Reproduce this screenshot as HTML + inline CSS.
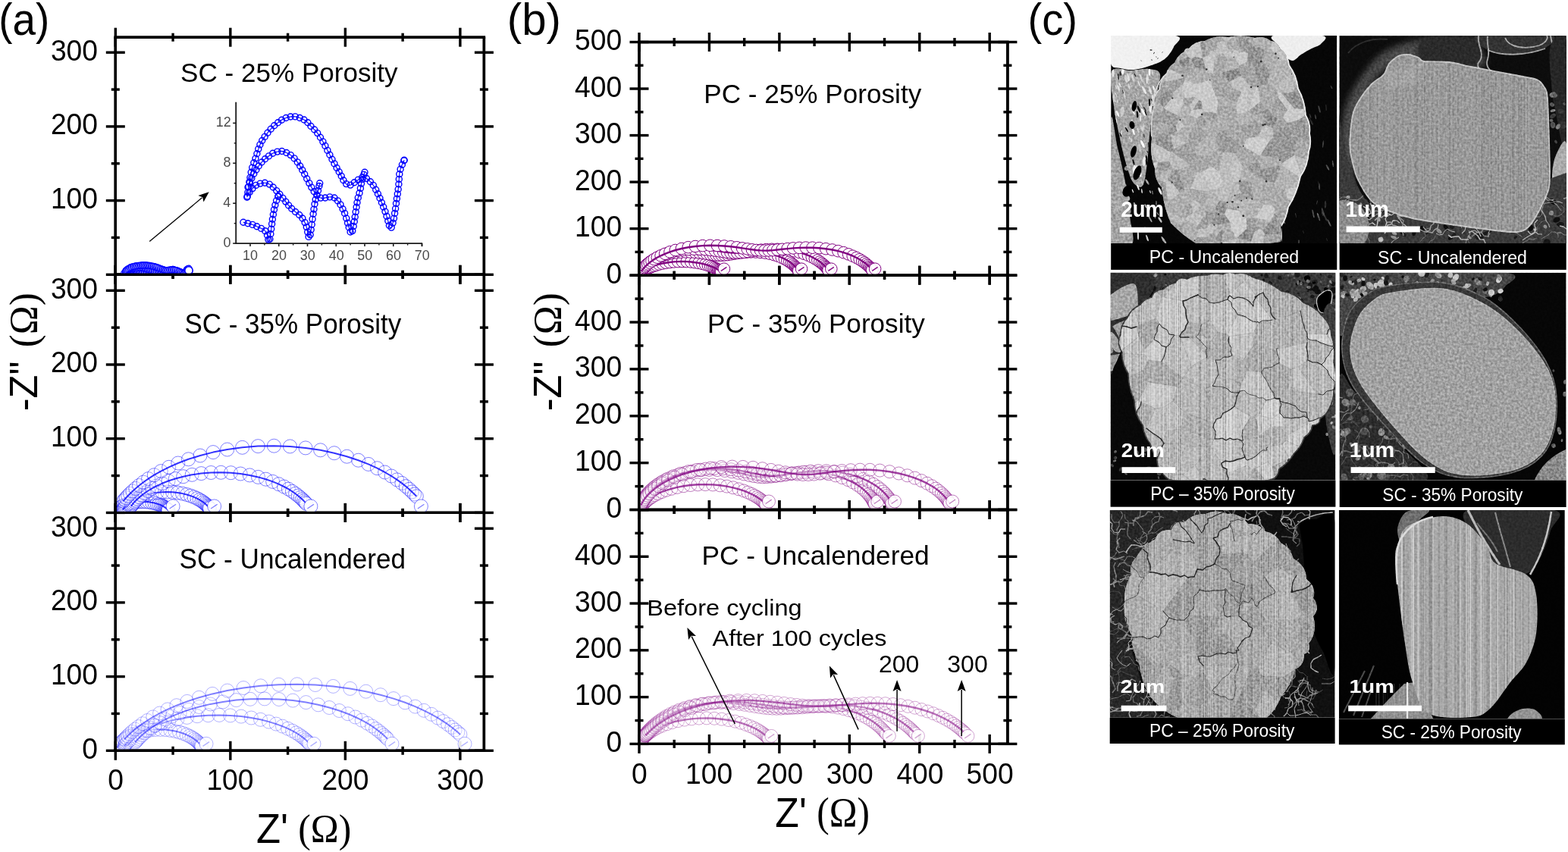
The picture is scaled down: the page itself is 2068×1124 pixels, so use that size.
<!DOCTYPE html><html><head><meta charset="utf-8"><title>Figure</title><style>html,body{margin:0;padding:0;background:#fff;}body{width:2068px;height:1124px;overflow:hidden;}svg{display:block;}</style></head><body>
<svg width="2068" height="1124" viewBox="0 0 2068 1124">
<rect width="100%" height="100%" fill="#fff"/>
<defs><filter id="bl1" x="-2%" y="-2%" width="104%" height="104%"><feGaussianBlur stdDeviation="1.1"/></filter><filter id="bl2" x="-2%" y="-2%" width="104%" height="104%"><feGaussianBlur stdDeviation="0.6"/></filter><filter id="bl3" x="-5%" y="-5%" width="110%" height="110%"><feGaussianBlur stdDeviation="2.2"/></filter><filter id="bl4" x="-10%" y="-10%" width="120%" height="120%"><feGaussianBlur stdDeviation="4"/></filter><filter id="nz" x="0" y="0" width="100%" height="100%" color-interpolation-filters="sRGB"><feTurbulence type="fractalNoise" baseFrequency="0.32" numOctaves="2" seed="3"/><feColorMatrix type="matrix" values="1.3 0 0 0 -0.15  1.3 0 0 0 -0.15  1.3 0 0 0 -0.15  0 0 0 0 1"/></filter></defs>
<clipPath id="c1"><path d="M1465.2,46.9H1763.3V321.0H1465.2Z"/></clipPath>
<g clip-path="url(#c1)"><rect x="1465.2" y="46.9" width="298.0999999999999" height="274.1" fill="#060606"/>
<path d="M1465.0,160.0C1466.5,138.8 1470.8,181.7 1474.0,195.0C1477.2,208.3 1481.3,225.0 1484.0,240.0C1486.7,255.0 1488.5,271.3 1490.0,285.0C1491.5,298.7 1497.2,315.8 1493.0,322.0C1488.8,328.2 1469.7,349.0 1465.0,322.0C1460.3,295.0 1463.5,181.2 1465.0,160.0Z" fill="#a2a2a2"/>
<ellipse cx="1486" cy="261" rx="4.9" ry="3.6" fill="#a9a9a9" transform="rotate(43 1486 261)"/><ellipse cx="1468" cy="284" rx="2.4" ry="1.7" fill="#8e8e8e" transform="rotate(94 1468 284)"/><ellipse cx="1467" cy="276" rx="4.0" ry="3.2" fill="#a2a2a2" transform="rotate(79 1467 276)"/><ellipse cx="1481" cy="246" rx="5.3" ry="4.9" fill="#a7a7a7" transform="rotate(84 1481 246)"/><ellipse cx="1474" cy="275" rx="4.3" ry="3.8" fill="#adadad" transform="rotate(129 1474 275)"/><ellipse cx="1473" cy="226" rx="2.2" ry="2.0" fill="#959595" transform="rotate(59 1473 226)"/><ellipse cx="1474" cy="267" rx="5.5" ry="3.5" fill="#adadad" transform="rotate(130 1474 267)"/><ellipse cx="1486" cy="222" rx="3.2" ry="3.0" fill="#898989" transform="rotate(114 1486 222)"/><ellipse cx="1477" cy="314" rx="4.8" ry="4.3" fill="#a5a5a5" transform="rotate(162 1477 314)"/><ellipse cx="1487" cy="280" rx="5.8" ry="4.0" fill="#898989" transform="rotate(130 1487 280)"/>
<clipPath id="c2"><path d="M1466.0,94.0C1469.8,86.2 1483.8,93.5 1492.0,93.0C1500.2,92.5 1508.7,90.2 1515.0,91.0C1521.3,91.8 1528.5,91.5 1530.0,98.0C1531.5,104.5 1526.2,118.0 1524.0,130.0C1521.8,142.0 1518.8,155.8 1517.0,170.0C1515.2,184.2 1514.7,202.5 1513.0,215.0C1511.3,227.5 1510.2,240.8 1507.0,245.0C1503.8,249.2 1497.8,245.5 1494.0,240.0C1490.2,234.5 1487.0,222.3 1484.0,212.0C1481.0,201.7 1478.5,190.0 1476.0,178.0C1473.5,166.0 1470.7,154.0 1469.0,140.0C1467.3,126.0 1462.2,101.8 1466.0,94.0Z"/></clipPath>
<g clip-path="url(#c2)"><rect x="1465" y="88" width="70" height="165" fill="#a4a4a4"/><g filter="url(#bl2)"><ellipse cx="1476" cy="118" rx="4.5" ry="1.3" fill="#c5c5c5" transform="rotate(89 1476 118)"/><ellipse cx="1517" cy="240" rx="3.2" ry="0.7" fill="#ededed" transform="rotate(72 1517 240)"/><ellipse cx="1471" cy="156" rx="4.0" ry="1.4" fill="#e6e6e6" transform="rotate(70 1471 156)"/><ellipse cx="1513" cy="104" rx="6.3" ry="1.7" fill="#dcdcdc" transform="rotate(93 1513 104)"/><ellipse cx="1525" cy="232" rx="3.3" ry="0.6" fill="#dbdbdb" transform="rotate(67 1525 232)"/><ellipse cx="1523" cy="119" rx="5.8" ry="1.2" fill="#c9c9c9" transform="rotate(61 1523 119)"/><ellipse cx="1474" cy="150" rx="4.4" ry="1.4" fill="#f2f2f2" transform="rotate(66 1474 150)"/><ellipse cx="1490" cy="221" rx="2.5" ry="0.7" fill="#cdcdcd" transform="rotate(80 1490 221)"/><ellipse cx="1480" cy="209" rx="6.2" ry="1.5" fill="#dbdbdb" transform="rotate(91 1480 209)"/><ellipse cx="1469" cy="130" rx="5.4" ry="1.7" fill="#cdcdcd" transform="rotate(90 1469 130)"/><ellipse cx="1502" cy="110" rx="3.7" ry="0.7" fill="#ededed" transform="rotate(72 1502 110)"/><ellipse cx="1509" cy="119" rx="5.8" ry="1.6" fill="#e9e9e9" transform="rotate(62 1509 119)"/><ellipse cx="1468" cy="96" rx="5.4" ry="1.5" fill="#e7e7e7" transform="rotate(90 1468 96)"/><ellipse cx="1508" cy="190" rx="3.2" ry="0.8" fill="#c4c4c4" transform="rotate(77 1508 190)"/><ellipse cx="1483" cy="126" rx="5.2" ry="0.9" fill="#d8d8d8" transform="rotate(78 1483 126)"/><ellipse cx="1498" cy="115" rx="2.5" ry="0.6" fill="#bfbfbf" transform="rotate(77 1498 115)"/><ellipse cx="1490" cy="101" rx="5.7" ry="1.1" fill="#c3c3c3" transform="rotate(93 1490 101)"/><ellipse cx="1516" cy="215" rx="2.4" ry="0.7" fill="#e6e6e6" transform="rotate(91 1516 215)"/><ellipse cx="1517" cy="143" rx="5.3" ry="1.5" fill="#ededed" transform="rotate(87 1517 143)"/><ellipse cx="1503" cy="227" rx="6.4" ry="1.9" fill="#fdfdfd" transform="rotate(76 1503 227)"/><ellipse cx="1499" cy="223" rx="5.5" ry="1.1" fill="#ededed" transform="rotate(93 1499 223)"/><ellipse cx="1471" cy="158" rx="4.5" ry="1.4" fill="#fafafa" transform="rotate(64 1471 158)"/><ellipse cx="1479" cy="175" rx="3.5" ry="0.8" fill="#dfdfdf" transform="rotate(98 1479 175)"/><ellipse cx="1522" cy="155" rx="3.7" ry="1.1" fill="#dfdfdf" transform="rotate(62 1522 155)"/><ellipse cx="1488" cy="102" rx="5.3" ry="1.2" fill="#e5e5e5" transform="rotate(83 1488 102)"/><ellipse cx="1480" cy="147" rx="6.9" ry="2.4" fill="#cdcdcd" transform="rotate(97 1480 147)"/><ellipse cx="1508" cy="148" rx="5.8" ry="1.6" fill="#f6f6f6" transform="rotate(62 1508 148)"/><ellipse cx="1517" cy="210" rx="2.8" ry="0.9" fill="#c4c4c4" transform="rotate(82 1517 210)"/><ellipse cx="1498" cy="125" rx="2.9" ry="0.5" fill="#dedede" transform="rotate(60 1498 125)"/><ellipse cx="1480" cy="134" rx="2.5" ry="0.5" fill="#c4c4c4" transform="rotate(60 1480 134)"/><ellipse cx="1506" cy="240" rx="2.4" ry="0.7" fill="#d1d1d1" transform="rotate(79 1506 240)"/><ellipse cx="1476" cy="104" rx="3.3" ry="0.7" fill="#c2c2c2" transform="rotate(74 1476 104)"/><ellipse cx="1521" cy="136" rx="3.3" ry="0.7" fill="#e3e3e3" transform="rotate(64 1521 136)"/><ellipse cx="1500" cy="103" rx="2.1" ry="0.7" fill="#d5d5d5" transform="rotate(90 1500 103)"/><ellipse cx="1525" cy="222" rx="6.3" ry="1.6" fill="#fbfbfb" transform="rotate(84 1525 222)"/><ellipse cx="1479" cy="213" rx="5.2" ry="1.8" fill="#cccccc" transform="rotate(86 1479 213)"/><ellipse cx="1505" cy="103" rx="5.8" ry="1.3" fill="#d3d3d3" transform="rotate(67 1505 103)"/><ellipse cx="1506" cy="179" rx="2.0" ry="0.6" fill="#e0e0e0" transform="rotate(79 1506 179)"/><ellipse cx="1496" cy="224" rx="6.5" ry="2.1" fill="#f1f1f1" transform="rotate(95 1496 224)"/><ellipse cx="1494" cy="102" rx="4.0" ry="0.9" fill="#f5f5f5" transform="rotate(80 1494 102)"/><ellipse cx="1471" cy="203" rx="2.8" ry="0.9" fill="#e3e3e3" transform="rotate(86 1471 203)"/><ellipse cx="1516" cy="216" rx="4.4" ry="1.0" fill="#d5d5d5" transform="rotate(87 1516 216)"/><ellipse cx="1471" cy="190" rx="3.3" ry="0.9" fill="#cfcfcf" transform="rotate(71 1471 190)"/><ellipse cx="1497" cy="144" rx="2.9" ry="1.0" fill="#dddddd" transform="rotate(61 1497 144)"/><ellipse cx="1509" cy="213" rx="6.3" ry="2.1" fill="#e8e8e8" transform="rotate(94 1509 213)"/><ellipse cx="1517" cy="119" rx="5.6" ry="1.5" fill="#d8d8d8" transform="rotate(70 1517 119)"/><ellipse cx="1516" cy="95" rx="4.8" ry="1.4" fill="#fefefe" transform="rotate(91 1516 95)"/><ellipse cx="1468" cy="154" rx="6.6" ry="1.8" fill="#fcfcfc" transform="rotate(64 1468 154)"/><ellipse cx="1489" cy="114" rx="4.1" ry="1.2" fill="#dbdbdb" transform="rotate(75 1489 114)"/><ellipse cx="1495" cy="148" rx="3.9" ry="1.2" fill="#eeeeee" transform="rotate(66 1495 148)"/><ellipse cx="1476" cy="209" rx="3.2" ry="0.8" fill="#d4d4d4" transform="rotate(75 1476 209)"/><ellipse cx="1503" cy="226" rx="5.0" ry="1.1" fill="#f2f2f2" transform="rotate(67 1503 226)"/><ellipse cx="1499" cy="92" rx="5.8" ry="1.9" fill="#c0c0c0" transform="rotate(79 1499 92)"/><ellipse cx="1507" cy="190" rx="5.5" ry="1.5" fill="#ffffff" transform="rotate(64 1507 190)"/><ellipse cx="1470" cy="150" rx="4.9" ry="1.4" fill="#d4d4d4" transform="rotate(71 1470 150)"/><ellipse cx="1491" cy="141" rx="2.9" ry="0.8" fill="#d9d9d9" transform="rotate(96 1491 141)"/><ellipse cx="1504" cy="156" rx="4.6" ry="1.0" fill="#e1e1e1" transform="rotate(89 1504 156)"/><ellipse cx="1474" cy="134" rx="2.1" ry="0.5" fill="#ececec" transform="rotate(95 1474 134)"/><ellipse cx="1522" cy="117" rx="4.2" ry="1.0" fill="#f8f8f8" transform="rotate(71 1522 117)"/><ellipse cx="1493" cy="162" rx="5.3" ry="1.6" fill="#c6c6c6" transform="rotate(86 1493 162)"/><ellipse cx="1494" cy="103" rx="4.9" ry="1.6" fill="#d2d2d2" transform="rotate(66 1494 103)"/><ellipse cx="1473" cy="111" rx="3.7" ry="0.7" fill="#c5c5c5" transform="rotate(96 1473 111)"/><ellipse cx="1476" cy="203" rx="6.7" ry="2.1" fill="#d3d3d3" transform="rotate(83 1476 203)"/><ellipse cx="1520" cy="128" rx="3.3" ry="0.9" fill="#ececec" transform="rotate(86 1520 128)"/><ellipse cx="1475" cy="116" rx="4.3" ry="1.1" fill="#e1e1e1" transform="rotate(70 1475 116)"/><ellipse cx="1505" cy="139" rx="4.0" ry="0.9" fill="#cecece" transform="rotate(63 1505 139)"/><ellipse cx="1523" cy="120" rx="3.2" ry="1.0" fill="#dfdfdf" transform="rotate(67 1523 120)"/><ellipse cx="1470" cy="132" rx="3.5" ry="0.9" fill="#d1d1d1" transform="rotate(61 1470 132)"/><ellipse cx="1495" cy="174" rx="4.3" ry="1.1" fill="#fdfdfd" transform="rotate(73 1495 174)"/><ellipse cx="1472" cy="115" rx="3.0" ry="0.6" fill="#e0e0e0" transform="rotate(65 1472 115)"/><ellipse cx="1490" cy="182" rx="2.1" ry="0.5" fill="#eaeaea" transform="rotate(71 1490 182)"/><ellipse cx="1527" cy="138" rx="4.4" ry="1.3" fill="#dcdcdc" transform="rotate(74 1527 138)"/><ellipse cx="1526" cy="240" rx="3.2" ry="0.9" fill="#cdcdcd" transform="rotate(94 1526 240)"/><ellipse cx="1506" cy="168" rx="2.5" ry="0.7" fill="#d6d6d6" transform="rotate(64 1506 168)"/><ellipse cx="1506" cy="170" rx="4.7" ry="1.5" fill="#cfcfcf" transform="rotate(63 1506 170)"/><ellipse cx="1509" cy="109" rx="3.3" ry="0.8" fill="#cccccc" transform="rotate(84 1509 109)"/><ellipse cx="1477" cy="112" rx="3.6" ry="0.7" fill="#ebebeb" transform="rotate(65 1477 112)"/><ellipse cx="1485" cy="104" rx="5.1" ry="1.8" fill="#cfcfcf" transform="rotate(76 1485 104)"/><ellipse cx="1469" cy="245" rx="4.6" ry="1.3" fill="#f8f8f8" transform="rotate(82 1469 245)"/><ellipse cx="1481" cy="93" rx="5.2" ry="1.7" fill="#fbfbfb" transform="rotate(96 1481 93)"/><ellipse cx="1503" cy="149" rx="6.7" ry="1.2" fill="#d1d1d1" transform="rotate(61 1503 149)"/><ellipse cx="1503" cy="195" rx="5.2" ry="1.5" fill="#c0c0c0" transform="rotate(85 1503 195)"/><ellipse cx="1508" cy="167" rx="4.8" ry="1.5" fill="#c8c8c8" transform="rotate(90 1508 167)"/><ellipse cx="1520" cy="96" rx="4.0" ry="1.1" fill="#d1d1d1" transform="rotate(81 1520 96)"/><ellipse cx="1472" cy="125" rx="3.9" ry="0.7" fill="#dbdbdb" transform="rotate(67 1472 125)"/><ellipse cx="1501" cy="172" rx="3.8" ry="1.0" fill="#d3d3d3" transform="rotate(71 1501 172)"/><ellipse cx="1515" cy="106" rx="3.2" ry="0.6" fill="#d2d2d2" transform="rotate(81 1515 106)"/><ellipse cx="1492" cy="185" rx="3.0" ry="0.7" fill="#e0e0e0" transform="rotate(98 1492 185)"/><ellipse cx="1530" cy="201" rx="6.7" ry="1.9" fill="#e0e0e0" transform="rotate(77 1530 201)"/><ellipse cx="1518" cy="203" rx="6.4" ry="1.2" fill="#eaeaea" transform="rotate(81 1518 203)"/><ellipse cx="1473" cy="221" rx="4.3" ry="0.7" fill="#141414" transform="rotate(58 1473 221)"/><ellipse cx="1519" cy="132" rx="2.6" ry="0.7" fill="#212121" transform="rotate(57 1519 132)"/><ellipse cx="1528" cy="213" rx="4.9" ry="1.1" fill="#202020" transform="rotate(63 1528 213)"/><ellipse cx="1529" cy="209" rx="1.9" ry="0.4" fill="#1e1e1e" transform="rotate(64 1529 209)"/><ellipse cx="1478" cy="97" rx="3.2" ry="0.7" fill="#161616" transform="rotate(74 1478 97)"/><ellipse cx="1509" cy="179" rx="2.9" ry="0.4" fill="#0a0a0a" transform="rotate(84 1509 179)"/><ellipse cx="1472" cy="213" rx="2.1" ry="0.6" fill="#262626" transform="rotate(70 1472 213)"/><ellipse cx="1529" cy="242" rx="4.3" ry="0.8" fill="#151515" transform="rotate(84 1529 242)"/><ellipse cx="1511" cy="149" rx="3.5" ry="0.8" fill="#101010" transform="rotate(71 1511 149)"/><ellipse cx="1510" cy="144" rx="3.2" ry="0.7" fill="#1d1d1d" transform="rotate(63 1510 144)"/><ellipse cx="1512" cy="208" rx="3.3" ry="0.9" fill="#050505" transform="rotate(78 1512 208)"/><ellipse cx="1481" cy="212" rx="3.6" ry="1.0" fill="#212121" transform="rotate(57 1481 212)"/><ellipse cx="1497" cy="99" rx="2.8" ry="0.7" fill="#212121" transform="rotate(68 1497 99)"/><ellipse cx="1502" cy="144" rx="5.0" ry="1.5" fill="#171717" transform="rotate(68 1502 144)"/><ellipse cx="1478" cy="178" rx="3.4" ry="0.7" fill="#080808" transform="rotate(67 1478 178)"/><ellipse cx="1466" cy="197" rx="3.5" ry="0.8" fill="#111111" transform="rotate(67 1466 197)"/><ellipse cx="1515" cy="203" rx="4.6" ry="0.8" fill="#232323" transform="rotate(59 1515 203)"/><ellipse cx="1500" cy="151" rx="4.4" ry="1.2" fill="#090909" transform="rotate(84 1500 151)"/><ellipse cx="1492" cy="234" rx="1.6" ry="0.4" fill="#1f1f1f" transform="rotate(90 1492 234)"/><ellipse cx="1512" cy="217" rx="1.9" ry="0.4" fill="#181818" transform="rotate(67 1512 217)"/><ellipse cx="1495" cy="214" rx="3.8" ry="1.1" fill="#0c0c0c" transform="rotate(75 1495 214)"/><ellipse cx="1477" cy="98" rx="2.9" ry="0.6" fill="#212121" transform="rotate(90 1477 98)"/><ellipse cx="1516" cy="134" rx="3.1" ry="0.7" fill="#0b0b0b" transform="rotate(88 1516 134)"/><ellipse cx="1521" cy="144" rx="4.3" ry="1.1" fill="#101010" transform="rotate(79 1521 144)"/><ellipse cx="1475" cy="101" rx="4.3" ry="0.7" fill="#0c0c0c" transform="rotate(82 1475 101)"/><ellipse cx="1516" cy="135" rx="5.0" ry="1.0" fill="#0c0c0c" transform="rotate(87 1516 135)"/><ellipse cx="1486" cy="171" rx="3.8" ry="0.8" fill="#040404" transform="rotate(60 1486 171)"/><ellipse cx="1515" cy="191" rx="3.4" ry="0.7" fill="#030303" transform="rotate(87 1515 191)"/><ellipse cx="1481" cy="121" rx="2.5" ry="0.5" fill="#141414" transform="rotate(77 1481 121)"/><ellipse cx="1512" cy="214" rx="3.9" ry="1.1" fill="#111111" transform="rotate(84 1512 214)"/></g></g>
<g fill="#050505" filter="url(#bl2)"><ellipse cx="1496" cy="140" rx="3" ry="7" transform="rotate(10 1496 140)"/><ellipse cx="1493" cy="165" rx="3.5" ry="5" transform="rotate(-10 1493 165)"/><ellipse cx="1495" cy="200" rx="3.5" ry="8" transform="rotate(15 1495 200)"/><ellipse cx="1500" cy="228" rx="4.5" ry="10" transform="rotate(20 1500 228)"/><ellipse cx="1487" cy="252" rx="6" ry="8" transform="rotate(30 1487 252)"/></g>
<g filter="url(#bl2)"><ellipse cx="1494" cy="252" rx="2.6" ry="0.7" fill="#f0f0f0" transform="rotate(68 1494 252)"/><ellipse cx="1517" cy="253" rx="2.2" ry="0.7" fill="#cdcdcd" transform="rotate(70 1517 253)"/><ellipse cx="1506" cy="252" rx="3.1" ry="0.9" fill="#dedede" transform="rotate(83 1506 252)"/><ellipse cx="1501" cy="311" rx="5.4" ry="1.1" fill="#dadada" transform="rotate(89 1501 311)"/><ellipse cx="1501" cy="247" rx="4.0" ry="1.1" fill="#eeeeee" transform="rotate(70 1501 247)"/><ellipse cx="1530" cy="252" rx="5.2" ry="1.5" fill="#f0f0f0" transform="rotate(65 1530 252)"/><ellipse cx="1535" cy="317" rx="5.9" ry="1.4" fill="#b2b2b2" transform="rotate(56 1535 317)"/><ellipse cx="1497" cy="272" rx="5.2" ry="1.4" fill="#a8a8a8" transform="rotate(73 1497 272)"/><ellipse cx="1507" cy="277" rx="2.1" ry="0.7" fill="#d5d5d5" transform="rotate(54 1507 277)"/><ellipse cx="1511" cy="303" rx="3.7" ry="1.0" fill="#aeaeae" transform="rotate(73 1511 303)"/><ellipse cx="1527" cy="282" rx="2.6" ry="0.5" fill="#adadad" transform="rotate(55 1527 282)"/><ellipse cx="1516" cy="274" rx="3.7" ry="0.7" fill="#bfbfbf" transform="rotate(90 1516 274)"/><ellipse cx="1513" cy="240" rx="4.3" ry="1.2" fill="#a1a1a1" transform="rotate(57 1513 240)"/><ellipse cx="1513" cy="314" rx="4.4" ry="1.1" fill="#cccccc" transform="rotate(70 1513 314)"/><ellipse cx="1511" cy="272" rx="2.9" ry="0.9" fill="#c0c0c0" transform="rotate(66 1511 272)"/><ellipse cx="1517" cy="289" rx="4.7" ry="1.0" fill="#a4a4a4" transform="rotate(61 1517 289)"/><ellipse cx="1541" cy="273" rx="5.1" ry="1.6" fill="#969696" transform="rotate(79 1541 273)"/><ellipse cx="1530" cy="290" rx="4.2" ry="1.3" fill="#c6c6c6" transform="rotate(58 1530 290)"/><ellipse cx="1520" cy="254" rx="2.5" ry="0.6" fill="#a4a4a4" transform="rotate(83 1520 254)"/><ellipse cx="1523" cy="286" rx="2.4" ry="0.5" fill="#b7b7b7" transform="rotate(62 1523 286)"/><ellipse cx="1525" cy="268" rx="3.2" ry="0.6" fill="#999999" transform="rotate(89 1525 268)"/><ellipse cx="1534" cy="317" rx="2.0" ry="0.5" fill="#bbbbbb" transform="rotate(67 1534 317)"/></g>
<path d="M1518,150 C1520,120 1530,100 1548,90" fill="none" stroke="#d8d8d8" stroke-width="1.5"/>
<path d="M1465.0,47.0C1479.2,40.8 1536.2,44.5 1550.0,47.0C1563.8,49.5 1550.3,56.8 1548.0,62.0C1545.7,67.2 1541.3,73.8 1536.0,78.0C1530.7,82.2 1522.8,84.7 1516.0,87.0C1509.2,89.3 1501.3,91.5 1495.0,92.0C1488.7,92.5 1483.0,91.3 1478.0,90.0C1473.0,88.7 1467.2,91.2 1465.0,84.0C1462.8,76.8 1450.8,53.2 1465.0,47.0Z" fill="#f1f1f1"/>
<ellipse cx="1525" cy="75" rx="1.1" ry="0.4" fill="#5d5d5d" transform="rotate(68 1525 75)"/><ellipse cx="1518" cy="66" rx="1.7" ry="0.9" fill="#4e4e4e" transform="rotate(12 1518 66)"/><ellipse cx="1519" cy="79" rx="1.1" ry="0.5" fill="#3b3b3b" transform="rotate(66 1519 79)"/><ellipse cx="1522" cy="70" rx="1.6" ry="0.6" fill="#2c2c2c" transform="rotate(126 1522 70)"/><ellipse cx="1533" cy="69" rx="1.1" ry="0.5" fill="#626262" transform="rotate(129 1533 69)"/><ellipse cx="1527" cy="77" rx="1.3" ry="0.5" fill="#484848" transform="rotate(126 1527 77)"/><ellipse cx="1505" cy="80" rx="1.0" ry="0.3" fill="#444444" transform="rotate(45 1505 80)"/>
<path d="M1680.0,47.0C1689.7,44.8 1733.7,45.2 1744.0,47.0C1754.3,48.8 1744.3,55.2 1742.0,58.0C1739.7,60.8 1734.3,61.7 1730.0,64.0C1725.7,66.3 1720.2,69.3 1716.0,72.0C1711.8,74.7 1708.5,79.7 1705.0,80.0C1701.5,80.3 1698.2,77.3 1695.0,74.0C1691.8,70.7 1688.5,64.5 1686.0,60.0C1683.5,55.5 1670.3,49.2 1680.0,47.0Z" fill="#eeeeee"/>
<g filter="url(#bl2)"><ellipse cx="1750" cy="316" rx="2.4" ry="0.5" fill="#2d2d2d" transform="rotate(76 1750 316)"/><ellipse cx="1758" cy="216" rx="4.4" ry="0.9" fill="#484848" transform="rotate(82 1758 216)"/><ellipse cx="1735" cy="154" rx="3.3" ry="0.8" fill="#3c3c3c" transform="rotate(78 1735 154)"/><ellipse cx="1748" cy="270" rx="4.9" ry="1.2" fill="#363636" transform="rotate(92 1748 270)"/><ellipse cx="1740" cy="144" rx="4.9" ry="1.0" fill="#434343" transform="rotate(75 1740 144)"/><ellipse cx="1740" cy="246" rx="4.4" ry="1.0" fill="#434343" transform="rotate(86 1740 246)"/><ellipse cx="1739" cy="242" rx="2.9" ry="0.5" fill="#2b2b2b" transform="rotate(82 1739 242)"/><ellipse cx="1748" cy="287" rx="5.4" ry="1.1" fill="#303030" transform="rotate(66 1748 287)"/><ellipse cx="1751" cy="221" rx="4.2" ry="1.1" fill="#4f4f4f" transform="rotate(61 1751 221)"/><ellipse cx="1745" cy="190" rx="4.9" ry="0.9" fill="#424242" transform="rotate(97 1745 190)"/><ellipse cx="1756" cy="115" rx="2.6" ry="0.7" fill="#484848" transform="rotate(64 1756 115)"/><ellipse cx="1728" cy="153" rx="3.1" ry="0.9" fill="#2e2e2e" transform="rotate(72 1728 153)"/><ellipse cx="1729" cy="160" rx="5.5" ry="1.3" fill="#272727" transform="rotate(61 1729 160)"/><ellipse cx="1737" cy="267" rx="2.8" ry="0.4" fill="#535353" transform="rotate(100 1737 267)"/><ellipse cx="1749" cy="142" rx="4.3" ry="0.8" fill="#252525" transform="rotate(86 1749 142)"/><ellipse cx="1753" cy="294" rx="5.2" ry="1.0" fill="#535353" transform="rotate(63 1753 294)"/><ellipse cx="1744" cy="277" rx="2.5" ry="0.5" fill="#3a3a3a" transform="rotate(89 1744 277)"/><ellipse cx="1709" cy="284" rx="3.3" ry="0.5" fill="#363636" transform="rotate(75 1709 284)"/><ellipse cx="1744" cy="282" rx="3.2" ry="0.5" fill="#4a4a4a" transform="rotate(79 1744 282)"/><ellipse cx="1719" cy="306" rx="2.2" ry="0.4" fill="#383838" transform="rotate(67 1719 306)"/><ellipse cx="1696" cy="275" rx="4.8" ry="1.0" fill="#3a3a3a" transform="rotate(85 1696 275)"/><ellipse cx="1713" cy="319" rx="2.8" ry="0.6" fill="#676767" transform="rotate(90 1713 319)"/><ellipse cx="1739" cy="286" rx="5.6" ry="1.1" fill="#5b5b5b" transform="rotate(72 1739 286)"/><ellipse cx="1732" cy="282" rx="5.5" ry="0.9" fill="#636363" transform="rotate(78 1732 282)"/><ellipse cx="1693" cy="292" rx="3.9" ry="1.0" fill="#666666" transform="rotate(60 1693 292)"/><ellipse cx="1745" cy="280" rx="5.9" ry="1.2" fill="#4a4a4a" transform="rotate(73 1745 280)"/></g>
<clipPath id="c3"><path d="M1568,64Q1576,54 1589,54Q1603,46 1620,49Q1638,45 1655,50Q1667,47 1676,54Q1684,54 1688,64Q1698,70 1700,86Q1710,99 1712,117Q1721,133 1722,152Q1729,164 1727,176Q1730,189 1726,200Q1725,219 1715,233Q1710,257 1699,273Q1696,290 1689,299Q1691,314 1689,319Q1639,326 1588,327Q1564,315 1544,294Q1535,274 1532,247Q1523,238 1523,222Q1516,204 1519,183Q1517,161 1522,140Q1520,127 1529,118Q1530,105 1539,97Q1541,87 1549,83Q1553,73 1562,68Q1563,63 1568,64Z"/></clipPath>
<g clip-path="url(#c3)"><rect x="1510" y="42" width="227" height="285" fill="#acacac"/><g filter="url(#bl2)"><path d="M1629,263 1629,258 1636,254 1644,261 1637,265Z" fill="#a3a3a3"/><path d="M1626,75 1618,77 1612,70 1616,59 1625,70Z" fill="#c1c1c1"/><path d="M1650,319 1631,314 1631,314 1644,302 1655,305Z" fill="#8e8e8e"/><path d="M1678,271 1667,270 1659,264 1670,239 1682,241 1687,249Z" fill="#acacac"/><path d="M1614,95 1633,90 1637,100 1621,108 1612,96Z" fill="#8c8c8c"/><path d="M1533,110 1521,121 1526,131 1537,119Z" fill="#a6a6a6"/><path d="M1646,70 1645,81 1635,87 1627,75 1635,70 1640,68Z" fill="#c8c8c8"/><path d="M1719,64 1719,102 1755,93 1719,64Z" fill="#8c8c8c"/><path d="M1720,242 1741,252 1745,238 1742,235 1722,234 1719,238 1719,240Z" fill="#909090"/><path d="M1636,166 1630,158 1614,173 1638,194 1640,193 1644,183 1644,181Z" fill="#a9a9a9"/><path d="M1637,265 1644,261 1651,263 1640,285 1638,285 1634,278 1633,274 1633,273Z" fill="#b9b9b9"/><path d="M1527,299 1529,318 1539,294 1534,287Z" fill="#a8a8a8"/><path d="M1710,185 1707,205 1691,215 1688,211 1692,186 1705,183Z" fill="#979797"/><path d="M1547,318 1562,327 1564,325 1573,317 1560,310Z" fill="#a0a0a0"/><path d="M1524,96 1520,95 1515,99 1514,106 1516,108 1525,102 1525,98Z" fill="#a1a1a1"/><path d="M1544,178 1554,180 1553,176 1552,173 1543,177Z" fill="#a6a6a6"/><path d="M1546,221 1547,222 1555,224 1571,218 1545,200 1544,201 1542,213Z" fill="#bbbbbb"/><path d="M1603,301 1610,304 1606,310 1603,311 1600,307Z" fill="#b7b7b7"/><path d="M1705,121 1716,103 1703,98 1680,113 1685,121 1689,122 1700,123Z" fill="#bababa"/><path d="M1496,253 1511,258 1517,269 1509,272 1493,254Z" fill="#bbbbbb"/><path d="M1526,18 1533,57 1548,35 1525,4Z" fill="#bababa"/><path d="M1629,263 1629,258 1622,254 1619,267 1626,266 1629,263Z" fill="#afafaf"/><path d="M1573,145 1581,132 1585,134 1586,144Z" fill="#919191"/><path d="M1660,331 1657,341 1635,332 1630,329 1631,315 1631,314 1650,319Z" fill="#b0b0b0"/><path d="M1719,144 1721,147 1733,142 1739,122 1724,123 1720,132Z" fill="#c7c7c7"/><path d="M1702,304 1705,304 1706,319 1690,335 1683,327 1689,310Z" fill="#969696"/><path d="M1629,263 1626,266 1631,273 1633,274 1633,273Z" fill="#b9b9b9"/><path d="M1655,288 1644,288 1640,285 1651,263 1653,262 1659,264 1667,270 1655,288Z" fill="#b3b3b3"/><path d="M1552,173 1551,165 1556,158 1561,166 1553,176Z" fill="#c5c5c5"/><path d="M1637,121 1646,117 1645,147 1633,151 1630,143 1631,136Z" fill="#c7c7c7"/><path d="M1610,126 1604,127 1607,136 1630,143 1631,136Z" fill="#afafaf"/><path d="M1595,308 1593,313 1578,313 1581,302 1590,302Z" fill="#bfbfbf"/><path d="M1698,81 1703,98 1680,113 1672,111 1675,93 1686,77Z" fill="#b3b3b3"/><path d="M1533,60 1533,57 1548,35 1556,37 1538,57Z" fill="#919191"/><path d="M1638,43 1616,-27 1652,-366 1665,-35 1659,-6 1645,37Z" fill="#c7c7c7"/><path d="M1528,177 1522,189 1544,201 1545,200 1549,196 1546,189Z" fill="#949494"/><path d="M1602,160 1607,175 1614,173 1630,158 1630,157 1605,152Z" fill="#aeaeae"/><path d="M1675,293 1688,309 1689,310 1702,304 1681,281 1676,291Z" fill="#9b9b9b"/><path d="M1598,161 1585,151 1587,147 1604,149 1605,152 1602,160Z" fill="#9d9d9d"/><path d="M1647,146 1657,114 1659,114 1662,134Z" fill="#cccccc"/><path d="M1700,123 1689,122 1707,143 1708,143Z" fill="#959595"/><path d="M1631,314 1631,315 1611,321 1611,313 1616,304 1623,301 1631,314Z" fill="#ababab"/><path d="M1507,201 1494,203 1502,186 1509,184 1520,190 1520,190Z" fill="#c6c6c6"/><path d="M1569,250 1562,250 1556,254 1552,258 1567,270 1571,267 1574,264Z" fill="#b1b1b1"/><path d="M1652,43 1645,37 1659,-6 1659,45 1659,45Z" fill="#c0c0c0"/><path d="M1560,91 1560,100 1541,90 1539,86 1540,72 1554,80Z" fill="#a7a7a7"/><path d="M1660,212 1644,221 1639,219 1631,208 1630,202 1638,194 1640,193 1661,205Z" fill="#a9a9a9"/><path d="M1568,54 1538,57 1533,60 1533,60 1540,71 1564,69Z" fill="#c2c2c2"/><path d="M1604,149 1607,136 1604,127 1603,126 1585,134 1586,144 1587,147Z" fill="#c9c9c9"/><path d="M1502,82 1512,84 1516,79 1523,66 1474,74Z" fill="#a1a1a1"/><path d="M1733,142 1748,140 1742,157 1732,161 1731,160 1722,150 1721,147Z" fill="#989898"/><path d="M1510,141 1478,154 1460,149 1498,130 1514,137Z" fill="#a7a7a7"/><path d="M1717,103 1719,102 1755,93 1760,94 1783,101 1739,122 1724,123Z" fill="#9e9e9e"/><path d="M1548,262 1540,264 1537,266 1534,272 1534,276 1563,290 1563,290 1565,286 1563,279Z" fill="#afafaf"/><path d="M1574,195 1593,179 1603,181 1608,199 1596,204 1578,205Z" fill="#b4b4b4"/><path d="M1543,177 1540,175 1548,166 1551,165 1552,173Z" fill="#8f8f8f"/><path d="M1631,208 1621,227 1626,240 1633,240 1635,239 1639,219Z" fill="#c4c4c4"/><path d="M1573,218 1579,227 1583,228 1598,220 1596,204 1578,205Z" fill="#a7a7a7"/><path d="M1474,74 1523,66 1527,61 1505,51 -236,-303 1435,69Z" fill="#cbcbcb"/><path d="M1598,294 1598,291 1590,286 1587,286 1579,298 1581,302 1590,302Z" fill="#a1a1a1"/><path d="M1570,249 1579,227 1573,218 1571,218 1555,224 1556,232 1562,250 1569,250Z" fill="#aaaaaa"/><path d="M1576,128 1576,129 1581,132 1585,134 1603,126 1596,105 1578,111Z" fill="#cacaca"/><path d="M1563,129 1560,131 1546,129 1547,122 1547,122 1560,111Z" fill="#bdbdbd"/><path d="M1515,117 1509,118 1501,107 1504,100 1514,106 1516,108Z" fill="#a7a7a7"/><path d="M1603,274 1609,264 1618,267 1619,274 1618,275 1615,283 1607,282 1606,280Z" fill="#949494"/><path d="M1680,28 1677,40 1678,55 1691,52 1697,40Z" fill="#a9a9a9"/><path d="M1603,311 1606,310 1611,313 1611,321 1610,322 1603,314Z" fill="#959595"/><path d="M1513,232 1514,238 1525,241 1530,238 1530,229 1529,228Z" fill="#aeaeae"/><path d="M1719,64 1755,93 1760,94 1743,57 1730,53 1719,59Z" fill="#b6b6b6"/><path d="M1508,221 1507,218 1510,213 1521,204 1526,213Z" fill="#a6a6a6"/><path d="M1707,143 1698,145 1686,129 1685,121 1689,122Z" fill="#c9c9c9"/><path d="M1706,169 1702,174 1705,183 1710,185 1713,184 1715,163Z" fill="#9d9d9d"/><path d="M1660,331 1650,319 1655,305 1661,302 1665,303 1668,309 1665,328Z" fill="#c0c0c0"/><path d="M1521,121 1526,131 1526,133 1515,137 1514,137 1498,130 1505,121 1509,118 1515,117Z" fill="#9f9f9f"/><path d="M1713,184 1720,184 1729,189 1728,212 1707,205 1707,205 1710,185Z" fill="#a9a9a9"/><path d="M1599,98 1600,97 1612,96 1621,108 1626,117 1610,126 1604,127 1603,126 1596,105Z" fill="#a7a7a7"/><path d="M1560,91 1571,78 1567,75 1554,80Z" fill="#8d8d8d"/><path d="M1603,274 1591,270 1590,279 1606,280Z" fill="#adadad"/><path d="M1679,181 1692,186 1705,183 1702,174 1697,167 1680,175Z" fill="#979797"/><path d="M1718,155 1722,150 1731,160 1720,184 1713,184 1715,163Z" fill="#9c9c9c"/><path d="M1668,164 1678,169 1680,175 1679,181 1675,185 1675,185 1660,180 1666,165Z" fill="#bfbfbf"/><path d="M1541,90 1539,86 1528,90 1524,96 1525,98 1537,98Z" fill="#c2c2c2"/><path d="M1636,48 1647,70 1646,70 1640,68 1628,50 1628,50 1629,48 1634,47Z" fill="#9a9a9a"/><path d="M1570,249 1579,227 1583,228 1595,237 1600,249 1594,253Z" fill="#c4c4c4"/><path d="M1631,314 1623,301 1623,294 1638,285 1640,285 1644,288 1644,302Z" fill="#cccccc"/><path d="M1659,264 1670,239 1660,233 1657,234 1650,240 1653,262Z" fill="#b0b0b0"/><path d="M1544,178 1546,189 1549,196 1565,189 1554,180Z" fill="#bfbfbf"/><path d="M1548,262 1563,279 1567,270 1552,258Z" fill="#acacac"/><path d="M1547,222 1555,224 1556,232 1546,241 1540,238Z" fill="#9b9b9b"/><path d="M1592,163 1598,161 1585,151 1585,152Z" fill="#b6b6b6"/><path d="M1584,269 1576,280 1587,286 1590,286 1590,279 1591,270 1589,268Z" fill="#b2b2b2"/><path d="M1741,271 1725,279 1725,296 1744,274 1741,271Z" fill="#cbcbcb"/><path d="M1510,213 1507,201 1520,190 1521,204Z" fill="#bcbcbc"/><path d="M1570,249 1594,253 1589,268 1584,269 1574,264 1569,250Z" fill="#a8a8a8"/><path d="M1589,327 1611,348 1573,688 1564,448 1571,364 1575,348 1581,328Z" fill="#acacac"/><path d="M1601,297 1623,294 1623,294 1623,301 1616,304 1610,304 1603,301Z" fill="#afafaf"/><path d="M1565,189 1566,189 1574,195 1578,205 1573,218 1571,218 1545,200 1549,196Z" fill="#a1a1a1"/><path d="M1606,280 1607,282 1598,291 1590,286 1590,279Z" fill="#9b9b9b"/><path d="M1628,50 1616,55 1614,54 1602,31 1612,7 1629,48Z" fill="#bdbdbd"/><path d="M1510,227 1509,226 1508,221 1526,213 1527,214 1526,221Z" fill="#cacaca"/><path d="M1568,54 1538,57 1556,37 1565,34 1569,54Z" fill="#c9c9c9"/><path d="M1571,267 1567,270 1563,279 1565,286 1573,281Z" fill="#a0a0a0"/><path d="M1680,175 1697,167 1697,162 1692,155 1685,156 1678,169Z" fill="#a3a3a3"/><path d="M1508,95 1503,99 1501,98 1502,82 1512,84 1512,85Z" fill="#9a9a9a"/><path d="M1548,262 1540,264 1537,241 1540,238 1546,241 1556,254 1552,258Z" fill="#c4c4c4"/><path d="M1589,327 1611,348 1612,345 1608,326 1595,323Z" fill="#bababa"/><path d="M1739,262 1742,252 1741,252 1720,242 1725,261 1727,264Z" fill="#8c8c8c"/><path d="M1646,70 1645,81 1653,87 1663,81 1669,65 1661,62 1656,63 1647,70Z" fill="#939393"/><path d="M1540,108 1547,122 1547,122 1537,119 1533,110 1533,109 1537,107Z" fill="#a5a5a5"/><path d="M1628,50 1629,65 1625,70 1616,59 1616,55 1628,50Z" fill="#adadad"/><path d="M1609,225 1621,227 1626,240 1618,246 1613,246Z" fill="#bdbdbd"/><path d="M1525,241 1525,244 1518,252 1511,243 1514,238Z" fill="#a3a3a3"/><path d="M1537,98 1525,98 1525,102 1533,109 1537,107Z" fill="#b5b5b5"/><path d="M1636,48 1648,55 1656,63 1647,70Z" fill="#959595"/><path d="M1668,164 1666,165 1657,162 1656,158 1656,153 1664,149 1669,161Z" fill="#afafaf"/><path d="M1563,129 1560,131 1561,137 1569,140 1576,129 1576,128Z" fill="#a2a2a2"/><path d="M1511,149 1513,148 1532,148 1528,158 1505,154Z" fill="#a1a1a1"/><path d="M1580,168 1569,176 1561,166 1556,158 1557,156 1569,152 1578,156Z" fill="#b0b0b0"/><path d="M1505,154 1493,158 1503,166 1527,166 1528,161 1528,158Z" fill="#9d9d9d"/><path d="M1668,309 1688,309 1675,293 1665,303Z" fill="#8f8f8f"/><path d="M1593,313 1578,313 1576,317 1581,328 1589,327 1595,323 1596,317Z" fill="#a0a0a0"/><path d="M1710,159 1706,169 1715,163 1718,155Z" fill="#919191"/><path d="M1639,219 1635,239 1650,240 1657,234 1644,221Z" fill="#b1b1b1"/><path d="M1741,271 1725,279 1724,275 1727,269Z" fill="#b2b2b2"/><path d="M1662,134 1668,144 1674,145 1678,141 1686,129 1685,121 1680,113 1672,111 1660,113 1659,114Z" fill="#ababab"/><path d="M1595,308 1593,313 1596,317 1603,314 1603,311 1600,307Z" fill="#a3a3a3"/><path d="M1718,57 1714,47 1710,42 1697,40 1691,52 1700,57Z" fill="#c3c3c3"/><path d="M1656,158 1636,166 1630,158 1630,157 1633,151 1645,147 1646,147 1656,153Z" fill="#b5b5b5"/><path d="M1709,269 1713,269 1724,275 1725,279 1725,296 1724,299 1714,300 1704,276Z" fill="#9d9d9d"/><path d="M1744,169 1770,169 1793,165 1742,157 1732,161 1738,168Z" fill="#9b9b9b"/><path d="M1676,291 1681,281 1681,275 1680,273 1678,271 1667,270 1655,288Z" fill="#cbcbcb"/><path d="M1618,267 1619,274 1631,273 1626,266 1619,267Z" fill="#b5b5b5"/><path d="M1511,149 1510,141 1478,154 1493,158 1505,154Z" fill="#c9c9c9"/><path d="M1501,287 1509,272 1517,269 1534,272 1534,276 1533,277 1525,282Z" fill="#cbcbcb"/><path d="M1598,294 1590,302 1595,308 1600,307 1603,301 1601,297Z" fill="#c1c1c1"/><path d="M1638,194 1614,173 1607,175 1603,181 1608,199 1613,201 1630,202Z" fill="#9c9c9c"/><path d="M1513,232 1514,238 1511,243 1496,253 1493,254 1451,252 1509,226 1510,227Z" fill="#cccccc"/><path d="M1606,225 1598,220 1583,228 1595,237Z" fill="#cbcbcb"/><path d="M1580,168 1578,156 1585,152 1592,163 1584,169Z" fill="#a1a1a1"/><path d="M1680,273 1678,271 1687,249 1695,249 1699,264Z" fill="#ababab"/><path d="M1644,261 1651,263 1653,262 1650,240 1635,239 1633,240 1636,254Z" fill="#9b9b9b"/><path d="M1680,28 1665,-35 1659,-6 1659,45 1677,40Z" fill="#c9c9c9"/><path d="M1636,48 1648,55 1652,43 1645,37 1638,43 1634,47Z" fill="#9f9f9f"/><path d="M1636,254 1633,240 1626,240 1618,246 1622,254 1629,258Z" fill="#bababa"/><path d="M1616,304 1611,313 1606,310 1610,304Z" fill="#939393"/><path d="M1618,275 1615,283 1623,294 1623,294 1638,285 1634,278Z" fill="#cccccc"/><path d="M1534,282 1555,296 1560,295 1563,290 1534,276 1533,277Z" fill="#b9b9b9"/><path d="M1653,87 1660,113 1672,111 1675,93 1663,81Z" fill="#969696"/><path d="M1581,328 1575,348 1564,325 1573,317 1576,317Z" fill="#a2a2a2"/><path d="M1530,259 1519,254 1511,258 1517,269 1534,272 1537,266Z" fill="#c6c6c6"/><path d="M1709,267 1710,247 1719,240 1720,242 1725,261 1713,269 1709,269Z" fill="#979797"/><path d="M1619,274 1618,275 1634,278 1633,274 1631,273Z" fill="#a4a4a4"/><path d="M1710,159 1697,162 1697,167 1702,174 1706,169Z" fill="#9e9e9e"/><path d="M1708,143 1707,143 1698,145 1696,148 1692,155 1697,162 1710,159 1718,155 1722,150 1721,147 1719,144Z" fill="#cbcbcb"/><path d="M1533,60 1533,57 1526,18 1505,51 1527,61 1533,60Z" fill="#c3c3c3"/><path d="M1744,169 1745,181 1736,187 1736,187 1738,168Z" fill="#a5a5a5"/><path d="M1719,64 1719,102 1717,103 1716,103 1703,98 1698,81Z" fill="#acacac"/><path d="M1542,319 1538,322 1529,320 1529,318 1539,294 1544,298Z" fill="#b3b3b3"/><path d="M1537,119 1526,131 1526,133 1535,142 1546,129 1547,122Z" fill="#949494"/><path d="M1627,75 1626,75 1618,77 1614,95 1633,90 1635,87Z" fill="#b1b1b1"/><path d="M1660,233 1670,239 1682,241 1690,218 1663,223Z" fill="#979797"/><path d="M1580,168 1569,176 1566,189 1574,195 1593,179 1584,169Z" fill="#a3a3a3"/><path d="M1596,66 1603,69 1606,72 1602,81 1594,73Z" fill="#c2c2c2"/><path d="M1586,77 1586,77 1583,56 1581,56 1576,75Z" fill="#c4c4c4"/><path d="M1596,317 1595,323 1608,326 1610,322 1603,314Z" fill="#a5a5a5"/><path d="M1659,45 1659,45 1677,40 1678,55 1675,64 1669,65 1661,62Z" fill="#b1b1b1"/><path d="M1598,294 1598,291 1607,282 1615,283 1623,294 1601,297Z" fill="#929292"/><path d="M1605,152 1630,157 1633,151 1630,143 1607,136 1604,149Z" fill="#a9a9a9"/><path d="M1561,137 1554,153 1535,143 1535,142 1546,129 1560,131Z" fill="#c8c8c8"/><path d="M1525,244 1518,252 1519,254 1530,259Z" fill="#b7b7b7"/><path d="M1532,148 1535,143 1554,153 1557,156 1556,158 1551,165 1548,166 1528,161 1528,158Z" fill="#9d9d9d"/><path d="M1618,267 1609,264 1602,250 1613,246 1618,246 1622,254 1619,267Z" fill="#bebebe"/><path d="M1527,214 1526,213 1521,204 1520,190 1520,190 1522,189 1544,201 1542,213Z" fill="#c3c3c3"/><path d="M1560,100 1541,90 1537,98 1537,107 1540,108 1561,103Z" fill="#c2c2c2"/><path d="M1660,212 1663,223 1660,233 1657,234 1644,221Z" fill="#9c9c9c"/><path d="M1634,47 1638,43 1616,-27 1612,7 1629,48Z" fill="#8d8d8d"/><path d="M1681,275 1681,281 1702,304 1705,304 1714,300 1704,276Z" fill="#a7a7a7"/><path d="M1675,185 1685,209 1662,205 1675,185Z" fill="#979797"/><path d="M1591,92 1599,98 1600,97 1602,81 1594,73 1589,75 1586,77 1586,77Z" fill="#c8c8c8"/><path d="M1696,148 1678,141 1686,129 1698,145Z" fill="#9e9e9e"/><path d="M1727,269 1724,275 1713,269 1725,261 1727,264Z" fill="#adadad"/><path d="M1560,295 1560,310 1547,318 1542,319 1544,298 1555,296Z" fill="#a5a5a5"/><path d="M1584,169 1593,179 1603,181 1607,175 1602,160 1598,161 1592,163Z" fill="#afafaf"/><path d="M1576,280 1587,286 1579,298 1563,290 1565,286 1573,281Z" fill="#bfbfbf"/><path d="M1709,267 1710,247 1695,249 1699,264Z" fill="#c6c6c6"/><path d="M1542,319 1538,322 1539,324 1560,332 1562,327 1547,318Z" fill="#c3c3c3"/><path d="M1515,99 1514,106 1504,100 1503,99 1508,95Z" fill="#9b9b9b"/><path d="M1532,148 1535,143 1535,142 1526,133 1515,137 1513,148Z" fill="#afafaf"/><path d="M1660,212 1663,223 1690,218 1690,218 1691,215 1688,211 1685,209 1662,205 1661,205Z" fill="#afafaf"/><path d="M1530,229 1530,238 1537,241 1540,238 1547,222 1546,221Z" fill="#b8b8b8"/><path d="M1666,165 1660,180 1644,183 1644,181 1657,162Z" fill="#a2a2a2"/><path d="M1594,253 1600,249 1602,250 1609,264 1603,274 1591,270 1589,268Z" fill="#b5b5b5"/><path d="M1553,176 1561,166 1569,176 1566,189 1565,189 1554,180Z" fill="#b2b2b2"/><path d="M1707,205 1719,237 1690,218 1691,215 1707,205Z" fill="#cbcbcb"/><path d="M1574,264 1571,267 1573,281 1576,280 1584,269Z" fill="#c2c2c2"/><path d="M1661,302 1655,288 1655,288 1676,291 1675,293 1665,303Z" fill="#adadad"/><path d="M1602,250 1613,246 1609,225 1608,225 1606,225 1595,237 1600,249Z" fill="#c8c8c8"/><path d="M1705,121 1716,103 1717,103 1724,123 1720,132Z" fill="#9e9e9e"/><path d="M1608,225 1613,201 1608,199 1596,204 1598,220 1606,225Z" fill="#ababab"/><path d="M1590,56 1590,56 1588,54 1583,56 1586,77 1589,75Z" fill="#9b9b9b"/><path d="M1511,149 1510,141 1514,137 1515,137 1513,148Z" fill="#b7b7b7"/><path d="M1544,178 1546,189 1528,177 1529,176 1540,175 1543,177Z" fill="#9a9a9a"/><path d="M1561,137 1554,153 1557,156 1569,152 1571,146 1569,140Z" fill="#b3b3b3"/><path d="M1497,303 1516,297 1525,282 1501,287 1486,299Z" fill="#b1b1b1"/><path d="M1524,96 1520,95 1512,85 1512,84 1516,79 1528,90Z" fill="#b2b2b2"/><path d="M1560,91 1560,100 1561,103 1562,104 1577,89 1571,78 1571,78Z" fill="#a2a2a2"/><path d="M1739,122 1783,101 1829,108 1748,140 1733,142Z" fill="#bdbdbd"/><path d="M1529,228 1530,229 1546,221 1542,213 1527,214 1526,221Z" fill="#9b9b9b"/><path d="M1606,56 1614,54 1602,31 1591,39 1588,54 1590,56Z" fill="#a7a7a7"/><path d="M1515,99 1508,95 1512,85 1520,95Z" fill="#a4a4a4"/><path d="M1629,65 1625,70 1626,75 1627,75 1635,70Z" fill="#cacaca"/><path d="M1581,302 1578,313 1576,317 1573,317 1560,310 1560,295 1563,290 1563,290 1579,298Z" fill="#afafaf"/><path d="M1591,92 1577,89 1571,78 1576,75 1586,77Z" fill="#8f8f8f"/><path d="M1719,59 1730,53 1742,37 1728,32 1714,47 1718,57Z" fill="#999999"/><path d="M1569,54 1565,34 1565,34 1583,36 1591,39 1588,54 1583,56 1581,56Z" fill="#c4c4c4"/><path d="M1655,305 1644,302 1644,288 1655,288 1661,302Z" fill="#9e9e9e"/><path d="M1700,57 1691,52 1678,55 1675,64 1682,71Z" fill="#c5c5c5"/><path d="M1669,161 1678,152 1674,145 1668,144 1664,149Z" fill="#949494"/><path d="M1519,254 1511,258 1496,253 1511,243 1518,252Z" fill="#a5a5a5"/><path d="M1596,66 1590,56 1590,56 1606,56 1603,69Z" fill="#a7a7a7"/><path d="M1540,71 1533,60 1527,61 1523,66 1516,79 1528,90 1539,86 1540,72Z" fill="#a8a8a8"/><path d="M1525,282 1533,277 1534,282 1534,287 1527,299 1516,297Z" fill="#c2c2c2"/><path d="M1626,117 1637,121 1631,136 1610,126Z" fill="#a3a3a3"/><path d="M1675,185 1685,209 1688,211 1692,186 1679,181Z" fill="#989898"/><path d="M1529,176 1527,166 1503,166 1509,184 1520,190 1522,189 1528,177Z" fill="#a9a9a9"/><path d="M1647,146 1646,147 1645,147 1646,117 1650,115 1657,114Z" fill="#bebebe"/><path d="M1556,232 1562,250 1556,254 1546,241Z" fill="#929292"/><path d="M1705,121 1720,132 1719,144 1708,143 1700,123Z" fill="#909090"/><path d="M1628,50 1629,65 1635,70 1640,68Z" fill="#adadad"/><path d="M1695,249 1710,247 1719,240 1719,238 1719,237 1690,218 1690,218 1682,241 1687,249Z" fill="#b3b3b3"/><path d="M1530,238 1537,241 1540,264 1537,266 1530,259 1525,244 1525,241Z" fill="#9d9d9d"/><path d="M1637,100 1650,115 1646,117 1637,121 1626,117 1621,108Z" fill="#c0c0c0"/><path d="M1563,129 1560,111 1563,105 1578,111 1576,128Z" fill="#cacaca"/><path d="M1629,263 1637,265 1633,273 1629,263Z" fill="#bcbcbc"/><path d="M1575,348 1564,325 1562,327 1560,332 1571,364Z" fill="#a8a8a8"/><path d="M1722,234 1732,217 1728,212 1707,205 1719,237 1719,238Z" fill="#bcbcbc"/><path d="M1719,64 1698,81 1686,77 1682,71 1700,57 1718,57 1719,59 1719,64Z" fill="#c1c1c1"/><path d="M1554,80 1540,72 1540,71 1564,69 1567,75Z" fill="#afafaf"/><path d="M1709,267 1699,264 1680,273 1681,275 1704,276 1709,269Z" fill="#a8a8a8"/><path d="M1682,71 1675,64 1669,65 1663,81 1675,93 1686,77Z" fill="#aeaeae"/><path d="M1562,104 1563,105 1560,111 1547,122 1540,108 1561,103Z" fill="#a0a0a0"/><path d="M1513,232 1529,228 1526,221 1510,227Z" fill="#aeaeae"/><path d="M1738,168 1732,161 1731,160 1720,184 1729,189 1736,187Z" fill="#9a9a9a"/><path d="M1736,187 1729,189 1728,212 1732,217 1756,213 1768,210 1736,187Z" fill="#bdbdbd"/><path d="M1497,303 1522,321 1529,320 1529,318 1527,299 1516,297Z" fill="#949494"/><path d="M1668,164 1678,169 1685,156 1678,152 1669,161Z" fill="#8e8e8e"/><path d="M1591,92 1599,98 1596,105 1578,111 1563,105 1562,104 1577,89Z" fill="#afafaf"/><path d="M1680,28 1665,-35 1652,-366 1660,-705 1713,-16 1710,42 1697,40Z" fill="#bfbfbf"/><path d="M1585,152 1585,151 1587,147 1586,144 1573,145 1571,146 1569,152 1578,156Z" fill="#c7c7c7"/><path d="M1657,162 1644,181 1636,166 1656,158Z" fill="#a0a0a0"/><path d="M1606,72 1612,70 1618,77 1614,95 1612,96 1600,97 1602,81Z" fill="#a8a8a8"/><path d="M1656,153 1646,147 1647,146 1662,134 1668,144 1664,149Z" fill="#a0a0a0"/><path d="M1665,328 1683,327 1689,310 1688,309 1668,309Z" fill="#a5a5a5"/><path d="M1533,110 1521,121 1515,117 1516,108 1525,102 1533,109Z" fill="#9f9f9f"/><path d="M1576,129 1581,132 1573,145 1571,146 1569,140Z" fill="#c6c6c6"/><path d="M1713,-16 1710,42 1714,47 1728,32Z" fill="#a9a9a9"/><path d="M1534,282 1555,296 1544,298 1539,294 1534,287Z" fill="#acacac"/><path d="M1635,87 1633,90 1637,100 1650,115 1657,114 1659,114 1660,113 1653,87 1645,81Z" fill="#a4a4a4"/><path d="M1685,156 1692,155 1696,148 1678,141 1674,145 1678,152Z" fill="#a9a9a9"/><path d="M1675,185 1662,205 1661,205 1640,193 1644,183 1660,180Z" fill="#cdcdcd"/><path d="M1741,271 1727,269 1727,264 1739,262 1741,271Z" fill="#a0a0a0"/><path d="M1608,225 1613,201 1630,202 1631,208 1621,227 1609,225Z" fill="#bcbcbc"/><path d="M1631,315 1611,321 1610,322 1608,326 1612,345 1630,329Z" fill="#c3c3c3"/><path d="M1571,78 1571,78 1576,75 1581,56 1569,54 1568,54 1564,69 1567,75Z" fill="#c7c7c7"/><path d="M1529,176 1527,166 1528,161 1548,166 1540,175Z" fill="#acacac"/><path d="M1603,69 1606,56 1614,54 1616,55 1616,59 1612,70 1606,72Z" fill="#c0c0c0"/><path d="M1652,43 1648,55 1656,63 1661,62 1659,45Z" fill="#b2b2b2"/><path d="M1596,66 1590,56 1589,75 1594,73Z" fill="#a7a7a7"/><path d="M1742,235 1756,213 1732,217 1722,234Z" fill="#a5a5a5"/><path d="M1571,364 1564,448 1539,324 1560,332Z" fill="#909090"/><circle cx="1703.3" cy="97.8" r="0.8" fill="#333"/><circle cx="1517.3" cy="269.3" r="0.8" fill="#333"/><circle cx="1595.7" cy="105.5" r="0.8" fill="#333"/><circle cx="1633.0" cy="273.4" r="1.2" fill="#333"/><circle cx="1723.9" cy="122.9" r="0.9" fill="#333"/><circle cx="1627.2" cy="75.2" r="0.8" fill="#333"/><circle cx="1686.3" cy="76.6" r="0.9" fill="#333"/><circle cx="1532.6" cy="56.8" r="1.2" fill="#333"/><circle cx="1530.2" cy="259.4" r="1.3" fill="#333"/><circle cx="1601.3" cy="296.8" r="1.0" fill="#333"/><circle cx="1639.8" cy="284.8" r="1.5" fill="#333"/><circle cx="1639.9" cy="192.7" r="0.9" fill="#333"/><circle cx="1618.7" cy="267.0" r="1.1" fill="#333"/><circle cx="1721.5" cy="146.6" r="1.3" fill="#333"/><circle cx="1585.1" cy="151.0" r="1.3" fill="#333"/><circle cx="1708.7" cy="266.6" r="1.0" fill="#333"/><circle cx="1718.7" cy="102.4" r="1.0" fill="#333"/><circle cx="1628.6" cy="257.8" r="1.0" fill="#333"/><circle cx="1559.5" cy="99.8" r="1.3" fill="#333"/><circle cx="1663.2" cy="80.8" r="1.5" fill="#333"/><circle cx="1575.6" cy="317.2" r="0.9" fill="#333"/><circle cx="1658.9" cy="114.0" r="1.2" fill="#333"/><circle cx="1687.8" cy="211.2" r="1.0" fill="#333"/><circle cx="1625.6" cy="266.3" r="1.4" fill="#333"/><circle cx="1556.5" cy="158.1" r="1.1" fill="#333"/><circle cx="1643.9" cy="261.4" r="0.9" fill="#333"/><circle cx="1591.4" cy="91.5" r="1.3" fill="#333"/><circle cx="1607.3" cy="282.4" r="1.2" fill="#333"/><circle cx="1682.4" cy="70.9" r="1.3" fill="#333"/><circle cx="1651.3" cy="262.5" r="1.0" fill="#333"/><circle cx="1546.4" cy="129.5" r="1.0" fill="#333"/><circle cx="1545.8" cy="240.6" r="1.1" fill="#333"/><circle cx="1635.3" cy="239.1" r="1.5" fill="#333"/><circle cx="1637.4" cy="264.7" r="1.0" fill="#333"/><circle cx="1665.7" cy="165.1" r="1.4" fill="#333"/><circle cx="1668.2" cy="164.2" r="1.3" fill="#333"/><circle cx="1611.1" cy="321.1" r="1.3" fill="#333"/><circle cx="1650.1" cy="115.0" r="1.2" fill="#333"/><circle cx="1724.6" cy="260.8" r="1.4" fill="#333"/><circle cx="1670.1" cy="239.3" r="1.2" fill="#333"/></g></g>
<clipPath id="c4"><path d="M1690,75H1740V322H1690Z"/></clipPath>
<path d="M1568,64Q1576,54 1589,54Q1603,46 1620,49Q1638,45 1655,50Q1667,47 1676,54Q1684,54 1688,64Q1698,70 1700,86Q1710,99 1712,117Q1721,133 1722,152Q1729,164 1727,176Q1730,189 1726,200Q1725,219 1715,233Q1710,257 1699,273Q1696,290 1689,299Q1691,314 1689,319Q1639,326 1588,327Q1564,315 1544,294Q1535,274 1532,247Q1523,238 1523,222Q1516,204 1519,183Q1517,161 1522,140Q1520,127 1529,118Q1530,105 1539,97Q1541,87 1549,83Q1553,73 1562,68Q1563,63 1568,64Z" fill="none" stroke="#efefef" stroke-width="1.8" clip-path="url(#c4)"/>
<clipPath id="c5"><path d="M1510,92H1545V180H1510Z"/></clipPath>
<path d="M1568,64Q1576,54 1589,54Q1603,46 1620,49Q1638,45 1655,50Q1667,47 1676,54Q1684,54 1688,64Q1698,70 1700,86Q1710,99 1712,117Q1721,133 1722,152Q1729,164 1727,176Q1730,189 1726,200Q1725,219 1715,233Q1710,257 1699,273Q1696,290 1689,299Q1691,314 1689,319Q1639,326 1588,327Q1564,315 1544,294Q1535,274 1532,247Q1523,238 1523,222Q1516,204 1519,183Q1517,161 1522,140Q1520,127 1529,118Q1530,105 1539,97Q1541,87 1549,83Q1553,73 1562,68Q1563,63 1568,64Z" fill="none" stroke="#d8d8d8" stroke-width="1.5" clip-path="url(#c5)"/>
<rect x="1465.2" y="46.9" width="298.1" height="274.1" filter="url(#nz)" opacity="0.42" style="mix-blend-mode:overlay"/>
</g>
<rect x="1465.2" y="321.0" width="298.0999999999999" height="34.89999999999998" fill="#000"/>
<text transform="translate(1515.68,347.26) scale(0.9493,1)" font-family="&quot;Liberation Sans&quot;, Arial, sans-serif" font-weight="normal" font-size="24.49" fill="#fff" >PC - Uncalendered</text>
<rect x="1476.7" y="299.8" width="56.09999999999991" height="7.0" fill="#fff"/>
<text transform="translate(1478.44,286.21) scale(0.9491,1)" font-family="&quot;Liberation Sans&quot;, Arial, sans-serif" font-weight="bold" font-size="28.98" fill="#fff" >2um</text>
<clipPath id="c6"><path d="M1766.6,47.2H2065.7V321.0H1766.6Z"/></clipPath>
<g clip-path="url(#c6)"><rect x="1766.6" y="47.2" width="299.0999999999999" height="273.8" fill="#0c0c0c"/>
<path d="M1800.0,95.0C1809.2,82.7 1816.7,73.2 1830.0,66.0C1843.3,58.8 1861.7,53.0 1880.0,52.0C1898.3,51.0 1926.7,55.3 1940.0,60.0C1953.3,64.7 1960.0,74.7 1960.0,80.0C1960.0,85.3 1953.3,92.0 1940.0,92.0C1926.7,92.0 1898.3,80.3 1880.0,80.0C1861.7,79.7 1842.5,83.3 1830.0,90.0C1817.5,96.7 1811.7,106.7 1805.0,120.0C1798.3,133.3 1793.3,151.7 1790.0,170.0C1786.7,188.3 1787.5,215.0 1785.0,230.0C1782.5,245.0 1777.8,265.0 1775.0,260.0C1772.2,255.0 1768.0,220.0 1768.0,200.0C1768.0,180.0 1769.7,157.5 1775.0,140.0C1780.3,122.5 1790.8,107.3 1800.0,95.0Z" fill="#4a4a4a" filter="url(#bl4)"/>
<path d="M1778,70 C1790,55 1810,50 1830,52" fill="none" stroke="#2a2a2a" stroke-width="2"/>
<path d="M1880.0,50.0C1892.5,45.0 1932.5,45.8 1945.0,50.0C1957.5,54.2 1955.8,68.3 1955.0,75.0C1954.2,81.7 1949.2,88.2 1940.0,90.0C1930.8,91.8 1911.7,87.7 1900.0,86.0C1888.3,84.3 1873.3,86.0 1870.0,80.0C1866.7,74.0 1867.5,55.0 1880.0,50.0Z" fill="#2c2c2c" filter="url(#bl3)"/>
<path d="M1948.0,47.0C1961.8,43.8 2029.7,44.5 2045.0,47.0C2060.3,49.5 2045.0,58.2 2040.0,62.0C2035.0,65.8 2024.2,68.3 2015.0,70.0C2005.8,71.7 1993.8,72.7 1985.0,72.0C1976.2,71.3 1968.2,70.2 1962.0,66.0C1955.8,61.8 1934.2,50.2 1948.0,47.0Z" fill="#333"/>
<g fill="none" stroke="#a8a8a8" stroke-width="1.8" filter="url(#bl2)"><path d="M1950,47 C1948,60 1958,70 1952,80 C1946,86 1950,92 1958,96"/><path d="M1962,48 C1960,58 1966,66 1962,78 C1958,88 1966,94 1972,98"/><path d="M1985,50 C1990,62 2010,66 2030,60 C2040,56 2042,50 2040,47"/><path d="M1962,66 C1980,74 2010,74 2038,64"/><path d="M2045,47 C2050,70 2052,90 2048,105"/></g>
<path d="M2045.0,60.0C2048.3,50.8 2062.5,31.7 2066.0,55.0C2069.5,78.3 2068.3,184.2 2066.0,200.0C2063.7,215.8 2055.3,165.0 2052.0,150.0C2048.7,135.0 2047.2,125.0 2046.0,110.0C2044.8,95.0 2041.7,69.2 2045.0,60.0Z" fill="#262626"/>
<g filter="url(#bl2)"><ellipse cx="2048" cy="153" rx="4.4" ry="2.8" fill="#3c3c3c" transform="rotate(147 2048 153)"/><ellipse cx="2052" cy="187" rx="2.6" ry="1.7" fill="#454545" transform="rotate(62 2052 187)"/><ellipse cx="2062" cy="165" rx="4.5" ry="3.5" fill="#4a4a4a" transform="rotate(45 2062 165)"/><ellipse cx="2063" cy="137" rx="2.0" ry="1.6" fill="#5c5c5c" transform="rotate(61 2063 137)"/><ellipse cx="2046" cy="159" rx="2.5" ry="2.0" fill="#676767" transform="rotate(1 2046 159)"/><ellipse cx="2055" cy="167" rx="4.0" ry="2.8" fill="#7a7a7a" transform="rotate(129 2055 167)"/><ellipse cx="2062" cy="165" rx="4.8" ry="4.4" fill="#343434" transform="rotate(103 2062 165)"/><ellipse cx="2059" cy="147" rx="4.3" ry="3.2" fill="#343434" transform="rotate(5 2059 147)"/><ellipse cx="2046" cy="125" rx="2.1" ry="1.5" fill="#505050" transform="rotate(85 2046 125)"/><ellipse cx="2048" cy="125" rx="4.5" ry="3.5" fill="#787878" transform="rotate(160 2048 125)"/><ellipse cx="2051" cy="126" rx="2.9" ry="2.9" fill="#5b5b5b" transform="rotate(151 2051 126)"/><ellipse cx="2048" cy="165" rx="4.3" ry="3.3" fill="#535353" transform="rotate(81 2048 165)"/><ellipse cx="2048" cy="146" rx="3.4" ry="1.8" fill="#828282" transform="rotate(167 2048 146)"/><ellipse cx="2047" cy="138" rx="3.2" ry="2.5" fill="#565656" transform="rotate(41 2047 138)"/></g>
<path d="M2066.0,190.0C2063.7,177.8 2055.2,198.0 2052.0,205.0C2048.8,212.0 2047.3,222.5 2047.0,232.0C2046.7,241.5 2046.8,254.3 2050.0,262.0C2053.2,269.7 2063.3,290.0 2066.0,278.0C2068.7,266.0 2068.3,202.2 2066.0,190.0Z" fill="#ababab"/>
<path d="M1766,150 C1772,200 1785,240 1800,262 C1830,280 1900,292 1990,300 C2020,292 2038,262 2046,235 L2066,228 L2066,321 L1766,321Z" fill="#3a3a3a"/>
<g filter="url(#bl2)"><ellipse cx="1887" cy="264" rx="3.4" ry="3.3" fill="#1b1b1b" transform="rotate(159 1887 264)"/><ellipse cx="1799" cy="253" rx="2.1" ry="1.6" fill="#151515" transform="rotate(54 1799 253)"/><ellipse cx="2058" cy="296" rx="5.0" ry="3.0" fill="#121212" transform="rotate(172 2058 296)"/><ellipse cx="1828" cy="262" rx="3.7" ry="2.1" fill="#191919" transform="rotate(97 1828 262)"/><ellipse cx="1994" cy="267" rx="2.1" ry="1.7" fill="#1b1b1b" transform="rotate(108 1994 267)"/><ellipse cx="1913" cy="314" rx="3.5" ry="2.2" fill="#090909" transform="rotate(148 1913 314)"/><ellipse cx="1879" cy="264" rx="5.6" ry="5.2" fill="#070707" transform="rotate(141 1879 264)"/><ellipse cx="1849" cy="274" rx="5.2" ry="3.3" fill="#0a0a0a" transform="rotate(49 1849 274)"/><ellipse cx="1959" cy="308" rx="3.9" ry="2.1" fill="#1a1a1a" transform="rotate(156 1959 308)"/><ellipse cx="1964" cy="294" rx="5.9" ry="4.8" fill="#1e1e1e" transform="rotate(136 1964 294)"/><ellipse cx="1819" cy="274" rx="5.7" ry="3.4" fill="#171717" transform="rotate(71 1819 274)"/><ellipse cx="2006" cy="259" rx="3.4" ry="3.3" fill="#181818" transform="rotate(71 2006 259)"/><ellipse cx="1897" cy="268" rx="5.9" ry="3.1" fill="#151515" transform="rotate(0 1897 268)"/><ellipse cx="1854" cy="261" rx="2.2" ry="1.9" fill="#111111" transform="rotate(142 1854 261)"/><ellipse cx="1913" cy="269" rx="5.1" ry="3.8" fill="#121212" transform="rotate(62 1913 269)"/><ellipse cx="2025" cy="263" rx="2.8" ry="2.6" fill="#181818" transform="rotate(175 2025 263)"/><ellipse cx="1946" cy="273" rx="4.7" ry="2.9" fill="#070707" transform="rotate(92 1946 273)"/><ellipse cx="1956" cy="252" rx="4.3" ry="4.2" fill="#101010" transform="rotate(112 1956 252)"/><ellipse cx="1962" cy="277" rx="5.1" ry="4.0" fill="#1e1e1e" transform="rotate(69 1962 277)"/><ellipse cx="1777" cy="311" rx="4.3" ry="3.2" fill="#202020" transform="rotate(124 1777 311)"/><ellipse cx="1877" cy="258" rx="4.9" ry="3.3" fill="#0e0e0e" transform="rotate(61 1877 258)"/><ellipse cx="1933" cy="294" rx="4.1" ry="3.0" fill="#0b0b0b" transform="rotate(10 1933 294)"/><ellipse cx="2053" cy="290" rx="4.9" ry="3.4" fill="#0f0f0f" transform="rotate(152 2053 290)"/><ellipse cx="1808" cy="265" rx="4.4" ry="3.8" fill="#070707" transform="rotate(52 1808 265)"/><ellipse cx="1866" cy="259" rx="2.5" ry="2.3" fill="#0c0c0c" transform="rotate(169 1866 259)"/><ellipse cx="1887" cy="262" rx="4.5" ry="3.6" fill="#0d0d0d" transform="rotate(115 1887 262)"/><ellipse cx="1953" cy="257" rx="5.9" ry="5.8" fill="#111111" transform="rotate(79 1953 257)"/><ellipse cx="1823" cy="278" rx="2.7" ry="2.6" fill="#1e1e1e" transform="rotate(114 1823 278)"/><ellipse cx="1915" cy="299" rx="3.2" ry="3.2" fill="#1a1a1a" transform="rotate(131 1915 299)"/><ellipse cx="1778" cy="313" rx="2.1" ry="1.6" fill="#141414" transform="rotate(85 1778 313)"/><ellipse cx="1792" cy="285" rx="4.1" ry="2.9" fill="#0f0f0f" transform="rotate(37 1792 285)"/><ellipse cx="1913" cy="257" rx="2.1" ry="1.3" fill="#212121" transform="rotate(113 1913 257)"/><ellipse cx="1803" cy="291" rx="5.1" ry="3.0" fill="#101010" transform="rotate(103 1803 291)"/><ellipse cx="1837" cy="313" rx="2.6" ry="2.2" fill="#171717" transform="rotate(126 1837 313)"/><ellipse cx="1867" cy="267" rx="4.1" ry="3.9" fill="#0b0b0b" transform="rotate(78 1867 267)"/><ellipse cx="1799" cy="273" rx="3.4" ry="2.2" fill="#1b1b1b" transform="rotate(46 1799 273)"/><ellipse cx="2013" cy="270" rx="3.3" ry="1.9" fill="#181818" transform="rotate(14 2013 270)"/><ellipse cx="1982" cy="286" rx="2.1" ry="1.4" fill="#0d0d0d" transform="rotate(15 1982 286)"/><ellipse cx="2019" cy="301" rx="4.2" ry="3.0" fill="#0c0c0c" transform="rotate(109 2019 301)"/><ellipse cx="1846" cy="259" rx="5.9" ry="4.0" fill="#222222" transform="rotate(11 1846 259)"/><ellipse cx="1976" cy="274" rx="5.9" ry="3.5" fill="#060606" transform="rotate(17 1976 274)"/><ellipse cx="1999" cy="313" rx="2.6" ry="1.4" fill="#141414" transform="rotate(150 1999 313)"/><ellipse cx="1918" cy="310" rx="2.9" ry="2.3" fill="#1c1c1c" transform="rotate(34 1918 310)"/><ellipse cx="2040" cy="320" rx="5.0" ry="4.6" fill="#191919" transform="rotate(143 2040 320)"/><ellipse cx="1865" cy="307" rx="4.0" ry="2.5" fill="#090909" transform="rotate(100 1865 307)"/><ellipse cx="1838" cy="270" rx="3.4" ry="2.8" fill="#1c1c1c" transform="rotate(50 1838 270)"/><ellipse cx="1853" cy="310" rx="2.6" ry="2.1" fill="#202020" transform="rotate(94 1853 310)"/><ellipse cx="1775" cy="298" rx="2.7" ry="2.3" fill="#202020" transform="rotate(155 1775 298)"/><ellipse cx="1841" cy="261" rx="2.3" ry="2.1" fill="#101010" transform="rotate(134 1841 261)"/><ellipse cx="1890" cy="265" rx="5.3" ry="2.7" fill="#151515" transform="rotate(146 1890 265)"/><ellipse cx="1994" cy="278" rx="3.1" ry="1.7" fill="#1b1b1b" transform="rotate(82 1994 278)"/><ellipse cx="1944" cy="276" rx="3.6" ry="3.4" fill="#0c0c0c" transform="rotate(144 1944 276)"/><ellipse cx="2025" cy="278" rx="4.3" ry="3.7" fill="#1e1e1e" transform="rotate(142 2025 278)"/><ellipse cx="1964" cy="304" rx="3.6" ry="1.9" fill="#171717" transform="rotate(26 1964 304)"/><ellipse cx="1907" cy="300" rx="4.1" ry="2.4" fill="#080808" transform="rotate(50 1907 300)"/><ellipse cx="1784" cy="307" rx="2.4" ry="1.9" fill="#171717" transform="rotate(127 1784 307)"/><ellipse cx="1796" cy="303" rx="4.2" ry="3.8" fill="#1f1f1f" transform="rotate(178 1796 303)"/><ellipse cx="2033" cy="259" rx="5.9" ry="3.3" fill="#181818" transform="rotate(103 2033 259)"/><ellipse cx="1951" cy="312" rx="5.8" ry="4.6" fill="#1e1e1e" transform="rotate(14 1951 312)"/><ellipse cx="1789" cy="286" rx="5.6" ry="5.2" fill="#202020" transform="rotate(130 1789 286)"/><ellipse cx="1888" cy="284" rx="5.1" ry="2.6" fill="#232323" transform="rotate(135 1888 284)"/><ellipse cx="1805" cy="281" rx="5.9" ry="3.1" fill="#0b0b0b" transform="rotate(30 1805 281)"/><ellipse cx="1850" cy="304" rx="5.0" ry="4.5" fill="#090909" transform="rotate(142 1850 304)"/><ellipse cx="1874" cy="261" rx="2.4" ry="1.8" fill="#191919" transform="rotate(114 1874 261)"/><ellipse cx="2048" cy="266" rx="4.5" ry="3.3" fill="#060606" transform="rotate(26 2048 266)"/><ellipse cx="1876" cy="302" rx="4.1" ry="3.8" fill="#0a0a0a" transform="rotate(43 1876 302)"/><ellipse cx="1869" cy="260" rx="4.7" ry="3.3" fill="#111111" transform="rotate(13 1869 260)"/><ellipse cx="1809" cy="266" rx="4.7" ry="3.8" fill="#1e1e1e" transform="rotate(63 1809 266)"/><ellipse cx="1915" cy="273" rx="4.5" ry="2.8" fill="#171717" transform="rotate(100 1915 273)"/><ellipse cx="1882" cy="308" rx="2.1" ry="1.3" fill="#1c1c1c" transform="rotate(156 1882 308)"/><ellipse cx="1992" cy="299" rx="4.0" ry="3.1" fill="#919191" transform="rotate(34 1992 299)"/><ellipse cx="1976" cy="300" rx="3.6" ry="3.6" fill="#bcbcbc" transform="rotate(20 1976 300)"/><ellipse cx="1861" cy="259" rx="2.7" ry="1.7" fill="#a9a9a9" transform="rotate(50 1861 259)"/><ellipse cx="2038" cy="299" rx="2.6" ry="2.2" fill="#909090" transform="rotate(67 2038 299)"/><ellipse cx="1943" cy="296" rx="3.4" ry="1.7" fill="#bababa" transform="rotate(72 1943 296)"/><ellipse cx="1844" cy="252" rx="3.7" ry="3.2" fill="#aaaaaa" transform="rotate(118 1844 252)"/><ellipse cx="1993" cy="257" rx="3.7" ry="3.5" fill="#b7b7b7" transform="rotate(1 1993 257)"/><ellipse cx="2030" cy="264" rx="1.7" ry="1.3" fill="#a9a9a9" transform="rotate(49 2030 264)"/><ellipse cx="1874" cy="275" rx="3.5" ry="3.5" fill="#adadad" transform="rotate(4 1874 275)"/><ellipse cx="2009" cy="290" rx="2.4" ry="2.0" fill="#8e8e8e" transform="rotate(24 2009 290)"/><ellipse cx="2024" cy="303" rx="1.7" ry="1.6" fill="#bebebe" transform="rotate(46 2024 303)"/><ellipse cx="1834" cy="261" rx="3.9" ry="3.4" fill="#9e9e9e" transform="rotate(148 1834 261)"/><ellipse cx="2011" cy="299" rx="3.4" ry="3.4" fill="#a5a5a5" transform="rotate(75 2011 299)"/><ellipse cx="1898" cy="305" rx="4.0" ry="2.4" fill="#909090" transform="rotate(42 1898 305)"/><ellipse cx="1929" cy="285" rx="1.9" ry="1.2" fill="#9b9b9b" transform="rotate(59 1929 285)"/><ellipse cx="1808" cy="304" rx="2.1" ry="1.5" fill="#9a9a9a" transform="rotate(77 1808 304)"/><ellipse cx="1778" cy="260" rx="2.6" ry="2.1" fill="#a9a9a9" transform="rotate(158 1778 260)"/><ellipse cx="1787" cy="270" rx="2.6" ry="2.3" fill="#b9b9b9" transform="rotate(31 1787 270)"/><ellipse cx="1839" cy="308" rx="3.7" ry="2.0" fill="#959595" transform="rotate(29 1839 308)"/><ellipse cx="2046" cy="281" rx="3.2" ry="3.1" fill="#878787" transform="rotate(99 2046 281)"/><ellipse cx="1791" cy="313" rx="3.5" ry="3.1" fill="#bbbbbb" transform="rotate(122 1791 313)"/><ellipse cx="1877" cy="263" rx="1.5" ry="1.1" fill="#a7a7a7" transform="rotate(109 1877 263)"/><ellipse cx="1995" cy="295" rx="3.3" ry="2.5" fill="#9c9c9c" transform="rotate(96 1995 295)"/><ellipse cx="1838" cy="313" rx="3.9" ry="2.0" fill="#919191" transform="rotate(16 1838 313)"/><ellipse cx="1984" cy="250" rx="3.7" ry="2.1" fill="#8e8e8e" transform="rotate(1 1984 250)"/><ellipse cx="1954" cy="252" rx="2.1" ry="1.3" fill="#9b9b9b" transform="rotate(92 1954 252)"/><ellipse cx="1907" cy="252" rx="2.5" ry="2.3" fill="#8f8f8f" transform="rotate(5 1907 252)"/><ellipse cx="1770" cy="277" rx="2.4" ry="2.1" fill="#939393" transform="rotate(58 1770 277)"/><ellipse cx="1819" cy="290" rx="2.4" ry="1.6" fill="#9e9e9e" transform="rotate(73 1819 290)"/><ellipse cx="2026" cy="281" rx="2.5" ry="1.3" fill="#bababa" transform="rotate(94 2026 281)"/><ellipse cx="1896" cy="278" rx="3.7" ry="1.9" fill="#929292" transform="rotate(170 1896 278)"/><ellipse cx="1845" cy="287" rx="2.0" ry="1.3" fill="#919191" transform="rotate(111 1845 287)"/><ellipse cx="1946" cy="264" rx="3.8" ry="3.5" fill="#959595" transform="rotate(151 1946 264)"/><ellipse cx="1891" cy="290" rx="2.0" ry="1.0" fill="#b1b1b1" transform="rotate(112 1891 290)"/><ellipse cx="1795" cy="270" rx="2.9" ry="1.6" fill="#868686" transform="rotate(77 1795 270)"/><ellipse cx="2028" cy="253" rx="3.2" ry="1.7" fill="#929292" transform="rotate(154 2028 253)"/><ellipse cx="1990" cy="292" rx="2.9" ry="2.5" fill="#bdbdbd" transform="rotate(76 1990 292)"/><ellipse cx="1938" cy="313" rx="3.1" ry="1.6" fill="#8e8e8e" transform="rotate(39 1938 313)"/><ellipse cx="2017" cy="276" rx="3.2" ry="2.7" fill="#848484" transform="rotate(44 2017 276)"/><ellipse cx="1821" cy="316" rx="3.5" ry="3.4" fill="#bdbdbd" transform="rotate(163 1821 316)"/></g>
<g fill="none" stroke-linejoin="round" filter="url(#bl2)"><path d="M1787,275 1786,279 1781,281 1777,278 1778,273 1774,270 1770,272" stroke="#9d9d9d" stroke-width="0.9"/><path d="M2046,282 2050,285 2055,285 2059,283 2063,279 2062,274 2059,271" stroke="#777777" stroke-width="0.8"/><path d="M2057,298 2062,299 2066,302 2071,302 2076,302 2080,300 2084,304" stroke="#bababa" stroke-width="1.5"/><path d="M1856,258 1859,254 1864,252 1868,249 1869,244 1869,239 1865,235" stroke="#838383" stroke-width="1.3"/><path d="M1827,307 1828,302 1830,297 1835,296 1837,291 1842,291 1846,294" stroke="#b4b4b4" stroke-width="1.4"/><path d="M1937,304 1939,308 1936,313 1934,317 1933,322 1934,327 1932,331" stroke="#acacac" stroke-width="0.8"/><path d="M2003,286 1999,290 1994,290 1991,294 1986,294 1984,299 1986,303" stroke="#6f6f6f" stroke-width="1.2"/><path d="M1775,272 1770,275 1769,280 1766,284 1762,285 1757,287 1756,292" stroke="#909090" stroke-width="1.1"/><path d="M1822,280 1820,284 1817,288 1817,293 1816,298 1814,302 1809,303" stroke="#bebebe" stroke-width="1.4"/><path d="M1802,293 1800,288 1804,284 1808,281 1806,276 1802,275 1798,272" stroke="#aeaeae" stroke-width="1.6"/><path d="M1920,292 1920,287 1924,284 1929,283 1933,282 1936,278 1940,274" stroke="#a0a0a0" stroke-width="1.0"/><path d="M2059,278 2056,274 2053,270 2049,267 2044,267 2040,268 2035,268" stroke="#848484" stroke-width="1.1"/><path d="M2017,258 2022,257 2027,257 2030,253 2032,249 2029,244 2025,242" stroke="#868686" stroke-width="0.9"/><path d="M1937,316 1932,316 1927,316 1924,312 1919,312 1914,313 1910,310" stroke="#b8b8b8" stroke-width="1.6"/><path d="M1873,319 1876,315 1880,312 1879,307 1881,302 1886,301 1888,296" stroke="#707070" stroke-width="1.0"/><path d="M1921,272 1924,268 1921,263 1917,261 1917,256 1921,253 1921,248" stroke="#7e7e7e" stroke-width="1.4"/><path d="M1957,270 1956,275 1958,280 1963,280 1965,285 1968,289 1971,293" stroke="#858585" stroke-width="0.9"/><path d="M1917,298 1916,294 1916,289 1918,284 1918,279 1916,274 1912,271" stroke="#7a7a7a" stroke-width="1.1"/><path d="M1832,274 1828,277 1823,277 1819,279 1814,278 1810,282 1810,287" stroke="#7b7b7b" stroke-width="1.5"/><path d="M1873,276 1870,273 1868,268 1863,267 1861,263 1856,260 1853,256" stroke="#bfbfbf" stroke-width="0.8"/><path d="M2032,273 2033,278 2036,282 2038,286 2039,291 2042,295 2044,300" stroke="#a7a7a7" stroke-width="1.2"/><path d="M1857,265 1860,269 1859,274 1856,278 1853,282 1849,285 1844,284" stroke="#c0c0c0" stroke-width="1.6"/><path d="M1905,270 1900,272 1895,271 1890,270 1885,269 1881,270 1876,273" stroke="#a5a5a5" stroke-width="1.5"/><path d="M2022,283 2026,286 2031,286 2034,282 2034,277 2035,272 2037,268" stroke="#989898" stroke-width="0.9"/><path d="M1996,266 2001,266 2006,266 2009,269 2014,268 2018,265 2020,260" stroke="#727272" stroke-width="1.6"/><path d="M1872,264 1876,262 1881,263 1883,267 1888,266 1892,270 1890,274" stroke="#b3b3b3" stroke-width="1.2"/><path d="M2035,257 2037,261 2041,264 2046,264 2051,266 2056,266 2061,268" stroke="#a9a9a9" stroke-width="1.0"/><path d="M1829,293 1834,293 1837,297 1842,298 1846,300 1850,303 1853,307" stroke="#9e9e9e" stroke-width="1.3"/><path d="M1805,300 1800,299 1795,299 1790,299 1786,295 1783,291 1778,291" stroke="#bcbcbc" stroke-width="1.2"/><path d="M1968,276 1963,274 1961,269 1956,267 1952,266 1947,266 1943,270" stroke="#a5a5a5" stroke-width="1.5"/><path d="M2027,314 2022,316 2017,315 2013,318 2009,320 2006,325 2004,329" stroke="#6f6f6f" stroke-width="1.3"/><path d="M1978,296 1980,292 1985,290 1988,287 1993,287 1998,288 2001,284" stroke="#727272" stroke-width="0.8"/><path d="M1941,312 1945,309 1949,306 1954,306 1957,301 1959,297 1963,294" stroke="#707070" stroke-width="1.6"/><path d="M1890,257 1895,258 1899,260 1904,258 1909,260 1914,260 1918,261" stroke="#797979" stroke-width="0.8"/><path d="M2008,313 2004,310 2000,307 1995,306 1992,302 1992,297 1989,293" stroke="#838383" stroke-width="0.9"/><path d="M1937,307 1941,305 1945,308 1949,311 1952,316 1957,316 1959,321" stroke="#b2b2b2" stroke-width="1.5"/><path d="M2011,275 2006,277 2002,277 1997,275 1993,272 1988,274 1985,278" stroke="#767676" stroke-width="1.2"/><path d="M1936,318 1939,322 1941,327 1943,331 1945,336 1941,340 1943,344" stroke="#727272" stroke-width="1.0"/><path d="M1958,286 1955,290 1951,293 1946,292 1943,296 1939,300 1935,301" stroke="#717171" stroke-width="0.7"/><path d="M1928,301 1926,296 1929,292 1931,288 1928,284 1927,279 1923,275" stroke="#8a8a8a" stroke-width="1.0"/><path d="M1971,267 1972,262 1976,260 1977,255 1974,251 1970,248 1965,246" stroke="#8e8e8e" stroke-width="1.4"/><path d="M1894,308 1898,310 1903,309 1905,305 1909,302 1914,305 1919,306" stroke="#acacac" stroke-width="1.0"/><path d="M2062,262 2066,261 2069,256 2072,252 2070,248 2069,243 2072,239" stroke="#9a9a9a" stroke-width="1.5"/><path d="M1954,287 1958,290 1960,295 1962,299 1965,303 1963,308 1963,313" stroke="#929292" stroke-width="1.0"/><path d="M1810,261 1807,265 1809,270 1813,272 1817,275 1819,280 1818,285" stroke="#757575" stroke-width="0.8"/><path d="M1923,287 1923,282 1919,279 1915,276 1910,275 1906,273 1901,274" stroke="#a8a8a8" stroke-width="1.3"/><path d="M1807,268 1809,272 1811,277 1810,282 1810,287 1806,290 1801,288" stroke="#ababab" stroke-width="1.4"/><path d="M1983,287 1987,284 1992,283 1995,279 2000,277 2004,275 2005,270" stroke="#7e7e7e" stroke-width="1.5"/><path d="M1807,288 1812,286 1815,283 1820,281 1824,278 1824,273 1820,270" stroke="#a0a0a0" stroke-width="0.9"/><path d="M2054,307 2059,307 2063,310 2068,310 2072,312 2077,314 2079,318" stroke="#9b9b9b" stroke-width="0.9"/><path d="M1902,264 1906,267 1911,265 1916,265 1921,266 1925,268 1925,273" stroke="#959595" stroke-width="1.0"/><path d="M2015,295 2014,290 2010,287 2007,283 2005,278 2001,276 1996,277" stroke="#c6c6c6" stroke-width="0.9"/><path d="M1996,268 2001,269 2004,266 2009,266 2014,268 2019,269 2021,274" stroke="#a3a3a3" stroke-width="1.1"/><path d="M1893,311 1891,316 1886,318 1884,323 1881,327 1878,331 1873,332" stroke="#8d8d8d" stroke-width="0.7"/><path d="M1939,285 1941,290 1944,294 1945,299 1948,303 1951,307 1953,312" stroke="#c3c3c3" stroke-width="1.1"/><path d="M1839,281 1835,284 1831,282 1826,284 1822,287 1817,287 1813,291" stroke="#b0b0b0" stroke-width="1.5"/><path d="M1856,300 1853,297 1849,294 1846,289 1843,285 1844,280 1841,276" stroke="#b9b9b9" stroke-width="1.2"/><path d="M1877,299 1880,303 1884,306 1889,307 1892,303 1896,301 1897,296" stroke="#9e9e9e" stroke-width="1.4"/><path d="M1797,288 1792,288 1789,292 1786,295 1781,296 1776,294 1771,295" stroke="#8d8d8d" stroke-width="1.2"/><path d="M1776,263 1771,266 1771,271 1769,275 1764,277 1760,274 1756,276" stroke="#8c8c8c" stroke-width="1.2"/><path d="M1928,259 1925,263 1920,266 1921,270 1919,275 1916,279 1911,281" stroke="#858585" stroke-width="0.7"/><path d="M1885,270 1888,266 1893,265 1898,267 1902,270 1905,273 1910,272" stroke="#939393" stroke-width="1.4"/><path d="M1851,311 1850,306 1850,301 1850,296 1851,291 1847,288 1844,285" stroke="#909090" stroke-width="1.4"/><path d="M1798,258 1794,262 1790,264 1785,264 1780,263 1776,266 1771,266" stroke="#7b7b7b" stroke-width="1.5"/><path d="M1789,319 1793,316 1798,318 1802,321 1804,326 1807,330 1810,334" stroke="#797979" stroke-width="0.7"/><path d="M1926,269 1928,273 1926,278 1922,281 1917,280 1913,277 1908,279" stroke="#6a6a6a" stroke-width="1.6"/><path d="M2020,290 2020,285 2016,281 2014,277 2014,272 2014,267 2011,263" stroke="#969696" stroke-width="1.0"/><path d="M1908,261 1913,264 1918,264 1919,259 1922,255 1924,250 1925,246" stroke="#b4b4b4" stroke-width="0.9"/><path d="M2028,290 2024,294 2024,298 2026,303 2023,307 2019,309 2015,305" stroke="#c7c7c7" stroke-width="1.1"/><path d="M1772,307 1775,311 1775,316 1777,321 1782,322 1785,325 1787,330" stroke="#6c6c6c" stroke-width="0.9"/><path d="M1932,262 1928,263 1926,267 1922,269 1917,272 1917,277 1920,281" stroke="#8e8e8e" stroke-width="0.8"/><path d="M1787,295 1792,297 1796,299 1801,297 1805,296 1810,294 1814,297" stroke="#c3c3c3" stroke-width="1.3"/><path d="M2055,314 2055,309 2051,306 2046,306 2042,310 2038,312 2033,315" stroke="#919191" stroke-width="0.7"/><path d="M2019,310 2024,308 2028,305 2027,300 2030,296 2034,292 2038,291" stroke="#707070" stroke-width="0.8"/><path d="M1859,319 1857,323 1854,327 1849,326 1844,326 1840,328 1835,330" stroke="#767676" stroke-width="0.7"/><path d="M2024,280 2022,285 2019,289 2016,293 2011,295 2011,300 2007,302" stroke="#c7c7c7" stroke-width="1.0"/><path d="M1896,273 1900,270 1904,267 1905,262 1908,259 1910,254 1911,249" stroke="#a5a5a5" stroke-width="1.2"/><path d="M2015,274 2012,270 2012,265 2009,261 2008,256 2011,252 2011,247" stroke="#767676" stroke-width="1.1"/><path d="M2050,263 2045,264 2041,261 2036,261 2032,259 2027,257 2024,253" stroke="#aeaeae" stroke-width="0.9"/><path d="M1910,263 1910,258 1905,257 1900,258 1895,258 1891,254 1886,254" stroke="#b7b7b7" stroke-width="0.9"/><path d="M1780,262 1775,260 1770,260 1766,263 1764,267 1759,269 1756,272" stroke="#7f7f7f" stroke-width="1.0"/><path d="M1834,283 1829,285 1827,289 1829,294 1827,299 1829,304 1826,308" stroke="#c4c4c4" stroke-width="1.3"/><path d="M1775,287 1777,291 1778,296 1782,299 1785,304 1786,308 1784,313" stroke="#939393" stroke-width="1.4"/><path d="M1891,290 1891,295 1887,298 1886,303 1882,306 1877,305 1873,303" stroke="#9b9b9b" stroke-width="1.5"/><path d="M1974,260 1971,264 1966,263 1964,258 1959,256 1955,253 1952,250" stroke="#808080" stroke-width="1.3"/><path d="M1845,313 1840,316 1836,319 1834,323 1836,328 1838,333 1837,338" stroke="#b0b0b0" stroke-width="0.9"/><path d="M2008,317 2012,314 2017,311 2021,309 2025,306 2029,309 2034,309" stroke="#bbbbbb" stroke-width="1.1"/><path d="M1928,308 1932,304 1933,300 1935,295 1940,294 1942,289 1942,284" stroke="#b6b6b6" stroke-width="1.2"/><path d="M1940,305 1945,304 1949,307 1954,307 1957,311 1962,312 1965,308" stroke="#9b9b9b" stroke-width="1.1"/><path d="M1799,310 1803,313 1806,317 1806,322 1809,327 1810,331 1814,334" stroke="#838383" stroke-width="0.9"/></g>
<ellipse cx="1772" cy="300" rx="34" ry="36" fill="#8c8c8c"/>
<clipPath id="c7"><path d="M1826.0,97.0C1827.3,94.9 1829.9,86.7 1832.0,84.0C1834.1,81.3 1841.1,75.4 1844.0,74.0C1846.9,72.6 1853.8,71.8 1857.0,72.0C1860.2,72.2 1868.5,75.0 1871.0,76.0C1873.5,77.0 1873.2,80.3 1878.0,81.0C1882.8,81.7 1904.8,81.2 1912.0,82.0C1919.2,82.8 1930.0,86.0 1940.0,88.0C1950.0,90.0 1987.8,97.0 1998.0,99.0C2008.2,101.0 2022.6,103.2 2027.0,105.0C2031.4,106.8 2034.4,111.1 2036.0,114.0C2037.6,116.9 2040.1,116.1 2041.0,130.0C2041.9,143.9 2044.2,217.9 2044.0,233.0C2043.8,248.1 2042.0,251.5 2039.0,259.0C2036.0,266.5 2023.5,291.5 2018.0,297.0C2012.5,302.5 2010.1,307.1 1992.0,306.0C1973.9,304.9 1884.0,292.4 1863.0,288.0C1842.0,283.6 1820.5,274.2 1812.0,268.0C1803.5,261.8 1793.6,242.9 1790.0,235.0C1786.4,227.1 1782.0,206.9 1781.0,200.0C1780.0,193.1 1780.5,182.1 1781.0,176.0C1781.5,169.9 1783.2,153.7 1785.0,148.0C1786.8,142.3 1793.1,131.4 1796.0,127.0C1798.9,122.6 1807.1,112.9 1810.0,110.0C1812.9,107.1 1819.1,103.5 1821.0,102.0C1822.9,100.5 1824.7,99.1 1826.0,97.0Z"/></clipPath>
<g clip-path="url(#c7)"><rect x="1775" y="68" width="275" height="245" fill="#9a9a9a"/><path d="M1826,97 L1880,80 L1872,110 L1830,118Z" fill="#a4a4a4" filter="url(#bl3)"/><path d="M1778.5 68h1.9v245h-1.9zM1784.2 68h0.8v245h-0.8zM1785.8 68h1.1v245h-1.1zM1788.5 68h0.9v245h-0.9zM1793.8 68h1.6v245h-1.6zM1798.4 68h1.4v245h-1.4zM1801.1 68h1.4v245h-1.4zM1807.9 68h0.8v245h-0.8zM1810.6 68h1.7v245h-1.7zM1813.5 68h1.1v245h-1.1zM1821.3 68h1.0v245h-1.0zM1824.4 68h1.7v245h-1.7zM1833.6 68h1.4v245h-1.4zM1837.2 68h1.2v245h-1.2zM1841.0 68h1.2v245h-1.2zM1846.8 68h0.8v245h-0.8zM1849.1 68h1.9v245h-1.9zM1853.1 68h0.8v245h-0.8zM1863.9 68h1.8v245h-1.8zM1871.7 68h0.8v245h-0.8zM1880.7 68h2.0v245h-2.0zM1883.4 68h1.1v245h-1.1zM1893.0 68h0.8v245h-0.8zM1899.3 68h0.9v245h-0.9zM1901.8 68h1.3v245h-1.3zM1906.1 68h1.1v245h-1.1zM1918.3 68h0.9v245h-0.9zM1927.5 68h1.7v245h-1.7zM1930.6 68h1.0v245h-1.0zM1935.2 68h0.8v245h-0.8zM1939.5 68h1.0v245h-1.0zM1941.7 68h0.9v245h-0.9zM1949.9 68h1.1v245h-1.1zM1960.5 68h1.4v245h-1.4zM1962.4 68h1.4v245h-1.4zM1967.2 68h1.3v245h-1.3zM1972.0 68h1.7v245h-1.7zM1982.4 68h1.2v245h-1.2zM1987.4 68h1.0v245h-1.0zM1991.4 68h1.9v245h-1.9zM2000.2 68h1.3v245h-1.3zM2007.2 68h0.9v245h-0.9zM2018.7 68h1.6v245h-1.6zM2022.9 68h1.5v245h-1.5zM2025.7 68h1.4v245h-1.4zM2028.1 68h1.0v245h-1.0zM2030.2 68h1.9v245h-1.9zM2037.9 68h1.1v245h-1.1z" fill="#000" fill-opacity="0.05"/><path d="M1782.2 68h1.1v245h-1.1zM1791.4 68h1.1v245h-1.1zM1795.3 68h1.8v245h-1.8zM1805.9 68h1.8v245h-1.8zM1816.3 68h0.8v245h-0.8zM1828.8 68h1.0v245h-1.0zM1842.8 68h1.1v245h-1.1zM1856.7 68h0.9v245h-0.9zM1859.0 68h0.8v245h-0.8zM1866.7 68h1.8v245h-1.8zM1868.6 68h1.5v245h-1.5zM1875.0 68h0.9v245h-0.9zM1877.6 68h1.7v245h-1.7zM1888.3 68h1.8v245h-1.8zM1895.0 68h0.9v245h-0.9zM1910.7 68h1.9v245h-1.9zM1915.7 68h1.2v245h-1.2zM1922.6 68h0.8v245h-0.8zM1946.4 68h0.9v245h-0.9zM1953.7 68h1.6v245h-1.6zM1956.4 68h1.9v245h-1.9zM1965.2 68h2.0v245h-2.0zM1975.0 68h1.4v245h-1.4zM1979.7 68h1.7v245h-1.7zM1994.0 68h1.2v245h-1.2zM1995.6 68h1.8v245h-1.8zM2002.3 68h1.7v245h-1.7zM2005.3 68h1.2v245h-1.2zM2009.6 68h1.5v245h-1.5zM2014.2 68h1.0v245h-1.0zM2034.7 68h1.5v245h-1.5zM2040.9 68h1.7v245h-1.7zM2045.8 68h0.9v245h-0.9zM2049.0 68h1.1v245h-1.1zM2053.0 68h1.9v245h-1.9z" fill="#000" fill-opacity="0.10"/><path d="M1780.8 68h1.4v245h-1.4zM1785.6 68h0.9v245h-0.9zM1804.3 68h1.1v245h-1.1zM1810.6 68h0.9v245h-0.9zM1813.6 68h1.5v245h-1.5zM1817.8 68h1.1v245h-1.1zM1822.3 68h0.9v245h-0.9zM1828.4 68h1.5v245h-1.5zM1830.4 68h1.3v245h-1.3zM1833.9 68h1.3v245h-1.3zM1846.0 68h1.1v245h-1.1zM1852.7 68h1.4v245h-1.4zM1858.5 68h1.1v245h-1.1zM1863.0 68h1.6v245h-1.6zM1871.4 68h1.5v245h-1.5zM1877.0 68h1.3v245h-1.3zM1880.4 68h1.0v245h-1.0zM1885.4 68h1.5v245h-1.5zM1888.7 68h1.2v245h-1.2zM1892.2 68h1.3v245h-1.3zM1896.5 68h1.0v245h-1.0zM1906.8 68h1.2v245h-1.2zM1914.3 68h1.5v245h-1.5zM1921.4 68h0.9v245h-0.9zM1928.8 68h1.5v245h-1.5zM1939.5 68h1.3v245h-1.3zM1949.5 68h0.9v245h-0.9zM1957.3 68h0.9v245h-0.9zM1964.4 68h1.5v245h-1.5zM1974.0 68h1.4v245h-1.4zM1978.3 68h1.1v245h-1.1zM1983.4 68h1.2v245h-1.2zM1993.1 68h1.4v245h-1.4zM1997.9 68h0.9v245h-0.9zM2000.3 68h0.9v245h-0.9zM2007.5 68h1.5v245h-1.5zM2012.0 68h1.2v245h-1.2zM2015.6 68h1.4v245h-1.4zM2022.8 68h0.8v245h-0.8zM2027.1 68h1.5v245h-1.5zM2034.1 68h1.3v245h-1.3zM2043.7 68h0.8v245h-0.8zM2054.6 68h1.1v245h-1.1z" fill="#fff" fill-opacity="0.10"/><path d="M1792.7 68h1.2v245h-1.2zM1798.8 68h1.3v245h-1.3zM1801.9 68h0.8v245h-0.8zM1806.7 68h1.3v245h-1.3zM1819.7 68h1.4v245h-1.4zM1836.5 68h1.1v245h-1.1zM1842.1 68h1.0v245h-1.0zM1860.4 68h1.2v245h-1.2zM1867.9 68h0.9v245h-0.9zM1898.1 68h1.2v245h-1.2zM1901.9 68h1.0v245h-1.0zM1918.2 68h0.9v245h-0.9zM1934.2 68h1.5v245h-1.5zM1943.1 68h1.4v245h-1.4zM1951.9 68h1.6v245h-1.6zM1967.9 68h0.9v245h-0.9zM1990.2 68h1.3v245h-1.3zM2030.1 68h1.4v245h-1.4zM2035.7 68h1.0v245h-1.0zM2040.5 68h1.2v245h-1.2zM2048.4 68h1.3v245h-1.3z" fill="#fff" fill-opacity="0.05"/></g>
<path d="M1826.0,97.0C1827.3,94.9 1829.9,86.7 1832.0,84.0C1834.1,81.3 1841.1,75.4 1844.0,74.0C1846.9,72.6 1853.8,71.8 1857.0,72.0C1860.2,72.2 1868.5,75.0 1871.0,76.0C1873.5,77.0 1873.2,80.3 1878.0,81.0C1882.8,81.7 1904.8,81.2 1912.0,82.0C1919.2,82.8 1930.0,86.0 1940.0,88.0C1950.0,90.0 1987.8,97.0 1998.0,99.0C2008.2,101.0 2022.6,103.2 2027.0,105.0C2031.4,106.8 2034.4,111.1 2036.0,114.0C2037.6,116.9 2040.1,116.1 2041.0,130.0C2041.9,143.9 2044.2,217.9 2044.0,233.0C2043.8,248.1 2042.0,251.5 2039.0,259.0C2036.0,266.5 2023.5,291.5 2018.0,297.0C2012.5,302.5 2010.1,307.1 1992.0,306.0C1973.9,304.9 1884.0,292.4 1863.0,288.0C1842.0,283.6 1820.5,274.2 1812.0,268.0C1803.5,261.8 1793.6,242.9 1790.0,235.0C1786.4,227.1 1782.0,206.9 1781.0,200.0C1780.0,193.1 1780.5,182.1 1781.0,176.0C1781.5,169.9 1783.2,153.7 1785.0,148.0C1786.8,142.3 1793.1,131.4 1796.0,127.0C1798.9,122.6 1807.1,112.9 1810.0,110.0C1812.9,107.1 1819.1,103.5 1821.0,102.0C1822.9,100.5 1824.7,99.1 1826.0,97.0Z" fill="none" stroke="#cfcfcf" stroke-width="1.8" stroke-opacity="0.9"/>
<rect x="1766.6" y="47.2" width="299.1" height="273.8" filter="url(#nz)" opacity="0.32" style="mix-blend-mode:overlay"/>
</g>
<rect x="1766.6" y="321.0" width="299.0999999999999" height="34.89999999999998" fill="#000"/>
<text transform="translate(1816.96,347.56) scale(0.9465,1)" font-family="&quot;Liberation Sans&quot;, Arial, sans-serif" font-weight="normal" font-size="24.49" fill="#fff" >SC - Uncalendered</text>
<rect x="1775.6" y="298.5" width="97.20000000000005" height="7.899999999999977" fill="#fff"/>
<text transform="translate(1774.46,286.31) scale(0.9583,1)" font-family="&quot;Liberation Sans&quot;, Arial, sans-serif" font-weight="bold" font-size="29.10" fill="#fff" >1um</text>
<clipPath id="c8"><path d="M1464.6,359.7H1761.4V633.6H1464.6Z"/></clipPath>
<g clip-path="url(#c8)"><rect x="1464.6" y="359.7" width="296.8000000000002" height="273.90000000000003" fill="#080808"/>
<path d="M1505.0,360.0C1545.3,355.8 1719.2,345.0 1762.0,360.0C1804.8,375.0 1764.0,438.3 1762.0,450.0C1760.0,461.7 1754.5,437.0 1750.0,430.0C1745.5,423.0 1743.3,414.7 1735.0,408.0C1726.7,401.3 1712.5,395.5 1700.0,390.0C1687.5,384.5 1676.7,378.7 1660.0,375.0C1643.3,371.3 1618.3,368.5 1600.0,368.0C1581.7,367.5 1563.3,369.2 1550.0,372.0C1536.7,374.8 1527.5,387.0 1520.0,385.0C1512.5,383.0 1464.7,364.2 1505.0,360.0Z" fill="#3a3a3a"/>
<g filter="url(#bl2)"><ellipse cx="1683" cy="383" rx="1.7" ry="1.6" fill="#151515" transform="rotate(164 1683 383)"/><ellipse cx="1718" cy="410" rx="3.1" ry="1.9" fill="#202020" transform="rotate(153 1718 410)"/><ellipse cx="1559" cy="414" rx="1.6" ry="1.3" fill="#111111" transform="rotate(90 1559 414)"/><ellipse cx="1525" cy="397" rx="3.5" ry="2.8" fill="#030303" transform="rotate(25 1525 397)"/><ellipse cx="1698" cy="385" rx="2.4" ry="2.2" fill="#1f1f1f" transform="rotate(174 1698 385)"/><ellipse cx="1616" cy="408" rx="2.0" ry="1.9" fill="#141414" transform="rotate(47 1616 408)"/><ellipse cx="1649" cy="401" rx="1.8" ry="1.1" fill="#1e1e1e" transform="rotate(129 1649 401)"/><ellipse cx="1737" cy="408" rx="1.6" ry="0.9" fill="#141414" transform="rotate(25 1737 408)"/><ellipse cx="1707" cy="418" rx="3.4" ry="1.9" fill="#080808" transform="rotate(179 1707 418)"/><ellipse cx="1670" cy="364" rx="3.3" ry="2.8" fill="#1f1f1f" transform="rotate(81 1670 364)"/><ellipse cx="1749" cy="382" rx="3.2" ry="2.5" fill="#020202" transform="rotate(38 1749 382)"/><ellipse cx="1560" cy="369" rx="2.9" ry="1.7" fill="#121212" transform="rotate(149 1560 369)"/><ellipse cx="1537" cy="362" rx="1.6" ry="1.2" fill="#010101" transform="rotate(3 1537 362)"/><ellipse cx="1639" cy="395" rx="3.4" ry="3.3" fill="#171717" transform="rotate(10 1639 395)"/><ellipse cx="1727" cy="381" rx="4.4" ry="2.3" fill="#121212" transform="rotate(12 1727 381)"/><ellipse cx="1601" cy="365" rx="1.9" ry="1.6" fill="#040404" transform="rotate(78 1601 365)"/><ellipse cx="1745" cy="413" rx="3.4" ry="1.7" fill="#050505" transform="rotate(49 1745 413)"/><ellipse cx="1526" cy="410" rx="3.1" ry="2.9" fill="#060606" transform="rotate(108 1526 410)"/><ellipse cx="1734" cy="372" rx="3.9" ry="3.2" fill="#222222" transform="rotate(5 1734 372)"/><ellipse cx="1551" cy="374" rx="3.0" ry="2.1" fill="#111111" transform="rotate(26 1551 374)"/><ellipse cx="1750" cy="393" rx="1.9" ry="1.4" fill="#191919" transform="rotate(4 1750 393)"/><ellipse cx="1580" cy="397" rx="3.6" ry="2.7" fill="#191919" transform="rotate(169 1580 397)"/><ellipse cx="1719" cy="374" rx="2.5" ry="1.5" fill="#212121" transform="rotate(84 1719 374)"/><ellipse cx="1526" cy="415" rx="1.7" ry="1.2" fill="#030303" transform="rotate(28 1526 415)"/><ellipse cx="1597" cy="408" rx="3.8" ry="2.9" fill="#020202" transform="rotate(60 1597 408)"/><ellipse cx="1591" cy="364" rx="2.6" ry="1.9" fill="#171717" transform="rotate(127 1591 364)"/><ellipse cx="1528" cy="393" rx="4.4" ry="2.8" fill="#151515" transform="rotate(156 1528 393)"/><ellipse cx="1646" cy="396" rx="3.1" ry="2.9" fill="#121212" transform="rotate(60 1646 396)"/><ellipse cx="1633" cy="414" rx="4.2" ry="3.2" fill="#030303" transform="rotate(20 1633 414)"/><ellipse cx="1667" cy="400" rx="3.6" ry="2.5" fill="#0a0a0a" transform="rotate(89 1667 400)"/><ellipse cx="1666" cy="370" rx="2.3" ry="1.8" fill="#0e0e0e" transform="rotate(120 1666 370)"/><ellipse cx="1648" cy="389" rx="2.2" ry="1.8" fill="#070707" transform="rotate(103 1648 389)"/><ellipse cx="1728" cy="376" rx="3.2" ry="3.1" fill="#191919" transform="rotate(134 1728 376)"/><ellipse cx="1757" cy="383" rx="3.6" ry="2.3" fill="#0f0f0f" transform="rotate(78 1757 383)"/><ellipse cx="1696" cy="406" rx="3.9" ry="3.7" fill="#0b0b0b" transform="rotate(170 1696 406)"/><ellipse cx="1577" cy="398" rx="2.5" ry="2.1" fill="#202020" transform="rotate(112 1577 398)"/><ellipse cx="1549" cy="409" rx="1.8" ry="1.8" fill="#0a0a0a" transform="rotate(19 1549 409)"/><ellipse cx="1568" cy="380" rx="2.0" ry="1.4" fill="#212121" transform="rotate(107 1568 380)"/><ellipse cx="1561" cy="403" rx="4.4" ry="2.8" fill="#0d0d0d" transform="rotate(28 1561 403)"/><ellipse cx="1741" cy="393" rx="3.9" ry="2.3" fill="#171717" transform="rotate(78 1741 393)"/><ellipse cx="1644" cy="367" rx="1.6" ry="1.3" fill="#090909" transform="rotate(79 1644 367)"/><ellipse cx="1735" cy="381" rx="4.4" ry="3.7" fill="#0c0c0c" transform="rotate(126 1735 381)"/><ellipse cx="1712" cy="387" rx="2.0" ry="1.1" fill="#212121" transform="rotate(179 1712 387)"/><ellipse cx="1655" cy="418" rx="2.2" ry="1.6" fill="#060606" transform="rotate(66 1655 418)"/><ellipse cx="1737" cy="404" rx="4.3" ry="2.9" fill="#020202" transform="rotate(18 1737 404)"/><ellipse cx="1604" cy="396" rx="1.8" ry="1.0" fill="#0f0f0f" transform="rotate(108 1604 396)"/><ellipse cx="1742" cy="362" rx="1.5" ry="0.9" fill="#171717" transform="rotate(59 1742 362)"/><ellipse cx="1712" cy="373" rx="4.0" ry="2.2" fill="#020202" transform="rotate(128 1712 373)"/><ellipse cx="1585" cy="363" rx="1.9" ry="1.5" fill="#030303" transform="rotate(2 1585 363)"/><ellipse cx="1670" cy="388" rx="4.4" ry="2.3" fill="#080808" transform="rotate(67 1670 388)"/><ellipse cx="1628" cy="395" rx="2.2" ry="2.1" fill="#0e0e0e" transform="rotate(131 1628 395)"/><ellipse cx="1521" cy="381" rx="4.4" ry="4.3" fill="#1e1e1e" transform="rotate(158 1521 381)"/><ellipse cx="1573" cy="369" rx="2.6" ry="1.7" fill="#1a1a1a" transform="rotate(179 1573 369)"/><ellipse cx="1725" cy="384" rx="1.9" ry="1.1" fill="#161616" transform="rotate(179 1725 384)"/><ellipse cx="1624" cy="400" rx="2.7" ry="2.1" fill="#222222" transform="rotate(137 1624 400)"/><ellipse cx="1663" cy="379" rx="3.0" ry="2.6" fill="#020202" transform="rotate(45 1663 379)"/><ellipse cx="1515" cy="362" rx="2.2" ry="1.9" fill="#191919" transform="rotate(24 1515 362)"/><ellipse cx="1664" cy="363" rx="1.7" ry="1.6" fill="#101010" transform="rotate(160 1664 363)"/><ellipse cx="1683" cy="390" rx="1.8" ry="1.2" fill="#131313" transform="rotate(167 1683 390)"/><ellipse cx="1571" cy="380" rx="3.8" ry="2.2" fill="#1f1f1f" transform="rotate(174 1571 380)"/><ellipse cx="1733" cy="373" rx="2.3" ry="1.4" fill="#010101" transform="rotate(176 1733 373)"/><ellipse cx="1760" cy="392" rx="2.9" ry="2.2" fill="#0c0c0c" transform="rotate(148 1760 392)"/><ellipse cx="1738" cy="385" rx="4.1" ry="3.2" fill="#0a0a0a" transform="rotate(170 1738 385)"/><ellipse cx="1683" cy="394" rx="1.7" ry="1.2" fill="#232323" transform="rotate(150 1683 394)"/><ellipse cx="1741" cy="397" rx="2.6" ry="1.6" fill="#212121" transform="rotate(169 1741 397)"/><ellipse cx="1688" cy="367" rx="3.1" ry="2.2" fill="#1e1e1e" transform="rotate(15 1688 367)"/><ellipse cx="1510" cy="388" rx="4.0" ry="3.4" fill="#060606" transform="rotate(143 1510 388)"/><ellipse cx="1554" cy="383" rx="2.6" ry="2.1" fill="#131313" transform="rotate(33 1554 383)"/><ellipse cx="1677" cy="410" rx="4.5" ry="4.1" fill="#212121" transform="rotate(36 1677 410)"/><ellipse cx="1711" cy="407" rx="4.2" ry="3.1" fill="#0c0c0c" transform="rotate(103 1711 407)"/><ellipse cx="1553" cy="384" rx="3.6" ry="2.6" fill="#1e1e1e" transform="rotate(49 1553 384)"/><ellipse cx="1718" cy="402" rx="2.6" ry="1.6" fill="#080808" transform="rotate(45 1718 402)"/><ellipse cx="1570" cy="420" rx="2.6" ry="1.8" fill="#171717" transform="rotate(169 1570 420)"/><ellipse cx="1550" cy="382" rx="3.1" ry="2.7" fill="#070707" transform="rotate(167 1550 382)"/><ellipse cx="1553" cy="386" rx="2.8" ry="1.8" fill="#151515" transform="rotate(19 1553 386)"/><ellipse cx="1700" cy="401" rx="3.5" ry="3.1" fill="#1e1e1e" transform="rotate(92 1700 401)"/><ellipse cx="1757" cy="374" rx="4.1" ry="2.6" fill="#0f0f0f" transform="rotate(50 1757 374)"/><ellipse cx="1730" cy="416" rx="4.4" ry="2.8" fill="#0a0a0a" transform="rotate(160 1730 416)"/><ellipse cx="1675" cy="374" rx="3.1" ry="2.8" fill="#151515" transform="rotate(33 1675 374)"/><ellipse cx="1517" cy="396" rx="4.4" ry="2.9" fill="#090909" transform="rotate(26 1517 396)"/><ellipse cx="1614" cy="384" rx="4.0" ry="3.9" fill="#020202" transform="rotate(52 1614 384)"/><ellipse cx="1676" cy="377" rx="3.8" ry="2.1" fill="#1e1e1e" transform="rotate(66 1676 377)"/><ellipse cx="1539" cy="383" rx="1.9" ry="1.5" fill="#151515" transform="rotate(20 1539 383)"/><ellipse cx="1522" cy="381" rx="2.6" ry="2.2" fill="#0f0f0f" transform="rotate(138 1522 381)"/><ellipse cx="1599" cy="393" rx="3.4" ry="3.3" fill="#191919" transform="rotate(102 1599 393)"/><ellipse cx="1582" cy="396" rx="4.3" ry="2.7" fill="#030303" transform="rotate(97 1582 396)"/><ellipse cx="1570" cy="390" rx="3.5" ry="2.9" fill="#1f1f1f" transform="rotate(149 1570 390)"/><ellipse cx="1754" cy="365" rx="3.1" ry="2.2" fill="#1e1e1e" transform="rotate(172 1754 365)"/><ellipse cx="1685" cy="394" rx="3.1" ry="2.2" fill="#070707" transform="rotate(121 1685 394)"/><ellipse cx="1678" cy="410" rx="4.1" ry="2.5" fill="#0a0a0a" transform="rotate(116 1678 410)"/><ellipse cx="1688" cy="366" rx="2.5" ry="2.0" fill="#161616" transform="rotate(89 1688 366)"/><ellipse cx="1577" cy="375" rx="3.2" ry="3.0" fill="#0d0d0d" transform="rotate(51 1577 375)"/><ellipse cx="1716" cy="396" rx="3.5" ry="2.4" fill="#1e1e1e" transform="rotate(38 1716 396)"/><ellipse cx="1610" cy="382" rx="1.9" ry="1.5" fill="#070707" transform="rotate(129 1610 382)"/><ellipse cx="1660" cy="394" rx="2.8" ry="1.8" fill="#121212" transform="rotate(83 1660 394)"/><ellipse cx="1724" cy="367" rx="4.2" ry="3.9" fill="#060606" transform="rotate(156 1724 367)"/><ellipse cx="1656" cy="409" rx="4.4" ry="3.9" fill="#101010" transform="rotate(27 1656 409)"/><ellipse cx="1531" cy="383" rx="2.5" ry="1.5" fill="#0f0f0f" transform="rotate(74 1531 383)"/><ellipse cx="1759" cy="415" rx="4.1" ry="3.9" fill="#212121" transform="rotate(12 1759 415)"/><ellipse cx="1731" cy="391" rx="2.7" ry="2.3" fill="#171717" transform="rotate(170 1731 391)"/><ellipse cx="1590" cy="402" rx="3.3" ry="1.8" fill="#080808" transform="rotate(78 1590 402)"/><ellipse cx="1760" cy="374" rx="3.0" ry="1.7" fill="#161616" transform="rotate(161 1760 374)"/><ellipse cx="1546" cy="385" rx="3.6" ry="3.1" fill="#181818" transform="rotate(20 1546 385)"/><ellipse cx="1618" cy="413" rx="1.7" ry="1.0" fill="#090909" transform="rotate(134 1618 413)"/><ellipse cx="1611" cy="420" rx="3.8" ry="3.1" fill="#0d0d0d" transform="rotate(156 1611 420)"/><ellipse cx="1727" cy="414" rx="3.5" ry="1.8" fill="#060606" transform="rotate(41 1727 414)"/><ellipse cx="1701" cy="397" rx="2.1" ry="1.3" fill="#212121" transform="rotate(160 1701 397)"/><ellipse cx="1759" cy="383" rx="4.4" ry="4.1" fill="#080808" transform="rotate(128 1759 383)"/><ellipse cx="1754" cy="413" rx="3.0" ry="1.5" fill="#1a1a1a" transform="rotate(86 1754 413)"/><ellipse cx="1711" cy="362" rx="4.3" ry="3.4" fill="#1b1b1b" transform="rotate(98 1711 362)"/><ellipse cx="1576" cy="412" rx="1.5" ry="1.0" fill="#656565" transform="rotate(156 1576 412)"/><ellipse cx="1549" cy="404" rx="1.7" ry="1.3" fill="#8a8a8a" transform="rotate(153 1549 404)"/><ellipse cx="1560" cy="407" rx="2.1" ry="2.1" fill="#656565" transform="rotate(108 1560 407)"/><ellipse cx="1672" cy="402" rx="2.5" ry="1.7" fill="#8e8e8e" transform="rotate(3 1672 402)"/><ellipse cx="1564" cy="374" rx="1.8" ry="1.2" fill="#969696" transform="rotate(173 1564 374)"/><ellipse cx="1690" cy="388" rx="1.7" ry="1.1" fill="#8e8e8e" transform="rotate(152 1690 388)"/><ellipse cx="1691" cy="410" rx="1.3" ry="0.7" fill="#686868" transform="rotate(129 1691 410)"/><ellipse cx="1712" cy="373" rx="2.9" ry="1.7" fill="#717171" transform="rotate(92 1712 373)"/><ellipse cx="1701" cy="409" rx="2.4" ry="1.9" fill="#959595" transform="rotate(95 1701 409)"/><ellipse cx="1662" cy="405" rx="2.2" ry="2.0" fill="#696969" transform="rotate(5 1662 405)"/><ellipse cx="1685" cy="391" rx="2.3" ry="2.0" fill="#696969" transform="rotate(107 1685 391)"/><ellipse cx="1549" cy="377" rx="2.1" ry="1.7" fill="#818181" transform="rotate(93 1549 377)"/><ellipse cx="1707" cy="367" rx="1.4" ry="0.7" fill="#717171" transform="rotate(7 1707 367)"/><ellipse cx="1610" cy="362" rx="1.4" ry="1.0" fill="#757575" transform="rotate(140 1610 362)"/><ellipse cx="1633" cy="394" rx="1.5" ry="1.1" fill="#959595" transform="rotate(137 1633 394)"/><ellipse cx="1646" cy="380" rx="1.9" ry="1.0" fill="#828282" transform="rotate(132 1646 380)"/><ellipse cx="1725" cy="371" rx="2.5" ry="2.2" fill="#797979" transform="rotate(38 1725 371)"/><ellipse cx="1625" cy="391" rx="1.7" ry="1.0" fill="#6e6e6e" transform="rotate(105 1625 391)"/><ellipse cx="1716" cy="374" rx="2.2" ry="1.7" fill="#797979" transform="rotate(106 1716 374)"/><ellipse cx="1678" cy="382" rx="2.4" ry="2.2" fill="#919191" transform="rotate(151 1678 382)"/><ellipse cx="1624" cy="401" rx="1.0" ry="0.7" fill="#888888" transform="rotate(104 1624 401)"/><ellipse cx="1645" cy="406" rx="1.1" ry="0.9" fill="#7b7b7b" transform="rotate(164 1645 406)"/><ellipse cx="1699" cy="402" rx="2.6" ry="1.5" fill="#878787" transform="rotate(44 1699 402)"/><ellipse cx="1755" cy="372" rx="2.9" ry="1.6" fill="#808080" transform="rotate(50 1755 372)"/><ellipse cx="1602" cy="388" rx="1.7" ry="1.5" fill="#959595" transform="rotate(148 1602 388)"/><ellipse cx="1726" cy="379" rx="2.7" ry="1.9" fill="#838383" transform="rotate(4 1726 379)"/><ellipse cx="1550" cy="393" rx="1.6" ry="0.9" fill="#959595" transform="rotate(38 1550 393)"/><ellipse cx="1699" cy="363" rx="1.6" ry="1.2" fill="#6a6a6a" transform="rotate(87 1699 363)"/><ellipse cx="1576" cy="368" rx="1.2" ry="0.9" fill="#8f8f8f" transform="rotate(45 1576 368)"/><ellipse cx="1555" cy="372" rx="2.4" ry="1.5" fill="#8e8e8e" transform="rotate(31 1555 372)"/><ellipse cx="1624" cy="362" rx="1.3" ry="1.2" fill="#656565" transform="rotate(90 1624 362)"/><ellipse cx="1524" cy="363" rx="2.8" ry="2.3" fill="#8c8c8c" transform="rotate(123 1524 363)"/><ellipse cx="1752" cy="376" rx="1.1" ry="0.6" fill="#8d8d8d" transform="rotate(73 1752 376)"/><ellipse cx="1611" cy="396" rx="2.8" ry="2.4" fill="#686868" transform="rotate(172 1611 396)"/><ellipse cx="1603" cy="365" rx="2.4" ry="2.2" fill="#767676" transform="rotate(48 1603 365)"/><ellipse cx="1635" cy="415" rx="1.7" ry="1.1" fill="#727272" transform="rotate(70 1635 415)"/><ellipse cx="1740" cy="396" rx="2.7" ry="1.7" fill="#7e7e7e" transform="rotate(118 1740 396)"/><ellipse cx="1742" cy="372" rx="1.9" ry="1.3" fill="#6b6b6b" transform="rotate(53 1742 372)"/><ellipse cx="1714" cy="393" rx="2.4" ry="1.4" fill="#878787" transform="rotate(39 1714 393)"/><ellipse cx="1538" cy="376" rx="1.5" ry="0.9" fill="#797979" transform="rotate(13 1538 376)"/><ellipse cx="1556" cy="391" rx="2.5" ry="1.5" fill="#7e7e7e" transform="rotate(138 1556 391)"/><ellipse cx="1758" cy="399" rx="1.3" ry="0.9" fill="#656565" transform="rotate(64 1758 399)"/><ellipse cx="1752" cy="377" rx="1.5" ry="1.4" fill="#858585" transform="rotate(157 1752 377)"/><ellipse cx="1587" cy="370" rx="1.3" ry="1.0" fill="#858585" transform="rotate(40 1587 370)"/><ellipse cx="1637" cy="411" rx="1.6" ry="1.2" fill="#7d7d7d" transform="rotate(167 1637 411)"/><ellipse cx="1584" cy="370" rx="2.5" ry="1.7" fill="#676767" transform="rotate(42 1584 370)"/><ellipse cx="1589" cy="386" rx="1.1" ry="0.8" fill="#757575" transform="rotate(122 1589 386)"/><ellipse cx="1705" cy="361" rx="2.4" ry="2.2" fill="#707070" transform="rotate(19 1705 361)"/><ellipse cx="1756" cy="400" rx="2.1" ry="1.4" fill="#707070" transform="rotate(91 1756 400)"/><ellipse cx="1760" cy="409" rx="2.2" ry="1.3" fill="#808080" transform="rotate(126 1760 409)"/></g>
<path d="M1738.0,392.0C1740.2,388.8 1746.8,383.7 1750.0,383.0C1753.2,382.3 1756.7,383.5 1757.0,388.0C1757.3,392.5 1754.5,406.0 1752.0,410.0C1749.5,414.0 1744.5,413.3 1742.0,412.0C1739.5,410.7 1737.7,405.3 1737.0,402.0C1736.3,398.7 1735.8,395.2 1738.0,392.0Z" fill="#000" stroke="#d0d0d0" stroke-width="1.2"/>
<clipPath id="c9"><path d="M1464.0,360.0C1472.5,339.2 1505.3,357.0 1515.0,360.0C1524.7,363.0 1522.5,371.7 1522.0,378.0C1521.5,384.3 1516.5,389.7 1512.0,398.0C1507.5,406.3 1500.3,417.7 1495.0,428.0C1489.7,438.3 1484.2,451.0 1480.0,460.0C1475.8,469.0 1472.7,477.8 1470.0,482.0C1467.3,486.2 1465.0,505.3 1464.0,485.0C1463.0,464.7 1455.5,380.8 1464.0,360.0Z"/></clipPath>
<g clip-path="url(#c9)"><rect x="1460" y="355" width="70" height="140" fill="#2e2e2e"/><path d="M1471.2,463.4C1467.5,460.6 1462.7,451.0 1462.0,446.9C1461.3,442.8 1463.3,436.1 1467.0,438.6C1470.7,441.0 1481.3,457.5 1484.1,461.7C1487.0,465.9 1486.2,463.4 1484.1,463.7C1481.9,463.9 1474.9,466.2 1471.2,463.4Z" fill="#a3a3a3"/><path d="M1488.9,466.1C1488.3,463.5 1486.2,467.2 1489.0,464.2C1491.7,461.1 1502.0,448.7 1505.4,447.8C1508.9,446.9 1510.2,452.5 1509.6,458.9C1509.1,465.2 1504.9,482.2 1502.0,485.8C1499.2,489.3 1494.8,483.4 1492.6,480.1C1490.4,476.9 1489.5,468.8 1488.9,466.1Z" fill="#ababab"/><path d="M1496.5,413.1C1491.1,416.3 1474.0,421.1 1468.7,422.2C1463.5,423.3 1466.3,424.2 1465.0,419.5C1463.6,414.8 1455.5,401.4 1460.4,393.8C1465.4,386.3 1488.1,372.5 1494.8,374.0C1501.6,375.4 1500.6,396.1 1500.9,402.7C1501.1,409.2 1501.8,409.8 1496.5,413.1Z" fill="#a7a7a7"/><path d="M1567.5,408.5C1565.6,403.9 1519.7,404.3 1509.3,405.5C1498.8,406.8 1504.3,411.8 1504.9,415.9C1505.4,420.1 1510.0,427.5 1512.6,430.4C1515.2,433.2 1511.5,436.6 1520.6,432.9C1529.8,429.3 1569.4,413.0 1567.5,408.5Z" fill="#838383"/><path d="M1443.9,473.6C1452.3,468.2 1462.1,469.0 1468.3,468.2C1474.5,467.3 1478.4,466.0 1481.2,468.4C1483.9,470.8 1495.4,477.1 1484.9,482.4C1474.3,487.8 1424.5,502.0 1417.6,500.6C1410.8,499.1 1435.5,479.0 1443.9,473.6Z" fill="#979797"/><path d="M1513.1,461.0C1508.9,464.2 1505.7,482.4 1505.5,487.9C1505.3,493.4 1507.9,497.3 1512.0,494.1C1516.2,491.0 1530.0,474.5 1530.2,469.0C1530.4,463.5 1517.2,457.9 1513.1,461.0Z" fill="#969696"/><path d="M1498.1,419.4C1492.2,418.5 1475.0,426.0 1470.4,428.5C1465.7,431.1 1467.3,429.9 1470.1,434.8C1472.9,439.7 1481.6,456.8 1487.2,457.9C1492.8,459.1 1500.6,445.6 1503.7,441.6C1506.8,437.6 1506.8,437.5 1505.9,433.8C1504.9,430.1 1504.0,420.3 1498.1,419.4Z" fill="#a0a0a0"/><path d="M1520.4,439.0C1515.6,435.7 1514.1,435.6 1512.4,436.4C1510.7,437.3 1509.8,441.1 1510.2,444.2C1510.5,447.3 1510.8,452.1 1514.4,455.2C1517.9,458.4 1527.0,463.0 1531.5,463.2C1536.0,463.4 1543.0,460.4 1541.1,456.4C1539.3,452.3 1525.2,442.3 1520.4,439.0Z" fill="#9d9d9d"/><path d="M1443.4,470.0C1441.9,467.3 1454.5,449.0 1458.6,448.1C1462.7,447.2 1470.3,461.0 1467.8,464.6C1465.2,468.3 1444.9,472.8 1443.4,470.0Z" fill="#979797"/></g>
<path d="M1745.0,415.0C1747.7,398.3 1759.2,390.8 1762.0,420.0C1764.8,449.2 1763.7,564.2 1762.0,590.0C1760.3,615.8 1754.7,586.7 1752.0,575.0C1749.3,563.3 1747.2,546.7 1746.0,520.0C1744.8,493.3 1742.3,431.7 1745.0,415.0Z" fill="#3c3c3c"/>
<g filter="url(#bl2)"><ellipse cx="1748" cy="462" rx="4.0" ry="3.0" fill="#747474" transform="rotate(13 1748 462)"/><ellipse cx="1756" cy="558" rx="2.0" ry="1.4" fill="#afafaf" transform="rotate(132 1756 558)"/><ellipse cx="1760" cy="517" rx="3.0" ry="1.6" fill="#717171" transform="rotate(70 1760 517)"/><ellipse cx="1760" cy="490" rx="1.5" ry="1.3" fill="#838383" transform="rotate(110 1760 490)"/><ellipse cx="1760" cy="564" rx="3.8" ry="2.3" fill="#777777" transform="rotate(20 1760 564)"/><ellipse cx="1758" cy="550" rx="1.9" ry="1.3" fill="#919191" transform="rotate(146 1758 550)"/><ellipse cx="1758" cy="482" rx="2.4" ry="1.8" fill="#a5a5a5" transform="rotate(108 1758 482)"/><ellipse cx="1756" cy="532" rx="2.7" ry="2.2" fill="#ababab" transform="rotate(92 1756 532)"/><ellipse cx="1761" cy="549" rx="2.2" ry="1.5" fill="#949494" transform="rotate(111 1761 549)"/><ellipse cx="1750" cy="573" rx="2.2" ry="1.8" fill="#848484" transform="rotate(73 1750 573)"/><ellipse cx="1753" cy="480" rx="3.7" ry="2.4" fill="#686868" transform="rotate(36 1753 480)"/><ellipse cx="1747" cy="490" rx="2.1" ry="1.5" fill="#7c7c7c" transform="rotate(133 1747 490)"/><ellipse cx="1753" cy="482" rx="2.4" ry="1.5" fill="#adadad" transform="rotate(109 1753 482)"/><ellipse cx="1750" cy="459" rx="3.8" ry="2.0" fill="#a2a2a2" transform="rotate(22 1750 459)"/></g>
<g filter="url(#bl2)"><ellipse cx="1510" cy="599" rx="2.0" ry="1.0" fill="#595959" transform="rotate(84 1510 599)"/><ellipse cx="1515" cy="618" rx="3.9" ry="2.6" fill="#4e4e4e" transform="rotate(177 1515 618)"/><ellipse cx="1499" cy="598" rx="3.6" ry="2.6" fill="#656565" transform="rotate(107 1499 598)"/><ellipse cx="1539" cy="630" rx="2.0" ry="1.8" fill="#2f2f2f" transform="rotate(3 1539 630)"/><ellipse cx="1510" cy="594" rx="3.7" ry="2.0" fill="#5a5a5a" transform="rotate(169 1510 594)"/><ellipse cx="1471" cy="604" rx="2.2" ry="2.2" fill="#4e4e4e" transform="rotate(45 1471 604)"/><ellipse cx="1485" cy="625" rx="2.0" ry="1.1" fill="#5f5f5f" transform="rotate(36 1485 625)"/><ellipse cx="1471" cy="596" rx="1.9" ry="1.9" fill="#525252" transform="rotate(76 1471 596)"/><ellipse cx="1478" cy="619" rx="2.9" ry="1.9" fill="#303030" transform="rotate(118 1478 619)"/><ellipse cx="1470" cy="608" rx="2.2" ry="1.4" fill="#6a6a6a" transform="rotate(167 1470 608)"/><ellipse cx="1529" cy="624" rx="3.4" ry="3.0" fill="#434343" transform="rotate(100 1529 624)"/><ellipse cx="1467" cy="614" rx="2.7" ry="1.7" fill="#3a3a3a" transform="rotate(43 1467 614)"/><ellipse cx="1528" cy="630" rx="2.0" ry="1.1" fill="#535353" transform="rotate(75 1528 630)"/><ellipse cx="1509" cy="593" rx="3.6" ry="2.4" fill="#5b5b5b" transform="rotate(153 1509 593)"/><ellipse cx="1537" cy="606" rx="3.0" ry="1.6" fill="#4e4e4e" transform="rotate(106 1537 606)"/><ellipse cx="1522" cy="621" rx="1.6" ry="0.9" fill="#353535" transform="rotate(112 1522 621)"/></g>
<clipPath id="c10"><path d="M1519,392Q1522,382 1534,382Q1540,375 1550,373Q1555,364 1565,368Q1577,362 1592,363Q1602,359 1612,362Q1621,357 1629,361Q1642,358 1653,366Q1673,371 1690,384Q1709,387 1719,399Q1735,405 1744,417Q1756,428 1756,443Q1762,460 1759,478Q1765,496 1759,515Q1759,528 1753,539Q1750,547 1741,552Q1742,560 1731,561Q1729,572 1720,577Q1716,590 1707,598Q1699,611 1687,619Q1685,631 1678,632Q1661,638 1641,635Q1594,638 1548,634Q1537,633 1532,622Q1525,617 1526,603Q1519,597 1517,585Q1509,576 1507,561Q1496,547 1496,528Q1488,511 1488,493Q1479,479 1480,465Q1472,452 1478,441Q1478,428 1487,419Q1491,408 1504,402Q1508,395 1519,392Z"/></clipPath>
<g clip-path="url(#c10)"><rect x="1465" y="355" width="302" height="284" fill="#bcbcbc"/><g filter="url(#bl2)"><path d="M1557,585 1535,585 1534,583 1539,568 1558,566Z" fill="#b9b9b9"/><path d="M1623,387 1622,390 1619,395 1601,400 1580,389 1582,347 1611,362Z" fill="#aaaaaa"/><path d="M1536,392 1578,338 1574,320 1524,379 1526,385 1532,392Z" fill="#aeaeae"/><path d="M1642,603 1611,611 1618,625 1645,614 1645,607Z" fill="#d2d2d2"/><path d="M1592,459 1596,451 1588,443 1580,442 1578,445Z" fill="#bcbcbc"/><path d="M1578,445 1580,442 1584,429 1585,428 1567,425 1556,443 1557,445 1568,445Z" fill="#a9a9a9"/><path d="M1475,506 1403,533 1392,535 1301,536 1475,468 1477,503Z" fill="#b3b3b3"/><path d="M1588,513 1604,553 1628,536 1634,518 1599,509Z" fill="#aeaeae"/><path d="M1471,600 1476,580 1476,579 1492,572 1493,572 1500,595 1491,602Z" fill="#a7a7a7"/><path d="M1502,444 1476,465 1470,454 1472,442 1479,430 1499,431Z" fill="#d1d1d1"/><path d="M1525,606 1535,585 1534,583 1512,565 1508,567 1520,603Z" fill="#b3b3b3"/><path d="M1725,447 1724,440 1750,441 1758,455 1758,457Z" fill="#cfcfcf"/><path d="M1736,519 1712,484 1725,475 1743,481 1767,511 1739,520Z" fill="#b4b4b4"/><path d="M1650,549 1636,542 1639,567Z" fill="#cfcfcf"/><path d="M1476,466 1475,468 1301,536 131,613 1470,454 1476,465Z" fill="#bcbcbc"/><path d="M1589,632 1604,639 1619,637 1618,625 1611,611 1603,599Z" fill="#b6b6b6"/><path d="M1596,589 1576,614 1587,632 1589,632 1603,599 1597,589Z" fill="#b5b5b5"/><path d="M1520,603 1508,567 1493,572 1500,595Z" fill="#b8b8b8"/><path d="M1585,428 1596,422 1601,400 1580,389 1560,397 1567,425Z" fill="#bcbcbc"/><path d="M1584,429 1588,443 1596,451 1606,438 1596,422 1585,428Z" fill="#b1b1b1"/><path d="M1596,589 1564,589 1545,625 1546,627 1560,626 1576,614Z" fill="#b9b9b9"/><path d="M1709,536 1688,529 1686,526 1700,509 1718,518Z" fill="#aeaeae"/><path d="M1587,632 1578,640 1560,626 1576,614Z" fill="#c4c4c4"/><path d="M1557,585 1535,585 1525,606 1526,610 1545,625 1564,589Z" fill="#b6b6b6"/><path d="M1536,392 1578,338 1582,347 1580,389 1560,397Z" fill="#c8c8c8"/><path d="M1724,452 1685,460 1685,422 1715,410 1724,440 1725,447Z" fill="#aeaeae"/><path d="M1455,408 1446,407 1341,378 1416,371 1475,380 1477,385Z" fill="#cbcbcb"/><path d="M1567,425 1560,397 1536,392 1532,392 1525,420 1529,427 1549,442 1556,443Z" fill="#cdcdcd"/><path d="M1696,581 1729,596 1736,586 1732,567 1726,558 1698,574Z" fill="#cdcdcd"/><path d="M1514,504 1553,510 1547,529 1535,537 1524,539 1505,530 1502,528Z" fill="#cccccc"/><path d="M1732,567 1736,586 2150,583 1965,546 1906,539Z" fill="#a6a6a6"/><path d="M1670,528 1635,516 1637,506 1645,489 1664,491 1681,525Z" fill="#c8c8c8"/><path d="M1479,430 1474,419 1455,408 1446,407 1459,437 1472,442Z" fill="#a5a5a5"/><path d="M1592,459 1578,445 1568,445 1591,468Z" fill="#b0b0b0"/><path d="M1687,628 1731,631 1727,617 1701,606Z" fill="#acacac"/><path d="M1571,483 1591,472 1603,475 1607,494 1599,509 1588,513 1560,499 1560,499Z" fill="#bababa"/><path d="M1657,391 1642,370 1667,337 1675,358 1666,386Z" fill="#c2c2c2"/><path d="M1529,427 1525,420 1502,429 1499,431 1502,444 1510,461 1522,448Z" fill="#a5a5a5"/><path d="M1682,629 1678,636 1668,633 1656,618 1672,609 1678,616Z" fill="#cccccc"/><path d="M1507,489 1515,475 1510,468 1476,466 1475,468 1477,503Z" fill="#c1c1c1"/><path d="M1578,640 1581,653 1526,980 1526,950 1533,695 1546,627 1560,626Z" fill="#c2c2c2"/><path d="M1703,487 1687,479 1664,491 1681,525 1686,526 1700,509Z" fill="#a5a5a5"/><path d="M1587,632 1578,640 1581,653 1604,639 1589,632Z" fill="#b0b0b0"/><path d="M1668,633 1650,630 1651,619 1656,618Z" fill="#a7a7a7"/><path d="M1488,397 1493,396 1526,385 1524,379 1498,343 1475,380 1477,385Z" fill="#a6a6a6"/><path d="M1700,605 1691,586 1696,581 1729,596 1727,617 1701,606Z" fill="#cbcbcb"/><path d="M1514,504 1553,510 1560,499 1560,499 1532,477 1515,475 1507,489Z" fill="#a8a8a8"/><path d="M1574,320 1556,-181 1497,341 1498,343 1524,379Z" fill="#c9c9c9"/><path d="M1678,422 1660,426 1653,439 1653,456 1684,463 1685,460 1685,422 1682,421Z" fill="#b1b1b1"/><path d="M1676,563 1678,552 1688,545 1693,551 1693,563Z" fill="#d1d1d1"/><path d="M1524,539 1512,565 1508,567 1493,572 1492,572 1490,567 1505,530Z" fill="#adadad"/><path d="M1490,567 1492,572 1476,579 1392,535 1403,533 1477,549Z" fill="#bbbbbb"/><path d="M1514,504 1502,528 1501,528 1475,506 1477,503 1507,489Z" fill="#ababab"/><path d="M1475,506 1403,533 1477,549 1501,528Z" fill="#ababab"/><path d="M1667,337 1642,370 1623,387 1611,362 1667,312Z" fill="#bebebe"/><path d="M1688,529 1688,545 1678,552 1660,548 1670,528 1681,525 1686,526Z" fill="#d2d2d2"/><path d="M1765,368 1798,403 1769,411 1723,401 1724,399Z" fill="#bdbdbd"/><path d="M1592,459 1596,451 1606,438 1619,441 1621,444 1625,469 1603,475 1591,472 1591,468Z" fill="#a6a6a6"/><path d="M1758,455 1750,441 1766,423 1766,442Z" fill="#cfcfcf"/><path d="M1556,443 1549,442 1538,458 1532,477 1560,499 1571,483 1557,445Z" fill="#c0c0c0"/><path d="M1667,312 1689,174 1624,-1957 1556,-181 1574,320 1578,338 1582,347 1611,362Z" fill="#d0d0d0"/><path d="M1719,403 1715,410 1724,440 1750,441 1766,423 1769,411 1723,401Z" fill="#b2b2b2"/><path d="M1661,577 1672,590 1691,586 1696,581 1698,574 1693,563 1676,563 1661,575Z" fill="#aeaeae"/><path d="M1736,519 1712,484 1703,487 1700,509 1718,518Z" fill="#c3c3c3"/><path d="M1661,577 1639,580 1637,581 1642,603 1645,607 1671,594 1672,590Z" fill="#b7b7b7"/><path d="M1759,459 1926,529 1766,442 1758,455 1758,457Z" fill="#b5b5b5"/><path d="M1666,386 1675,358 1719,403 1715,410 1685,422 1682,421Z" fill="#acacac"/><path d="M1739,520 1767,511 1833,528 1726,556 1724,551 1724,550Z" fill="#b2b2b2"/><path d="M1645,614 1651,619 1650,630 1642,640 1627,649 1619,637 1618,625Z" fill="#bdbdbd"/><path d="M1765,368 1724,399 1735,331 1762,354Z" fill="#b8b8b8"/><path d="M1621,444 1625,469 1639,476 1653,456 1653,439Z" fill="#c7c7c7"/><path d="M1667,337 1675,358 1719,403 1723,401 1724,399 1735,331 1689,174 1667,312Z" fill="#bababa"/><path d="M1491,629 1526,950 1533,695 1506,627Z" fill="#aaaaaa"/><path d="M1656,393 1678,422 1660,426 1658,425 1653,404Z" fill="#d1d1d1"/><path d="M1547,529 1561,543 1558,566 1558,566 1539,568 1535,537Z" fill="#c3c3c3"/><path d="M1553,510 1560,499 1588,513 1604,553 1601,559 1561,543 1547,529Z" fill="#b6b6b6"/><path d="M1471,600 1476,580 1021,776 1436,629Z" fill="#d0d0d0"/><path d="M1700,605 1691,586 1672,590 1671,594 1672,609 1678,616Z" fill="#c2c2c2"/><path d="M1535,537 1539,568 1534,583 1512,565 1524,539Z" fill="#c0c0c0"/><path d="M1682,629 1678,616 1700,605 1701,606 1687,628Z" fill="#a9a9a9"/><path d="M1502,528 1505,530 1490,567 1477,549 1501,528Z" fill="#d1d1d1"/><path d="M1724,452 1725,475 1743,481 1759,459 1758,457 1725,447Z" fill="#b1b1b1"/><path d="M1639,567 1639,580 1637,581 1602,579 1601,559 1604,553 1628,536 1636,542Z" fill="#cecece"/><path d="M1499,431 1479,430 1474,419 1488,397 1493,396 1502,429Z" fill="#cacaca"/><path d="M1655,392 1657,391 1642,370 1623,387 1622,390 1639,393Z" fill="#c7c7c7"/><path d="M1498,343 1475,380 1416,371 1497,341Z" fill="#bebebe"/><path d="M1526,610 1545,625 1546,627 1533,695 1506,627Z" fill="#b3b3b3"/><path d="M1645,489 1639,476 1653,456 1684,463 1687,479 1664,491Z" fill="#ababab"/><path d="M1645,607 1671,594 1672,609 1656,618 1651,619 1645,614Z" fill="#cbcbcb"/><path d="M1597,589 1601,580 1602,579 1637,581 1642,603 1611,611 1603,599Z" fill="#c0c0c0"/><path d="M1491,602 1500,595 1520,603 1525,606 1526,610 1506,627 1491,629 1489,627Z" fill="#acacac"/><path d="M1661,575 1656,551 1660,548 1678,552 1676,563Z" fill="#cacaca"/><path d="M1529,427 1549,442 1538,458 1522,448Z" fill="#c5c5c5"/><path d="M1658,425 1632,415 1619,441 1621,444 1653,439 1660,426Z" fill="#d1d1d1"/><path d="M1693,563 1693,551 1724,551 1726,556 1726,558 1698,574Z" fill="#bdbdbd"/><path d="M1584,429 1588,443 1580,442Z" fill="#adadad"/><path d="M1709,536 1688,529 1688,545 1693,551 1724,551 1724,550Z" fill="#a9a9a9"/><path d="M1607,494 1637,506 1635,516 1634,518 1599,509Z" fill="#b3b3b3"/><path d="M1596,589 1564,589 1557,585 1558,566 1558,566 1601,580 1597,589Z" fill="#b1b1b1"/><path d="M1653,404 1658,425 1632,415 1619,395 1622,390 1639,393Z" fill="#cacaca"/><path d="M1661,577 1639,580 1639,567 1650,549 1656,551 1661,575Z" fill="#aeaeae"/><path d="M1474,419 1488,397 1477,385 1455,408Z" fill="#c1c1c1"/><path d="M1656,393 1678,422 1682,421 1666,386 1657,391 1655,392Z" fill="#b3b3b3"/><path d="M1510,461 1510,468 1476,466 1476,465 1502,444Z" fill="#c2c2c2"/><path d="M1532,392 1526,385 1493,396 1502,429 1525,420Z" fill="#bcbcbc"/><path d="M1906,539 1965,546 1926,529 1759,459 1743,481 1767,511 1833,528Z" fill="#cdcdcd"/><path d="M1603,475 1625,469 1639,476 1645,489 1637,506 1607,494Z" fill="#b4b4b4"/><path d="M1650,549 1656,551 1660,548 1670,528 1635,516 1634,518 1628,536 1636,542Z" fill="#bcbcbc"/><path d="M1601,580 1602,579 1601,559 1561,543 1558,566Z" fill="#acacac"/><path d="M1726,558 1732,567 1906,539 1833,528 1726,556Z" fill="#d2d2d2"/><path d="M1619,441 1606,438 1596,422 1601,400 1619,395 1632,415Z" fill="#c0c0c0"/><path d="M1712,484 1725,475 1724,452 1685,460 1684,463 1687,479 1703,487Z" fill="#c4c4c4"/><path d="M1668,633 1650,630 1642,640 1676,648 1678,636Z" fill="#b8b8b8"/><path d="M1656,393 1653,404 1639,393 1655,392Z" fill="#c8c8c8"/><path d="M1522,448 1510,461 1510,468 1515,475 1532,477 1538,458Z" fill="#cfcfcf"/><path d="M1471,600 1491,602 1489,627 1436,629Z" fill="#c8c8c8"/><path d="M1736,519 1718,518 1709,536 1724,550 1739,520Z" fill="#b0b0b0"/><path d="M1591,468 1591,472 1571,483 1557,445 1568,445Z" fill="#c8c8c8"/><path d="M1769,411 1766,423M1766,423 1766,442M1750,441 1766,423M1750,441 1758,455M1766,442 1758,455M1729,596 1727,617M1729,596 1736,586M1731,631 1727,617M1724,440 1715,410M1724,440 1750,441M1769,411 1723,401M1715,410 1719,403M1723,401 1719,403M1475,380 1498,343M1524,379 1574,320M1477,385 1488,397M1477,385 1455,408M1488,397 1474,419M1493,396 1488,397M1493,396 1526,385M1475,380 1477,385M1526,385 1524,379M1474,419 1479,430M1472,442 1479,430M1619,637 1604,639M1472,442 1470,454M1476,579 1476,580M1493,572 1508,567M1493,572 1500,595M1508,567 1520,603M1500,595 1520,603M1535,585 1534,583M1535,585 1525,606M1534,583 1512,565M1508,567 1512,565M1520,603 1525,606M1506,627 1491,629M1546,627 1545,625M1546,627 1533,695M1545,625 1526,610M1506,627 1526,610M1743,481 1725,475M1743,481 1759,459M1758,457 1759,459M1758,457 1725,447M1725,475 1724,452M1725,447 1724,452M1758,455 1758,457M1724,440 1725,447M1715,410 1685,422M1685,422 1685,460M1685,460 1724,452M1732,567 1726,558M1726,556 1726,558M1767,511 1743,481M1767,511 1833,528M1736,586 1732,567M1637,506 1645,489M1637,506 1635,516M1635,516 1670,528M1664,491 1645,489M1664,491 1681,525M1681,525 1670,528M1639,476 1645,489M1639,476 1653,456M1653,456 1684,463M1687,479 1684,463M1687,479 1664,491M1634,518 1628,536M1634,518 1599,509M1628,536 1604,553M1604,553 1588,513M1599,509 1588,513M1634,518 1635,516M1637,506 1607,494M1599,509 1607,494M1639,476 1625,469M1625,469 1603,475M1607,494 1603,475M1636,542 1650,549M1636,542 1639,567M1639,567 1650,549M1660,548 1670,528M1660,548 1656,551M1656,551 1650,549M1628,536 1636,542M1639,580 1639,567M1639,580 1637,581M1601,559 1602,579M1601,559 1604,553M1637,581 1602,579M1651,619 1650,630M1651,619 1656,618M1650,630 1668,633M1656,618 1668,633M1642,640 1650,630M1678,636 1668,633M1724,399 1765,368M1762,354 1765,368M1723,401 1724,399M1611,362 1623,387M1611,362 1667,312M1623,387 1642,370M1642,370 1667,337M1601,400 1580,389M1601,400 1619,395M1619,395 1622,390M1622,390 1623,387M1719,403 1675,358M1675,358 1667,337M1618,625 1611,611M1618,625 1645,614M1611,611 1642,603M1645,614 1645,607M1645,607 1642,603M1651,619 1645,614M1619,637 1618,625M1671,594 1672,609M1671,594 1645,607M1656,618 1672,609M1546,627 1560,626M1560,626 1578,640M1470,454 1476,465M1475,468 1476,466M1476,465 1476,466M1561,543 1601,559M1561,543 1558,566M1602,579 1601,580M1558,566 1601,580M1539,568 1534,583M1539,568 1558,566M1535,585 1557,585M1558,566 1557,585M1545,625 1564,589M1526,610 1525,606M1564,589 1557,585M1476,579 1492,572M1492,572 1490,567M1477,549 1490,567M1489,627 1491,602M1489,627 1436,629M1491,602 1471,600M1500,595 1491,602M1491,629 1489,627M1492,572 1493,572M1476,580 1471,600M1698,574 1693,563M1698,574 1696,581M1693,563 1676,563M1696,581 1691,586M1691,586 1672,590M1672,590 1661,577M1676,563 1661,575M1661,575 1661,577M1726,556 1724,551M1726,558 1698,574M1693,551 1724,551M1693,551 1693,563M1729,596 1696,581M1678,552 1688,545M1678,552 1676,563M1688,545 1693,551M1639,580 1661,577M1671,594 1672,590M1637,581 1642,603M1660,548 1678,552M1656,551 1661,575M1688,545 1688,529M1681,525 1686,526M1686,526 1688,529M1678,616 1682,629M1678,616 1700,605M1701,606 1687,628M1701,606 1700,605M1687,628 1682,629M1672,609 1678,616M1678,636 1682,629M1691,586 1700,605M1731,631 1687,628M1727,617 1701,606M1653,456 1653,439M1625,469 1621,444M1653,439 1621,444M1601,400 1596,422M1619,395 1632,415M1606,438 1596,422M1606,438 1619,441M1632,415 1619,441M1653,439 1660,426M1632,415 1658,425M1621,444 1619,441M1660,426 1658,425M1560,499 1588,513M1560,499 1560,499M1603,475 1591,472M1591,472 1571,483M1560,499 1571,483M1493,396 1502,429M1479,430 1499,431M1502,429 1499,431M1476,465 1502,444M1499,431 1502,444M1476,466 1510,468M1510,468 1510,461M1502,444 1510,461M1576,614 1587,632M1576,614 1596,589M1603,599 1597,589M1603,599 1589,632M1589,632 1587,632M1597,589 1596,589M1560,626 1576,614M1578,640 1587,632M1564,589 1596,589M1611,611 1603,599M1601,580 1597,589M1604,639 1589,632M1558,566 1558,566M1512,565 1524,539M1490,567 1505,530M1505,530 1524,539M1539,568 1535,537M1524,539 1535,537M1561,543 1547,529M1535,537 1547,529M1560,499 1553,510M1547,529 1553,510M1687,479 1703,487M1686,526 1700,509M1700,509 1703,487M1685,460 1684,463M1725,475 1712,484M1703,487 1712,484M1685,422 1682,421M1660,426 1678,422M1682,421 1678,422M1675,358 1666,386M1682,421 1666,386M1642,370 1657,391M1666,386 1657,391M1639,393 1653,404M1639,393 1655,392M1653,404 1656,393M1655,392 1656,393M1622,390 1639,393M1658,425 1653,404M1657,391 1655,392M1678,422 1656,393M1526,385 1532,392M1502,429 1525,420M1525,420 1532,392M1580,389 1560,397M1560,397 1536,392M1532,392 1536,392M1501,528 1502,528M1501,528 1475,506M1502,528 1514,504M1477,503 1507,489M1477,503 1475,506M1507,489 1514,504M1477,549 1501,528M1505,530 1502,528M1553,510 1514,504M1475,468 1477,503M1515,475 1510,468M1515,475 1507,489M1515,475 1532,477M1532,477 1560,499M1718,518 1736,519M1718,518 1709,536M1724,550 1709,536M1724,550 1739,520M1739,520 1736,519M1700,509 1718,518M1712,484 1736,519M1688,529 1709,536M1724,551 1724,550M1767,511 1739,520M1538,458 1549,442M1538,458 1522,448M1549,442 1529,427M1522,448 1529,427M1532,477 1538,458M1510,461 1522,448M1525,420 1529,427M1571,483 1557,445M1549,442 1556,443M1557,445 1556,443M1560,397 1567,425M1556,443 1567,425M1588,443 1580,442M1588,443 1584,429M1580,442 1584,429M1596,422 1585,428M1567,425 1585,428M1606,438 1596,451M1596,451 1588,443M1585,428 1584,429M1568,445 1578,445M1568,445 1591,468M1578,445 1592,459M1591,468 1592,459M1557,445 1568,445M1580,442 1578,445M1591,472 1591,468M1596,451 1592,459" fill="none" stroke="#3a3a3a" stroke-opacity="0.22" stroke-width="0.8"/></g><path d="M1472.8 360h0.7v274h-0.7zM1514.9 360h1.2v274h-1.2zM1537.8 360h0.8v274h-0.8zM1541.9 360h1.1v274h-1.1zM1552.1 360h1.1v274h-1.1zM1560.7 360h0.7v274h-0.7zM1566.1 360h0.7v274h-0.7zM1607.6 360h0.7v274h-0.7zM1617.7 360h1.3v274h-1.3zM1659.2 360h1.1v274h-1.1zM1672.9 360h0.8v274h-0.8zM1675.4 360h0.9v274h-0.9zM1684.2 360h1.0v274h-1.0zM1698.4 360h0.7v274h-0.7zM1700.4 360h1.2v274h-1.2zM1740.5 360h0.7v274h-0.7zM1743.3 360h1.2v274h-1.2z" fill="#fff" fill-opacity="0.40"/><path d="M1475.7 360h1.0v274h-1.0zM1501.7 360h0.9v274h-0.9zM1523.8 360h1.2v274h-1.2zM1530.7 360h1.0v274h-1.0zM1549.7 360h0.6v274h-0.6zM1577.1 360h0.9v274h-0.9zM1593.9 360h0.8v274h-0.8zM1603.1 360h1.2v274h-1.2zM1628.7 360h0.9v274h-0.9zM1631.4 360h0.6v274h-0.6zM1643.3 360h0.9v274h-0.9zM1664.4 360h1.1v274h-1.1zM1666.9 360h1.1v274h-1.1zM1681.9 360h0.9v274h-0.9zM1705.8 360h0.7v274h-0.7zM1710.1 360h0.8v274h-0.8zM1717.9 360h1.0v274h-1.0zM1722.2 360h1.0v274h-1.0zM1732.4 360h0.9v274h-0.9zM1737.8 360h0.8v274h-0.8zM1747.5 360h1.0v274h-1.0z" fill="#fff" fill-opacity="0.30"/><path d="M1477.4 360h1.0v274h-1.0zM1513.1 360h0.9v274h-0.9zM1517.7 360h0.7v274h-0.7zM1529.0 360h1.3v274h-1.3zM1535.8 360h1.2v274h-1.2zM1554.5 360h1.2v274h-1.2zM1570.5 360h0.9v274h-0.9zM1582.4 360h0.8v274h-0.8zM1614.8 360h1.0v274h-1.0zM1638.7 360h1.2v274h-1.2zM1640.4 360h0.7v274h-0.7zM1645.6 360h0.7v274h-0.7zM1647.7 360h0.9v274h-0.9zM1669.1 360h0.8v274h-0.8zM1679.1 360h0.7v274h-0.7zM1686.5 360h1.2v274h-1.2zM1752.6 360h0.7v274h-0.7z" fill="#fff" fill-opacity="0.20"/><path d="M1478.9 360h1.0v274h-1.0zM1488.2 360h1.1v274h-1.1zM1498.7 360h1.1v274h-1.1zM1511.5 360h0.7v274h-0.7zM1519.9 360h1.1v274h-1.1zM1534.3 360h1.0v274h-1.0zM1544.6 360h1.0v274h-1.0zM1584.8 360h0.9v274h-0.9zM1598.8 360h1.1v274h-1.1zM1601.1 360h0.7v274h-0.7zM1624.1 360h1.1v274h-1.1zM1662.0 360h0.7v274h-0.7zM1677.0 360h1.0v274h-1.0zM1695.8 360h1.2v274h-1.2zM1715.3 360h0.7v274h-0.7zM1730.0 360h1.2v274h-1.2zM1757.0 360h0.9v274h-0.9z" fill="#fff" fill-opacity="0.45"/><path d="M1481.7 360h0.9v274h-0.9zM1503.9 360h0.9v274h-0.9zM1506.7 360h0.9v274h-0.9zM1532.6 360h0.7v274h-0.7zM1546.7 360h0.8v274h-0.8zM1556.4 360h0.8v274h-0.8zM1558.0 360h0.9v274h-0.9zM1572.3 360h0.9v274h-0.9zM1578.9 360h1.1v274h-1.1zM1612.7 360h1.0v274h-1.0zM1633.2 360h1.1v274h-1.1zM1635.9 360h0.8v274h-0.8zM1651.6 360h1.1v274h-1.1zM1693.1 360h0.9v274h-0.9zM1735.4 360h0.7v274h-0.7zM1749.7 360h1.2v274h-1.2z" fill="#fff" fill-opacity="0.25"/><path d="M1484.7 360h0.8v274h-0.8zM1486.3 360h1.0v274h-1.0zM1496.4 360h1.0v274h-1.0zM1526.6 360h1.0v274h-1.0zM1568.3 360h0.7v274h-0.7zM1589.1 360h0.7v274h-0.7zM1591.9 360h1.1v274h-1.1zM1654.3 360h1.0v274h-1.0zM1703.3 360h0.7v274h-0.7zM1720.1 360h0.8v274h-0.8zM1754.2 360h1.0v274h-1.0z" fill="#fff" fill-opacity="0.15"/><path d="M1490.9 360h0.8v274h-0.8zM1574.1 360h1.1v274h-1.1zM1596.5 360h1.2v274h-1.2zM1609.9 360h1.0v274h-1.0zM1620.0 360h0.7v274h-0.7zM1622.0 360h1.2v274h-1.2zM1671.2 360h0.9v274h-0.9zM1708.0 360h0.9v274h-0.9zM1711.7 360h0.8v274h-0.8zM1725.0 360h0.9v274h-0.9zM1762.4 360h0.7v274h-0.7z" fill="#fff" fill-opacity="0.50"/><path d="M1493.7 360h0.8v274h-0.8zM1508.6 360h1.1v274h-1.1zM1521.7 360h0.7v274h-0.7zM1539.7 360h0.9v274h-0.9zM1563.6 360h1.3v274h-1.3zM1580.6 360h0.6v274h-0.6zM1586.9 360h1.1v274h-1.1zM1606.0 360h1.0v274h-1.0zM1627.1 360h1.2v274h-1.2zM1650.0 360h1.1v274h-1.1zM1656.3 360h0.9v274h-0.9zM1688.6 360h1.3v274h-1.3zM1690.4 360h1.0v274h-1.0zM1713.4 360h1.1v274h-1.1zM1728.0 360h0.8v274h-0.8zM1744.9 360h1.3v274h-1.3zM1759.9 360h0.8v274h-0.8z" fill="#fff" fill-opacity="0.35"/><g filter="url(#bl2)"><g fill="none" stroke="#262626" stroke-linecap="round" stroke-linejoin="round"><path d="M1639,393 1644,395 1649,399 1653,404 1653,398 1656,393 1657,392 1655,392 1656,391 1657,391 1661,388 1666,386 1668,391 1672,395 1673,401 1676,406 1676,412 1678,417 1682,421" stroke-width="1.2"/><path d="M1580,389 1585,393 1591,394 1595,399 1601,400 1608,399 1613,397 1619,395 1624,399 1625,405 1629,409 1632,415 1637,416 1643,418 1647,421 1652,424 1658,425 1659,424 1660,426 1665,423 1672,423 1678,422" stroke-width="0.9"/><path d="M1568,445 1563,445 1557,445 1556,444 1556,443 1559,438 1563,435 1564,430 1567,425 1565,420 1564,414 1564,408 1561,403 1560,397 1565,396 1570,393 1575,391 1580,389" stroke-width="1.4"/><path d="M1587,632 1588,632 1589,632 1594,635 1599,636 1604,639 1612,638 1619,637 1620,631 1618,625 1618,619 1612,616 1611,611 1616,608 1622,609 1627,608 1632,606 1637,605 1642,603" stroke-width="1.4"/><path d="M1682,629 1684,627 1687,628 1693,627 1698,629 1703,628 1709,628 1714,629 1720,631 1725,631 1731,631 1730,624 1727,617 1723,613 1717,612 1711,612 1706,609 1701,606 1698,610 1695,614 1694,620 1690,624 1687,628" stroke-width="0.7"/><path d="M1750,441 1752,435 1757,431 1762,428 1766,423 1765,417 1769,411 1774,411 1778,407 1783,406 1788,404 1793,404 1798,403 1794,399 1791,395 1790,388 1783,388 1780,384 1776,380 1773,376 1768,373 1765,368 1761,371 1756,374 1753,377 1748,380 1745,384 1740,386 1736,389 1732,392 1729,397 1724,399 1723,400 1723,401" stroke-width="1.0"/><path d="M1700,605 1698,608 1701,606" stroke-width="1.0"/><path d="M1621,444 1620,449 1621,454 1624,459 1623,464 1625,469 1620,471 1614,471 1609,475 1603,475 1605,481 1606,487 1607,494 1604,499 1602,505 1599,509 1604,510 1609,510 1614,511 1619,513 1623,517 1628,518 1634,518 1635,517 1635,516" stroke-width="0.9"/><path d="M1715,410 1716,415 1717,420 1718,425 1720,430 1721,435 1724,440 1724,444 1725,447 1730,449 1736,449 1741,452 1747,454 1752,456 1758,457 1758,458 1759,459 1763,462 1768,463 1772,465 1777,466 1783,467 1787,470 1791,472 1796,474 1801,475 1804,480 1810,479 1815,482 1819,484 1824,486 1828,488 1832,492 1838,491 1843,492 1847,496 1853,495 1857,499 1861,502 1866,503 1870,505 1875,507 1880,510 1884,513 1890,512 1894,514 1899,517 1904,516 1908,521 1913,522 1918,522 1921,528 1926,529 1922,526 1918,523 1914,520 1909,519 1904,517 1900,514 1895,511 1891,509 1886,507 1882,505 1877,503 1873,500 1868,497 1864,495 1859,494 1855,490 1851,487 1847,485 1842,483 1838,479 1833,478 1828,477 1824,474 1819,471 1815,469 1811,466 1806,464 1802,461 1797,460 1793,456 1788,454 1784,452 1780,448 1776,446 1771,444 1766,442" stroke-width="0.9"/><path d="M1585,428 1585,429 1584,429 1583,436 1580,442 1578,443 1578,445 1583,449 1587,454 1592,459 1590,463 1591,468 1592,470 1591,472" stroke-width="0.6"/><path d="M1512,565 1517,569 1521,572 1526,575 1531,579 1534,583 1534,584 1535,585 1532,590 1530,596 1528,601 1525,606 1525,608 1526,610 1522,614 1519,618 1513,619 1509,623 1506,627 1499,628 1491,629" stroke-width="1.3"/><path d="M1709,536 1704,534 1699,532 1693,531 1688,529 1690,534 1688,539 1688,545 1691,548 1693,551 1698,551 1703,552 1708,551 1714,551 1719,549 1724,551 1724,550 1724,550 1723,544 1716,543 1712,540 1709,536" stroke-width="1.0"/><path d="M1672,590 1670,591 1671,594 1665,594 1660,598 1656,602 1651,605 1645,607 1643,606 1642,603 1640,598 1638,592 1640,586 1637,581 1639,582 1639,580 1638,574 1639,567" stroke-width="0.9"/><path d="M1520,603 1523,604 1525,606" stroke-width="1.0"/><path d="M1505,530 1504,536 1500,541 1499,546 1494,550 1495,557 1493,562 1490,567 1486,563 1484,558 1480,554 1477,549 1472,548 1467,548 1462,544 1457,544 1452,544 1448,542 1443,541 1438,541 1433,539 1428,539 1423,536 1418,538 1413,535 1409,533 1403,533 1397,533 1392,535 1387,534 1382,534 1377,534 1372,535 1367,536 1362,535 1356,535 1351,537 1346,536 1341,536 1336,535 1331,536 1326,537 1321,535 1316,539 1311,535 1306,536 1301,536 1296,537 1291,536 1286,538 1281,537 1276,539 1271,539 1266,539 1261,539 1256,540 1251,538 1246,541 1241,539 1236,542 1231,541 1226,540 1221,541 1216,542 1211,541 1206,542 1201,543 1196,542 1191,544 1186,544 1181,543 1176,544 1171,544 1166,545 1161,544 1156,545 1151,546 1146,548 1141,546 1136,547 1131,546 1126,548 1121,549 1116,549 1111,548 1106,548 1101,550 1096,550 1091,549 1086,551 1081,551 1076,549 1071,552 1066,551 1061,550 1056,552 1051,553 1046,555 1041,554 1036,553 1031,554 1026,553 1021,557 1016,554 1011,555 1006,553 1001,557 996,555 991,556 986,556 981,558 976,558 971,559 966,558 961,558 956,559 951,559 946,559 941,561 936,560 931,558 926,559 921,560 916,563 911,563 906,561 901,563 896,563 891,563 886,565 881,565 876,563 871,565 866,564 861,565 856,565 851,566 846,564 841,566 836,567 831,567 826,566 821,569 816,568 811,570 806,569 801,570 796,569 791,572 786,567 781,571 776,572 771,569 766,570 761,571 756,572 751,574 746,573 741,574 736,573 731,574 726,569 721,574 716,574 711,577 706,575 701,575 696,577 691,578 686,576 681,576 676,577 671,579 666,578 661,579 656,578 651,577 646,580 641,579 636,580 631,581 626,579 621,581 616,579 611,581 606,582 601,583 596,584 591,581 586,583 581,582 576,584 571,584 566,585 561,584 556,587 551,586 546,585 541,586 536,586 531,586 526,584 521,588 516,589 511,587 506,588 501,587 496,591 491,588 486,590 481,590 476,591 471,591 466,590 461,590 456,591 451,593 446,593 441,591 436,592 431,594 426,593 421,594 416,594 411,594 406,594 401,595 396,596 391,597 386,596 381,595 376,598 371,596 366,598 361,598 356,597 351,598 346,597 341,598 336,600 331,601 326,601 321,602 316,600 311,600 305,600 301,602 296,603 291,603 286,603 281,604 276,604 271,605 266,605 261,603 256,606 251,606 246,605 241,606 236,607 231,607 225,605 221,609 216,608 211,608 206,610 201,609 195,608 191,608 186,609 180,609 176,614 171,612 166,611 160,609 156,611 150,610 146,613 141,614 136,613 131,613" stroke-width="1.1"/><path d="M1500,595 1497,590 1496,584 1494,578 1493,572 1498,570 1503,569 1508,567 1509,572 1510,578 1513,583 1514,588 1517,593 1518,598 1520,603" stroke-width="1.0"/><path d="M1739,520 1745,521 1750,516 1756,515 1761,513 1767,511 1763,507 1760,503 1756,499 1753,495 1751,489 1747,485 1743,481 1747,477 1749,472 1753,468 1755,463 1759,459" stroke-width="0.9"/><path d="M1475,380 1476,383 1477,385 1481,389 1484,393 1488,397 1485,401 1483,406 1479,410 1478,415 1474,419 1470,416 1465,413 1459,413 1455,408 1459,404 1464,402 1466,397 1471,394 1475,391 1477,385" stroke-width="1.4"/><path d="M1492,572 1487,574 1482,577 1476,579 1471,578 1467,574 1463,572 1458,570 1454,568 1450,564 1445,563 1441,560 1435,559 1431,556 1427,553 1423,551 1419,548 1414,546 1409,544 1405,541 1400,540 1396,538 1392,535" stroke-width="0.9"/><path d="M1724,452 1723,458 1724,463 1725,469 1725,475 1731,478 1737,478 1743,481" stroke-width="1.2"/><path d="M1681,525 1683,526 1686,526 1688,526 1688,529" stroke-width="1.3"/><path d="M1532,477 1535,471 1537,465 1538,458 1532,456 1528,451 1522,448 1523,443 1526,438 1526,432 1529,427 1533,432 1539,435 1542,441 1549,442 1545,447 1543,454 1538,458" stroke-width="1.0"/><path d="M1635,516 1641,515 1645,519 1650,521 1656,522 1660,525 1666,525 1670,528 1676,527 1681,525 1680,519 1677,515 1674,510 1672,505 1669,500 1666,496 1664,491 1667,486 1673,485 1678,484 1682,481 1687,479 1687,473 1685,468 1684,463 1683,460 1685,460" stroke-width="0.7"/><path d="M1758,457 1758,456 1758,455 1762,452 1765,447 1766,442" stroke-width="0.8"/><path d="M1634,518 1631,523 1630,530 1628,536 1623,540 1618,543 1613,545 1610,551 1604,553 1603,556 1601,559 1600,564 1603,569 1603,574 1602,579 1607,579 1612,578 1617,581 1622,578 1627,580 1632,579 1637,581" stroke-width="1.1"/><path d="M1639,393 1633,392 1627,394 1622,390 1620,392 1619,395" stroke-width="1.2"/><path d="M1499,431 1492,433 1486,431 1479,430 1477,425 1474,419" stroke-width="1.4"/><path d="M1493,572 1492,572 1492,572 1489,570 1490,567" stroke-width="1.4"/><path d="M1724,551 1726,553 1726,556 1731,555 1736,553 1740,551 1745,550 1751,551 1755,547 1760,546 1765,546 1770,545 1775,544 1779,541 1784,539 1789,539 1795,539 1799,536 1804,536 1808,533 1814,534 1819,532 1823,530 1828,530 1833,528 1838,531 1843,529 1849,529 1854,531 1859,530 1864,533 1870,534 1875,533 1880,535 1886,535 1891,537 1896,539 1901,540 1906,539 1912,539 1917,541 1922,540 1928,542 1933,541 1938,543 1944,543 1949,544 1954,546 1959,546 1965,546 1961,542 1954,543 1951,538 1946,536 1941,535 1936,533 1931,531 1926,529" stroke-width="1.0"/></g></g><path d="M1474.2 360h1.1v274h-1.1zM1501.7 360h1.2v274h-1.2zM1507.9 360h0.8v274h-0.8zM1511.8 360h0.9v274h-0.9zM1514.7 360h0.8v274h-0.8zM1531.0 360h1.1v274h-1.1zM1536.1 360h1.0v274h-1.0zM1548.2 360h0.8v274h-0.8zM1573.3 360h0.8v274h-0.8zM1587.7 360h0.7v274h-0.7zM1592.9 360h1.0v274h-1.0zM1595.0 360h1.2v274h-1.2zM1599.3 360h0.7v274h-0.7zM1613.0 360h1.0v274h-1.0zM1615.6 360h1.3v274h-1.3zM1620.3 360h0.8v274h-0.8zM1635.4 360h0.9v274h-0.9zM1646.4 360h1.1v274h-1.1zM1661.4 360h0.9v274h-0.9zM1671.6 360h1.2v274h-1.2zM1686.9 360h1.1v274h-1.1zM1690.8 360h0.7v274h-0.7zM1695.4 360h1.1v274h-1.1zM1718.1 360h0.9v274h-0.9zM1727.6 360h0.8v274h-0.8zM1750.6 360h1.0v274h-1.0zM1761.0 360h0.8v274h-0.8z" fill="#000" fill-opacity="0.20"/><path d="M1477.6 360h1.2v274h-1.2zM1481.7 360h1.2v274h-1.2zM1492.7 360h1.2v274h-1.2zM1505.1 360h0.7v274h-0.7zM1524.0 360h0.6v274h-0.6zM1544.5 360h0.9v274h-0.9zM1556.2 360h1.1v274h-1.1zM1581.2 360h1.2v274h-1.2zM1583.2 360h0.9v274h-0.9zM1591.2 360h0.7v274h-0.7zM1656.4 360h1.2v274h-1.2zM1663.1 360h0.9v274h-0.9zM1702.6 360h0.6v274h-0.6zM1704.4 360h1.0v274h-1.0zM1723.0 360h1.3v274h-1.3zM1758.8 360h0.9v274h-0.9z" fill="#000" fill-opacity="0.25"/><path d="M1485.2 360h0.7v274h-0.7zM1488.9 360h0.6v274h-0.6zM1494.9 360h0.9v274h-0.9zM1497.8 360h1.2v274h-1.2zM1526.7 360h0.7v274h-0.7zM1540.9 360h1.1v274h-1.1zM1546.2 360h1.0v274h-1.0zM1551.2 360h0.8v274h-0.8zM1553.8 360h1.2v274h-1.2zM1565.4 360h1.1v274h-1.1zM1570.4 360h1.1v274h-1.1zM1578.0 360h0.6v274h-0.6zM1603.6 360h0.8v274h-0.8zM1605.9 360h0.6v274h-0.6zM1608.7 360h1.0v274h-1.0zM1624.7 360h1.2v274h-1.2zM1629.5 360h1.0v274h-1.0zM1632.0 360h1.2v274h-1.2zM1638.7 360h0.6v274h-0.6zM1642.1 360h1.1v274h-1.1zM1650.6 360h1.3v274h-1.3zM1665.9 360h0.8v274h-0.8zM1674.9 360h1.2v274h-1.2zM1679.0 360h1.3v274h-1.3zM1710.9 360h1.2v274h-1.2zM1713.2 360h1.1v274h-1.1zM1735.9 360h0.8v274h-0.8zM1738.4 360h1.1v274h-1.1zM1742.6 360h0.7v274h-0.7zM1763.9 360h1.1v274h-1.1z" fill="#000" fill-opacity="0.15"/><path d="M1510.3 360h0.6v274h-0.6zM1516.8 360h1.1v274h-1.1zM1520.2 360h0.7v274h-0.7zM1532.8 360h1.0v274h-1.0zM1538.0 360h1.2v274h-1.2zM1560.6 360h0.6v274h-0.6zM1563.6 360h1.0v274h-1.0zM1627.5 360h0.8v274h-0.8zM1633.8 360h1.3v274h-1.3zM1654.8 360h1.1v274h-1.1zM1668.9 360h0.6v274h-0.6zM1681.0 360h0.9v274h-0.9zM1682.6 360h0.9v274h-0.9zM1697.7 360h1.2v274h-1.2zM1708.9 360h1.1v274h-1.1zM1731.4 360h1.1v274h-1.1zM1747.0 360h1.0v274h-1.0zM1754.7 360h0.9v274h-0.9z" fill="#000" fill-opacity="0.10"/></g>
<path d="M1519,392Q1522,382 1534,382Q1540,375 1550,373Q1555,364 1565,368Q1577,362 1592,363Q1602,359 1612,362Q1621,357 1629,361Q1642,358 1653,366Q1673,371 1690,384Q1709,387 1719,399Q1735,405 1744,417Q1756,428 1756,443Q1762,460 1759,478Q1765,496 1759,515Q1759,528 1753,539Q1750,547 1741,552Q1742,560 1731,561Q1729,572 1720,577Q1716,590 1707,598Q1699,611 1687,619Q1685,631 1678,632Q1661,638 1641,635Q1594,638 1548,634Q1537,633 1532,622Q1525,617 1526,603Q1519,597 1517,585Q1509,576 1507,561Q1496,547 1496,528Q1488,511 1488,493Q1479,479 1480,465Q1472,452 1478,441Q1478,428 1487,419Q1491,408 1504,402Q1508,395 1519,392Z" fill="none" stroke="#3a3a3a" stroke-width="1.6"/>
<g clip-path="url(#c9)"></g>
<rect x="1464.6" y="359.7" width="296.8" height="273.9" filter="url(#nz)" opacity="0.42" style="mix-blend-mode:overlay"/>
</g>
<rect x="1464.6" y="633.6" width="296.8000000000002" height="35.10000000000002" fill="#000"/>
<text transform="translate(1517.13,660.34) scale(0.9135,1)" font-family="&quot;Liberation Sans&quot;, Arial, sans-serif" font-weight="normal" font-size="24.88" fill="#fff" >PC – 35% Porosity</text>
<rect x="1479.6" y="616.2" width="70.60000000000014" height="7.7999999999999545" fill="#fff"/>
<text transform="translate(1478.63,603.44) scale(1.0501,1)" font-family="&quot;Liberation Sans&quot;, Arial, sans-serif" font-weight="bold" font-size="26.43" fill="#fff" >2um</text>
<clipPath id="c11"><path d="M1766.7,359.7H2065.6V633.6H1766.7Z"/></clipPath>
<g clip-path="url(#c11)"><rect x="1766.7" y="359.7" width="298.89999999999986" height="273.90000000000003" fill="#060606"/>
<path d="M1766.0,359.0C1801.7,345.5 1943.5,355.8 1980.0,359.0C2016.5,362.2 1988.3,372.5 1985.0,378.0C1981.7,383.5 1970.8,391.3 1960.0,392.0C1949.2,392.7 1935.0,384.0 1920.0,382.0C1905.0,380.0 1885.0,379.5 1870.0,380.0C1855.0,380.5 1841.7,381.7 1830.0,385.0C1818.3,388.3 1808.0,393.3 1800.0,400.0C1792.0,406.7 1787.7,418.3 1782.0,425.0C1776.3,431.7 1768.7,451.0 1766.0,440.0C1763.3,429.0 1730.3,372.5 1766.0,359.0Z" fill="#454545"/>
<g filter="url(#bl2)"><ellipse cx="1979" cy="384" rx="3.7" ry="2.9" fill="#d1d1d1" transform="rotate(155 1979 384)"/><ellipse cx="1784" cy="391" rx="2.6" ry="2.3" fill="#c4c4c4" transform="rotate(83 1784 391)"/><ellipse cx="1834" cy="375" rx="2.8" ry="2.2" fill="#c7c7c7" transform="rotate(141 1834 375)"/><ellipse cx="1920" cy="366" rx="5.2" ry="3.7" fill="#c9c9c9" transform="rotate(126 1920 366)"/><ellipse cx="1962" cy="374" rx="2.8" ry="2.0" fill="#a9a9a9" transform="rotate(111 1962 374)"/><ellipse cx="1879" cy="375" rx="2.3" ry="1.4" fill="#cbcbcb" transform="rotate(13 1879 375)"/><ellipse cx="1785" cy="386" rx="5.0" ry="5.0" fill="#969696" transform="rotate(50 1785 386)"/><ellipse cx="1788" cy="395" rx="3.3" ry="2.6" fill="#bababa" transform="rotate(139 1788 395)"/><ellipse cx="1966" cy="390" rx="2.3" ry="2.0" fill="#888888" transform="rotate(29 1966 390)"/><ellipse cx="1798" cy="381" rx="4.2" ry="3.6" fill="#aeaeae" transform="rotate(166 1798 381)"/><ellipse cx="1857" cy="383" rx="4.6" ry="3.8" fill="#c1c1c1" transform="rotate(12 1857 383)"/><ellipse cx="1875" cy="361" rx="4.7" ry="4.0" fill="#c2c2c2" transform="rotate(180 1875 361)"/><ellipse cx="1805" cy="396" rx="5.0" ry="4.9" fill="#848484" transform="rotate(29 1805 396)"/><ellipse cx="1913" cy="390" rx="3.2" ry="1.7" fill="#a4a4a4" transform="rotate(16 1913 390)"/><ellipse cx="1772" cy="387" rx="4.5" ry="2.9" fill="#838383" transform="rotate(165 1772 387)"/><ellipse cx="1865" cy="392" rx="3.2" ry="1.7" fill="#999999" transform="rotate(128 1865 392)"/><ellipse cx="1791" cy="385" rx="3.6" ry="3.5" fill="#c6c6c6" transform="rotate(51 1791 385)"/><ellipse cx="1816" cy="375" rx="3.5" ry="1.9" fill="#b9b9b9" transform="rotate(9 1816 375)"/><ellipse cx="1791" cy="389" rx="5.0" ry="4.3" fill="#aaaaaa" transform="rotate(39 1791 389)"/><ellipse cx="1936" cy="377" rx="4.2" ry="2.4" fill="#acacac" transform="rotate(153 1936 377)"/><ellipse cx="1949" cy="374" rx="2.8" ry="1.9" fill="#797979" transform="rotate(174 1949 374)"/><ellipse cx="1826" cy="389" rx="3.6" ry="3.0" fill="#bbbbbb" transform="rotate(89 1826 389)"/><ellipse cx="1977" cy="369" rx="4.7" ry="3.3" fill="#d1d1d1" transform="rotate(123 1977 369)"/><ellipse cx="1807" cy="377" rx="6.0" ry="4.0" fill="#a6a6a6" transform="rotate(47 1807 377)"/><ellipse cx="1823" cy="392" rx="3.9" ry="2.2" fill="#878787" transform="rotate(167 1823 392)"/><ellipse cx="1868" cy="374" rx="3.4" ry="2.2" fill="#9b9b9b" transform="rotate(130 1868 374)"/><ellipse cx="1913" cy="363" rx="3.6" ry="3.4" fill="#bcbcbc" transform="rotate(109 1913 363)"/><ellipse cx="1821" cy="372" rx="3.2" ry="2.2" fill="#8f8f8f" transform="rotate(172 1821 372)"/><ellipse cx="1959" cy="384" rx="3.9" ry="3.0" fill="#7f7f7f" transform="rotate(123 1959 384)"/><ellipse cx="1880" cy="397" rx="4.0" ry="3.2" fill="#c9c9c9" transform="rotate(19 1880 397)"/><ellipse cx="1889" cy="371" rx="3.8" ry="2.7" fill="#7e7e7e" transform="rotate(127 1889 371)"/><ellipse cx="1896" cy="375" rx="4.1" ry="2.3" fill="#9d9d9d" transform="rotate(86 1896 375)"/><ellipse cx="1824" cy="367" rx="2.5" ry="1.8" fill="#c9c9c9" transform="rotate(42 1824 367)"/><ellipse cx="1822" cy="374" rx="5.5" ry="5.0" fill="#bbbbbb" transform="rotate(67 1822 374)"/><ellipse cx="1967" cy="386" rx="4.2" ry="4.1" fill="#c7c7c7" transform="rotate(52 1967 386)"/><ellipse cx="1950" cy="372" rx="5.8" ry="4.2" fill="#7b7b7b" transform="rotate(36 1950 372)"/><ellipse cx="1949" cy="395" rx="5.2" ry="3.3" fill="#c2c2c2" transform="rotate(147 1949 395)"/><ellipse cx="1917" cy="372" rx="4.3" ry="3.0" fill="#9d9d9d" transform="rotate(71 1917 372)"/><ellipse cx="1798" cy="368" rx="2.7" ry="2.0" fill="#c6c6c6" transform="rotate(28 1798 368)"/><ellipse cx="1782" cy="373" rx="4.2" ry="2.5" fill="#a7a7a7" transform="rotate(31 1782 373)"/><ellipse cx="1882" cy="378" rx="3.1" ry="2.3" fill="#c8c8c8" transform="rotate(75 1882 378)"/><ellipse cx="1934" cy="376" rx="2.2" ry="2.1" fill="#bcbcbc" transform="rotate(113 1934 376)"/><ellipse cx="1814" cy="377" rx="3.8" ry="2.1" fill="#c5c5c5" transform="rotate(78 1814 377)"/><ellipse cx="1978" cy="395" rx="2.5" ry="1.6" fill="#9c9c9c" transform="rotate(49 1978 395)"/><ellipse cx="1795" cy="385" rx="4.3" ry="4.0" fill="#7e7e7e" transform="rotate(148 1795 385)"/><ellipse cx="1860" cy="376" rx="2.7" ry="2.1" fill="#8b8b8b" transform="rotate(158 1860 376)"/><ellipse cx="1931" cy="381" rx="3.7" ry="3.1" fill="#c0c0c0" transform="rotate(110 1931 381)"/><ellipse cx="1792" cy="370" rx="3.2" ry="2.2" fill="#a8a8a8" transform="rotate(156 1792 370)"/><ellipse cx="1911" cy="384" rx="5.5" ry="4.5" fill="#8a8a8a" transform="rotate(148 1911 384)"/><ellipse cx="1801" cy="388" rx="3.5" ry="3.1" fill="#a2a2a2" transform="rotate(59 1801 388)"/><ellipse cx="1977" cy="366" rx="4.4" ry="2.3" fill="#878787" transform="rotate(74 1977 366)"/><ellipse cx="1771" cy="391" rx="2.8" ry="2.0" fill="#c2c2c2" transform="rotate(34 1771 391)"/><ellipse cx="1926" cy="385" rx="4.2" ry="4.1" fill="#c7c7c7" transform="rotate(113 1926 385)"/><ellipse cx="1855" cy="368" rx="4.5" ry="3.8" fill="#7c7c7c" transform="rotate(111 1855 368)"/><ellipse cx="1897" cy="363" rx="5.0" ry="3.4" fill="#969696" transform="rotate(45 1897 363)"/><ellipse cx="1798" cy="374" rx="3.5" ry="2.6" fill="#070707" transform="rotate(90 1798 374)"/><ellipse cx="1923" cy="396" rx="3.0" ry="2.2" fill="#121212" transform="rotate(48 1923 396)"/><ellipse cx="1850" cy="365" rx="1.7" ry="1.5" fill="#0b0b0b" transform="rotate(144 1850 365)"/><ellipse cx="1879" cy="395" rx="3.7" ry="2.3" fill="#202020" transform="rotate(1 1879 395)"/><ellipse cx="1952" cy="368" rx="3.0" ry="2.0" fill="#1d1d1d" transform="rotate(30 1952 368)"/><ellipse cx="1931" cy="396" rx="2.2" ry="1.3" fill="#181818" transform="rotate(141 1931 396)"/><ellipse cx="1944" cy="384" rx="1.5" ry="1.4" fill="#1b1b1b" transform="rotate(105 1944 384)"/><ellipse cx="1939" cy="396" rx="3.6" ry="3.3" fill="#1d1d1d" transform="rotate(153 1939 396)"/><ellipse cx="1945" cy="395" rx="2.6" ry="2.3" fill="#070707" transform="rotate(141 1945 395)"/><ellipse cx="1811" cy="389" rx="3.6" ry="2.7" fill="#151515" transform="rotate(154 1811 389)"/><ellipse cx="1813" cy="369" rx="1.6" ry="1.4" fill="#0f0f0f" transform="rotate(178 1813 369)"/><ellipse cx="1892" cy="395" rx="2.9" ry="2.4" fill="#060606" transform="rotate(79 1892 395)"/><ellipse cx="1908" cy="376" rx="2.6" ry="2.5" fill="#101010" transform="rotate(139 1908 376)"/><ellipse cx="1800" cy="393" rx="2.8" ry="2.7" fill="#232323" transform="rotate(99 1800 393)"/><ellipse cx="1774" cy="367" rx="3.7" ry="2.9" fill="#0e0e0e" transform="rotate(84 1774 367)"/><ellipse cx="1959" cy="382" rx="3.1" ry="2.3" fill="#101010" transform="rotate(156 1959 382)"/><ellipse cx="1979" cy="394" rx="3.4" ry="2.9" fill="#212121" transform="rotate(68 1979 394)"/><ellipse cx="1828" cy="373" rx="3.6" ry="3.0" fill="#171717" transform="rotate(79 1828 373)"/><ellipse cx="1930" cy="391" rx="2.3" ry="2.2" fill="#1f1f1f" transform="rotate(145 1930 391)"/><ellipse cx="1788" cy="372" rx="3.5" ry="2.2" fill="#232323" transform="rotate(80 1788 372)"/><ellipse cx="1769" cy="362" rx="3.5" ry="2.7" fill="#222222" transform="rotate(71 1769 362)"/><ellipse cx="1946" cy="383" rx="3.7" ry="1.9" fill="#1a1a1a" transform="rotate(105 1946 383)"/><ellipse cx="1784" cy="372" rx="1.6" ry="1.1" fill="#0e0e0e" transform="rotate(127 1784 372)"/><ellipse cx="1836" cy="397" rx="2.3" ry="2.3" fill="#191919" transform="rotate(97 1836 397)"/><ellipse cx="1943" cy="368" rx="2.2" ry="1.3" fill="#080808" transform="rotate(126 1943 368)"/><ellipse cx="1889" cy="377" rx="2.2" ry="1.9" fill="#1c1c1c" transform="rotate(14 1889 377)"/><ellipse cx="1912" cy="389" rx="1.5" ry="1.4" fill="#1a1a1a" transform="rotate(102 1912 389)"/><ellipse cx="1882" cy="363" rx="3.9" ry="2.1" fill="#1a1a1a" transform="rotate(131 1882 363)"/><ellipse cx="1777" cy="389" rx="3.2" ry="1.9" fill="#151515" transform="rotate(14 1777 389)"/><ellipse cx="1850" cy="382" rx="1.7" ry="0.9" fill="#0a0a0a" transform="rotate(31 1850 382)"/><ellipse cx="1770" cy="379" rx="2.8" ry="2.3" fill="#181818" transform="rotate(107 1770 379)"/><ellipse cx="1946" cy="388" rx="1.8" ry="1.2" fill="#151515" transform="rotate(131 1946 388)"/><ellipse cx="1829" cy="367" rx="4.0" ry="3.0" fill="#202020" transform="rotate(124 1829 367)"/><ellipse cx="1796" cy="389" rx="2.5" ry="1.7" fill="#060606" transform="rotate(47 1796 389)"/><ellipse cx="1919" cy="383" rx="3.7" ry="3.6" fill="#161616" transform="rotate(73 1919 383)"/><ellipse cx="1899" cy="383" rx="1.7" ry="1.2" fill="#191919" transform="rotate(69 1899 383)"/><ellipse cx="1908" cy="389" rx="1.9" ry="1.8" fill="#0b0b0b" transform="rotate(37 1908 389)"/><ellipse cx="1782" cy="365" rx="1.9" ry="1.0" fill="#181818" transform="rotate(161 1782 365)"/><ellipse cx="1829" cy="388" rx="2.9" ry="1.5" fill="#1a1a1a" transform="rotate(60 1829 388)"/><ellipse cx="1896" cy="384" rx="3.0" ry="2.4" fill="#060606" transform="rotate(41 1896 384)"/></g>
<path d="M1766.0,500.0C1769.2,480.2 1776.8,507.0 1785.0,515.0C1793.2,523.0 1804.2,535.5 1815.0,548.0C1825.8,560.5 1839.2,575.7 1850.0,590.0C1860.8,604.3 1894.0,626.7 1880.0,634.0C1866.0,641.3 1785.0,656.3 1766.0,634.0C1747.0,611.7 1762.8,519.8 1766.0,500.0Z" fill="#2c2c2c"/>
<g filter="url(#bl2)"><ellipse cx="1810" cy="540" rx="4.8" ry="3.7" fill="#525252" transform="rotate(162 1810 540)"/><ellipse cx="1852" cy="555" rx="6.0" ry="4.8" fill="#797979" transform="rotate(66 1852 555)"/><ellipse cx="1868" cy="519" rx="3.3" ry="2.6" fill="#8d8d8d" transform="rotate(68 1868 519)"/><ellipse cx="1828" cy="577" rx="3.5" ry="2.4" fill="#8a8a8a" transform="rotate(28 1828 577)"/><ellipse cx="1782" cy="586" rx="2.6" ry="2.0" fill="#888888" transform="rotate(57 1782 586)"/><ellipse cx="1829" cy="630" rx="4.7" ry="3.9" fill="#494949" transform="rotate(116 1829 630)"/><ellipse cx="1777" cy="569" rx="4.7" ry="4.3" fill="#656565" transform="rotate(144 1777 569)"/><ellipse cx="1823" cy="525" rx="5.3" ry="5.1" fill="#8f8f8f" transform="rotate(96 1823 525)"/><ellipse cx="1795" cy="629" rx="4.4" ry="3.8" fill="#545454" transform="rotate(69 1795 629)"/><ellipse cx="1848" cy="583" rx="3.2" ry="2.0" fill="#7b7b7b" transform="rotate(21 1848 583)"/><ellipse cx="1780" cy="518" rx="5.6" ry="4.8" fill="#595959" transform="rotate(107 1780 518)"/><ellipse cx="1833" cy="571" rx="4.6" ry="2.6" fill="#464646" transform="rotate(110 1833 571)"/><ellipse cx="1784" cy="531" rx="4.6" ry="4.3" fill="#636363" transform="rotate(75 1784 531)"/><ellipse cx="1822" cy="570" rx="5.2" ry="4.4" fill="#8d8d8d" transform="rotate(101 1822 570)"/><ellipse cx="1806" cy="628" rx="5.4" ry="2.9" fill="#949494" transform="rotate(126 1806 628)"/><ellipse cx="1853" cy="589" rx="4.0" ry="3.1" fill="#5a5a5a" transform="rotate(19 1853 589)"/><ellipse cx="1803" cy="627" rx="4.0" ry="3.1" fill="#525252" transform="rotate(156 1803 627)"/><ellipse cx="1796" cy="620" rx="4.1" ry="2.5" fill="#515151" transform="rotate(91 1796 620)"/><ellipse cx="1800" cy="553" rx="5.0" ry="4.9" fill="#5a5a5a" transform="rotate(12 1800 553)"/><ellipse cx="1853" cy="617" rx="4.8" ry="4.0" fill="#686868" transform="rotate(68 1853 617)"/><ellipse cx="1773" cy="630" rx="5.7" ry="4.3" fill="#585858" transform="rotate(68 1773 630)"/><ellipse cx="1868" cy="554" rx="3.5" ry="3.2" fill="#6e6e6e" transform="rotate(152 1868 554)"/><ellipse cx="1794" cy="619" rx="4.2" ry="3.4" fill="#666666" transform="rotate(48 1794 619)"/><ellipse cx="1789" cy="592" rx="5.9" ry="5.5" fill="#565656" transform="rotate(74 1789 592)"/><ellipse cx="1822" cy="627" rx="5.9" ry="5.8" fill="#6c6c6c" transform="rotate(144 1822 627)"/><ellipse cx="1775" cy="531" rx="5.7" ry="4.6" fill="#7d7d7d" transform="rotate(21 1775 531)"/><ellipse cx="1793" cy="538" rx="2.2" ry="1.8" fill="#878787" transform="rotate(114 1793 538)"/><ellipse cx="1818" cy="597" rx="3.0" ry="1.5" fill="#6c6c6c" transform="rotate(142 1818 597)"/><ellipse cx="1839" cy="568" rx="4.9" ry="3.6" fill="#676767" transform="rotate(114 1839 568)"/><ellipse cx="1800" cy="602" rx="4.5" ry="2.3" fill="#787878" transform="rotate(113 1800 602)"/><ellipse cx="1835" cy="617" rx="5.5" ry="4.6" fill="#808080" transform="rotate(53 1835 617)"/><ellipse cx="1773" cy="571" rx="5.7" ry="5.1" fill="#8f8f8f" transform="rotate(130 1773 571)"/><ellipse cx="1798" cy="626" rx="4.6" ry="2.4" fill="#727272" transform="rotate(164 1798 626)"/><ellipse cx="1851" cy="613" rx="2.4" ry="2.4" fill="#474747" transform="rotate(105 1851 613)"/><ellipse cx="1808" cy="563" rx="2.2" ry="2.1" fill="#565656" transform="rotate(79 1808 563)"/><ellipse cx="1845" cy="571" rx="5.1" ry="3.5" fill="#757575" transform="rotate(103 1845 571)"/><ellipse cx="1860" cy="580" rx="3.0" ry="2.3" fill="#696969" transform="rotate(80 1860 580)"/><ellipse cx="1819" cy="538" rx="5.4" ry="5.0" fill="#4e4e4e" transform="rotate(172 1819 538)"/><ellipse cx="1791" cy="605" rx="3.5" ry="2.2" fill="#898989" transform="rotate(153 1791 605)"/><ellipse cx="1855" cy="584" rx="5.4" ry="5.0" fill="#4c4c4c" transform="rotate(51 1855 584)"/><ellipse cx="1781" cy="552" rx="4.1" ry="2.3" fill="#6a6a6a" transform="rotate(157 1781 552)"/><ellipse cx="1835" cy="522" rx="3.8" ry="2.2" fill="#4a4a4a" transform="rotate(32 1835 522)"/><ellipse cx="1867" cy="545" rx="3.4" ry="3.4" fill="#898989" transform="rotate(43 1867 545)"/><ellipse cx="1855" cy="555" rx="5.8" ry="4.2" fill="#767676" transform="rotate(30 1855 555)"/><ellipse cx="1799" cy="569" rx="5.2" ry="5.2" fill="#4d4d4d" transform="rotate(170 1799 569)"/></g>
<g fill="none" stroke-linejoin="round" filter="url(#bl2)"><path d="M1793,535 1788,532 1783,535 1782,541 1781,547 1784,552 1782,558" stroke="#525252" stroke-width="1.4"/><path d="M1855,505 1855,511 1858,517 1864,517 1869,518 1875,516 1878,511" stroke="#828282" stroke-width="1.4"/><path d="M1856,567 1859,572 1858,578 1853,581 1847,579 1845,573 1839,571" stroke="#515151" stroke-width="1.1"/><path d="M1807,512 1801,512 1796,515 1791,518 1786,521 1784,527 1779,531" stroke="#5d5d5d" stroke-width="1.4"/><path d="M1778,557 1772,558 1767,562 1761,562 1757,567 1752,570 1752,576" stroke="#505050" stroke-width="0.9"/><path d="M1805,624 1806,630 1805,636 1800,639 1795,637 1789,635 1784,632" stroke="#6d6d6d" stroke-width="1.6"/><path d="M1853,608 1856,613 1856,619 1861,624 1864,629 1863,635 1867,639" stroke="#5b5b5b" stroke-width="1.1"/><path d="M1819,553 1817,548 1816,542 1817,536 1814,531 1817,526 1819,520" stroke="#4d4d4d" stroke-width="1.5"/><path d="M1851,628 1848,634 1851,639 1848,644 1844,648 1842,654 1843,660" stroke="#494949" stroke-width="1.2"/><path d="M1851,525 1850,519 1844,518 1841,513 1841,507 1837,502 1838,496" stroke="#595959" stroke-width="1.0"/><path d="M1844,625 1840,629 1836,634 1837,639 1835,645 1832,650 1828,655" stroke="#555555" stroke-width="1.1"/><path d="M1836,589 1839,594 1845,595 1850,599 1851,605 1851,611 1845,613" stroke="#7b7b7b" stroke-width="1.5"/><path d="M1812,593 1806,592 1802,587 1796,587 1790,587 1786,591 1787,597" stroke="#4f4f4f" stroke-width="1.5"/><path d="M1841,582 1847,582 1852,585 1852,591 1851,597 1857,599 1858,605" stroke="#7a7a7a" stroke-width="1.0"/><path d="M1769,555 1772,549 1776,545 1782,545 1787,541 1790,536 1792,530" stroke="#7e7e7e" stroke-width="1.1"/><path d="M1796,592 1802,592 1805,597 1807,602 1813,605 1817,609 1817,615" stroke="#808080" stroke-width="1.2"/><path d="M1771,525 1765,524 1759,523 1753,523 1749,519 1743,519 1740,524" stroke="#808080" stroke-width="1.3"/><path d="M1856,514 1857,508 1852,505 1850,499 1845,497 1842,491 1845,486" stroke="#696969" stroke-width="1.3"/><path d="M1838,589 1840,595 1837,601 1841,605 1845,610 1845,616 1850,618" stroke="#747474" stroke-width="0.7"/><path d="M1808,604 1813,607 1818,611 1824,610 1830,611 1835,614 1840,610" stroke="#757575" stroke-width="1.3"/><path d="M1785,630 1791,630 1796,627 1799,622 1801,616 1806,613 1812,615" stroke="#4c4c4c" stroke-width="1.4"/><path d="M1781,544 1780,550 1784,555 1789,558 1795,558 1800,555 1803,550" stroke="#4a4a4a" stroke-width="1.0"/><path d="M1768,578 1773,575 1774,569 1769,566 1764,569 1758,572 1753,570" stroke="#4f4f4f" stroke-width="1.3"/><path d="M1801,595 1797,591 1792,588 1791,582 1793,576 1791,570 1786,567" stroke="#4e4e4e" stroke-width="1.3"/><path d="M1857,626 1857,632 1858,638 1864,640 1866,646 1871,649 1877,649" stroke="#7d7d7d" stroke-width="0.9"/><path d="M1820,538 1825,541 1829,546 1832,551 1836,555 1841,559 1846,561" stroke="#555555" stroke-width="1.5"/><path d="M1854,565 1856,571 1852,576 1847,579 1842,576 1843,570 1841,564" stroke="#5c5c5c" stroke-width="1.4"/><path d="M1829,579 1835,579 1841,578 1844,583 1848,588 1854,588 1859,584" stroke="#757575" stroke-width="1.3"/><path d="M1821,551 1822,546 1821,540 1824,534 1822,529 1824,523 1830,522" stroke="#515151" stroke-width="0.8"/><path d="M1846,600 1847,606 1849,612 1854,615 1860,613 1864,609 1870,610" stroke="#515151" stroke-width="0.8"/><path d="M1800,518 1799,524 1797,530 1791,531 1785,532 1784,538 1778,540" stroke="#4b4b4b" stroke-width="0.7"/><path d="M1788,580 1791,575 1794,569 1797,565 1803,566 1806,571 1806,577" stroke="#6d6d6d" stroke-width="1.1"/><path d="M1824,577 1823,583 1819,588 1814,590 1809,593 1808,599 1811,604" stroke="#6c6c6c" stroke-width="1.0"/><path d="M1818,605 1822,609 1825,614 1824,620 1818,621 1813,625 1808,622" stroke="#6c6c6c" stroke-width="0.7"/><path d="M1780,569 1774,566 1769,569 1767,575 1768,580 1774,582 1775,588" stroke="#5f5f5f" stroke-width="0.7"/><path d="M1823,610 1817,609 1814,614 1818,619 1819,625 1824,628 1828,633" stroke="#5d5d5d" stroke-width="1.0"/><path d="M1789,619 1788,614 1784,609 1781,603 1775,603 1772,609 1769,613" stroke="#686868" stroke-width="0.8"/><path d="M1792,563 1788,559 1783,555 1777,554 1772,558 1767,560 1762,564" stroke="#474747" stroke-width="1.2"/><path d="M1823,569 1825,563 1831,562 1835,567 1835,573 1839,578 1845,580" stroke="#4d4d4d" stroke-width="1.1"/><path d="M1824,632 1828,628 1834,627 1840,627 1846,629 1851,626 1857,627" stroke="#5f5f5f" stroke-width="1.5"/><path d="M1798,541 1804,540 1808,536 1814,535 1819,531 1823,527 1829,528" stroke="#737373" stroke-width="0.8"/><path d="M1789,535 1783,532 1778,535 1778,541 1773,544 1767,543 1761,545" stroke="#707070" stroke-width="1.3"/><path d="M1802,520 1801,526 1804,532 1805,538 1811,539 1817,540 1822,537" stroke="#4f4f4f" stroke-width="1.1"/><path d="M1794,595 1788,595 1782,597 1776,595 1770,595 1767,601 1761,601" stroke="#747474" stroke-width="1.6"/><path d="M1819,513 1814,515 1810,510 1804,511 1800,506 1796,501 1796,495" stroke="#7e7e7e" stroke-width="1.2"/><path d="M1836,547 1831,546 1828,540 1822,539 1818,543 1817,549 1817,555" stroke="#767676" stroke-width="1.2"/><path d="M1770,602 1771,596 1771,590 1773,584 1775,579 1774,573 1775,567" stroke="#747474" stroke-width="1.5"/><path d="M1843,510 1848,512 1854,512 1859,509 1864,505 1868,501 1874,498" stroke="#696969" stroke-width="0.8"/><path d="M1820,584 1822,590 1828,590 1831,585 1833,579 1838,575 1836,569" stroke="#494949" stroke-width="1.2"/><path d="M1821,509 1823,514 1826,519 1831,523 1835,527 1841,529 1846,527" stroke="#4b4b4b" stroke-width="1.2"/></g>
<g filter="url(#bl2)"><ellipse cx="2051" cy="523" rx="2.6" ry="1.8" fill="#616161" transform="rotate(99 2051 523)"/><ellipse cx="2064" cy="504" rx="2.9" ry="2.1" fill="#626262" transform="rotate(95 2064 504)"/><ellipse cx="2064" cy="520" rx="3.2" ry="2.8" fill="#666666" transform="rotate(84 2064 520)"/><ellipse cx="2060" cy="581" rx="1.9" ry="1.3" fill="#818181" transform="rotate(95 2060 581)"/><ellipse cx="2049" cy="489" rx="1.6" ry="1.5" fill="#494949" transform="rotate(107 2049 489)"/><ellipse cx="2056" cy="567" rx="3.6" ry="2.3" fill="#7a7a7a" transform="rotate(86 2056 567)"/><ellipse cx="2057" cy="570" rx="3.4" ry="2.4" fill="#7b7b7b" transform="rotate(73 2057 570)"/><ellipse cx="2049" cy="588" rx="2.9" ry="2.8" fill="#656565" transform="rotate(56 2049 588)"/><ellipse cx="2048" cy="507" rx="3.1" ry="3.0" fill="#585858" transform="rotate(28 2048 507)"/><ellipse cx="2046" cy="503" rx="1.9" ry="1.3" fill="#484848" transform="rotate(104 2046 503)"/></g>
<path d="M1832.0,377.0C1848.7,374.3 1881.5,370.7 1902.0,373.0C1922.5,375.3 1939.7,383.0 1955.0,391.0C1970.3,399.0 1981.0,408.3 1994.0,421.0C2007.0,433.7 2023.5,452.3 2033.0,467.0C2042.5,481.7 2048.0,493.2 2051.0,509.0C2054.0,524.8 2054.0,546.5 2051.0,562.0C2048.0,577.5 2042.7,591.7 2033.0,602.0C2023.3,612.3 2010.8,619.3 1993.0,624.0C1975.2,628.7 1945.2,632.0 1926.0,630.0C1906.8,628.0 1894.0,622.8 1878.0,612.0C1862.0,601.2 1845.7,582.2 1830.0,565.0C1814.3,547.8 1794.0,526.0 1784.0,509.0C1774.0,492.0 1771.0,478.5 1770.0,463.0C1769.0,447.5 1772.7,428.3 1778.0,416.0C1783.3,403.7 1793.0,395.5 1802.0,389.0C1811.0,382.5 1815.3,379.7 1832.0,377.0Z" fill="#383838" stroke="#777" stroke-width="1.5" stroke-opacity="0.8"/>
<circle cx="2095" cy="665" r="78" fill="#8a8a8a"/>
<clipPath id="c12"><path d="M1837.0,386.0C1852.0,383.5 1882.7,378.8 1902.0,381.0C1921.3,383.2 1938.0,391.3 1953.0,399.0C1968.0,406.7 1979.0,415.0 1992.0,427.0C2005.0,439.0 2021.5,457.2 2031.0,471.0C2040.5,484.8 2046.0,495.0 2049.0,510.0C2052.0,525.0 2052.0,546.0 2049.0,561.0C2046.0,576.0 2040.5,590.0 2031.0,600.0C2021.5,610.0 2009.2,616.7 1992.0,621.0C1974.8,625.3 1946.0,628.2 1928.0,626.0C1910.0,623.8 1899.2,618.8 1884.0,608.0C1868.8,597.2 1852.0,578.2 1837.0,561.0C1822.0,543.8 1803.3,521.3 1794.0,505.0C1784.7,488.7 1781.5,477.2 1781.0,463.0C1780.5,448.8 1785.8,431.2 1791.0,420.0C1796.2,408.8 1804.3,401.7 1812.0,396.0C1819.7,390.3 1822.0,388.5 1837.0,386.0Z"/></clipPath>
<g clip-path="url(#c12)"><rect x="1775" y="375" width="285" height="260" fill="#a0a0a0"/><path d="M1776.6 375h0.6v260h-0.6zM1781.3 375h1.5v260h-1.5zM1786.7 375h1.5v260h-1.5zM1792.2 375h1.4v260h-1.4zM1796.2 375h1.2v260h-1.2zM1801.3 375h1.1v260h-1.1zM1807.2 375h1.1v260h-1.1zM1810.7 375h1.2v260h-1.2zM1814.9 375h0.8v260h-0.8zM1819.3 375h0.9v260h-0.9zM1823.8 375h0.8v260h-0.8zM1827.5 375h0.9v260h-0.9zM1830.3 375h0.6v260h-0.6zM1833.1 375h0.6v260h-0.6zM1837.8 375h0.9v260h-0.9zM1840.1 375h1.1v260h-1.1zM1842.0 375h0.7v260h-0.7zM1844.6 375h1.2v260h-1.2zM1849.2 375h1.3v260h-1.3zM1851.1 375h0.7v260h-0.7zM1854.0 375h0.7v260h-0.7zM1857.8 375h1.1v260h-1.1zM1862.2 375h0.9v260h-0.9zM1865.9 375h1.1v260h-1.1zM1868.2 375h0.8v260h-0.8zM1874.3 375h1.5v260h-1.5zM1877.8 375h1.5v260h-1.5zM1880.2 375h1.4v260h-1.4zM1884.0 375h0.8v260h-0.8zM1886.0 375h0.8v260h-0.8zM1889.5 375h1.0v260h-1.0zM1893.2 375h0.8v260h-0.8zM1898.2 375h1.5v260h-1.5zM1902.9 375h1.3v260h-1.3zM1907.9 375h1.6v260h-1.6zM1910.4 375h1.6v260h-1.6zM1912.6 375h1.1v260h-1.1zM1917.2 375h1.5v260h-1.5zM1922.5 375h1.0v260h-1.0zM1924.2 375h1.4v260h-1.4zM1928.8 375h1.1v260h-1.1zM1937.1 375h0.7v260h-0.7zM1942.5 375h0.8v260h-0.8zM1945.6 375h0.9v260h-0.9zM1950.6 375h0.8v260h-0.8zM1952.6 375h1.1v260h-1.1zM1955.7 375h0.8v260h-0.8zM1959.2 375h1.2v260h-1.2zM1970.6 375h1.4v260h-1.4zM1972.4 375h1.1v260h-1.1zM1975.8 375h0.6v260h-0.6zM1984.9 375h1.5v260h-1.5zM1990.2 375h0.7v260h-0.7zM1994.8 375h1.0v260h-1.0zM2000.3 375h0.9v260h-0.9zM2005.0 375h1.6v260h-1.6zM2008.2 375h1.2v260h-1.2zM2011.4 375h0.9v260h-0.9zM2015.5 375h0.8v260h-0.8zM2017.4 375h0.6v260h-0.6zM2023.0 375h0.7v260h-0.7zM2025.2 375h1.2v260h-1.2zM2030.1 375h1.0v260h-1.0zM2032.3 375h1.1v260h-1.1zM2037.8 375h0.9v260h-0.9zM2043.4 375h0.7v260h-0.7zM2048.1 375h1.3v260h-1.3zM2053.8 375h1.4v260h-1.4zM2059.2 375h0.8v260h-0.8zM2061.3 375h0.8v260h-0.8z" fill="#fff" fill-opacity="0.05"/></g>
<path d="M1837.0,386.0C1852.0,383.5 1882.7,378.8 1902.0,381.0C1921.3,383.2 1938.0,391.3 1953.0,399.0C1968.0,406.7 1979.0,415.0 1992.0,427.0C2005.0,439.0 2021.5,457.2 2031.0,471.0C2040.5,484.8 2046.0,495.0 2049.0,510.0C2052.0,525.0 2052.0,546.0 2049.0,561.0C2046.0,576.0 2040.5,590.0 2031.0,600.0C2021.5,610.0 2009.2,616.7 1992.0,621.0C1974.8,625.3 1946.0,628.2 1928.0,626.0C1910.0,623.8 1899.2,618.8 1884.0,608.0C1868.8,597.2 1852.0,578.2 1837.0,561.0C1822.0,543.8 1803.3,521.3 1794.0,505.0C1784.7,488.7 1781.5,477.2 1781.0,463.0C1780.5,448.8 1785.8,431.2 1791.0,420.0C1796.2,408.8 1804.3,401.7 1812.0,396.0C1819.7,390.3 1822.0,388.5 1837.0,386.0Z" fill="none" stroke="#b0b0b0" stroke-width="1.5"/>
<rect x="1766.7" y="359.7" width="298.9" height="273.9" filter="url(#nz)" opacity="0.42" style="mix-blend-mode:overlay"/>
</g>
<rect x="1766.7" y="633.6" width="298.89999999999986" height="35.39999999999998" fill="#000"/>
<text transform="translate(1823.28,660.53) scale(0.9270,1)" font-family="&quot;Liberation Sans&quot;, Arial, sans-serif" font-weight="normal" font-size="24.45" fill="#fff" >SC - 35% Porosity</text>
<rect x="1781.6" y="616.2" width="111.10000000000014" height="7.7999999999999545" fill="#fff"/>
<text transform="translate(1779.79,603.43) scale(1.0809,1)" font-family="&quot;Liberation Sans&quot;, Arial, sans-serif" font-weight="bold" font-size="26.81" fill="#fff" >1um</text>
<clipPath id="c13"><path d="M1463.7,673.0H1760.6V946.8H1463.7Z"/></clipPath>
<g clip-path="url(#c13)"><rect x="1463.7" y="673.0" width="296.89999999999986" height="273.79999999999995" fill="#101010"/>
<path d="M1464,673 L1600,673 L1560,690 L1520,710 L1495,740 L1482,790 L1490,850 L1505,900 L1530,947 L1464,947Z" fill="#262626"/>
<g fill="none" stroke-linejoin="round" filter="url(#bl2)"><path d="M1707,674 1708,668 1713,665 1719,664 1725,664 1729,669 1734,671" stroke="#b7b7b7" stroke-width="1.1"/><path d="M1605,914 1603,909 1603,903 1604,897 1610,895 1615,892 1621,893" stroke="#949494" stroke-width="0.7"/><path d="M1485,925 1491,924 1492,919 1495,913 1497,907 1501,904 1504,898" stroke="#aaaaaa" stroke-width="0.8"/><path d="M1599,854 1605,855 1609,851 1610,845 1613,840 1619,839 1624,837" stroke="#626262" stroke-width="0.8"/><path d="M1499,741 1496,746 1490,746 1485,743 1481,738 1476,737 1470,736" stroke="#4b4b4b" stroke-width="1.6"/><path d="M1644,766 1638,767 1633,764 1627,764 1624,758 1626,753 1631,751" stroke="#484848" stroke-width="1.2"/><path d="M1582,905 1580,899 1575,897 1569,896 1565,891 1565,885 1560,883" stroke="#6f6f6f" stroke-width="1.6"/><path d="M1692,824 1694,830 1692,836 1691,841 1694,847 1693,852 1695,858" stroke="#969696" stroke-width="0.8"/><path d="M1616,859 1620,863 1621,869 1618,874 1617,880 1612,883 1606,883" stroke="#a1a1a1" stroke-width="1.4"/><path d="M1563,745 1560,750 1555,754 1550,758 1545,760 1539,760 1533,760" stroke="#6f6f6f" stroke-width="1.3"/><path d="M1689,685 1693,680 1699,680 1703,676 1705,670 1702,665 1706,660" stroke="#696969" stroke-width="1.4"/><path d="M1544,838 1544,844 1540,848 1541,854 1547,857 1552,859 1557,855" stroke="#909090" stroke-width="0.7"/><path d="M1526,711 1521,715 1520,721 1521,727 1515,730 1511,733 1511,739" stroke="#909090" stroke-width="1.6"/><path d="M1506,821 1502,826 1497,829 1492,826 1486,827 1480,827 1476,823" stroke="#696969" stroke-width="1.1"/><path d="M1684,752 1682,758 1676,758 1671,761 1665,762 1663,768 1659,772" stroke="#848484" stroke-width="1.2"/><path d="M1690,682 1692,676 1691,670 1693,664 1691,659 1695,654 1693,648" stroke="#606060" stroke-width="1.4"/><path d="M1700,840 1702,835 1707,831 1709,825 1714,822 1720,824 1725,821" stroke="#b6b6b6" stroke-width="0.8"/><path d="M1650,838 1654,843 1659,841 1664,837 1669,834 1675,832 1680,834" stroke="#777777" stroke-width="1.0"/><path d="M1540,767 1535,764 1531,759 1525,760 1520,757 1514,758 1508,757" stroke="#888888" stroke-width="1.5"/><path d="M1557,904 1560,899 1560,893 1556,888 1555,882 1551,878 1550,872" stroke="#5d5d5d" stroke-width="1.6"/><path d="M1663,825 1657,825 1652,821 1652,815 1653,809 1648,806 1642,807" stroke="#9c9c9c" stroke-width="0.8"/><path d="M1517,856 1523,857 1526,862 1524,868 1518,869 1514,866 1509,862" stroke="#8c8c8c" stroke-width="0.8"/><path d="M1650,679 1644,676 1641,671 1635,670 1629,672 1627,677 1622,681" stroke="#5c5c5c" stroke-width="1.5"/><path d="M1698,863 1692,864 1686,864 1680,865 1674,864 1670,868 1670,874" stroke="#aaaaaa" stroke-width="1.3"/><path d="M1475,827 1475,833 1470,837 1464,836 1460,841 1456,845 1454,851" stroke="#797979" stroke-width="0.7"/><path d="M1557,805 1561,800 1559,795 1555,790 1549,789 1544,792 1539,796" stroke="#a0a0a0" stroke-width="1.0"/><path d="M1563,898 1557,897 1552,898 1546,900 1544,906 1544,912 1542,917" stroke="#797979" stroke-width="1.1"/><path d="M1696,697 1701,701 1706,704 1708,710 1714,711 1714,717 1710,721" stroke="#535353" stroke-width="1.1"/><path d="M1641,754 1643,759 1641,765 1646,769 1646,775 1646,781 1642,785" stroke="#505050" stroke-width="1.4"/><path d="M1724,911 1723,917 1726,922 1732,922 1735,916 1740,913 1745,910" stroke="#535353" stroke-width="0.8"/><path d="M1700,785 1696,789 1696,795 1691,798 1690,804 1685,808 1684,813" stroke="#626262" stroke-width="1.0"/><path d="M1464,867 1467,873 1465,878 1459,879 1455,884 1452,888 1450,894" stroke="#464646" stroke-width="1.1"/><path d="M1493,938 1499,939 1503,934 1500,928 1495,926 1494,920 1498,916" stroke="#6d6d6d" stroke-width="1.1"/><path d="M1703,822 1697,822 1693,817 1687,814 1686,808 1682,804 1678,800" stroke="#555555" stroke-width="1.4"/><path d="M1627,817 1622,819 1621,825 1619,831 1615,835 1609,837 1603,835" stroke="#545454" stroke-width="0.8"/><path d="M1482,759 1488,760 1494,761 1498,757 1500,751 1505,747 1507,742" stroke="#7b7b7b" stroke-width="1.2"/><path d="M1532,924 1532,918 1529,913 1523,911 1519,916 1521,922 1519,928" stroke="#606060" stroke-width="1.3"/><path d="M1476,705 1470,705 1466,701 1461,697 1455,699 1449,698 1447,693" stroke="#606060" stroke-width="1.2"/><path d="M1612,718 1614,724 1611,729 1607,733 1604,739 1604,745 1598,746" stroke="#868686" stroke-width="1.4"/><path d="M1587,855 1591,851 1597,850 1602,854 1605,859 1610,861 1616,861" stroke="#606060" stroke-width="1.4"/><path d="M1540,913 1542,918 1544,924 1540,929 1540,935 1536,939 1535,945" stroke="#727272" stroke-width="1.5"/><path d="M1514,748 1510,753 1513,758 1514,764 1519,767 1519,773 1514,777" stroke="#8a8a8a" stroke-width="0.9"/><path d="M1629,908 1623,909 1618,913 1613,915 1607,915 1604,910 1600,906" stroke="#5c5c5c" stroke-width="0.7"/><path d="M1662,846 1662,840 1665,835 1662,829 1658,824 1657,819 1662,815" stroke="#8d8d8d" stroke-width="0.9"/><path d="M1665,800 1669,805 1669,811 1667,817 1670,822 1670,828 1674,832" stroke="#a7a7a7" stroke-width="1.1"/><path d="M1691,886 1697,885 1703,885 1706,889 1704,895 1698,897 1696,902" stroke="#b0b0b0" stroke-width="1.5"/><path d="M1660,737 1666,740 1669,745 1672,751 1677,753 1683,753 1686,748" stroke="#5a5a5a" stroke-width="1.5"/><path d="M1531,894 1529,889 1530,883 1535,880 1537,874 1535,868 1531,864" stroke="#636363" stroke-width="1.2"/><path d="M1612,772 1607,775 1601,773 1596,770 1590,770 1587,775 1582,778" stroke="#7e7e7e" stroke-width="1.3"/><path d="M1676,941 1681,945 1681,951 1676,954 1675,960 1671,964 1665,964" stroke="#6e6e6e" stroke-width="1.4"/><path d="M1651,688 1654,683 1659,679 1662,675 1668,674 1672,678 1678,680" stroke="#737373" stroke-width="1.6"/><path d="M1712,860 1706,862 1700,863 1694,863 1689,865 1687,871 1689,877" stroke="#949494" stroke-width="0.9"/><path d="M1668,699 1664,694 1661,689 1661,683 1657,678 1658,672 1659,667" stroke="#898989" stroke-width="1.6"/><path d="M1708,827 1709,821 1715,819 1719,824 1724,828 1725,833 1726,839" stroke="#5a5a5a" stroke-width="1.2"/><path d="M1695,809 1689,808 1683,810 1680,815 1674,815 1668,814 1662,812" stroke="#7d7d7d" stroke-width="1.3"/><path d="M1689,886 1684,890 1678,890 1674,895 1672,900 1671,906 1670,912" stroke="#818181" stroke-width="1.3"/><path d="M1715,901 1712,907 1711,913 1705,914 1701,919 1702,925 1699,930" stroke="#b3b3b3" stroke-width="1.0"/><path d="M1570,926 1576,925 1579,920 1584,916 1587,911 1592,908 1597,905" stroke="#a5a5a5" stroke-width="0.9"/><path d="M1646,736 1652,733 1655,729 1661,730 1667,731 1673,731 1679,732" stroke="#606060" stroke-width="0.8"/><path d="M1631,772 1627,768 1621,767 1616,770 1611,774 1605,775 1604,781" stroke="#797979" stroke-width="1.2"/><path d="M1564,841 1559,843 1554,840 1549,836 1547,831 1543,826 1537,827" stroke="#525252" stroke-width="1.1"/><path d="M1537,754 1531,755 1525,754 1520,757 1515,760 1516,766 1520,771" stroke="#9c9c9c" stroke-width="0.9"/><path d="M1582,764 1579,759 1578,753 1576,747 1572,743 1571,737 1575,733" stroke="#a5a5a5" stroke-width="0.8"/><path d="M1518,848 1524,849 1530,851 1536,851 1538,845 1544,843 1550,842" stroke="#9e9e9e" stroke-width="1.1"/><path d="M1677,872 1679,866 1677,860 1671,859 1667,854 1661,852 1658,847" stroke="#696969" stroke-width="0.8"/><path d="M1553,675 1548,673 1542,671 1541,665 1536,662 1534,656 1529,652" stroke="#6e6e6e" stroke-width="1.5"/><path d="M1524,889 1530,892 1534,896 1533,902 1528,905 1522,905 1518,900" stroke="#868686" stroke-width="1.5"/><path d="M1529,823 1525,827 1520,830 1521,836 1516,839 1511,843 1509,849" stroke="#5d5d5d" stroke-width="1.0"/><path d="M1673,738 1672,732 1676,728 1674,722 1668,721 1663,725 1661,730" stroke="#6b6b6b" stroke-width="1.3"/><path d="M1526,745 1531,749 1532,755 1534,761 1530,765 1524,768 1521,772" stroke="#636363" stroke-width="1.3"/><path d="M1684,702 1680,707 1677,712 1671,713 1665,712 1660,714 1655,718" stroke="#b1b1b1" stroke-width="1.3"/><path d="M1503,927 1503,933 1497,935 1491,936 1489,941 1491,947 1495,951" stroke="#aeaeae" stroke-width="1.4"/><path d="M1640,752 1637,757 1636,763 1641,766 1640,772 1635,776 1629,775" stroke="#acacac" stroke-width="1.1"/><path d="M1675,794 1678,798 1684,799 1688,795 1686,789 1686,783 1686,777" stroke="#9e9e9e" stroke-width="0.8"/><path d="M1544,817 1538,816 1534,811 1530,807 1529,801 1532,796 1534,790" stroke="#888888" stroke-width="1.5"/><path d="M1640,748 1641,754 1647,755 1650,761 1649,767 1653,772 1651,778" stroke="#a8a8a8" stroke-width="1.0"/><path d="M1690,729 1691,735 1687,739 1682,743 1676,744 1670,746 1669,752" stroke="#4b4b4b" stroke-width="1.2"/><path d="M1503,853 1501,848 1495,846 1491,842 1485,842 1479,842 1473,842" stroke="#898989" stroke-width="1.0"/><path d="M1467,914 1471,909 1469,903 1467,898 1465,892 1459,892 1453,894" stroke="#787878" stroke-width="1.5"/><path d="M1650,740 1645,738 1640,741 1634,742 1628,741 1622,742 1618,747" stroke="#6d6d6d" stroke-width="1.1"/><path d="M1575,713 1574,719 1568,721 1567,727 1564,732 1561,737 1556,741" stroke="#a6a6a6" stroke-width="0.8"/><path d="M1654,759 1653,753 1649,749 1645,744 1639,746 1634,743 1628,742" stroke="#b2b2b2" stroke-width="1.1"/><path d="M1692,866 1691,872 1688,877 1685,882 1680,886 1674,888 1668,888" stroke="#909090" stroke-width="1.5"/><path d="M1665,862 1666,868 1672,871 1678,871 1683,872 1689,871 1693,866" stroke="#484848" stroke-width="1.0"/><path d="M1661,781 1666,785 1671,789 1673,794 1676,799 1682,800 1684,806" stroke="#8c8c8c" stroke-width="0.8"/><path d="M1515,943 1509,945 1504,948 1499,952 1499,958 1499,964 1500,969" stroke="#8d8d8d" stroke-width="0.8"/><path d="M1694,934 1699,933 1701,927 1699,921 1693,920 1690,915 1693,909" stroke="#646464" stroke-width="1.1"/><path d="M1676,783 1672,778 1669,773 1663,771 1663,765 1666,760 1662,755" stroke="#b9b9b9" stroke-width="1.4"/><path d="M1607,686 1607,680 1603,675 1603,669 1605,664 1602,659 1605,653" stroke="#b3b3b3" stroke-width="1.2"/><path d="M1669,844 1672,850 1669,855 1669,861 1664,863 1659,860 1655,855" stroke="#555555" stroke-width="0.8"/><path d="M1603,706 1602,700 1598,695 1592,693 1587,696 1581,698 1578,693" stroke="#5e5e5e" stroke-width="1.1"/><path d="M1525,704 1531,706 1536,705 1542,705 1548,705 1554,703 1557,697" stroke="#4e4e4e" stroke-width="1.5"/><path d="M1600,787 1599,793 1603,797 1609,799 1614,802 1618,806 1617,812" stroke="#585858" stroke-width="1.5"/><path d="M1685,735 1691,734 1696,736 1701,733 1702,727 1698,723 1696,717" stroke="#929292" stroke-width="1.2"/><path d="M1702,918 1700,912 1694,912 1690,916 1684,915 1679,911 1675,907" stroke="#484848" stroke-width="1.0"/><path d="M1675,749 1681,747 1681,741 1685,737 1687,731 1692,728 1694,722" stroke="#8c8c8c" stroke-width="1.5"/><path d="M1536,888 1533,883 1528,879 1523,877 1517,880 1512,878 1506,876" stroke="#aaaaaa" stroke-width="1.6"/><path d="M1739,887 1734,885 1729,881 1729,875 1732,870 1738,867 1743,864" stroke="#b0b0b0" stroke-width="1.4"/><path d="M1559,708 1557,714 1552,717 1547,719 1541,717 1538,712 1536,707" stroke="#b0b0b0" stroke-width="0.9"/><path d="M1504,877 1500,872 1498,867 1499,861 1504,858 1504,852 1499,849" stroke="#7c7c7c" stroke-width="1.5"/><path d="M1503,824 1507,819 1512,820 1518,821 1524,822 1529,825 1530,831" stroke="#7b7b7b" stroke-width="0.9"/><path d="M1665,845 1661,849 1657,854 1655,860 1657,865 1660,871 1665,873" stroke="#585858" stroke-width="1.2"/><path d="M1602,830 1601,824 1603,819 1600,814 1594,811 1590,815 1585,819" stroke="#8f8f8f" stroke-width="0.9"/><path d="M1476,934 1471,937 1465,939 1459,941 1454,944 1455,950 1451,954" stroke="#9b9b9b" stroke-width="1.5"/><path d="M1518,903 1523,900 1529,902 1535,902 1539,907 1542,912 1545,918" stroke="#727272" stroke-width="1.2"/><path d="M1690,708 1696,708 1702,709 1708,710 1712,705 1709,699 1711,694" stroke="#545454" stroke-width="1.5"/><path d="M1642,697 1645,703 1646,709 1646,715 1649,720 1652,725 1655,730" stroke="#464646" stroke-width="0.9"/><path d="M1705,866 1700,863 1694,862 1692,856 1694,851 1692,845 1688,841" stroke="#959595" stroke-width="1.0"/><path d="M1474,748 1477,743 1483,742 1487,746 1493,747 1494,753 1499,756" stroke="#828282" stroke-width="1.1"/><path d="M1559,739 1565,738 1571,739 1574,744 1578,749 1577,755 1577,761" stroke="#b3b3b3" stroke-width="1.6"/><path d="M1628,859 1626,865 1628,871 1632,875 1630,881 1628,886 1624,890" stroke="#545454" stroke-width="1.2"/><path d="M1691,808 1688,803 1684,799 1685,793 1681,788 1685,783 1689,779" stroke="#a0a0a0" stroke-width="1.3"/><path d="M1708,869 1702,871 1697,868 1697,862 1699,856 1696,851 1699,845" stroke="#535353" stroke-width="1.1"/><path d="M1657,932 1653,936 1647,938 1642,937 1638,942 1636,948 1637,953" stroke="#535353" stroke-width="1.0"/><path d="M1632,704 1626,702 1622,705 1616,708 1614,713 1614,719 1615,725" stroke="#7f7f7f" stroke-width="1.0"/><path d="M1547,879 1541,881 1538,886 1538,892 1542,897 1544,903 1547,907" stroke="#7a7a7a" stroke-width="1.5"/><path d="M1656,831 1650,830 1644,828 1644,822 1639,818 1634,816 1629,819" stroke="#5d5d5d" stroke-width="1.1"/><path d="M1589,898 1594,895 1599,898 1605,897 1609,902 1611,908 1615,912" stroke="#adadad" stroke-width="1.2"/><path d="M1662,685 1662,691 1656,694 1650,693 1644,693 1639,690 1635,685" stroke="#b6b6b6" stroke-width="1.0"/><path d="M1541,831 1539,825 1542,820 1547,817 1553,815 1559,816 1561,810" stroke="#a2a2a2" stroke-width="1.6"/><path d="M1640,855 1642,849 1640,843 1643,838 1649,836 1653,841 1653,847" stroke="#ababab" stroke-width="1.5"/><path d="M1633,876 1628,873 1622,874 1616,874 1612,869 1606,871 1602,876" stroke="#595959" stroke-width="1.3"/><path d="M1655,674 1656,668 1653,663 1652,657 1656,652 1658,647 1660,641" stroke="#5a5a5a" stroke-width="1.3"/><path d="M1594,828 1589,825 1585,820 1579,818 1574,817 1568,819 1562,820" stroke="#878787" stroke-width="1.1"/><path d="M1628,783 1627,789 1632,793 1638,792 1640,786 1637,781 1633,777" stroke="#ababab" stroke-width="1.3"/><path d="M1671,888 1668,883 1669,877 1668,871 1673,867 1678,864 1681,859" stroke="#a6a6a6" stroke-width="1.5"/><path d="M1622,703 1617,707 1612,709 1607,713 1603,717 1602,723 1598,728" stroke="#717171" stroke-width="0.7"/><path d="M1647,873 1652,877 1657,880 1660,885 1663,891 1661,896 1663,902" stroke="#808080" stroke-width="0.9"/><path d="M1533,802 1527,802 1521,801 1515,801 1509,802 1505,798 1499,800" stroke="#a4a4a4" stroke-width="1.4"/><path d="M1604,884 1609,887 1615,885 1620,888 1626,891 1631,894 1633,899" stroke="#868686" stroke-width="1.1"/><path d="M1613,894 1616,899 1615,905 1619,909 1621,915 1623,921 1625,927" stroke="#737373" stroke-width="1.2"/><path d="M1674,825 1669,827 1663,827 1657,828 1655,834 1653,839 1649,844" stroke="#acacac" stroke-width="0.9"/><path d="M1597,868 1595,873 1590,877 1585,874 1579,877 1576,882 1570,881" stroke="#4c4c4c" stroke-width="1.0"/><path d="M1531,706 1535,710 1541,710 1545,706 1551,704 1556,706 1557,712" stroke="#7f7f7f" stroke-width="0.9"/><path d="M1566,936 1570,941 1576,940 1581,941 1584,947 1582,953 1577,954" stroke="#656565" stroke-width="1.5"/><path d="M1743,902 1749,902 1755,902 1760,899 1765,895 1765,889 1769,885" stroke="#acacac" stroke-width="0.7"/><path d="M1564,734 1559,738 1555,742 1553,748 1552,754 1548,759 1546,764" stroke="#959595" stroke-width="1.5"/><path d="M1467,801 1473,804 1478,801 1482,797 1486,792 1490,788 1493,783" stroke="#848484" stroke-width="0.7"/><path d="M1540,780 1539,786 1533,789 1531,794 1525,794 1520,798 1521,803" stroke="#9c9c9c" stroke-width="1.1"/><path d="M1498,709 1502,714 1505,719 1507,724 1503,729 1500,734 1504,739" stroke="#a0a0a0" stroke-width="0.7"/><path d="M1634,770 1629,774 1624,776 1619,780 1613,779 1609,775 1605,770" stroke="#838383" stroke-width="1.0"/><path d="M1548,793 1543,791 1537,789 1533,785 1527,786 1523,782 1521,777" stroke="#828282" stroke-width="1.3"/><path d="M1516,778 1510,776 1504,775 1499,771 1497,766 1496,760 1492,755" stroke="#7a7a7a" stroke-width="1.2"/><path d="M1628,745 1632,749 1638,748 1644,747 1650,749 1655,749 1659,744" stroke="#6d6d6d" stroke-width="1.6"/><path d="M1535,683 1529,681 1523,682 1519,686 1520,692 1519,698 1514,702" stroke="#8f8f8f" stroke-width="0.8"/><path d="M1589,914 1583,914 1579,918 1574,920 1568,922 1563,925 1557,927" stroke="#848484" stroke-width="1.0"/><path d="M1588,685 1586,691 1582,695 1579,700 1575,705 1574,711 1572,717" stroke="#a7a7a7" stroke-width="0.9"/><path d="M1499,945 1504,944 1507,938 1511,934 1508,929 1509,923 1504,920" stroke="#767676" stroke-width="1.3"/><path d="M1473,767 1468,770 1462,772 1457,769 1452,766 1448,762 1446,756" stroke="#9a9a9a" stroke-width="1.5"/><path d="M1495,694 1495,688 1498,683 1504,682 1510,680 1514,675 1520,676" stroke="#787878" stroke-width="1.5"/><path d="M1508,924 1512,919 1518,919 1524,921 1527,926 1525,932 1528,937" stroke="#767676" stroke-width="1.3"/><path d="M1550,713 1553,708 1559,706 1564,703 1564,697 1564,691 1560,686" stroke="#a8a8a8" stroke-width="1.3"/><path d="M1687,735 1681,738 1680,743 1680,749 1683,755 1689,754 1694,758" stroke="#858585" stroke-width="1.6"/><path d="M1666,930 1661,928 1655,929 1649,928 1643,931 1638,934 1633,936" stroke="#8f8f8f" stroke-width="1.2"/><path d="M1653,788 1647,789 1643,784 1641,779 1639,773 1637,768 1640,762" stroke="#949494" stroke-width="1.3"/><path d="M1469,821 1463,818 1464,812 1467,807 1472,804 1478,806 1483,802" stroke="#8f8f8f" stroke-width="1.2"/><path d="M1690,840 1696,839 1700,844 1705,847 1711,848 1716,846 1722,844" stroke="#989898" stroke-width="1.2"/><path d="M1536,809 1542,810 1545,805 1551,806 1555,810 1559,815 1559,821" stroke="#646464" stroke-width="1.1"/><path d="M1572,809 1566,812 1561,809 1556,806 1551,803 1545,804 1544,810" stroke="#5a5a5a" stroke-width="0.9"/><path d="M1526,844 1528,850 1531,855 1527,860 1523,864 1523,870 1518,873" stroke="#adadad" stroke-width="0.8"/><path d="M1699,867 1696,861 1690,859 1686,855 1680,853 1678,847 1672,845" stroke="#6f6f6f" stroke-width="0.7"/><path d="M1595,810 1590,808 1585,811 1580,815 1578,821 1579,827 1585,828" stroke="#676767" stroke-width="1.5"/><path d="M1467,897 1468,891 1474,889 1478,885 1484,888 1489,890 1495,892" stroke="#484848" stroke-width="1.3"/><path d="M1534,768 1528,768 1524,763 1518,765 1516,770 1510,770 1506,765" stroke="#585858" stroke-width="1.6"/><path d="M1707,919 1711,924 1717,926 1719,931 1720,937 1725,941 1731,939" stroke="#868686" stroke-width="1.4"/><path d="M1542,707 1547,704 1548,698 1553,696 1558,699 1560,705 1564,709" stroke="#aaaaaa" stroke-width="1.5"/><path d="M1650,716 1655,713 1660,710 1662,704 1661,698 1658,693 1657,687" stroke="#4c4c4c" stroke-width="1.2"/><path d="M1740,913 1734,912 1729,910 1728,904 1722,901 1716,902 1712,898" stroke="#595959" stroke-width="1.5"/><path d="M1539,718 1536,713 1531,709 1525,709 1520,711 1518,717 1523,721" stroke="#979797" stroke-width="1.0"/><path d="M1473,728 1470,733 1465,737 1461,741 1455,740 1451,736 1445,735" stroke="#666666" stroke-width="1.4"/><path d="M1684,749 1690,748 1693,743 1698,740 1699,734 1697,728 1700,723" stroke="#5d5d5d" stroke-width="1.4"/><path d="M1522,748 1527,743 1532,741 1537,738 1543,740 1545,745 1542,751" stroke="#898989" stroke-width="1.2"/><path d="M1694,836 1695,830 1694,825 1694,819 1699,816 1704,820 1708,824" stroke="#8c8c8c" stroke-width="1.2"/><path d="M1704,685 1707,690 1709,696 1707,701 1706,707 1705,713 1710,717" stroke="#a8a8a8" stroke-width="0.9"/><path d="M1615,915 1620,913 1624,908 1630,907 1635,911 1641,908 1647,910" stroke="#505050" stroke-width="1.4"/><path d="M1566,781 1568,775 1563,772 1562,766 1566,762 1566,756 1567,750" stroke="#707070" stroke-width="1.6"/><path d="M1668,822 1668,828 1663,832 1658,835 1652,836 1646,838 1641,836" stroke="#b3b3b3" stroke-width="1.5"/><path d="M1676,704 1671,708 1672,714 1673,720 1676,725 1681,729 1687,729" stroke="#aeaeae" stroke-width="0.8"/><path d="M1476,688 1476,694 1473,699 1474,705 1473,711 1475,717 1476,723" stroke="#808080" stroke-width="1.2"/><path d="M1708,868 1704,872 1706,878 1710,882 1714,887 1719,888 1723,892" stroke="#4d4d4d" stroke-width="1.0"/><path d="M1519,740 1516,735 1518,729 1514,725 1513,719 1507,716 1502,712" stroke="#6e6e6e" stroke-width="0.9"/><path d="M1583,880 1588,877 1594,878 1600,878 1604,882 1608,886 1612,891" stroke="#7d7d7d" stroke-width="1.5"/><path d="M1610,839 1616,841 1620,836 1621,830 1617,826 1611,828 1605,830" stroke="#b3b3b3" stroke-width="1.0"/><path d="M1671,881 1675,885 1681,885 1687,882 1692,879 1695,874 1698,869" stroke="#4c4c4c" stroke-width="1.2"/><path d="M1708,837 1713,839 1718,842 1723,846 1722,852 1723,858 1727,862" stroke="#b3b3b3" stroke-width="1.5"/><path d="M1592,780 1594,785 1591,790 1593,795 1595,801 1594,807 1588,809" stroke="#8d8d8d" stroke-width="1.2"/><path d="M1731,907 1731,913 1730,919 1728,925 1725,930 1728,935 1732,940" stroke="#a5a5a5" stroke-width="0.9"/><path d="M1581,700 1586,697 1586,691 1584,685 1578,684 1575,678 1578,673" stroke="#939393" stroke-width="1.4"/><path d="M1600,683 1599,689 1597,694 1601,699 1598,704 1595,710 1590,713" stroke="#818181" stroke-width="1.1"/><path d="M1651,808 1657,809 1663,808 1665,802 1671,801 1675,805 1675,811" stroke="#aeaeae" stroke-width="1.0"/><path d="M1657,935 1651,938 1651,944 1649,950 1652,955 1657,958 1662,961" stroke="#a0a0a0" stroke-width="0.8"/><path d="M1516,926 1518,932 1522,936 1525,942 1522,947 1524,952 1520,957" stroke="#8a8a8a" stroke-width="1.3"/><path d="M1570,728 1574,723 1580,725 1585,721 1586,716 1584,710 1585,704" stroke="#4a4a4a" stroke-width="1.1"/><path d="M1615,907 1611,912 1607,916 1605,921 1599,923 1594,926 1589,929" stroke="#585858" stroke-width="1.5"/><path d="M1668,815 1671,811 1674,805 1670,800 1664,801 1658,803 1654,799" stroke="#767676" stroke-width="0.8"/><path d="M1593,911 1587,910 1582,906 1578,902 1576,896 1578,890 1584,890" stroke="#a5a5a5" stroke-width="1.3"/><path d="M1616,726 1622,729 1624,734 1630,737 1635,739 1640,735 1638,729" stroke="#898989" stroke-width="0.9"/><path d="M1544,923 1542,918 1546,913 1552,911 1557,908 1559,902 1564,901" stroke="#969696" stroke-width="0.8"/><path d="M1526,724 1520,725 1517,730 1518,736 1515,741 1510,745 1511,751" stroke="#6e6e6e" stroke-width="1.2"/><path d="M1678,891 1674,886 1668,887 1662,886 1657,888 1651,890 1647,887" stroke="#9f9f9f" stroke-width="0.8"/><path d="M1570,854 1576,857 1575,863 1571,867 1565,869 1565,875 1565,881" stroke="#7e7e7e" stroke-width="1.2"/><path d="M1612,945 1617,947 1622,944 1625,939 1626,933 1631,929 1637,928" stroke="#4c4c4c" stroke-width="1.3"/><path d="M1714,898 1720,897 1725,900 1725,906 1727,912 1732,915 1738,914" stroke="#878787" stroke-width="1.3"/><path d="M1502,825 1504,819 1507,814 1513,815 1516,820 1519,825 1525,824" stroke="#6e6e6e" stroke-width="0.8"/><path d="M1506,910 1512,912 1518,915 1523,916 1528,920 1534,917 1539,919" stroke="#707070" stroke-width="1.4"/><path d="M1646,779 1650,775 1651,769 1646,766 1641,763 1636,759 1631,762" stroke="#525252" stroke-width="0.9"/><path d="M1537,774 1541,770 1541,764 1541,758 1536,756 1530,755 1527,750" stroke="#b4b4b4" stroke-width="1.5"/><path d="M1485,856 1491,856 1496,853 1498,847 1495,842 1496,836 1501,834" stroke="#ababab" stroke-width="0.7"/><path d="M1695,779 1695,773 1694,767 1690,763 1691,757 1690,751 1692,746" stroke="#666666" stroke-width="1.1"/><path d="M1578,756 1572,755 1568,750 1563,748 1557,745 1552,748 1552,754" stroke="#a2a2a2" stroke-width="1.2"/><path d="M1570,738 1576,738 1581,742 1586,745 1590,750 1595,753 1600,757" stroke="#777777" stroke-width="1.5"/><path d="M1578,915 1574,919 1569,922 1566,928 1561,931 1562,937 1568,940" stroke="#797979" stroke-width="1.1"/><path d="M1708,888 1702,891 1696,893 1691,890 1689,885 1683,882 1683,876" stroke="#4a4a4a" stroke-width="1.1"/><path d="M1621,796 1626,791 1631,794 1637,792 1642,795 1648,795 1651,800" stroke="#535353" stroke-width="1.0"/><path d="M1554,803 1551,808 1546,811 1540,814 1540,820 1538,826 1534,830" stroke="#676767" stroke-width="1.3"/><path d="M1561,903 1563,909 1569,909 1573,905 1579,905 1585,904 1588,909" stroke="#606060" stroke-width="1.1"/><path d="M1642,702 1638,707 1632,707 1626,707 1623,702 1618,700 1614,695" stroke="#a0a0a0" stroke-width="1.6"/><path d="M1473,848 1477,844 1483,842 1486,837 1492,839 1494,844 1493,850" stroke="#8e8e8e" stroke-width="1.2"/><path d="M1711,937 1717,936 1721,940 1726,938 1730,943 1736,943 1740,948" stroke="#585858" stroke-width="1.4"/><path d="M1552,731 1547,732 1541,732 1536,735 1530,734 1524,732 1518,731" stroke="#9e9e9e" stroke-width="0.9"/><path d="M1516,741 1513,746 1517,751 1523,750 1527,746 1527,740 1525,734" stroke="#a9a9a9" stroke-width="0.8"/><path d="M1695,858 1689,857 1684,855 1681,850 1684,845 1690,843 1695,840" stroke="#b2b2b2" stroke-width="0.8"/><path d="M1683,828 1687,832 1692,836 1698,837 1703,840 1708,837 1714,837" stroke="#818181" stroke-width="0.8"/><path d="M1610,681 1615,683 1618,688 1614,693 1610,698 1606,702 1605,707" stroke="#595959" stroke-width="1.0"/><path d="M1744,895 1750,896 1756,895 1761,892 1767,891 1771,896 1772,902" stroke="#595959" stroke-width="0.8"/><path d="M1722,922 1716,921 1710,923 1710,929 1707,935 1708,941 1709,947" stroke="#a7a7a7" stroke-width="1.1"/><path d="M1484,764 1490,764 1494,769 1495,775 1494,781 1495,787 1490,790" stroke="#828282" stroke-width="1.4"/><path d="M1535,831 1540,828 1546,830 1551,833 1556,836 1559,841 1565,843" stroke="#999999" stroke-width="0.7"/><path d="M1572,886 1569,881 1565,876 1559,875 1554,872 1550,876 1546,880" stroke="#afafaf" stroke-width="1.2"/><path d="M1493,836 1498,839 1504,841 1504,847 1499,851 1494,847 1489,845" stroke="#7f7f7f" stroke-width="0.8"/><path d="M1701,763 1696,760 1697,754 1701,749 1703,744 1709,741 1713,737" stroke="#6d6d6d" stroke-width="1.3"/><path d="M1585,885 1579,885 1573,884 1567,884 1561,883 1556,885 1550,887" stroke="#747474" stroke-width="1.1"/><path d="M1655,867 1661,867 1667,867 1672,871 1678,872 1682,876 1686,881" stroke="#676767" stroke-width="1.1"/><path d="M1558,739 1553,736 1547,735 1541,734 1535,732 1532,727 1535,722" stroke="#9e9e9e" stroke-width="1.3"/><path d="M1666,737 1668,743 1673,747 1679,747 1683,742 1689,742 1695,742" stroke="#a6a6a6" stroke-width="1.1"/><path d="M1650,749 1646,754 1644,759 1644,765 1649,768 1655,769 1660,773" stroke="#535353" stroke-width="0.7"/><path d="M1488,848 1493,845 1499,843 1502,838 1505,833 1507,828 1503,823" stroke="#646464" stroke-width="1.0"/><path d="M1481,842 1485,837 1488,833 1490,827 1488,822 1484,817 1486,812" stroke="#7f7f7f" stroke-width="1.6"/><path d="M1564,900 1558,902 1553,900 1547,902 1546,908 1545,914 1550,918" stroke="#4f4f4f" stroke-width="1.5"/><path d="M1710,925 1708,919 1707,913 1712,909 1714,904 1718,899 1720,894" stroke="#a9a9a9" stroke-width="1.2"/><path d="M1618,718 1614,715 1608,717 1602,719 1596,719 1591,716 1588,711" stroke="#909090" stroke-width="1.2"/><path d="M1631,794 1630,800 1629,806 1628,812 1624,816 1622,822 1617,823" stroke="#6d6d6d" stroke-width="1.5"/><path d="M1497,836 1494,831 1492,826 1494,820 1499,817 1505,819 1509,824" stroke="#7f7f7f" stroke-width="1.6"/><path d="M1595,752 1589,750 1585,746 1583,740 1578,738 1576,732 1580,727" stroke="#b7b7b7" stroke-width="1.2"/><path d="M1470,775 1468,769 1472,765 1472,759 1470,753 1469,747 1471,742" stroke="#878787" stroke-width="1.4"/><path d="M1674,872 1669,874 1664,870 1662,865 1660,859 1657,854 1652,851" stroke="#6b6b6b" stroke-width="1.4"/><path d="M1472,903 1476,898 1476,892 1474,886 1478,881 1484,881 1489,877" stroke="#626262" stroke-width="0.9"/><path d="M1632,886 1628,890 1622,892 1617,895 1616,901 1613,906 1617,911" stroke="#828282" stroke-width="1.5"/><path d="M1507,888 1502,884 1501,878 1496,876 1493,871 1489,866 1483,867" stroke="#686868" stroke-width="1.0"/><path d="M1470,812 1465,815 1465,821 1471,824 1476,822 1481,826 1479,831" stroke="#9c9c9c" stroke-width="1.3"/><path d="M1506,701 1512,704 1513,710 1511,715 1506,718 1500,716 1495,712" stroke="#a0a0a0" stroke-width="0.9"/><path d="M1614,689 1618,684 1617,678 1614,673 1610,669 1607,664 1609,658" stroke="#707070" stroke-width="1.2"/><path d="M1634,693 1631,688 1629,683 1626,677 1626,671 1624,666 1618,664" stroke="#727272" stroke-width="0.7"/><path d="M1612,840 1607,838 1601,837 1596,841 1590,840 1585,843 1580,841" stroke="#4d4d4d" stroke-width="1.0"/><path d="M1485,859 1490,856 1496,856 1502,857 1508,859 1512,855 1518,857" stroke="#b2b2b2" stroke-width="1.6"/><path d="M1704,931 1709,926 1714,926 1719,922 1725,925 1730,928 1733,934" stroke="#707070" stroke-width="1.4"/><path d="M1648,771 1644,766 1639,762 1634,759 1630,755 1625,752 1619,750" stroke="#b8b8b8" stroke-width="1.3"/><path d="M1563,810 1562,804 1565,799 1563,793 1557,793 1553,788 1551,782" stroke="#555555" stroke-width="0.7"/><path d="M1568,750 1568,744 1563,741 1560,736 1564,731 1570,732 1574,737" stroke="#929292" stroke-width="0.9"/><path d="M1543,945 1537,946 1532,943 1527,947 1528,953 1523,957 1521,962" stroke="#525252" stroke-width="1.5"/><path d="M1708,881 1708,887 1708,893 1704,897 1704,903 1700,908 1697,913" stroke="#767676" stroke-width="1.3"/><path d="M1509,817 1510,823 1509,829 1506,834 1509,840 1506,845 1504,850" stroke="#696969" stroke-width="1.1"/><path d="M1627,795 1623,799 1617,802 1612,804 1606,806 1600,807 1595,810" stroke="#696969" stroke-width="0.9"/><path d="M1596,745 1600,750 1601,756 1605,760 1611,759 1614,754 1613,748" stroke="#8d8d8d" stroke-width="0.9"/><path d="M1520,782 1515,779 1513,773 1517,769 1519,763 1523,759 1527,755" stroke="#4e4e4e" stroke-width="1.5"/><path d="M1587,886 1585,881 1587,875 1592,871 1594,866 1591,861 1592,856" stroke="#525252" stroke-width="1.5"/><path d="M1629,721 1625,725 1624,731 1621,736 1619,741 1622,746 1624,752" stroke="#565656" stroke-width="1.2"/><path d="M1697,686 1703,685 1708,683 1711,678 1717,676 1721,680 1727,679" stroke="#727272" stroke-width="1.1"/><path d="M1574,729 1579,725 1585,727 1589,723 1595,721 1597,716 1598,710" stroke="#555555" stroke-width="1.1"/><path d="M1484,934 1478,934 1472,935 1467,933 1461,934 1455,936 1449,935" stroke="#737373" stroke-width="1.6"/><path d="M1535,763 1539,759 1545,757 1550,754 1556,755 1561,756 1567,758" stroke="#7b7b7b" stroke-width="0.8"/><path d="M1474,912 1474,906 1476,900 1482,901 1488,900 1493,896 1498,899" stroke="#989898" stroke-width="1.2"/><path d="M1650,857 1654,861 1655,867 1659,871 1660,877 1666,878 1670,883" stroke="#5a5a5a" stroke-width="1.4"/><path d="M1505,906 1510,909 1514,913 1512,919 1516,923 1513,929 1509,933" stroke="#9b9b9b" stroke-width="1.0"/><path d="M1612,701 1614,696 1612,690 1610,685 1605,681 1599,680 1594,684" stroke="#6b6b6b" stroke-width="0.7"/><path d="M1699,777 1704,780 1709,783 1714,779 1720,780 1722,785 1721,791" stroke="#797979" stroke-width="0.7"/><path d="M1599,772 1603,767 1609,767 1614,765 1620,764 1622,758 1624,752" stroke="#8b8b8b" stroke-width="1.5"/><path d="M1477,710 1473,714 1474,720 1472,725 1476,729 1482,727 1487,730" stroke="#868686" stroke-width="1.3"/><path d="M1506,793 1511,790 1517,789 1521,785 1520,779 1523,774 1528,771" stroke="#767676" stroke-width="0.8"/><path d="M1477,798 1480,792 1479,786 1476,781 1470,780 1464,781 1459,778" stroke="#4b4b4b" stroke-width="0.8"/><path d="M1672,893 1676,888 1682,889 1687,892 1693,890 1697,894 1701,898" stroke="#7d7d7d" stroke-width="1.0"/><path d="M1630,712 1631,706 1628,701 1623,698 1617,700 1611,700 1605,701" stroke="#9b9b9b" stroke-width="0.7"/><path d="M1469,879 1474,877 1479,874 1479,868 1484,864 1484,858 1487,853" stroke="#525252" stroke-width="0.8"/><path d="M1679,864 1681,859 1685,854 1690,850 1695,847 1698,842 1704,841" stroke="#696969" stroke-width="0.9"/><path d="M1530,837 1535,835 1541,836 1547,835 1552,832 1556,827 1554,821" stroke="#686868" stroke-width="0.7"/><path d="M1630,756 1626,751 1620,752 1615,755 1614,761 1613,767 1611,773" stroke="#535353" stroke-width="1.5"/><path d="M1597,888 1591,888 1585,888 1582,893 1580,899 1584,903 1590,906" stroke="#7f7f7f" stroke-width="1.5"/><path d="M1491,711 1487,706 1487,700 1488,694 1488,688 1484,684 1483,678" stroke="#646464" stroke-width="1.4"/><path d="M1520,875 1520,869 1519,863 1521,857 1520,852 1519,846 1524,842" stroke="#6c6c6c" stroke-width="1.0"/><path d="M1503,845 1508,849 1513,850 1519,848 1524,845 1528,841 1530,835" stroke="#a5a5a5" stroke-width="0.9"/><path d="M1573,935 1569,940 1569,946 1574,949 1580,950 1586,950 1589,955" stroke="#545454" stroke-width="1.5"/><path d="M1695,915 1689,918 1684,917 1680,912 1676,908 1670,907 1666,903" stroke="#949494" stroke-width="1.5"/><path d="M1541,902 1547,900 1552,902 1558,903 1563,907 1569,906 1570,900" stroke="#8f8f8f" stroke-width="1.2"/><path d="M1514,716 1510,720 1504,721 1498,719 1492,719 1488,724 1485,729" stroke="#aaaaaa" stroke-width="1.6"/><path d="M1579,718 1585,719 1591,720 1593,726 1591,732 1589,737 1589,743" stroke="#959595" stroke-width="1.1"/><path d="M1645,943 1642,948 1637,951 1632,955 1626,954 1620,954 1615,956" stroke="#5f5f5f" stroke-width="1.4"/><path d="M1663,728 1667,733 1670,738 1675,742 1681,742 1686,738 1691,735" stroke="#767676" stroke-width="1.4"/><path d="M1689,740 1683,741 1677,738 1672,742 1671,747 1674,752 1679,756" stroke="#aaaaaa" stroke-width="1.3"/><path d="M1478,674 1481,679 1479,684 1475,689 1469,689 1466,684 1466,678" stroke="#8b8b8b" stroke-width="0.8"/><path d="M1597,679 1594,684 1595,690 1592,695 1587,698 1582,702 1576,704" stroke="#9b9b9b" stroke-width="1.4"/><path d="M1550,745 1549,751 1543,752 1539,748 1533,747 1527,749 1524,754" stroke="#9a9a9a" stroke-width="0.8"/><path d="M1626,837 1626,843 1631,847 1636,850 1642,852 1643,857 1642,863" stroke="#9e9e9e" stroke-width="1.2"/><path d="M1626,791 1622,787 1621,781 1621,775 1626,771 1631,773 1634,778" stroke="#909090" stroke-width="1.4"/><path d="M1633,918 1629,923 1627,929 1622,931 1616,932 1610,931 1606,926" stroke="#adadad" stroke-width="1.4"/><path d="M1496,753 1492,758 1486,758 1483,764 1478,768 1472,767 1468,763" stroke="#727272" stroke-width="1.4"/><path d="M1535,839 1540,841 1545,838 1546,832 1545,826 1539,823 1537,818" stroke="#a2a2a2" stroke-width="1.5"/><path d="M1608,796 1604,791 1606,785 1612,784 1614,778 1616,773 1614,767" stroke="#686868" stroke-width="1.1"/><path d="M1711,688 1717,689 1723,691 1727,687 1727,681 1728,675 1724,671" stroke="#a1a1a1" stroke-width="1.4"/><path d="M1699,900 1703,905 1709,906 1715,906 1719,901 1724,898 1724,892" stroke="#474747" stroke-width="1.4"/><path d="M1498,871 1503,873 1509,872 1514,877 1518,881 1521,886 1526,890" stroke="#9c9c9c" stroke-width="1.6"/><path d="M1660,877 1656,872 1651,870 1648,864 1642,863 1636,861 1633,856" stroke="#8e8e8e" stroke-width="0.9"/><path d="M1475,746 1480,743 1484,739 1487,734 1493,734 1498,737 1504,740" stroke="#868686" stroke-width="0.8"/><path d="M1491,918 1486,915 1480,917 1475,920 1469,921 1463,923 1458,920" stroke="#787878" stroke-width="0.9"/><path d="M1562,902 1568,902 1572,898 1578,900 1584,901 1586,906 1590,911" stroke="#909090" stroke-width="1.0"/><path d="M1658,840 1652,839 1647,836 1647,830 1649,824 1654,821 1655,816" stroke="#a4a4a4" stroke-width="1.1"/><path d="M1579,685 1583,681 1582,675 1578,670 1573,668 1570,663 1564,662" stroke="#8f8f8f" stroke-width="1.2"/><path d="M1502,785 1496,783 1490,781 1485,779 1483,773 1477,772 1475,766" stroke="#656565" stroke-width="1.1"/><path d="M1598,883 1604,886 1608,890 1612,894 1617,898 1622,900 1627,903" stroke="#7a7a7a" stroke-width="1.3"/><path d="M1484,698 1478,698 1475,703 1469,702 1466,697 1467,691 1462,687" stroke="#adadad" stroke-width="1.2"/><path d="M1566,783 1561,785 1556,781 1551,777 1548,772 1544,767 1542,762" stroke="#8e8e8e" stroke-width="1.5"/><path d="M1602,832 1597,829 1596,823 1600,818 1602,812 1607,808 1613,809" stroke="#898989" stroke-width="0.7"/><path d="M1662,762 1668,763 1674,764 1680,764 1686,762 1691,765 1697,766" stroke="#9a9a9a" stroke-width="1.3"/><path d="M1523,731 1521,726 1516,723 1510,723 1504,722 1498,723 1493,725" stroke="#6d6d6d" stroke-width="0.8"/><path d="M1706,714 1706,708 1710,704 1708,698 1704,694 1699,691 1693,690" stroke="#686868" stroke-width="1.1"/><path d="M1697,695 1692,692 1689,687 1693,682 1699,683 1703,687 1703,693" stroke="#b1b1b1" stroke-width="1.4"/><path d="M1646,858 1652,861 1657,860 1662,856 1665,851 1671,848 1676,851" stroke="#a1a1a1" stroke-width="1.0"/><path d="M1708,845 1709,851 1714,854 1715,860 1717,866 1714,871 1708,870" stroke="#545454" stroke-width="0.9"/><path d="M1657,822 1658,828 1662,833 1662,839 1659,844 1653,844 1647,843" stroke="#6d6d6d" stroke-width="0.9"/><path d="M1538,708 1542,704 1544,698 1546,693 1551,689 1557,691 1560,696" stroke="#6b6b6b" stroke-width="1.0"/><path d="M1682,908 1682,902 1688,899 1694,898 1697,903 1694,908 1691,913" stroke="#676767" stroke-width="1.0"/><path d="M1675,772 1673,778 1675,783 1673,789 1675,794 1680,798 1683,803" stroke="#525252" stroke-width="0.8"/><path d="M1634,930 1638,926 1644,926 1650,929 1655,932 1661,932 1666,935" stroke="#858585" stroke-width="0.9"/><path d="M1600,881 1602,875 1606,872 1612,869 1612,863 1616,858 1621,855" stroke="#4d4d4d" stroke-width="0.9"/><path d="M1653,877 1659,876 1663,871 1664,865 1670,863 1671,857 1677,854" stroke="#858585" stroke-width="1.4"/><path d="M1641,823 1638,828 1632,829 1626,831 1621,834 1615,834 1610,836" stroke="#676767" stroke-width="1.2"/><path d="M1495,770 1496,764 1501,761 1507,762 1512,766 1511,772 1515,776" stroke="#959595" stroke-width="1.3"/><path d="M1652,775 1658,773 1659,768 1659,762 1657,756 1659,750 1664,749" stroke="#525252" stroke-width="0.9"/><path d="M1695,921 1701,921 1705,926 1704,932 1699,935 1697,941 1693,945" stroke="#ababab" stroke-width="1.3"/><path d="M1504,713 1505,708 1509,703 1507,698 1503,693 1499,688 1493,686" stroke="#939393" stroke-width="0.8"/><path d="M1538,736 1544,735 1549,739 1549,745 1546,750 1540,751 1535,755" stroke="#7c7c7c" stroke-width="1.2"/><path d="M1624,939 1619,935 1613,933 1608,935 1604,940 1601,945 1599,951" stroke="#b3b3b3" stroke-width="1.5"/><path d="M1571,707 1565,709 1560,712 1559,718 1559,724 1557,730 1557,736" stroke="#828282" stroke-width="1.6"/><path d="M1592,906 1596,910 1598,916 1603,919 1609,917 1613,912 1619,913" stroke="#999999" stroke-width="1.3"/><path d="M1625,678 1629,682 1635,682 1640,684 1646,686 1651,683 1657,681" stroke="#acacac" stroke-width="1.6"/><path d="M1550,818 1546,814 1541,810 1542,804 1540,798 1539,792 1536,787" stroke="#484848" stroke-width="0.9"/><path d="M1621,822 1616,818 1612,813 1606,812 1600,812 1596,816 1590,818" stroke="#9a9a9a" stroke-width="1.4"/><path d="M1649,916 1655,913 1655,907 1651,903 1645,902 1643,897 1639,892" stroke="#b5b5b5" stroke-width="1.3"/><path d="M1486,859 1488,853 1493,850 1498,853 1503,856 1504,862 1505,868" stroke="#999999" stroke-width="0.8"/><path d="M1583,723 1584,729 1580,734 1583,739 1588,743 1593,741 1599,740" stroke="#8a8a8a" stroke-width="1.5"/><path d="M1687,898 1682,900 1676,899 1675,893 1677,887 1683,886 1689,884" stroke="#a9a9a9" stroke-width="1.1"/><path d="M1509,765 1508,759 1503,756 1497,758 1491,756 1486,754 1481,751" stroke="#949494" stroke-width="0.8"/><path d="M1575,915 1580,912 1586,910 1591,906 1595,902 1598,897 1604,897" stroke="#a9a9a9" stroke-width="0.7"/><path d="M1618,795 1614,791 1614,785 1617,781 1616,775 1617,769 1620,764" stroke="#6c6c6c" stroke-width="0.8"/><path d="M1483,689 1489,690 1495,690 1498,685 1503,683 1504,677 1504,671" stroke="#888888" stroke-width="1.2"/><path d="M1579,852 1584,849 1585,843 1588,838 1590,833 1595,830 1601,828" stroke="#5c5c5c" stroke-width="0.7"/><path d="M1600,913 1594,915 1589,918 1583,915 1581,910 1583,904 1582,898" stroke="#636363" stroke-width="1.2"/><path d="M1571,849 1571,855 1571,861 1577,864 1578,870 1584,871 1590,871" stroke="#979797" stroke-width="1.0"/><path d="M1542,782 1547,778 1551,774 1555,770 1561,768 1567,767 1572,765" stroke="#8b8b8b" stroke-width="1.5"/><path d="M1656,722 1659,728 1665,729 1671,728 1677,727 1682,731 1687,732" stroke="#949494" stroke-width="1.5"/><path d="M1622,744 1628,742 1633,745 1639,746 1645,749 1646,755 1643,760" stroke="#b4b4b4" stroke-width="1.3"/><path d="M1570,921 1576,920 1582,920 1588,918 1594,916 1599,915 1605,912" stroke="#7b7b7b" stroke-width="1.3"/><path d="M1647,722 1648,717 1643,713 1640,708 1641,702 1644,697 1646,691" stroke="#5e5e5e" stroke-width="1.3"/><path d="M1468,811 1462,809 1457,812 1452,814 1447,810 1446,804 1450,799" stroke="#848484" stroke-width="1.0"/><path d="M1569,891 1572,886 1573,880 1577,875 1582,876 1584,882 1588,887" stroke="#575757" stroke-width="1.0"/><path d="M1673,921 1679,922 1684,919 1686,913 1683,908 1687,903 1686,898" stroke="#696969" stroke-width="1.4"/><path d="M1560,795 1554,797 1550,801 1546,805 1540,806 1537,811 1531,812" stroke="#4c4c4c" stroke-width="1.5"/><path d="M1640,840 1635,844 1632,848 1628,853 1623,856 1617,857 1611,854" stroke="#717171" stroke-width="1.6"/><path d="M1494,769 1499,766 1505,765 1510,769 1515,772 1521,772 1527,774" stroke="#7e7e7e" stroke-width="1.2"/><path d="M1736,910 1734,916 1728,917 1724,921 1718,918 1713,916 1712,910" stroke="#808080" stroke-width="1.6"/><path d="M1582,846 1577,848 1571,847 1565,847 1559,847 1553,850 1548,851" stroke="#757575" stroke-width="1.6"/><path d="M1621,777 1622,771 1617,767 1618,761 1620,755 1615,751 1609,749" stroke="#5d5d5d" stroke-width="1.4"/><path d="M1491,875 1486,879 1481,877 1476,873 1473,868 1476,863 1480,858" stroke="#adadad" stroke-width="0.9"/><path d="M1528,676 1530,682 1528,688 1523,690 1519,694 1517,700 1513,705" stroke="#717171" stroke-width="1.2"/><path d="M1496,855 1497,849 1495,843 1495,837 1495,831 1497,826 1499,820" stroke="#8f8f8f" stroke-width="1.3"/><path d="M1617,773 1618,767 1618,761 1617,755 1617,749 1620,744 1617,738" stroke="#9b9b9b" stroke-width="1.6"/><path d="M1691,690 1697,692 1700,697 1706,697 1710,693 1714,689 1720,687" stroke="#8f8f8f" stroke-width="1.2"/><path d="M1674,723 1671,728 1666,732 1661,734 1655,733 1649,732 1646,737" stroke="#9c9c9c" stroke-width="0.9"/><path d="M1552,925 1546,923 1543,918 1538,916 1532,914 1527,918 1524,923" stroke="#9a9a9a" stroke-width="1.3"/><path d="M1643,678 1642,684 1641,689 1636,692 1635,698 1632,703 1634,709" stroke="#909090" stroke-width="1.5"/><path d="M1659,730 1655,726 1649,727 1643,729 1637,728 1631,731 1625,731" stroke="#656565" stroke-width="0.8"/><path d="M1492,775 1498,775 1504,775 1509,771 1513,767 1516,761 1518,756" stroke="#8d8d8d" stroke-width="1.5"/><path d="M1581,843 1587,842 1592,846 1597,844 1603,846 1608,850 1611,855" stroke="#7c7c7c" stroke-width="0.9"/><path d="M1664,931 1666,926 1672,923 1676,920 1680,915 1678,909 1681,904" stroke="#5a5a5a" stroke-width="1.4"/><path d="M1687,859 1683,854 1682,848 1677,845 1672,841 1667,843 1661,844" stroke="#929292" stroke-width="1.3"/><path d="M1696,823 1692,820 1686,821 1680,820 1677,815 1671,815 1666,812" stroke="#5a5a5a" stroke-width="0.9"/><path d="M1570,933 1564,933 1558,932 1552,932 1547,934 1542,930 1542,924" stroke="#8a8a8a" stroke-width="1.3"/><path d="M1483,734 1477,736 1471,738 1466,736 1460,734 1455,737 1453,742" stroke="#868686" stroke-width="1.6"/><path d="M1584,851 1585,845 1590,843 1596,843 1602,840 1606,844 1606,850" stroke="#a0a0a0" stroke-width="1.5"/><path d="M1559,719 1557,713 1552,710 1546,710 1540,708 1535,711 1530,715" stroke="#8e8e8e" stroke-width="0.8"/><path d="M1541,763 1547,763 1551,767 1557,769 1563,769 1566,774 1572,776" stroke="#7f7f7f" stroke-width="1.3"/><path d="M1576,753 1581,751 1587,749 1593,751 1597,747 1595,741 1589,740" stroke="#7b7b7b" stroke-width="1.0"/><path d="M1589,734 1592,739 1595,745 1601,746 1604,750 1607,756 1612,757" stroke="#909090" stroke-width="1.4"/><path d="M1703,778 1704,783 1702,789 1698,793 1695,798 1691,803 1687,808" stroke="#a3a3a3" stroke-width="1.2"/><path d="M1729,944 1724,940 1719,941 1713,943 1707,944 1701,944 1697,940" stroke="#b5b5b5" stroke-width="0.9"/><path d="M1685,795 1691,797 1695,802 1694,807 1690,812 1689,818 1683,819" stroke="#4a4a4a" stroke-width="1.1"/><path d="M1529,839 1530,845 1535,847 1541,849 1545,854 1551,853 1557,855" stroke="#535353" stroke-width="1.6"/><path d="M1690,897 1684,895 1679,892 1676,886 1671,884 1665,882 1664,876" stroke="#959595" stroke-width="1.1"/><path d="M1515,792 1521,794 1525,798 1525,804 1530,807 1532,812 1530,818" stroke="#666666" stroke-width="1.3"/><path d="M1599,825 1601,830 1607,833 1613,832 1618,829 1622,825 1621,819" stroke="#acacac" stroke-width="1.4"/><path d="M1670,750 1665,752 1662,757 1657,760 1655,766 1656,772 1656,778" stroke="#898989" stroke-width="0.7"/><path d="M1636,793 1631,796 1626,793 1623,788 1624,782 1629,778 1635,777" stroke="#626262" stroke-width="0.8"/><path d="M1691,778 1686,779 1682,784 1682,790 1687,793 1692,790 1692,784" stroke="#8e8e8e" stroke-width="0.8"/><path d="M1638,718 1635,713 1631,709 1625,709 1620,712 1614,710 1609,707" stroke="#999999" stroke-width="0.8"/><path d="M1594,817 1589,814 1589,808 1592,802 1598,802 1603,801 1609,799" stroke="#6e6e6e" stroke-width="1.4"/><path d="M1612,742 1608,738 1610,732 1615,731 1616,725 1618,719 1623,715" stroke="#4e4e4e" stroke-width="1.5"/><path d="M1651,851 1650,857 1649,863 1648,869 1648,875 1648,881 1654,884" stroke="#7b7b7b" stroke-width="1.2"/><path d="M1610,789 1615,792 1620,796 1622,802 1624,807 1630,809 1636,807" stroke="#8a8a8a" stroke-width="0.7"/><path d="M1630,798 1629,792 1632,787 1630,781 1630,775 1628,770 1624,766" stroke="#484848" stroke-width="1.2"/><path d="M1659,713 1660,707 1655,704 1651,699 1647,695 1642,692 1636,692" stroke="#717171" stroke-width="0.9"/><path d="M1591,716 1586,720 1580,721 1576,725 1573,730 1575,736 1579,741" stroke="#7c7c7c" stroke-width="0.7"/><path d="M1488,859 1489,854 1488,848 1492,844 1494,839 1494,833 1495,827" stroke="#aeaeae" stroke-width="1.0"/><path d="M1533,673 1538,671 1541,666 1547,664 1553,665 1557,669 1563,671" stroke="#6d6d6d" stroke-width="1.4"/><path d="M1616,807 1610,806 1605,803 1600,799 1596,795 1591,791 1585,791" stroke="#929292" stroke-width="0.8"/><path d="M1613,905 1607,904 1602,900 1603,894 1599,890 1594,887 1591,881" stroke="#adadad" stroke-width="1.6"/><path d="M1494,780 1492,774 1495,769 1494,763 1488,761 1483,763 1477,765" stroke="#b4b4b4" stroke-width="1.3"/><path d="M1628,820 1628,826 1632,831 1636,836 1640,840 1642,846 1639,850" stroke="#a1a1a1" stroke-width="0.9"/><path d="M1571,774 1576,778 1582,776 1587,778 1592,781 1593,787 1594,793" stroke="#656565" stroke-width="1.3"/><path d="M1552,715 1546,713 1541,710 1535,708 1530,711 1530,717 1526,722" stroke="#606060" stroke-width="0.8"/><path d="M1578,765 1580,771 1583,776 1585,782 1583,787 1580,793 1574,795" stroke="#666666" stroke-width="1.2"/><path d="M1590,934 1584,936 1581,941 1580,947 1576,952 1573,957 1572,963" stroke="#a2a2a2" stroke-width="1.5"/><path d="M1511,903 1516,899 1522,900 1527,903 1527,909 1525,915 1521,919" stroke="#5e5e5e" stroke-width="1.5"/><path d="M1593,774 1599,772 1603,768 1609,767 1613,762 1613,756 1608,753" stroke="#8b8b8b" stroke-width="1.1"/><path d="M1595,706 1592,711 1586,711 1584,717 1580,722 1574,721 1569,718" stroke="#666666" stroke-width="1.3"/><path d="M1652,878 1654,884 1660,885 1666,884 1670,889 1676,887 1680,892" stroke="#474747" stroke-width="1.4"/><path d="M1713,931 1712,925 1715,920 1717,914 1721,909 1724,904 1726,899" stroke="#b3b3b3" stroke-width="0.8"/><path d="M1534,696 1528,699 1524,703 1518,703 1512,706 1507,709 1501,711" stroke="#6e6e6e" stroke-width="1.0"/><path d="M1577,744 1581,748 1583,754 1583,760 1587,764 1593,766 1594,772" stroke="#b2b2b2" stroke-width="1.1"/><path d="M1466,929 1467,923 1462,919 1456,920 1451,922 1445,924 1439,926" stroke="#4e4e4e" stroke-width="0.8"/><path d="M1495,824 1489,825 1483,826 1479,830 1473,829 1468,832 1462,834" stroke="#4e4e4e" stroke-width="1.0"/><path d="M1646,918 1650,913 1656,913 1662,913 1664,907 1668,903 1673,900" stroke="#646464" stroke-width="0.8"/><path d="M1596,867 1601,864 1601,858 1597,853 1591,853 1586,857 1586,863" stroke="#4c4c4c" stroke-width="0.8"/><path d="M1704,765 1706,771 1708,777 1707,782 1703,787 1697,786 1692,784" stroke="#6a6a6a" stroke-width="0.7"/><path d="M1681,937 1683,931 1684,925 1682,919 1680,913 1683,908 1688,905" stroke="#8b8b8b" stroke-width="1.0"/><path d="M1685,736 1679,733 1674,735 1668,736 1663,731 1663,725 1669,723" stroke="#a2a2a2" stroke-width="0.7"/><path d="M1688,767 1683,763 1678,760 1672,758 1667,759 1662,756 1656,759" stroke="#5a5a5a" stroke-width="1.5"/><path d="M1652,781 1657,778 1663,776 1666,772 1670,767 1675,764 1681,762" stroke="#525252" stroke-width="1.2"/><path d="M1660,945 1663,940 1663,934 1666,929 1672,929 1675,934 1673,940" stroke="#838383" stroke-width="1.1"/><path d="M1514,796 1518,791 1523,789 1528,792 1529,798 1529,804 1529,810" stroke="#b0b0b0" stroke-width="1.5"/><path d="M1635,941 1629,943 1629,949 1629,955 1632,961 1637,964 1642,962" stroke="#6d6d6d" stroke-width="1.0"/><path d="M1471,884 1466,881 1467,875 1463,871 1458,867 1452,868 1446,870" stroke="#a8a8a8" stroke-width="0.9"/><path d="M1588,941 1594,942 1597,937 1602,933 1601,927 1605,922 1604,916" stroke="#595959" stroke-width="0.7"/><path d="M1504,823 1509,819 1514,815 1515,809 1520,806 1526,805 1531,802" stroke="#8c8c8c" stroke-width="1.4"/><path d="M1687,741 1685,747 1679,748 1676,753 1675,759 1672,764 1666,765" stroke="#4f4f4f" stroke-width="1.6"/><path d="M1620,780 1626,780 1632,778 1635,773 1635,767 1637,761 1635,756" stroke="#9a9a9a" stroke-width="1.1"/><path d="M1575,929 1573,923 1569,918 1563,919 1557,920 1552,923 1546,920" stroke="#a8a8a8" stroke-width="1.4"/><path d="M1512,825 1516,829 1522,829 1525,834 1528,839 1533,842 1539,844" stroke="#7d7d7d" stroke-width="1.6"/><path d="M1464,784 1461,789 1460,795 1455,798 1455,804 1450,808 1446,812" stroke="#a1a1a1" stroke-width="1.4"/><path d="M1692,756 1692,750 1689,744 1685,740 1686,734 1692,733 1696,737" stroke="#848484" stroke-width="1.2"/><path d="M1623,699 1623,693 1628,690 1627,684 1624,679 1620,674 1614,673" stroke="#515151" stroke-width="1.4"/><path d="M1646,751 1646,745 1641,743 1641,737 1646,733 1651,729 1657,729" stroke="#787878" stroke-width="1.0"/><path d="M1703,848 1703,854 1705,860 1703,866 1700,871 1703,877 1702,882" stroke="#9c9c9c" stroke-width="1.4"/><path d="M1481,938 1475,938 1469,938 1464,934 1463,928 1463,922 1463,916" stroke="#989898" stroke-width="1.0"/><path d="M1628,895 1622,893 1618,898 1616,903 1610,904 1605,907 1599,905" stroke="#b2b2b2" stroke-width="1.6"/><path d="M1501,841 1495,841 1489,839 1485,834 1480,831 1475,828 1476,822" stroke="#6e6e6e" stroke-width="1.6"/><path d="M1534,725 1539,722 1544,718 1550,720 1555,723 1559,727 1563,732" stroke="#585858" stroke-width="0.8"/><path d="M1599,771 1602,765 1607,762 1613,762 1617,758 1621,753 1618,748" stroke="#606060" stroke-width="1.2"/><path d="M1649,801 1649,795 1645,791 1643,785 1648,781 1652,776 1657,774" stroke="#505050" stroke-width="1.3"/><path d="M1534,881 1537,886 1534,891 1536,897 1534,902 1536,908 1535,914" stroke="#5f5f5f" stroke-width="0.8"/><path d="M1523,857 1520,852 1515,848 1509,850 1505,853 1500,856 1494,859" stroke="#686868" stroke-width="0.9"/></g>
<path d="M1715.0,690.0C1717.8,684.2 1727.3,685.0 1735.0,685.0C1742.7,685.0 1756.7,657.5 1761.0,690.0C1765.3,722.5 1763.7,851.7 1761.0,880.0C1758.3,908.3 1750.5,870.0 1745.0,860.0C1739.5,850.0 1731.8,835.0 1728.0,820.0C1724.2,805.0 1723.7,786.7 1722.0,770.0C1720.3,753.3 1719.2,733.3 1718.0,720.0C1716.8,706.7 1712.2,695.8 1715.0,690.0Z" fill="#000"/>
<path d="M1715,688 C1728,680 1745,676 1758,676" fill="none" stroke="#b0b0b0" stroke-width="1.5"/>
<clipPath id="c14"><path d="M1545,699Q1549,686 1562,689Q1574,677 1590,678Q1604,671 1619,678Q1634,676 1646,691Q1660,690 1669,701Q1683,704 1689,716Q1702,723 1706,737Q1723,747 1723,764Q1737,775 1732,789Q1742,802 1732,813Q1738,834 1726,849Q1729,860 1720,863Q1720,878 1708,883Q1703,904 1690,918Q1682,939 1669,948Q1615,958 1562,950Q1536,942 1518,920Q1505,901 1502,872Q1492,858 1493,839Q1480,818 1483,794Q1482,775 1492,758Q1489,743 1499,735Q1507,720 1524,711Q1528,698 1545,699Z"/></clipPath>
<g clip-path="url(#c14)"><rect x="1475" y="668" width="265" height="284" fill="#a2a2a2"/><g filter="url(#bl2)"><path d="M1549,896 1536,935 1530,936 1516,930 1513,928 1535,876 1537,875Z" fill="#a9a9a9"/><path d="M1705,781 1727,773 1739,796 1717,809Z" fill="#939393"/><path d="M1630,877 1599,911 1600,915 1626,923 1634,876 1633,875Z" fill="#acacac"/><path d="M1665,892 1666,892 1669,909 1654,938 1636,928Z" fill="#9a9a9a"/><path d="M1740,825 1740,797 1739,796 1717,809 1712,818 1714,821Z" fill="#a1a1a1"/><path d="M1598,838 1618,836 1623,813 1615,812 1611,812 1608,814Z" fill="#adadad"/><path d="M1627,708 1628,713 1640,729 1645,732 1657,705 1651,705Z" fill="#b1b1b1"/><path d="M1592,845 1598,838 1608,814 1568,812 1562,818 1577,850Z" fill="#979797"/><path d="M1585,707 1600,710 1622,691 1622,688 1613,676 1593,684 1585,703Z" fill="#9f9f9f"/><path d="M1635,796 1617,777 1625,766 1642,772Z" fill="#929292"/><path d="M1636,928 1654,938 1666,951 1626,963 1621,948 1631,927Z" fill="#929292"/><path d="M1630,877 1587,878 1580,866 1631,861 1633,875Z" fill="#a9a9a9"/><path d="M1502,883 1518,874 1491,846 1473,867 1482,883Z" fill="#969696"/><path d="M1651,789 1635,799 1635,796 1642,772 1656,769 1652,789Z" fill="#929292"/><path d="M1651,789 1635,799 1634,812 1636,814 1655,798Z" fill="#a9a9a9"/><path d="M1538,874 1539,873 1575,858 1580,866 1587,878 1587,887 1575,894 1564,891Z" fill="#adadad"/><path d="M1547,712 1545,716 1543,729 1574,733 1575,717Z" fill="#a6a6a6"/><path d="M1759,910 1733,917 1734,932 1743,942 1768,911Z" fill="#949494"/><path d="M1575,717 1574,733 1579,751 1602,744 1608,732 1608,721 1600,710 1585,707 1575,716Z" fill="#a0a0a0"/><path d="M1535,876 1518,874 1502,883 1512,927 1513,928Z" fill="#9a9a9a"/><path d="M1631,861 1630,858 1592,845 1577,850 1575,858 1580,866Z" fill="#959595"/><path d="M1655,740 1692,706 1702,726 1702,727 1686,748 1669,759Z" fill="#999999"/><path d="M1514,730 1494,715 1475,717 1482,740 1509,762 1516,755 1517,752Z" fill="#989898"/><path d="M1672,825 1668,830 1676,849 1704,861 1716,842 1714,821 1712,818 1681,818Z" fill="#a5a5a5"/><path d="M1622,755 1602,744 1579,751 1575,761 1582,778 1589,780 1616,778 1617,777 1625,766Z" fill="#a1a1a1"/><path d="M1564,678 1575,670 1593,684 1585,703Z" fill="#a4a4a4"/><path d="M1651,881 1631,927 1631,927 1636,928 1665,892 1658,883Z" fill="#939393"/><path d="M1646,734 1645,732 1657,705 1672,685 1692,706 1692,706 1655,740Z" fill="#adadad"/><path d="M1656,769 1668,761 1669,759 1655,740 1646,734 1622,755 1625,766 1642,772Z" fill="#9f9f9f"/><path d="M1610,563 1696,-150 1677,631 1669,678 1622,688 1613,676Z" fill="#989898"/><path d="M1592,845 1630,858 1632,855 1618,836 1598,838Z" fill="#9a9a9a"/><path d="M1681,923 1669,909 1666,892 1693,893 1695,916Z" fill="#999999"/><path d="M1749,851 1716,842 1704,861 1710,882 1715,884 1722,882Z" fill="#a3a3a3"/><path d="M1538,680 1526,673 1521,692 1520,715 1545,716 1547,712Z" fill="#acacac"/><path d="M1543,729 1517,752 1514,730 1520,715 1545,716Z" fill="#a5a5a5"/><path d="M1630,877 1599,911 1587,887 1587,878Z" fill="#b0b0b0"/><path d="M1766,1035 1720,949 1719,943 1734,932 1743,942 1997,1405Z" fill="#adadad"/><path d="M1776,844 1740,825 1714,821 1716,842 1749,851Z" fill="#979797"/><path d="M1833,842 1776,844 1749,851 1722,882 1739,885Z" fill="#b3b3b3"/><path d="M1692,706 1722,690 1744,688 1730,710 1702,726 1692,706Z" fill="#9f9f9f"/><path d="M1555,900 1561,929 1546,936 1536,935 1549,896Z" fill="#959595"/><path d="M1550,681 1564,678 1585,703 1585,707 1575,716Z" fill="#a4a4a4"/><path d="M1512,927 1502,883 1482,883 1476,927Z" fill="#a2a2a2"/><path d="M1479,797 1492,841 1491,846 1473,867 -402,750 1206,783Z" fill="#9a9a9a"/><path d="M1588,947 1592,951 1603,1077 1556,2072 1550,1500 1562,964Z" fill="#a9a9a9"/><path d="M1659,799 1655,798 1651,789 1652,789 1661,794Z" fill="#9b9b9b"/><path d="M1695,916 1703,935 1706,935 1722,916Z" fill="#aaaaaa"/><path d="M2194,797 1740,797 1740,825 1776,844 1833,842Z" fill="#adadad"/><path d="M1658,883 1676,849 1704,861 1710,882 1693,893 1666,892 1665,892Z" fill="#b2b2b2"/><path d="M1681,818 1712,818 1717,809 1705,781 1704,781 1703,781 1682,781 1681,783Z" fill="#b1b1b1"/><path d="M1640,729 1628,713 1608,721 1608,732Z" fill="#b1b1b1"/><path d="M1703,781 1700,757 1710,759 1704,781Z" fill="#b0b0b0"/><path d="M1621,948 1592,951 1603,1077 1626,963Z" fill="#a0a0a0"/><path d="M1561,929 1570,929 1583,931 1588,947 1562,964 1546,936Z" fill="#a5a5a5"/><path d="M1636,814 1634,812 1623,813 1618,836 1632,855 1652,829Z" fill="#aeaeae"/><path d="M1688,949 1703,935 1695,916 1695,916 1681,923 1672,955 1672,955Z" fill="#afafaf"/><path d="M1542,815 1528,841 1492,841 1479,797 1500,785 1534,806Z" fill="#afafaf"/><path d="M1731,718 1718,737 1702,727 1702,726 1730,710Z" fill="#939393"/><path d="M1651,881 1634,876 1633,875 1631,861 1630,858 1632,855 1652,829 1668,830 1676,849 1658,883Z" fill="#a6a6a6"/><path d="M1651,705 1657,705 1672,685 1669,678 1622,688 1622,691 1625,698Z" fill="#aeaeae"/><path d="M1635,799 1634,812 1623,813 1615,812 1616,778 1617,777 1635,796Z" fill="#9b9b9b"/><path d="M1672,825 1668,830 1652,829 1636,814 1655,798 1659,799Z" fill="#9b9b9b"/><path d="M1521,692 1495,710 1470,589 1526,673Z" fill="#b2b2b2"/><path d="M1631,927 1626,923 1600,915 1583,931 1588,947 1592,951 1621,948 1631,927Z" fill="#a4a4a4"/><path d="M1570,900 1575,894 1587,887 1599,911 1600,915 1583,931 1570,929Z" fill="#9d9d9d"/><path d="M1538,874 1539,873 1528,841 1492,841 1491,846 1518,874 1535,876 1537,875Z" fill="#a8a8a8"/><path d="M1692,706 1722,690 1677,631 1669,678 1672,685Z" fill="#a0a0a0"/><path d="M1681,783 1682,781 1668,761 1656,769 1652,789 1661,794Z" fill="#9b9b9b"/><path d="M1695,916 1695,916 1693,893 1710,882 1715,884 1727,913 1722,916Z" fill="#939393"/><path d="M1766,1035 1720,949 1703,955Z" fill="#ababab"/><path d="M1550,681 1575,716 1575,717 1547,712 1538,680Z" fill="#a8a8a8"/><path d="M1704,781 1705,781 1727,773 1737,750 1729,747 1710,759Z" fill="#a9a9a9"/><path d="M1672,955 1666,951 1654,938 1669,909 1681,923Z" fill="#b1b1b1"/><path d="M1759,910 1733,917 1727,913 1715,884 1722,882 1739,885Z" fill="#a8a8a8"/><path d="M1555,900 1561,929 1570,929 1570,900 1558,900Z" fill="#a4a4a4"/><path d="M1622,755 1602,744 1608,732 1640,729 1645,732 1646,734Z" fill="#959595"/><path d="M1567,762 1516,755 1509,762 1500,785 1534,806Z" fill="#b3b3b3"/><path d="M1672,825 1659,799 1661,794 1681,783 1681,818Z" fill="#a9a9a9"/><path d="M1737,750 1770,743 1731,718 1718,737 1729,747Z" fill="#adadad"/><path d="M1543,729 1517,752 1516,755 1567,762 1575,761 1579,751 1574,733Z" fill="#aeaeae"/><path d="M1589,780 1616,778 1615,812 1611,812Z" fill="#a3a3a3"/><path d="M1703,781 1682,781 1668,761 1669,759 1686,748 1700,757Z" fill="#afafaf"/><path d="M1627,708 1628,713 1608,721 1600,710 1622,691 1625,698Z" fill="#b3b3b3"/><path d="M1555,900 1549,896 1537,875 1538,874 1564,891 1558,900Z" fill="#959595"/><path d="M1577,850 1575,858 1539,873 1528,841 1542,815 1562,818Z" fill="#a6a6a6"/><path d="M1546,936 1562,964 1550,1500 1530,936 1536,935Z" fill="#999999"/><path d="M1722,916 1727,913 1733,917 1734,932 1719,943 1706,935Z" fill="#b4b4b4"/><path d="M1575,670 1593,684 1613,676 1610,563Z" fill="#9c9c9c"/><path d="M1568,812 1582,778 1575,761 1567,762 1534,806 1542,815 1562,818Z" fill="#959595"/><path d="M1627,708 1625,698 1651,705Z" fill="#a3a3a3"/><path d="M1520,715 1521,692 1495,710 1494,715 1514,730Z" fill="#939393"/><path d="M1558,900 1570,900 1575,894 1564,891Z" fill="#adadad"/><path d="M1479,797 1500,785 1509,762 1482,740 1206,783Z" fill="#b3b3b3"/><path d="M1651,881 1634,876 1626,923 1631,927Z" fill="#acacac"/><path d="M1608,814 1611,812 1589,780 1582,778 1568,812Z" fill="#a9a9a9"/><path d="M1703,955 1720,949 1719,943 1706,935 1703,935 1688,949Z" fill="#929292"/><path d="M1700,757 1686,748 1702,727 1718,737 1729,747 1710,759Z" fill="#999999"/><path d="M1744,688 1722,690M1613,676 1593,684M1613,676 1610,563M1593,684 1575,670M1622,688 1669,678M1622,688 1613,676M1482,883 1502,883M1482,883 1476,927M1502,883 1512,927M1476,927 1512,927M1473,867 1491,846M1473,867 1482,883M1491,846 1518,874M1518,874 1502,883M1482,740 1509,762M1482,740 1206,783M1509,762 1500,785M1500,785 1479,797M1475,717 1482,740M1491,846 1492,841M1492,841 1479,797M1512,927 1513,928M1516,930 1513,928M1518,874 1535,876M1513,928 1535,876M1702,727 1702,726M1702,727 1718,737M1702,726 1730,710M1718,737 1731,718M1730,710 1731,718M1744,688 1730,710M1722,690 1692,706M1669,678 1672,685M1672,685 1692,706M1702,726 1692,706M1692,706 1692,706M1622,688 1622,691M1593,684 1585,703M1622,691 1600,710M1600,710 1585,707M1585,703 1585,707M1575,670 1564,678M1585,703 1564,678M1492,841 1528,841M1500,785 1534,806M1528,841 1542,815M1534,806 1542,815M1509,762 1516,755M1516,755 1567,762M1534,806 1567,762M1516,930 1530,936M1718,737 1729,747M1729,747 1737,750M1495,710 1521,692M1526,673 1521,692M1475,717 1494,715M1494,715 1495,710M1494,715 1514,730M1516,755 1517,752M1517,752 1514,730M1521,692 1520,715M1514,730 1520,715M1567,762 1575,761M1579,751 1575,761M1579,751 1574,733M1517,752 1543,729M1574,733 1543,729M1520,715 1545,716M1545,716 1543,729M1615,812 1616,778M1615,812 1611,812M1616,778 1589,780M1611,812 1589,780M1608,721 1628,713M1608,721 1608,732M1628,713 1640,729M1608,732 1640,729M1702,727 1686,748M1692,706 1655,740M1686,748 1669,759M1669,759 1655,740M1672,685 1657,705M1657,705 1645,732M1645,732 1646,734M1655,740 1646,734M1608,732 1602,744M1602,744 1622,755M1640,729 1645,732M1646,734 1622,755M1579,751 1602,744M1575,761 1582,778M1616,778 1617,777M1617,777 1625,766M1589,780 1582,778M1625,766 1622,755M1727,773 1705,781M1727,773 1739,796M1739,796 1717,809M1717,809 1705,781M1592,951 1621,948M1592,951 1588,947M1740,797 1739,796M1740,797 1740,825M1712,818 1717,809M1712,818 1714,821M1714,821 1740,825M1625,698 1627,708M1625,698 1651,705M1651,705 1627,708M1622,691 1625,698M1608,721 1600,710M1628,713 1627,708M1657,705 1651,705M1575,716 1550,681M1575,716 1575,717M1575,717 1547,712M1547,712 1538,680M1538,680 1550,681M1585,707 1575,716M1564,678 1550,681M1574,733 1575,717M1545,716 1547,712M1526,673 1538,680M1562,818 1568,812M1562,818 1577,850M1568,812 1608,814M1608,814 1598,838M1598,838 1592,845M1577,850 1592,845M1542,815 1562,818M1582,778 1568,812M1528,841 1539,873M1575,858 1539,873M1575,858 1577,850M1611,812 1608,814M1615,812 1623,813M1618,836 1623,813M1618,836 1598,838M1630,858 1592,845M1630,858 1632,855M1618,836 1632,855M1580,866 1587,878M1580,866 1631,861M1587,878 1630,877M1631,861 1633,875M1633,875 1630,877M1575,858 1580,866M1630,858 1631,861M1599,911 1630,877M1599,911 1587,887M1587,887 1587,878M1600,915 1626,923M1600,915 1599,911M1626,923 1634,876M1634,876 1633,875M1710,759 1704,781M1710,759 1700,757M1700,757 1703,781M1704,781 1703,781M1729,747 1710,759M1737,750 1727,773M1705,781 1704,781M1686,748 1700,757M1669,759 1668,761M1668,761 1682,781M1682,781 1703,781M1668,761 1656,769M1625,766 1642,772M1642,772 1656,769M1617,777 1635,796M1642,772 1635,796M1623,813 1634,812M1634,812 1635,799M1635,796 1635,799M1632,855 1652,829M1634,812 1636,814M1652,829 1636,814M1631,927 1631,927M1631,927 1636,928M1631,927 1651,881M1636,928 1665,892M1665,892 1658,883M1658,883 1651,881M1600,915 1583,931M1621,948 1631,927M1626,923 1631,927M1583,931 1588,947M1654,938 1666,951M1654,938 1636,928M1666,951 1626,963M1634,876 1651,881M1666,892 1669,909M1666,892 1665,892M1654,938 1669,909M1676,849 1658,883M1676,849 1704,861M1666,892 1693,893M1693,893 1710,882M1704,861 1710,882M1676,849 1668,830M1652,829 1668,830M1587,887 1575,894M1583,931 1570,929M1575,894 1570,900M1570,929 1570,900M1530,936 1536,935M1536,935 1546,936M1570,929 1561,929M1546,936 1561,929M1564,891 1558,900M1564,891 1538,874M1537,875 1549,896M1537,875 1538,874M1549,896 1555,900M1558,900 1555,900M1575,894 1564,891M1570,900 1558,900M1539,873 1538,874M1535,876 1537,875M1536,935 1549,896M1561,929 1555,900M1704,861 1716,842M1710,882 1715,884M1715,884 1722,882M1716,842 1749,851M1722,882 1749,851M1716,842 1714,821M1740,825 1776,844M1693,893 1695,916M1669,909 1681,923M1695,916 1681,923M1666,951 1672,955M1681,923 1672,955M1635,799 1651,789M1636,814 1655,798M1655,798 1651,789M1656,769 1652,789M1652,789 1651,789M1739,885 1833,842M1739,885 1759,910M1722,882 1739,885M1715,884 1727,913M1727,913 1733,917M1733,917 1759,910M1743,942 1734,932M1743,942 1768,911M1734,932 1733,917M1740,797 2194,797M1706,935 1722,916M1706,935 1703,935M1703,935 1695,916M1722,916 1695,916M1719,943 1706,935M1719,943 1734,932M1727,913 1722,916M1695,916 1695,916M1672,955 1688,949M1688,949 1703,955M1703,955 1766,1035M1672,955 1672,955M1703,935 1688,949M1719,943 1720,949M1720,949 1703,955M1720,949 1766,1035M1743,942 1997,1405M1661,794 1659,799M1661,794 1681,783M1659,799 1672,825M1681,783 1681,818M1681,818 1672,825M1655,798 1659,799M1652,789 1661,794M1682,781 1681,783M1668,830 1672,825M1712,818 1681,818" fill="none" stroke="#404040" stroke-opacity="0.18" stroke-width="0.8"/></g><path d="M1481.8 673h0.9v274h-0.9zM1486.5 673h0.7v274h-0.7zM1488.7 673h1.0v274h-1.0zM1504.5 673h1.1v274h-1.1zM1568.5 673h1.0v274h-1.0zM1585.6 673h0.6v274h-0.6zM1638.8 673h1.2v274h-1.2zM1650.8 673h0.7v274h-0.7zM1666.1 673h0.8v274h-0.8zM1687.4 673h0.9v274h-0.9zM1689.7 673h1.0v274h-1.0zM1696.1 673h1.3v274h-1.3zM1734.4 673h1.1v274h-1.1z" fill="#fff" fill-opacity="0.20"/><path d="M1483.9 673h0.6v274h-0.6zM1559.3 673h1.1v274h-1.1zM1573.0 673h0.9v274h-0.9zM1576.7 673h1.1v274h-1.1zM1588.3 673h0.8v274h-0.8zM1595.9 673h0.9v274h-0.9zM1655.0 673h1.0v274h-1.0zM1668.2 673h0.6v274h-0.6zM1677.9 673h0.7v274h-0.7zM1691.3 673h1.3v274h-1.3z" fill="#fff" fill-opacity="0.45"/><path d="M1490.6 673h1.1v274h-1.1zM1492.2 673h0.8v274h-0.8zM1507.2 673h0.7v274h-0.7zM1515.6 673h0.6v274h-0.6zM1533.2 673h1.2v274h-1.2zM1536.5 673h1.2v274h-1.2zM1549.0 673h1.2v274h-1.2zM1619.7 673h1.1v274h-1.1zM1630.3 673h1.0v274h-1.0zM1648.5 673h0.7v274h-0.7zM1657.2 673h0.6v274h-0.6zM1661.7 673h1.3v274h-1.3zM1679.8 673h1.2v274h-1.2zM1701.8 673h1.0v274h-1.0zM1703.4 673h1.3v274h-1.3zM1714.0 673h1.0v274h-1.0zM1716.7 673h0.6v274h-0.6z" fill="#fff" fill-opacity="0.30"/><path d="M1494.2 673h0.7v274h-0.7zM1496.8 673h0.8v274h-0.8zM1501.7 673h0.9v274h-0.9zM1528.3 673h0.9v274h-0.9zM1545.5 673h0.7v274h-0.7zM1553.1 673h1.1v274h-1.1zM1555.2 673h0.9v274h-0.9zM1560.9 673h1.0v274h-1.0zM1570.9 673h0.9v274h-0.9zM1590.6 673h0.9v274h-0.9zM1597.7 673h0.6v274h-0.6zM1604.7 673h0.8v274h-0.8zM1615.2 673h0.8v274h-0.8zM1616.7 673h1.2v274h-1.2zM1632.5 673h1.1v274h-1.1zM1659.6 673h0.6v274h-0.6zM1694.2 673h0.7v274h-0.7zM1700.0 673h0.7v274h-0.7zM1718.4 673h0.9v274h-0.9z" fill="#fff" fill-opacity="0.25"/><path d="M1499.5 673h0.8v274h-0.8zM1510.2 673h0.7v274h-0.7zM1526.1 673h1.1v274h-1.1zM1540.5 673h1.3v274h-1.3zM1563.1 673h0.9v274h-0.9zM1575.0 673h1.2v274h-1.2zM1602.2 673h0.9v274h-0.9zM1607.7 673h0.8v274h-0.8zM1613.0 673h0.7v274h-0.7zM1621.4 673h1.1v274h-1.1zM1625.9 673h0.9v274h-0.9zM1634.0 673h0.8v274h-0.8zM1641.1 673h1.0v274h-1.0zM1645.6 673h0.9v274h-0.9zM1652.6 673h1.0v274h-1.0zM1664.4 673h0.7v274h-0.7zM1670.6 673h1.1v274h-1.1zM1720.1 673h1.1v274h-1.1zM1725.6 673h1.1v274h-1.1zM1732.3 673h0.6v274h-0.6zM1737.2 673h0.9v274h-0.9z" fill="#fff" fill-opacity="0.35"/><path d="M1512.9 673h0.8v274h-0.8zM1517.6 673h1.0v274h-1.0zM1519.6 673h1.0v274h-1.0zM1524.1 673h1.0v274h-1.0zM1531.0 673h0.8v274h-0.8zM1534.8 673h0.6v274h-0.6zM1538.6 673h0.8v274h-0.8zM1547.4 673h1.3v274h-1.3zM1557.3 673h1.1v274h-1.1zM1578.7 673h0.7v274h-0.7zM1593.5 673h0.7v274h-0.7zM1599.4 673h0.7v274h-0.7zM1643.0 673h1.2v274h-1.2zM1673.6 673h1.0v274h-1.0zM1681.7 673h1.3v274h-1.3zM1684.7 673h0.6v274h-0.6zM1698.2 673h1.1v274h-1.1zM1711.5 673h1.3v274h-1.3zM1728.1 673h0.8v274h-0.8zM1729.9 673h1.2v274h-1.2z" fill="#fff" fill-opacity="0.40"/><path d="M1521.3 673h1.2v274h-1.2zM1543.0 673h0.6v274h-0.6zM1550.6 673h0.9v274h-0.9zM1565.7 673h1.1v274h-1.1zM1580.9 673h1.2v274h-1.2zM1582.9 673h1.3v274h-1.3zM1610.5 673h0.9v274h-0.9zM1623.9 673h1.3v274h-1.3zM1636.1 673h0.8v274h-0.8zM1676.0 673h0.6v274h-0.6zM1706.3 673h0.8v274h-0.8zM1708.8 673h0.9v274h-0.9zM1722.8 673h0.7v274h-0.7z" fill="#fff" fill-opacity="0.15"/><path d="M1628.4 673h1.2v274h-1.2z" fill="#fff" fill-opacity="0.10"/><g filter="url(#bl2)"><g fill="none" stroke="#262626" stroke-linecap="round" stroke-linejoin="round"><path d="M1542,815 1539,820 1537,825 1531,829 1531,835 1528,841 1523,839 1518,842 1513,843 1508,840 1502,840 1497,841 1492,841 1494,844 1491,846 1487,850 1483,854 1480,858 1477,863 1473,867 1468,868 1463,866 1458,866 1453,864 1448,864 1443,866 1438,865 1433,867 1428,866 1423,865 1418,864 1413,863 1408,862 1403,861 1398,863 1393,862 1388,863 1383,861 1378,859 1373,861 1368,861 1363,862 1358,860 1353,860 1348,859 1343,860 1338,860 1333,857 1328,856 1323,856 1318,858 1313,858 1308,856 1303,855 1298,855 1293,856 1288,854 1283,855 1278,856 1273,856 1268,854 1263,855 1258,853 1253,855 1248,853 1243,853 1238,853 1233,850 1228,850 1223,853 1218,851 1213,848 1208,852 1203,851 1198,850 1193,848 1188,848 1183,849 1178,850 1173,849 1168,846 1163,849 1158,847 1153,847 1148,847 1143,847 1138,845 1133,845 1128,845 1123,845 1118,845 1113,845 1108,843 1103,844 1098,843 1093,843 1088,844 1083,842 1078,842 1073,843 1068,843 1063,841 1058,838 1053,840 1048,842 1043,840 1038,841 1033,839 1028,839 1023,841 1018,841 1013,838 1008,839 1003,839 998,838 993,838 988,835 983,836 978,838 973,834 968,835 963,837 958,836 953,836 948,836 943,835 938,833 933,832 928,833 923,831 918,832 913,831 908,831 903,830 898,833 893,831 888,831 883,832 878,829 873,827 868,830 863,831 858,827 853,829 848,828 843,828 838,828 833,827 828,826 823,827 818,828 813,828 808,826 803,825 798,825 793,824 788,824 783,825 778,825 773,825 768,823 763,822 758,822 753,822 748,820 743,820 738,823 733,820 728,819 723,819 718,822 713,820 708,820 703,820 698,820 693,817 688,818 683,818 678,818 673,819 668,818 663,817 658,817 653,818 648,816 643,814 638,815 633,815 628,815 623,813 618,815 613,812 608,812 603,814 598,812 593,811 588,813 583,811 578,812 573,810 568,811 563,810 558,809 553,809 548,809 543,808 538,809 533,809 528,810 523,807 518,808 513,808 508,806 503,805 498,807 493,805 488,804 483,804 478,806 473,805 468,804 463,805 458,803 453,804 448,804 443,802 438,800 433,802 428,802 423,802 418,801 413,802 408,800 403,799 398,800 393,800 388,800 383,800 378,800 373,796 368,798 363,798 358,797 353,798 348,797 343,797 338,795 333,795 328,796 323,795 318,795 313,793 308,792 303,794 298,795 293,794 288,792 283,793 278,792 273,791 268,791 263,790 258,791 253,788 248,791 243,790 238,790 233,790 228,788 223,789 218,789 213,790 208,788 203,788 198,787 193,787 188,787 183,788 178,787 173,785 168,786 163,784 158,785 153,786 148,785 143,785 138,783 133,785 128,783 123,783 118,781 113,781 108,782 103,782 98,781 93,782 88,781 83,780 78,782 73,782 68,780 63,778 58,777 53,778 48,778 43,779 38,777 33,777 28,777 23,778 18,776 13,777 8,776 3,774 -2,775 -7,774 -12,774 -17,776 -22,774 -27,774 -32,774 -37,774 -42,772 -47,771 -52,773 -57,770 -62,772 -67,770 -72,772 -77,770 -82,768 -87,770 -92,772 -97,769 -102,767 -107,768 -112,767 -117,767 -122,767 -127,767 -132,765 -137,767 -142,767 -147,765 -152,766 -157,765 -162,765 -167,766 -172,764 -177,765 -182,764 -187,764 -192,764 -197,763 -202,762 -207,761 -212,761 -217,762 -222,762 -227,760 -232,760 -237,759 -242,762 -247,761 -252,759 -257,761 -262,759 -267,756 -272,757 -277,758 -282,758 -287,758 -292,756 -297,757 -302,757 -307,755 -312,756 -317,757 -322,753 -327,754 -332,756 -337,754 -342,752 -347,753 -352,754 -357,752 -362,754 -367,752 -372,751 -377,752 -382,754 -387,750 -392,750 -397,751 -402,750 -397,750 -392,750 -387,751 -382,752 -377,750 -372,751 -367,750 -362,750 -357,750 -352,752 -347,752 -342,753 -337,751 -332,752 -327,752 -322,752 -317,750 -312,752 -307,752 -302,753 -297,751 -292,753 -287,752 -282,753 -277,753 -271,752 -267,753 -261,751 -256,752 -251,752 -246,753 -241,755 -236,755 -231,754 -226,753 -221,755 -216,754 -211,752 -206,755 -201,755 -196,755 -191,757 -186,757 -181,756 -176,756 -171,755 -166,756 -161,754 -156,754 -151,756 -146,754 -141,752 -136,755 -131,755 -126,756 -121,757 -116,756 -111,756 -106,753 -101,756 -96,755 -91,756 -86,758 -81,756 -76,758 -71,757 -66,757 -61,756 -56,756 -51,757 -46,758 -41,757 -36,759 -31,759 -26,756 -21,758 -16,759 -11,759 -6,756 -1,757 4,757 9,757 14,759 19,760 24,758 29,759 34,761 39,758 44,758 49,759 54,760 59,760 64,761 69,759 74,760 79,760 84,759 89,760 94,761 99,758 104,759 109,763 114,760 119,762 124,762 129,762 134,763 139,761 144,761 149,761 154,761 159,760 164,761 169,761 174,762 179,762 184,762 189,762 194,761 199,764 204,762 209,763 214,763 219,765 224,763 229,764 234,763 239,764 244,764 250,762 255,763 260,761 265,763 270,763 275,764 280,764 285,764 290,765 295,763 300,763 305,763 310,764 315,766 320,766 325,765 330,765 335,767 340,766 345,764 350,765 355,766 360,766 365,765 370,766 375,766 380,765 385,765 390,768 395,767 400,765 405,767 410,765 415,767 420,767 425,767 430,768 435,766 440,767 445,768 450,767 455,765 460,766 465,768 470,767 475,768 480,768 485,767 490,768 495,769 500,769 505,768 510,770 515,768 520,769 525,770 530,768 535,769 540,768 545,768 550,768 555,770 560,768 565,773 570,770 575,770 580,770 585,769 590,770 595,770 600,771 605,768 610,771 615,771 620,771 625,772 630,772 635,772 640,770 645,771 650,772 655,771 660,773 665,772 670,772 675,770 680,775 685,773 690,773 695,771 700,772 705,772 710,770 715,773 721,771 726,771 730,773 736,773 741,773 746,771 751,774 756,775 761,772 766,774 771,773 776,774 781,774 786,774 791,775 796,776 801,774 806,775 811,775 816,774 821,775 826,774 831,776 836,775 841,775 846,774 851,775 856,776 861,775 866,777 871,773 876,777 881,776 886,776 891,775 896,776 901,777 906,776 911,778 916,776 921,777 926,779 931,777 936,777 941,778 946,777 951,776 956,777 961,778 966,778 971,776 976,777 981,778 986,777 991,778 996,779 1001,779 1006,776 1011,778 1016,779 1021,776 1026,781 1031,778 1036,777 1041,777 1046,780 1051,779 1056,778 1061,780 1066,782 1071,782 1076,778 1081,779 1086,779 1091,781 1096,779 1101,780 1106,778 1111,782 1116,780 1121,781 1126,782 1131,780 1136,783 1141,780 1146,783 1151,783 1156,785 1161,783 1166,781 1171,781 1176,783 1181,782 1186,782 1191,781 1196,782 1201,783 1206,783 1212,782 1217,783 1222,784 1227,783 1232,784 1237,784 1242,785 1247,783 1252,784 1257,782 1262,785 1267,787 1272,785 1277,787 1282,787 1287,786 1292,788 1297,787 1302,787 1308,787 1312,789 1318,789 1323,789 1328,789 1333,790 1338,789 1343,788 1348,791 1353,788 1358,790 1363,791 1368,792 1373,791 1378,793 1383,793 1388,792 1393,794 1398,793 1403,793 1408,793 1413,795 1419,792 1424,794 1429,795 1434,794 1439,797 1444,795 1449,797 1454,796 1459,795 1464,797 1469,797 1474,798 1479,797 1482,802 1482,807 1482,812 1486,816 1485,822 1488,826 1487,832 1490,836 1492,841" stroke-width="1.0"/><path d="M1534,806 1538,811 1542,815 1547,817 1552,818 1557,818 1562,818 1565,815 1568,812 1569,807 1574,803 1575,798 1574,792 1575,786 1580,782 1582,778 1586,779 1589,780 1595,780 1600,779 1605,779 1611,779 1616,778 1616,783 1615,789 1616,795 1613,800 1614,806 1615,812 1619,814 1623,813" stroke-width="0.9"/><path d="M1703,781 1704,778 1704,781 1705,780 1705,781 1711,779 1717,778 1722,776 1727,773 1731,768 1731,761 1733,755 1737,750 1742,749 1748,748 1753,747 1759,746 1764,745 1770,743 1766,739 1761,738 1757,734 1751,733 1747,731 1744,727 1739,725 1735,721 1731,718 1729,714 1730,710 1734,706 1736,702 1738,696 1741,692 1744,688" stroke-width="1.5"/><path d="M1547,712 1553,713 1558,714 1563,715 1569,714 1575,717 1575,716 1575,716 1572,712 1569,707 1566,703 1563,699 1558,695 1556,690 1553,685 1550,681 1557,680 1564,678 1568,681 1571,686 1575,690 1579,694 1582,699 1585,703 1588,698 1589,693 1593,690 1593,684 1598,683 1603,680 1608,678 1613,676 1612,671 1612,666 1614,661 1612,656 1614,650 1613,645 1612,640 1613,635 1612,630 1612,625 1612,620 1613,615 1610,610 1611,604 1612,599 1610,594 1609,589 1612,584 1612,579 1612,574 1610,568 1610,563" stroke-width="1.2"/><path d="M1516,755 1521,755 1526,756 1531,758 1537,757 1541,760 1547,758 1552,759 1557,761 1562,759 1567,762 1571,761 1575,761 1577,756 1579,751 1586,752 1591,748 1596,747 1602,744 1604,737 1608,732 1609,726 1608,721 1604,715 1600,710 1606,708 1608,701 1613,698 1619,696 1622,691" stroke-width="1.4"/><path d="M1692,706 1693,706 1692,706 1696,702 1702,701 1707,698 1712,695 1717,691 1722,690 1728,690 1733,689 1739,688 1744,688" stroke-width="1.3"/><path d="M1729,747 1733,747 1737,750" stroke-width="0.7"/><path d="M1635,799 1634,805 1634,812 1634,813 1636,814 1639,818 1645,821 1647,826 1652,829 1650,835 1648,840 1642,842 1638,846 1635,851 1632,855 1634,858 1630,858 1631,860 1631,861 1626,862 1620,860 1616,863 1610,862 1605,862 1601,864 1596,866 1591,866 1585,865 1580,866 1582,873 1587,878" stroke-width="1.1"/><path d="M1628,713 1627,710 1627,708 1626,703 1625,698 1623,695 1622,691 1624,690 1622,688 1628,687 1633,685 1638,687 1643,683 1648,682 1654,681 1659,680 1664,678 1669,678 1670,682 1672,685 1669,691 1665,696 1661,700 1657,705 1654,702 1651,705" stroke-width="0.7"/><path d="M1494,715 1488,716 1481,716 1475,717 1479,723 1479,728 1480,734 1482,740 1486,743 1491,745 1494,749 1498,752 1501,756 1503,761 1509,762 1505,767 1502,773 1502,779 1500,785 1495,788 1489,790 1484,793 1479,797" stroke-width="0.6"/><path d="M1710,759 1707,764 1705,769 1704,775 1704,781" stroke-width="1.3"/><path d="M1616,778 1616,776 1617,777 1620,782 1624,785 1628,788 1630,793 1635,796 1636,791 1637,786 1638,781 1641,777 1642,772 1636,770 1631,768 1625,766 1623,761 1622,755 1618,751 1612,750 1607,746 1602,744" stroke-width="0.6"/><path d="M1630,877 1628,881 1624,884 1621,889 1617,892 1612,895 1609,899 1606,904 1602,907 1599,911 1602,913 1600,915 1605,916 1610,919 1616,919 1620,923 1626,923 1628,918 1629,913 1630,908 1629,902 1629,897 1629,891 1631,886 1633,881 1634,876 1634,875 1633,875 1632,868 1631,861" stroke-width="0.6"/><path d="M1517,752 1517,746 1515,741 1513,736 1514,730 1510,727 1506,723 1501,722 1497,719 1494,715" stroke-width="1.4"/><path d="M1668,761 1671,767 1674,772 1679,776 1682,781 1681,782 1681,783 1676,785 1671,787 1666,790 1661,794 1660,796 1659,799 1657,800 1655,798 1654,793 1651,789 1647,795 1639,793 1635,799 1635,797 1635,796" stroke-width="0.7"/></g></g><path d="M1485.0 673h0.8v274h-0.8zM1494.7 673h0.8v274h-0.8zM1497.3 673h0.8v274h-0.8zM1521.6 673h0.8v274h-0.8zM1525.5 673h0.7v274h-0.7zM1530.4 673h1.3v274h-1.3zM1549.8 673h0.8v274h-0.8zM1556.9 673h0.9v274h-0.9zM1566.1 673h0.6v274h-0.6zM1570.5 673h0.7v274h-0.7zM1579.4 673h0.8v274h-0.8zM1586.8 673h1.2v274h-1.2zM1600.5 673h0.9v274h-0.9zM1625.4 673h0.8v274h-0.8zM1646.3 673h0.8v274h-0.8zM1648.6 673h0.9v274h-0.9zM1659.1 673h0.6v274h-0.6zM1662.9 673h1.2v274h-1.2zM1666.0 673h0.9v274h-0.9zM1672.9 673h1.0v274h-1.0zM1679.9 673h1.2v274h-1.2zM1685.7 673h1.3v274h-1.3zM1691.6 673h0.9v274h-0.9zM1695.0 673h1.0v274h-1.0zM1699.7 673h0.9v274h-0.9zM1703.1 673h0.7v274h-0.7zM1712.1 673h1.1v274h-1.1zM1716.2 673h0.6v274h-0.6zM1720.2 673h1.2v274h-1.2zM1734.7 673h1.0v274h-1.0zM1737.4 673h0.7v274h-0.7z" fill="#000" fill-opacity="0.15"/><path d="M1487.6 673h0.9v274h-0.9zM1492.1 673h1.1v274h-1.1zM1505.6 673h1.2v274h-1.2zM1508.7 673h0.9v274h-0.9zM1511.6 673h0.6v274h-0.6zM1513.7 673h0.6v274h-0.6zM1517.4 673h0.9v274h-0.9zM1536.9 673h0.9v274h-0.9zM1547.8 673h1.2v274h-1.2zM1552.9 673h1.0v274h-1.0zM1555.0 673h0.7v274h-0.7zM1577.5 673h0.8v274h-0.8zM1582.1 673h1.2v274h-1.2zM1589.4 673h1.2v274h-1.2zM1605.2 673h1.0v274h-1.0zM1610.2 673h1.1v274h-1.1zM1617.3 673h0.6v274h-0.6zM1623.1 673h1.0v274h-1.0zM1633.6 673h0.7v274h-0.7zM1636.6 673h0.7v274h-0.7zM1638.4 673h0.9v274h-0.9zM1650.6 673h1.0v274h-1.0zM1655.1 673h0.7v274h-0.7zM1723.8 673h1.1v274h-1.1zM1731.8 673h0.9v274h-0.9z" fill="#000" fill-opacity="0.20"/><path d="M1490.0 673h0.9v274h-0.9zM1499.1 673h1.2v274h-1.2zM1501.3 673h0.8v274h-0.8zM1533.1 673h1.1v274h-1.1zM1540.1 673h1.1v274h-1.1zM1544.5 673h0.7v274h-0.7zM1561.8 673h0.9v274h-0.9zM1573.5 673h1.1v274h-1.1zM1575.8 673h1.1v274h-1.1zM1591.3 673h1.3v274h-1.3zM1596.1 673h0.6v274h-0.6zM1607.0 673h0.6v274h-0.6zM1613.9 673h0.9v274h-0.9zM1619.6 673h0.8v274h-0.8zM1627.1 673h1.1v274h-1.1zM1630.7 673h1.2v274h-1.2zM1641.8 673h0.7v274h-0.7zM1670.7 673h0.7v274h-0.7zM1675.6 673h0.7v274h-0.7zM1683.0 673h0.8v274h-0.8zM1687.9 673h0.8v274h-0.8zM1707.3 673h0.8v274h-0.8zM1714.2 673h0.9v274h-0.9zM1726.2 673h0.6v274h-0.6zM1727.9 673h0.9v274h-0.9z" fill="#000" fill-opacity="0.10"/></g>
<rect x="1463.7" y="673.0" width="296.9" height="273.8" filter="url(#nz)" opacity="0.42" style="mix-blend-mode:overlay"/>
</g>
<rect x="1463.7" y="946.8" width="296.89999999999986" height="34.200000000000045" fill="#000"/>
<text transform="translate(1516.02,972.43) scale(0.9713,1)" font-family="&quot;Liberation Sans&quot;, Arial, sans-serif" font-weight="normal" font-size="23.49" fill="#fff" >PC – 25% Porosity</text>
<rect x="1478.7" y="930.7" width="59.59999999999991" height="7.599999999999909" fill="#fff"/>
<text transform="translate(1477.70,913.77) scale(1.2177,1)" font-family="&quot;Liberation Sans&quot;, Arial, sans-serif" font-weight="bold" font-size="23.46" fill="#fff" >2um</text>
<clipPath id="c15"><path d="M1765.9,673.0H2063.8V948.4H1765.9Z"/></clipPath>
<g clip-path="url(#c15)"><rect x="1765.9" y="673.0" width="297.9000000000001" height="275.4" fill="#020202"/>
<path d="M1935.0,673.0C1951.7,666.0 2031.7,668.5 2050.0,673.0C2068.3,677.5 2048.0,689.7 2045.0,700.0C2042.0,710.3 2037.0,725.7 2032.0,735.0C2027.0,744.3 2022.0,752.2 2015.0,756.0C2008.0,759.8 1998.3,760.7 1990.0,758.0C1981.7,755.3 1971.7,747.2 1965.0,740.0C1958.3,732.8 1955.0,726.2 1950.0,715.0C1945.0,703.8 1918.3,680.0 1935.0,673.0Z" fill="#2c2c2c"/>
<g fill="none" filter="url(#bl2)"><path d="M1936,673 C1948,698 1962,722 1978,745" stroke="#b8b8b8" stroke-width="3"/><path d="M2046,675 C2042,705 2032,735 2018,758" stroke="#c4c4c4" stroke-width="2.5"/><path d="M1972,676 C1978,700 1985,722 1992,748" stroke="#8a8a8a" stroke-width="2"/><path d="M1948,690 C1955,700 1968,712 1975,728" stroke="#707070" stroke-width="2"/></g>
<path d="M1843.0,700.0C1843.0,693.3 1846.8,684.5 1850.0,680.0C1853.2,675.5 1856.2,674.2 1862.0,673.0C1867.8,671.8 1883.3,670.8 1885.0,673.0C1886.7,675.2 1876.5,681.5 1872.0,686.0C1867.5,690.5 1861.7,694.3 1858.0,700.0C1854.3,705.7 1852.5,720.0 1850.0,720.0C1847.5,720.0 1843.0,706.7 1843.0,700.0Z" fill="#6e6e6e" filter="url(#bl2)"/>
<path d="M1808,948 L1832,922 L1852,902 L1866,900 L1878,920 L1890,948Z" fill="#8c8c8c"/>
<rect x="1855" y="900" width="2.2" height="48" fill="#e8e8e8"/>
<path d="M1814.3 902h1.4v46h-1.4zM1823.8 902h1.3v46h-1.3zM1838.0 902h1.4v46h-1.4zM1845.3 902h1.2v46h-1.2zM1862.1 902h1.1v46h-1.1zM1887.5 902h0.8v46h-0.8z" fill="#fff" fill-opacity="0.15"/><path d="M1818.2 902h1.1v46h-1.1z" fill="#fff" fill-opacity="0.20"/><path d="M1826.3 902h1.1v46h-1.1zM1829.6 902h0.7v46h-0.7zM1850.7 902h1.5v46h-1.5zM1872.5 902h0.9v46h-0.9zM1878.1 902h0.9v46h-0.9zM1880.4 902h0.7v46h-0.7zM1889.2 902h1.3v46h-1.3z" fill="#fff" fill-opacity="0.10"/><path d="M1836.2 902h0.9v46h-0.9zM1856.7 902h0.9v46h-0.9zM1869.4 902h1.6v46h-1.6zM1894.4 902h1.1v46h-1.1z" fill="#fff" fill-opacity="0.05"/>
<path d="M1988,948 C1996,936 2012,932 2024,936 C2030,940 2034,944 2034,948Z" fill="#949494"/>
<path d="M1772,940 L1800,885 M1785,944 L1812,878 M1796,946 L1808,912" stroke="#4a4a4a" stroke-width="2" filter="url(#bl2)"/>
<clipPath id="c16"><path d="M1845.0,714.0C1847.0,708.2 1848.2,702.2 1852.0,698.0C1855.8,693.8 1859.3,691.8 1868.0,689.0C1876.7,686.2 1892.8,680.7 1904.0,681.0C1915.2,681.3 1925.5,684.5 1935.0,691.0C1944.5,697.5 1954.8,711.3 1961.0,720.0C1967.2,728.7 1963.3,736.7 1972.0,743.0C1980.7,749.3 2004.0,751.2 2013.0,758.0C2022.0,764.8 2023.8,771.0 2026.0,784.0C2028.2,797.0 2028.2,821.0 2026.0,836.0C2023.8,851.0 2018.7,863.3 2013.0,874.0C2007.3,884.7 1999.8,890.0 1992.0,900.0C1984.2,910.0 1974.5,926.3 1966.0,934.0C1957.5,941.7 1954.7,944.8 1941.0,946.0C1927.3,947.2 1897.0,948.7 1884.0,941.0C1871.0,933.3 1868.2,915.3 1863.0,900.0C1857.8,884.7 1856.3,870.5 1853.0,849.0C1849.7,827.5 1845.2,790.3 1843.0,771.0C1840.8,751.7 1839.7,742.5 1840.0,733.0C1840.3,723.5 1843.0,719.8 1845.0,714.0Z"/></clipPath>
<g clip-path="url(#c16)"><rect x="1835" y="675" width="195" height="275" fill="#aaaaaa"/><path d="M1847.7 675h2.1v275h-2.1zM1984.8 675h2.1v275h-2.1z" fill="#fff" fill-opacity="0.45"/><path d="M1861.3 675h2.1v275h-2.1zM1936.0 675h2.1v275h-2.1zM1992.1 675h1.6v275h-1.6z" fill="#fff" fill-opacity="0.25"/><path d="M1863.7 675h1.4v275h-1.4zM1938.9 675h1.1v275h-1.1z" fill="#fff" fill-opacity="0.50"/><path d="M1869.5 675h2.0v275h-2.0zM1889.3 675h1.4v275h-1.4zM1925.1 675h1.4v275h-1.4zM2017.1 675h1.2v275h-1.2z" fill="#fff" fill-opacity="0.35"/><path d="M1878.5 675h1.6v275h-1.6zM1914.9 675h1.8v275h-1.8zM1932.9 675h1.9v275h-1.9zM1952.2 675h2.1v275h-2.1zM1955.9 675h1.2v275h-1.2z" fill="#fff" fill-opacity="0.30"/><path d="M1896.0 675h1.1v275h-1.1zM1903.4 675h1.8v275h-1.8z" fill="#fff" fill-opacity="0.15"/><path d="M1964.9 675h2.0v275h-2.0zM1974.1 675h1.8v275h-1.8zM1995.8 675h1.8v275h-1.8zM2032.1 675h1.3v275h-1.3z" fill="#fff" fill-opacity="0.40"/><path d="M2006.2 675h1.9v275h-1.9z" fill="#fff" fill-opacity="0.20"/><path d="M2029.9 675h1.9v275h-1.9z" fill="#fff" fill-opacity="0.55"/><path d="M1837.5 675h1.8v275h-1.8zM1865.1 675h1.7v275h-1.7zM1873.3 675h2.3v275h-2.3zM1876.3 675h2.2v275h-2.2zM1878.9 675h2.1v275h-2.1zM1896.0 675h2.9v275h-2.9zM1904.1 675h1.8v275h-1.8zM1914.7 675h1.6v275h-1.6zM1918.3 675h1.9v275h-1.9zM1921.9 675h2.9v275h-2.9zM1930.9 675h2.7v275h-2.7zM1960.5 675h2.8v275h-2.8zM1962.5 675h1.9v275h-1.9zM1973.0 675h2.1v275h-2.1zM1992.9 675h1.6v275h-1.6zM2007.1 675h2.5v275h-2.5zM2015.4 675h2.5v275h-2.5z" fill="#000" fill-opacity="0.10"/><path d="M1846.3 675h2.3v275h-2.3zM1854.6 675h2.7v275h-2.7zM1856.9 675h1.7v275h-1.7zM1867.0 675h1.8v275h-1.8zM1929.1 675h2.1v275h-2.1zM1935.3 675h2.8v275h-2.8zM1943.1 675h2.4v275h-2.4zM1955.0 675h2.8v275h-2.8zM1964.1 675h2.5v275h-2.5zM1978.9 675h1.6v275h-1.6zM2004.1 675h2.3v275h-2.3zM2023.7 675h2.2v275h-2.2z" fill="#000" fill-opacity="0.05"/><path d="M1850.4 675h2.2v275h-2.2zM1884.5 675h2.4v275h-2.4zM1886.6 675h2.7v275h-2.7zM1906.3 675h2.6v275h-2.6zM1945.3 675h2.5v275h-2.5zM1983.6 675h2.2v275h-2.2zM1986.4 675h2.3v275h-2.3zM1997.5 675h1.9v275h-1.9zM2030.9 675h1.7v275h-1.7z" fill="#000" fill-opacity="0.15"/></g>
<path d="M1843,771 C1840,740 1842,720 1848,710 C1858,695 1870,686 1890,682" fill="none" stroke="#dcdcdc" stroke-width="2.5" filter="url(#bl2)"/>
<rect x="1765.9" y="673.0" width="297.9" height="275.4" filter="url(#nz)" opacity="0.25" style="mix-blend-mode:overlay"/>
</g>
<rect x="1765.9" y="948.4" width="297.9000000000001" height="34.0" fill="#000"/>
<text transform="translate(1821.68,973.80) scale(0.9602,1)" font-family="&quot;Liberation Sans&quot;, Arial, sans-serif" font-weight="normal" font-size="23.59" fill="#fff" >SC - 25% Porosity</text>
<rect x="1778.2" y="930.7" width="96.79999999999995" height="7.599999999999909" fill="#fff"/>
<text transform="translate(1779.39,913.76) scale(1.2176,1)" font-family="&quot;Liberation Sans&quot;, Arial, sans-serif" font-weight="bold" font-size="23.80" fill="#fff" >1um</text>
<line x1="152.30" y1="49.20" x2="152.30" y2="362.30" stroke="#000" stroke-width="3.4" />
<line x1="638.40" y1="49.20" x2="638.40" y2="362.30" stroke="#000" stroke-width="3.4" />
<line x1="150.60" y1="49.20" x2="640.10" y2="49.20" stroke="#000" stroke-width="3.4" />
<line x1="150.60" y1="362.30" x2="640.10" y2="362.30" stroke="#000" stroke-width="3.4" />
<line x1="139.80" y1="362.30" x2="164.80" y2="362.30" stroke="#000" stroke-width="3.4" />
<line x1="625.90" y1="362.30" x2="650.90" y2="362.30" stroke="#000" stroke-width="3.4" />
<line x1="139.80" y1="264.60" x2="164.80" y2="264.60" stroke="#000" stroke-width="3.4" />
<line x1="625.90" y1="264.60" x2="650.90" y2="264.60" stroke="#000" stroke-width="3.4" />
<line x1="139.80" y1="166.90" x2="164.80" y2="166.90" stroke="#000" stroke-width="3.4" />
<line x1="625.90" y1="166.90" x2="650.90" y2="166.90" stroke="#000" stroke-width="3.4" />
<line x1="139.80" y1="69.20" x2="164.80" y2="69.20" stroke="#000" stroke-width="3.4" />
<line x1="625.90" y1="69.20" x2="650.90" y2="69.20" stroke="#000" stroke-width="3.4" />
<line x1="146.80" y1="313.45" x2="157.80" y2="313.45" stroke="#000" stroke-width="3.4" />
<line x1="632.90" y1="313.45" x2="643.90" y2="313.45" stroke="#000" stroke-width="3.4" />
<line x1="146.80" y1="215.75" x2="157.80" y2="215.75" stroke="#000" stroke-width="3.4" />
<line x1="632.90" y1="215.75" x2="643.90" y2="215.75" stroke="#000" stroke-width="3.4" />
<line x1="146.80" y1="118.05" x2="157.80" y2="118.05" stroke="#000" stroke-width="3.4" />
<line x1="632.90" y1="118.05" x2="643.90" y2="118.05" stroke="#000" stroke-width="3.4" />
<line x1="152.30" y1="36.70" x2="152.30" y2="61.70" stroke="#000" stroke-width="3.4" />
<line x1="303.83" y1="36.70" x2="303.83" y2="61.70" stroke="#000" stroke-width="3.4" />
<line x1="455.37" y1="36.70" x2="455.37" y2="61.70" stroke="#000" stroke-width="3.4" />
<line x1="606.90" y1="36.70" x2="606.90" y2="61.70" stroke="#000" stroke-width="3.4" />
<line x1="228.07" y1="43.70" x2="228.07" y2="54.70" stroke="#000" stroke-width="3.4" />
<line x1="379.60" y1="43.70" x2="379.60" y2="54.70" stroke="#000" stroke-width="3.4" />
<line x1="531.13" y1="43.70" x2="531.13" y2="54.70" stroke="#000" stroke-width="3.4" />
<line x1="152.30" y1="349.80" x2="152.30" y2="374.80" stroke="#000" stroke-width="3.4" />
<line x1="303.83" y1="349.80" x2="303.83" y2="374.80" stroke="#000" stroke-width="3.4" />
<line x1="455.37" y1="349.80" x2="455.37" y2="374.80" stroke="#000" stroke-width="3.4" />
<line x1="606.90" y1="349.80" x2="606.90" y2="374.80" stroke="#000" stroke-width="3.4" />
<line x1="228.07" y1="356.80" x2="228.07" y2="367.80" stroke="#000" stroke-width="3.4" />
<line x1="379.60" y1="356.80" x2="379.60" y2="367.80" stroke="#000" stroke-width="3.4" />
<line x1="531.13" y1="356.80" x2="531.13" y2="367.80" stroke="#000" stroke-width="3.4" />
<text transform="translate(66.90,275.01) scale(0.9477,1)" font-family="&quot;Liberation Sans&quot;, Arial, sans-serif" font-weight="normal" font-size="39.29" fill="#000" >100</text>
<text transform="translate(66.90,177.31) scale(0.9477,1)" font-family="&quot;Liberation Sans&quot;, Arial, sans-serif" font-weight="normal" font-size="39.29" fill="#000" >200</text>
<text transform="translate(66.90,79.61) scale(0.9477,1)" font-family="&quot;Liberation Sans&quot;, Arial, sans-serif" font-weight="normal" font-size="39.29" fill="#000" >300</text>
<line x1="152.30" y1="362.30" x2="152.30" y2="676.40" stroke="#000" stroke-width="3.4" />
<line x1="638.40" y1="362.30" x2="638.40" y2="676.40" stroke="#000" stroke-width="3.4" />
<line x1="150.60" y1="362.30" x2="640.10" y2="362.30" stroke="#000" stroke-width="3.4" />
<line x1="150.60" y1="676.40" x2="640.10" y2="676.40" stroke="#000" stroke-width="3.4" />
<line x1="139.80" y1="676.40" x2="164.80" y2="676.40" stroke="#000" stroke-width="3.4" />
<line x1="625.90" y1="676.40" x2="650.90" y2="676.40" stroke="#000" stroke-width="3.4" />
<line x1="139.80" y1="578.70" x2="164.80" y2="578.70" stroke="#000" stroke-width="3.4" />
<line x1="625.90" y1="578.70" x2="650.90" y2="578.70" stroke="#000" stroke-width="3.4" />
<line x1="139.80" y1="481.00" x2="164.80" y2="481.00" stroke="#000" stroke-width="3.4" />
<line x1="625.90" y1="481.00" x2="650.90" y2="481.00" stroke="#000" stroke-width="3.4" />
<line x1="139.80" y1="383.30" x2="164.80" y2="383.30" stroke="#000" stroke-width="3.4" />
<line x1="625.90" y1="383.30" x2="650.90" y2="383.30" stroke="#000" stroke-width="3.4" />
<line x1="146.80" y1="627.55" x2="157.80" y2="627.55" stroke="#000" stroke-width="3.4" />
<line x1="632.90" y1="627.55" x2="643.90" y2="627.55" stroke="#000" stroke-width="3.4" />
<line x1="146.80" y1="529.85" x2="157.80" y2="529.85" stroke="#000" stroke-width="3.4" />
<line x1="632.90" y1="529.85" x2="643.90" y2="529.85" stroke="#000" stroke-width="3.4" />
<line x1="146.80" y1="432.15" x2="157.80" y2="432.15" stroke="#000" stroke-width="3.4" />
<line x1="632.90" y1="432.15" x2="643.90" y2="432.15" stroke="#000" stroke-width="3.4" />
<line x1="152.30" y1="349.80" x2="152.30" y2="374.80" stroke="#000" stroke-width="3.4" />
<line x1="303.83" y1="349.80" x2="303.83" y2="374.80" stroke="#000" stroke-width="3.4" />
<line x1="455.37" y1="349.80" x2="455.37" y2="374.80" stroke="#000" stroke-width="3.4" />
<line x1="606.90" y1="349.80" x2="606.90" y2="374.80" stroke="#000" stroke-width="3.4" />
<line x1="228.07" y1="356.80" x2="228.07" y2="367.80" stroke="#000" stroke-width="3.4" />
<line x1="379.60" y1="356.80" x2="379.60" y2="367.80" stroke="#000" stroke-width="3.4" />
<line x1="531.13" y1="356.80" x2="531.13" y2="367.80" stroke="#000" stroke-width="3.4" />
<line x1="152.30" y1="663.90" x2="152.30" y2="688.90" stroke="#000" stroke-width="3.4" />
<line x1="303.83" y1="663.90" x2="303.83" y2="688.90" stroke="#000" stroke-width="3.4" />
<line x1="455.37" y1="663.90" x2="455.37" y2="688.90" stroke="#000" stroke-width="3.4" />
<line x1="606.90" y1="663.90" x2="606.90" y2="688.90" stroke="#000" stroke-width="3.4" />
<line x1="228.07" y1="670.90" x2="228.07" y2="681.90" stroke="#000" stroke-width="3.4" />
<line x1="379.60" y1="670.90" x2="379.60" y2="681.90" stroke="#000" stroke-width="3.4" />
<line x1="531.13" y1="670.90" x2="531.13" y2="681.90" stroke="#000" stroke-width="3.4" />
<text transform="translate(66.90,589.11) scale(0.9477,1)" font-family="&quot;Liberation Sans&quot;, Arial, sans-serif" font-weight="normal" font-size="39.29" fill="#000" >100</text>
<text transform="translate(66.90,491.41) scale(0.9477,1)" font-family="&quot;Liberation Sans&quot;, Arial, sans-serif" font-weight="normal" font-size="39.29" fill="#000" >200</text>
<text transform="translate(66.90,393.71) scale(0.9477,1)" font-family="&quot;Liberation Sans&quot;, Arial, sans-serif" font-weight="normal" font-size="39.29" fill="#000" >300</text>
<line x1="152.30" y1="676.40" x2="152.30" y2="990.30" stroke="#000" stroke-width="3.4" />
<line x1="638.40" y1="676.40" x2="638.40" y2="990.30" stroke="#000" stroke-width="3.4" />
<line x1="150.60" y1="676.40" x2="640.10" y2="676.40" stroke="#000" stroke-width="3.4" />
<line x1="150.60" y1="990.30" x2="640.10" y2="990.30" stroke="#000" stroke-width="3.4" />
<line x1="139.80" y1="990.30" x2="164.80" y2="990.30" stroke="#000" stroke-width="3.4" />
<line x1="625.90" y1="990.30" x2="650.90" y2="990.30" stroke="#000" stroke-width="3.4" />
<line x1="139.80" y1="892.60" x2="164.80" y2="892.60" stroke="#000" stroke-width="3.4" />
<line x1="625.90" y1="892.60" x2="650.90" y2="892.60" stroke="#000" stroke-width="3.4" />
<line x1="139.80" y1="794.90" x2="164.80" y2="794.90" stroke="#000" stroke-width="3.4" />
<line x1="625.90" y1="794.90" x2="650.90" y2="794.90" stroke="#000" stroke-width="3.4" />
<line x1="139.80" y1="697.20" x2="164.80" y2="697.20" stroke="#000" stroke-width="3.4" />
<line x1="625.90" y1="697.20" x2="650.90" y2="697.20" stroke="#000" stroke-width="3.4" />
<line x1="146.80" y1="941.45" x2="157.80" y2="941.45" stroke="#000" stroke-width="3.4" />
<line x1="632.90" y1="941.45" x2="643.90" y2="941.45" stroke="#000" stroke-width="3.4" />
<line x1="146.80" y1="843.75" x2="157.80" y2="843.75" stroke="#000" stroke-width="3.4" />
<line x1="632.90" y1="843.75" x2="643.90" y2="843.75" stroke="#000" stroke-width="3.4" />
<line x1="146.80" y1="746.05" x2="157.80" y2="746.05" stroke="#000" stroke-width="3.4" />
<line x1="632.90" y1="746.05" x2="643.90" y2="746.05" stroke="#000" stroke-width="3.4" />
<line x1="152.30" y1="663.90" x2="152.30" y2="688.90" stroke="#000" stroke-width="3.4" />
<line x1="303.83" y1="663.90" x2="303.83" y2="688.90" stroke="#000" stroke-width="3.4" />
<line x1="455.37" y1="663.90" x2="455.37" y2="688.90" stroke="#000" stroke-width="3.4" />
<line x1="606.90" y1="663.90" x2="606.90" y2="688.90" stroke="#000" stroke-width="3.4" />
<line x1="228.07" y1="670.90" x2="228.07" y2="681.90" stroke="#000" stroke-width="3.4" />
<line x1="379.60" y1="670.90" x2="379.60" y2="681.90" stroke="#000" stroke-width="3.4" />
<line x1="531.13" y1="670.90" x2="531.13" y2="681.90" stroke="#000" stroke-width="3.4" />
<line x1="152.30" y1="977.80" x2="152.30" y2="1002.80" stroke="#000" stroke-width="3.4" />
<line x1="303.83" y1="977.80" x2="303.83" y2="1002.80" stroke="#000" stroke-width="3.4" />
<line x1="455.37" y1="977.80" x2="455.37" y2="1002.80" stroke="#000" stroke-width="3.4" />
<line x1="606.90" y1="977.80" x2="606.90" y2="1002.80" stroke="#000" stroke-width="3.4" />
<line x1="228.07" y1="984.80" x2="228.07" y2="995.80" stroke="#000" stroke-width="3.4" />
<line x1="379.60" y1="984.80" x2="379.60" y2="995.80" stroke="#000" stroke-width="3.4" />
<line x1="531.13" y1="984.80" x2="531.13" y2="995.80" stroke="#000" stroke-width="3.4" />
<text transform="translate(108.33,1000.71) scale(0.9477,1)" font-family="&quot;Liberation Sans&quot;, Arial, sans-serif" font-weight="normal" font-size="39.29" fill="#000" >0</text>
<text transform="translate(66.90,903.01) scale(0.9477,1)" font-family="&quot;Liberation Sans&quot;, Arial, sans-serif" font-weight="normal" font-size="39.29" fill="#000" >100</text>
<text transform="translate(66.90,805.31) scale(0.9477,1)" font-family="&quot;Liberation Sans&quot;, Arial, sans-serif" font-weight="normal" font-size="39.29" fill="#000" >200</text>
<text transform="translate(66.90,707.61) scale(0.9477,1)" font-family="&quot;Liberation Sans&quot;, Arial, sans-serif" font-weight="normal" font-size="39.29" fill="#000" >300</text>
<text transform="translate(142.22,1042.11) scale(0.9477,1)" font-family="&quot;Liberation Sans&quot;, Arial, sans-serif" font-weight="normal" font-size="39.29" fill="#000" >0</text>
<text transform="translate(272.39,1042.11) scale(0.9477,1)" font-family="&quot;Liberation Sans&quot;, Arial, sans-serif" font-weight="normal" font-size="39.29" fill="#000" >100</text>
<text transform="translate(424.39,1042.11) scale(0.9477,1)" font-family="&quot;Liberation Sans&quot;, Arial, sans-serif" font-weight="normal" font-size="39.29" fill="#000" >200</text>
<text transform="translate(576.15,1042.11) scale(0.9477,1)" font-family="&quot;Liberation Sans&quot;, Arial, sans-serif" font-weight="normal" font-size="39.29" fill="#000" >300</text>
<line x1="843.00" y1="55.50" x2="843.00" y2="363.20" stroke="#000" stroke-width="3.4" />
<line x1="1328.90" y1="55.50" x2="1328.90" y2="363.20" stroke="#000" stroke-width="3.4" />
<line x1="841.30" y1="55.50" x2="1330.60" y2="55.50" stroke="#000" stroke-width="3.4" />
<line x1="841.30" y1="363.20" x2="1330.60" y2="363.20" stroke="#000" stroke-width="3.4" />
<line x1="830.50" y1="363.20" x2="855.50" y2="363.20" stroke="#000" stroke-width="3.4" />
<line x1="1316.40" y1="363.20" x2="1341.40" y2="363.20" stroke="#000" stroke-width="3.4" />
<line x1="830.50" y1="301.66" x2="855.50" y2="301.66" stroke="#000" stroke-width="3.4" />
<line x1="1316.40" y1="301.66" x2="1341.40" y2="301.66" stroke="#000" stroke-width="3.4" />
<line x1="830.50" y1="240.12" x2="855.50" y2="240.12" stroke="#000" stroke-width="3.4" />
<line x1="1316.40" y1="240.12" x2="1341.40" y2="240.12" stroke="#000" stroke-width="3.4" />
<line x1="830.50" y1="178.58" x2="855.50" y2="178.58" stroke="#000" stroke-width="3.4" />
<line x1="1316.40" y1="178.58" x2="1341.40" y2="178.58" stroke="#000" stroke-width="3.4" />
<line x1="830.50" y1="117.04" x2="855.50" y2="117.04" stroke="#000" stroke-width="3.4" />
<line x1="1316.40" y1="117.04" x2="1341.40" y2="117.04" stroke="#000" stroke-width="3.4" />
<line x1="830.50" y1="55.50" x2="855.50" y2="55.50" stroke="#000" stroke-width="3.4" />
<line x1="1316.40" y1="55.50" x2="1341.40" y2="55.50" stroke="#000" stroke-width="3.4" />
<line x1="837.50" y1="332.43" x2="848.50" y2="332.43" stroke="#000" stroke-width="3.4" />
<line x1="1323.40" y1="332.43" x2="1334.40" y2="332.43" stroke="#000" stroke-width="3.4" />
<line x1="837.50" y1="270.89" x2="848.50" y2="270.89" stroke="#000" stroke-width="3.4" />
<line x1="1323.40" y1="270.89" x2="1334.40" y2="270.89" stroke="#000" stroke-width="3.4" />
<line x1="837.50" y1="209.35" x2="848.50" y2="209.35" stroke="#000" stroke-width="3.4" />
<line x1="1323.40" y1="209.35" x2="1334.40" y2="209.35" stroke="#000" stroke-width="3.4" />
<line x1="837.50" y1="147.81" x2="848.50" y2="147.81" stroke="#000" stroke-width="3.4" />
<line x1="1323.40" y1="147.81" x2="1334.40" y2="147.81" stroke="#000" stroke-width="3.4" />
<line x1="837.50" y1="86.27" x2="848.50" y2="86.27" stroke="#000" stroke-width="3.4" />
<line x1="1323.40" y1="86.27" x2="1334.40" y2="86.27" stroke="#000" stroke-width="3.4" />
<line x1="843.00" y1="43.00" x2="843.00" y2="68.00" stroke="#000" stroke-width="3.4" />
<line x1="935.44" y1="43.00" x2="935.44" y2="68.00" stroke="#000" stroke-width="3.4" />
<line x1="1027.88" y1="43.00" x2="1027.88" y2="68.00" stroke="#000" stroke-width="3.4" />
<line x1="1120.32" y1="43.00" x2="1120.32" y2="68.00" stroke="#000" stroke-width="3.4" />
<line x1="1212.76" y1="43.00" x2="1212.76" y2="68.00" stroke="#000" stroke-width="3.4" />
<line x1="1305.20" y1="43.00" x2="1305.20" y2="68.00" stroke="#000" stroke-width="3.4" />
<line x1="889.22" y1="50.00" x2="889.22" y2="61.00" stroke="#000" stroke-width="3.4" />
<line x1="981.66" y1="50.00" x2="981.66" y2="61.00" stroke="#000" stroke-width="3.4" />
<line x1="1074.10" y1="50.00" x2="1074.10" y2="61.00" stroke="#000" stroke-width="3.4" />
<line x1="1166.54" y1="50.00" x2="1166.54" y2="61.00" stroke="#000" stroke-width="3.4" />
<line x1="1258.98" y1="50.00" x2="1258.98" y2="61.00" stroke="#000" stroke-width="3.4" />
<line x1="843.00" y1="350.70" x2="843.00" y2="375.70" stroke="#000" stroke-width="3.4" />
<line x1="935.44" y1="350.70" x2="935.44" y2="375.70" stroke="#000" stroke-width="3.4" />
<line x1="1027.88" y1="350.70" x2="1027.88" y2="375.70" stroke="#000" stroke-width="3.4" />
<line x1="1120.32" y1="350.70" x2="1120.32" y2="375.70" stroke="#000" stroke-width="3.4" />
<line x1="1212.76" y1="350.70" x2="1212.76" y2="375.70" stroke="#000" stroke-width="3.4" />
<line x1="1305.20" y1="350.70" x2="1305.20" y2="375.70" stroke="#000" stroke-width="3.4" />
<line x1="889.22" y1="357.70" x2="889.22" y2="368.70" stroke="#000" stroke-width="3.4" />
<line x1="981.66" y1="357.70" x2="981.66" y2="368.70" stroke="#000" stroke-width="3.4" />
<line x1="1074.10" y1="357.70" x2="1074.10" y2="368.70" stroke="#000" stroke-width="3.4" />
<line x1="1166.54" y1="357.70" x2="1166.54" y2="368.70" stroke="#000" stroke-width="3.4" />
<line x1="1258.98" y1="357.70" x2="1258.98" y2="368.70" stroke="#000" stroke-width="3.4" />
<text transform="translate(799.43,373.71) scale(0.9477,1)" font-family="&quot;Liberation Sans&quot;, Arial, sans-serif" font-weight="normal" font-size="39.29" fill="#000" >0</text>
<text transform="translate(758.00,312.17) scale(0.9477,1)" font-family="&quot;Liberation Sans&quot;, Arial, sans-serif" font-weight="normal" font-size="39.29" fill="#000" >100</text>
<text transform="translate(758.00,250.63) scale(0.9477,1)" font-family="&quot;Liberation Sans&quot;, Arial, sans-serif" font-weight="normal" font-size="39.29" fill="#000" >200</text>
<text transform="translate(758.00,189.09) scale(0.9477,1)" font-family="&quot;Liberation Sans&quot;, Arial, sans-serif" font-weight="normal" font-size="39.29" fill="#000" >300</text>
<text transform="translate(758.00,127.55) scale(0.9477,1)" font-family="&quot;Liberation Sans&quot;, Arial, sans-serif" font-weight="normal" font-size="39.29" fill="#000" >400</text>
<text transform="translate(758.00,66.01) scale(0.9477,1)" font-family="&quot;Liberation Sans&quot;, Arial, sans-serif" font-weight="normal" font-size="39.29" fill="#000" >500</text>
<line x1="843.00" y1="363.20" x2="843.00" y2="672.50" stroke="#000" stroke-width="3.4" />
<line x1="1328.90" y1="363.20" x2="1328.90" y2="672.50" stroke="#000" stroke-width="3.4" />
<line x1="841.30" y1="363.20" x2="1330.60" y2="363.20" stroke="#000" stroke-width="3.4" />
<line x1="841.30" y1="672.50" x2="1330.60" y2="672.50" stroke="#000" stroke-width="3.4" />
<line x1="830.50" y1="672.50" x2="855.50" y2="672.50" stroke="#000" stroke-width="3.4" />
<line x1="1316.40" y1="672.50" x2="1341.40" y2="672.50" stroke="#000" stroke-width="3.4" />
<line x1="830.50" y1="610.64" x2="855.50" y2="610.64" stroke="#000" stroke-width="3.4" />
<line x1="1316.40" y1="610.64" x2="1341.40" y2="610.64" stroke="#000" stroke-width="3.4" />
<line x1="830.50" y1="548.78" x2="855.50" y2="548.78" stroke="#000" stroke-width="3.4" />
<line x1="1316.40" y1="548.78" x2="1341.40" y2="548.78" stroke="#000" stroke-width="3.4" />
<line x1="830.50" y1="486.92" x2="855.50" y2="486.92" stroke="#000" stroke-width="3.4" />
<line x1="1316.40" y1="486.92" x2="1341.40" y2="486.92" stroke="#000" stroke-width="3.4" />
<line x1="830.50" y1="425.06" x2="855.50" y2="425.06" stroke="#000" stroke-width="3.4" />
<line x1="1316.40" y1="425.06" x2="1341.40" y2="425.06" stroke="#000" stroke-width="3.4" />
<line x1="830.50" y1="363.20" x2="855.50" y2="363.20" stroke="#000" stroke-width="3.4" />
<line x1="1316.40" y1="363.20" x2="1341.40" y2="363.20" stroke="#000" stroke-width="3.4" />
<line x1="837.50" y1="641.57" x2="848.50" y2="641.57" stroke="#000" stroke-width="3.4" />
<line x1="1323.40" y1="641.57" x2="1334.40" y2="641.57" stroke="#000" stroke-width="3.4" />
<line x1="837.50" y1="579.71" x2="848.50" y2="579.71" stroke="#000" stroke-width="3.4" />
<line x1="1323.40" y1="579.71" x2="1334.40" y2="579.71" stroke="#000" stroke-width="3.4" />
<line x1="837.50" y1="517.85" x2="848.50" y2="517.85" stroke="#000" stroke-width="3.4" />
<line x1="1323.40" y1="517.85" x2="1334.40" y2="517.85" stroke="#000" stroke-width="3.4" />
<line x1="837.50" y1="455.99" x2="848.50" y2="455.99" stroke="#000" stroke-width="3.4" />
<line x1="1323.40" y1="455.99" x2="1334.40" y2="455.99" stroke="#000" stroke-width="3.4" />
<line x1="837.50" y1="394.13" x2="848.50" y2="394.13" stroke="#000" stroke-width="3.4" />
<line x1="1323.40" y1="394.13" x2="1334.40" y2="394.13" stroke="#000" stroke-width="3.4" />
<line x1="843.00" y1="350.70" x2="843.00" y2="375.70" stroke="#000" stroke-width="3.4" />
<line x1="935.44" y1="350.70" x2="935.44" y2="375.70" stroke="#000" stroke-width="3.4" />
<line x1="1027.88" y1="350.70" x2="1027.88" y2="375.70" stroke="#000" stroke-width="3.4" />
<line x1="1120.32" y1="350.70" x2="1120.32" y2="375.70" stroke="#000" stroke-width="3.4" />
<line x1="1212.76" y1="350.70" x2="1212.76" y2="375.70" stroke="#000" stroke-width="3.4" />
<line x1="1305.20" y1="350.70" x2="1305.20" y2="375.70" stroke="#000" stroke-width="3.4" />
<line x1="889.22" y1="357.70" x2="889.22" y2="368.70" stroke="#000" stroke-width="3.4" />
<line x1="981.66" y1="357.70" x2="981.66" y2="368.70" stroke="#000" stroke-width="3.4" />
<line x1="1074.10" y1="357.70" x2="1074.10" y2="368.70" stroke="#000" stroke-width="3.4" />
<line x1="1166.54" y1="357.70" x2="1166.54" y2="368.70" stroke="#000" stroke-width="3.4" />
<line x1="1258.98" y1="357.70" x2="1258.98" y2="368.70" stroke="#000" stroke-width="3.4" />
<line x1="843.00" y1="660.00" x2="843.00" y2="685.00" stroke="#000" stroke-width="3.4" />
<line x1="935.44" y1="660.00" x2="935.44" y2="685.00" stroke="#000" stroke-width="3.4" />
<line x1="1027.88" y1="660.00" x2="1027.88" y2="685.00" stroke="#000" stroke-width="3.4" />
<line x1="1120.32" y1="660.00" x2="1120.32" y2="685.00" stroke="#000" stroke-width="3.4" />
<line x1="1212.76" y1="660.00" x2="1212.76" y2="685.00" stroke="#000" stroke-width="3.4" />
<line x1="1305.20" y1="660.00" x2="1305.20" y2="685.00" stroke="#000" stroke-width="3.4" />
<line x1="889.22" y1="667.00" x2="889.22" y2="678.00" stroke="#000" stroke-width="3.4" />
<line x1="981.66" y1="667.00" x2="981.66" y2="678.00" stroke="#000" stroke-width="3.4" />
<line x1="1074.10" y1="667.00" x2="1074.10" y2="678.00" stroke="#000" stroke-width="3.4" />
<line x1="1166.54" y1="667.00" x2="1166.54" y2="678.00" stroke="#000" stroke-width="3.4" />
<line x1="1258.98" y1="667.00" x2="1258.98" y2="678.00" stroke="#000" stroke-width="3.4" />
<text transform="translate(799.43,683.01) scale(0.9477,1)" font-family="&quot;Liberation Sans&quot;, Arial, sans-serif" font-weight="normal" font-size="39.29" fill="#000" >0</text>
<text transform="translate(758.00,621.15) scale(0.9477,1)" font-family="&quot;Liberation Sans&quot;, Arial, sans-serif" font-weight="normal" font-size="39.29" fill="#000" >100</text>
<text transform="translate(758.00,559.29) scale(0.9477,1)" font-family="&quot;Liberation Sans&quot;, Arial, sans-serif" font-weight="normal" font-size="39.29" fill="#000" >200</text>
<text transform="translate(758.00,497.43) scale(0.9477,1)" font-family="&quot;Liberation Sans&quot;, Arial, sans-serif" font-weight="normal" font-size="39.29" fill="#000" >300</text>
<text transform="translate(758.00,435.57) scale(0.9477,1)" font-family="&quot;Liberation Sans&quot;, Arial, sans-serif" font-weight="normal" font-size="39.29" fill="#000" >400</text>
<line x1="843.00" y1="672.50" x2="843.00" y2="981.40" stroke="#000" stroke-width="3.4" />
<line x1="1328.90" y1="672.50" x2="1328.90" y2="981.40" stroke="#000" stroke-width="3.4" />
<line x1="841.30" y1="672.50" x2="1330.60" y2="672.50" stroke="#000" stroke-width="3.4" />
<line x1="841.30" y1="981.40" x2="1330.60" y2="981.40" stroke="#000" stroke-width="3.4" />
<line x1="830.50" y1="981.40" x2="855.50" y2="981.40" stroke="#000" stroke-width="3.4" />
<line x1="1316.40" y1="981.40" x2="1341.40" y2="981.40" stroke="#000" stroke-width="3.4" />
<line x1="830.50" y1="919.62" x2="855.50" y2="919.62" stroke="#000" stroke-width="3.4" />
<line x1="1316.40" y1="919.62" x2="1341.40" y2="919.62" stroke="#000" stroke-width="3.4" />
<line x1="830.50" y1="857.84" x2="855.50" y2="857.84" stroke="#000" stroke-width="3.4" />
<line x1="1316.40" y1="857.84" x2="1341.40" y2="857.84" stroke="#000" stroke-width="3.4" />
<line x1="830.50" y1="796.06" x2="855.50" y2="796.06" stroke="#000" stroke-width="3.4" />
<line x1="1316.40" y1="796.06" x2="1341.40" y2="796.06" stroke="#000" stroke-width="3.4" />
<line x1="830.50" y1="734.28" x2="855.50" y2="734.28" stroke="#000" stroke-width="3.4" />
<line x1="1316.40" y1="734.28" x2="1341.40" y2="734.28" stroke="#000" stroke-width="3.4" />
<line x1="830.50" y1="672.50" x2="855.50" y2="672.50" stroke="#000" stroke-width="3.4" />
<line x1="1316.40" y1="672.50" x2="1341.40" y2="672.50" stroke="#000" stroke-width="3.4" />
<line x1="837.50" y1="950.51" x2="848.50" y2="950.51" stroke="#000" stroke-width="3.4" />
<line x1="1323.40" y1="950.51" x2="1334.40" y2="950.51" stroke="#000" stroke-width="3.4" />
<line x1="837.50" y1="888.73" x2="848.50" y2="888.73" stroke="#000" stroke-width="3.4" />
<line x1="1323.40" y1="888.73" x2="1334.40" y2="888.73" stroke="#000" stroke-width="3.4" />
<line x1="837.50" y1="826.95" x2="848.50" y2="826.95" stroke="#000" stroke-width="3.4" />
<line x1="1323.40" y1="826.95" x2="1334.40" y2="826.95" stroke="#000" stroke-width="3.4" />
<line x1="837.50" y1="765.17" x2="848.50" y2="765.17" stroke="#000" stroke-width="3.4" />
<line x1="1323.40" y1="765.17" x2="1334.40" y2="765.17" stroke="#000" stroke-width="3.4" />
<line x1="837.50" y1="703.39" x2="848.50" y2="703.39" stroke="#000" stroke-width="3.4" />
<line x1="1323.40" y1="703.39" x2="1334.40" y2="703.39" stroke="#000" stroke-width="3.4" />
<line x1="843.00" y1="660.00" x2="843.00" y2="685.00" stroke="#000" stroke-width="3.4" />
<line x1="935.44" y1="660.00" x2="935.44" y2="685.00" stroke="#000" stroke-width="3.4" />
<line x1="1027.88" y1="660.00" x2="1027.88" y2="685.00" stroke="#000" stroke-width="3.4" />
<line x1="1120.32" y1="660.00" x2="1120.32" y2="685.00" stroke="#000" stroke-width="3.4" />
<line x1="1212.76" y1="660.00" x2="1212.76" y2="685.00" stroke="#000" stroke-width="3.4" />
<line x1="1305.20" y1="660.00" x2="1305.20" y2="685.00" stroke="#000" stroke-width="3.4" />
<line x1="889.22" y1="667.00" x2="889.22" y2="678.00" stroke="#000" stroke-width="3.4" />
<line x1="981.66" y1="667.00" x2="981.66" y2="678.00" stroke="#000" stroke-width="3.4" />
<line x1="1074.10" y1="667.00" x2="1074.10" y2="678.00" stroke="#000" stroke-width="3.4" />
<line x1="1166.54" y1="667.00" x2="1166.54" y2="678.00" stroke="#000" stroke-width="3.4" />
<line x1="1258.98" y1="667.00" x2="1258.98" y2="678.00" stroke="#000" stroke-width="3.4" />
<line x1="843.00" y1="968.90" x2="843.00" y2="993.90" stroke="#000" stroke-width="3.4" />
<line x1="935.44" y1="968.90" x2="935.44" y2="993.90" stroke="#000" stroke-width="3.4" />
<line x1="1027.88" y1="968.90" x2="1027.88" y2="993.90" stroke="#000" stroke-width="3.4" />
<line x1="1120.32" y1="968.90" x2="1120.32" y2="993.90" stroke="#000" stroke-width="3.4" />
<line x1="1212.76" y1="968.90" x2="1212.76" y2="993.90" stroke="#000" stroke-width="3.4" />
<line x1="1305.20" y1="968.90" x2="1305.20" y2="993.90" stroke="#000" stroke-width="3.4" />
<line x1="889.22" y1="975.90" x2="889.22" y2="986.90" stroke="#000" stroke-width="3.4" />
<line x1="981.66" y1="975.90" x2="981.66" y2="986.90" stroke="#000" stroke-width="3.4" />
<line x1="1074.10" y1="975.90" x2="1074.10" y2="986.90" stroke="#000" stroke-width="3.4" />
<line x1="1166.54" y1="975.90" x2="1166.54" y2="986.90" stroke="#000" stroke-width="3.4" />
<line x1="1258.98" y1="975.90" x2="1258.98" y2="986.90" stroke="#000" stroke-width="3.4" />
<text transform="translate(799.43,991.91) scale(0.9477,1)" font-family="&quot;Liberation Sans&quot;, Arial, sans-serif" font-weight="normal" font-size="39.29" fill="#000" >0</text>
<text transform="translate(758.00,930.13) scale(0.9477,1)" font-family="&quot;Liberation Sans&quot;, Arial, sans-serif" font-weight="normal" font-size="39.29" fill="#000" >100</text>
<text transform="translate(758.00,868.35) scale(0.9477,1)" font-family="&quot;Liberation Sans&quot;, Arial, sans-serif" font-weight="normal" font-size="39.29" fill="#000" >200</text>
<text transform="translate(758.00,806.57) scale(0.9477,1)" font-family="&quot;Liberation Sans&quot;, Arial, sans-serif" font-weight="normal" font-size="39.29" fill="#000" >300</text>
<text transform="translate(758.00,744.79) scale(0.9477,1)" font-family="&quot;Liberation Sans&quot;, Arial, sans-serif" font-weight="normal" font-size="39.29" fill="#000" >400</text>
<text transform="translate(833.02,1033.61) scale(0.9477,1)" font-family="&quot;Liberation Sans&quot;, Arial, sans-serif" font-weight="normal" font-size="39.29" fill="#000" >0</text>
<text transform="translate(904.10,1033.61) scale(0.9477,1)" font-family="&quot;Liberation Sans&quot;, Arial, sans-serif" font-weight="normal" font-size="39.29" fill="#000" >100</text>
<text transform="translate(997.00,1033.61) scale(0.9477,1)" font-family="&quot;Liberation Sans&quot;, Arial, sans-serif" font-weight="normal" font-size="39.29" fill="#000" >200</text>
<text transform="translate(1089.67,1033.61) scale(0.9477,1)" font-family="&quot;Liberation Sans&quot;, Arial, sans-serif" font-weight="normal" font-size="39.29" fill="#000" >300</text>
<text transform="translate(1182.39,1033.61) scale(0.9477,1)" font-family="&quot;Liberation Sans&quot;, Arial, sans-serif" font-weight="normal" font-size="39.29" fill="#000" >400</text>
<text transform="translate(1274.51,1033.61) scale(0.9477,1)" font-family="&quot;Liberation Sans&quot;, Arial, sans-serif" font-weight="normal" font-size="39.29" fill="#000" >500</text>
<clipPath id="pc1"><rect x="152.3" y="362.3" width="486.1" height="314.1"/></clipPath>
<g clip-path="url(#pc1)"><g fill="#fff" fill-opacity="0.25" stroke="#0000ff" stroke-opacity="0.5" stroke-width="1.0"><circle cx="153.5" cy="674.3" r="9.0"/><circle cx="153.7" cy="674.0" r="9.0"/><circle cx="154.0" cy="673.7" r="9.0"/><circle cx="154.3" cy="673.3" r="9.0"/><circle cx="154.7" cy="672.9" r="9.0"/><circle cx="155.1" cy="672.4" r="9.0"/><circle cx="155.7" cy="671.8" r="9.0"/><circle cx="156.4" cy="671.2" r="9.0"/><circle cx="157.2" cy="670.5" r="9.0"/><circle cx="158.2" cy="669.7" r="9.0"/><circle cx="159.4" cy="668.9" r="9.0"/><circle cx="160.9" cy="668.0" r="9.0"/><circle cx="162.6" cy="667.1" r="9.0"/><circle cx="164.7" cy="666.1" r="9.0"/><circle cx="167.1" cy="665.1" r="9.0"/><circle cx="169.9" cy="664.2" r="9.0"/><circle cx="173.1" cy="663.4" r="9.0"/><circle cx="176.7" cy="662.7" r="9.0"/><circle cx="180.5" cy="662.2" r="9.0"/><circle cx="184.5" cy="661.8" r="9.0"/><circle cx="188.6" cy="661.7" r="9.0"/><circle cx="192.8" cy="661.9" r="9.0"/><circle cx="196.7" cy="662.3" r="9.0"/><circle cx="200.5" cy="662.9" r="9.0"/><circle cx="203.9" cy="663.6" r="9.0"/><circle cx="207.0" cy="664.5" r="9.0"/><circle cx="209.7" cy="665.4" r="9.0"/><circle cx="212.1" cy="666.3" r="9.0"/><circle cx="214.0" cy="667.3" r="9.0"/><circle cx="215.7" cy="668.2" r="9.0"/><circle cx="217.1" cy="669.1" r="9.0"/><circle cx="218.3" cy="669.9" r="9.0"/><circle cx="219.2" cy="670.7" r="9.0"/><circle cx="220.0" cy="671.3" r="9.0"/><circle cx="220.7" cy="671.9" r="9.0"/><circle cx="221.2" cy="672.5" r="9.0"/><circle cx="221.6" cy="673.0" r="9.0"/><circle cx="222.0" cy="673.4" r="9.0"/></g><path d="M153.5,674.3 153.7,674.0 154.0,673.7 154.3,673.3 154.7,672.9 155.1,672.4 155.7,671.8 156.4,671.2 157.2,670.5 158.2,669.7 159.4,668.9 160.9,668.0 162.6,667.1 164.7,666.1 167.1,665.1 169.9,664.2 173.1,663.4 176.7,662.7 180.5,662.2 184.5,661.8 188.6,661.7 192.8,661.9 196.7,662.3 200.5,662.9 203.9,663.6 207.0,664.5 209.7,665.4 212.1,666.3 214.0,667.3 215.7,668.2 217.1,669.1 218.3,669.9 219.2,670.7 220.0,671.3 220.7,671.9 221.2,672.5 221.6,673.0 222.0,673.4" fill="none" stroke="#0000ff" stroke-opacity="0.8" stroke-width="2.0" stroke-linejoin="round"/><circle cx="228.1" cy="667.9" r="9.0" fill="#fff" fill-opacity="0.9" stroke="#0000ff" stroke-opacity="0.5" stroke-width="1.0"/><path d="M223.6,671.0 L232.1,665.2" stroke="#0000ff" stroke-opacity="0.5" stroke-width="1.3"/><g fill="#fff" fill-opacity="0.25" stroke="#0000ff" stroke-opacity="0.5" stroke-width="1.0"><circle cx="161.9" cy="672.6" r="9.0"/><circle cx="162.2" cy="672.0" r="9.0"/><circle cx="162.7" cy="671.4" r="9.0"/><circle cx="163.2" cy="670.6" r="9.0"/><circle cx="163.8" cy="669.8" r="9.0"/><circle cx="164.6" cy="668.9" r="9.0"/><circle cx="165.5" cy="667.8" r="9.0"/><circle cx="166.7" cy="666.6" r="9.0"/><circle cx="168.1" cy="665.3" r="9.0"/><circle cx="169.8" cy="663.9" r="9.0"/><circle cx="171.8" cy="662.4" r="9.0"/><circle cx="174.2" cy="660.7" r="9.0"/><circle cx="177.2" cy="659.0" r="9.0"/><circle cx="180.6" cy="657.2" r="9.0"/><circle cx="184.7" cy="655.4" r="9.0"/><circle cx="189.4" cy="653.7" r="9.0"/><circle cx="194.7" cy="652.1" r="9.0"/><circle cx="200.6" cy="650.8" r="9.0"/><circle cx="207.0" cy="649.8" r="9.0"/><circle cx="213.8" cy="649.2" r="9.0"/><circle cx="220.7" cy="649.0" r="9.0"/><circle cx="227.6" cy="649.3" r="9.0"/><circle cx="234.3" cy="650.0" r="9.0"/><circle cx="240.5" cy="651.1" r="9.0"/><circle cx="246.3" cy="652.5" r="9.0"/><circle cx="251.5" cy="654.1" r="9.0"/><circle cx="256.0" cy="655.8" r="9.0"/><circle cx="259.9" cy="657.6" r="9.0"/><circle cx="263.2" cy="659.4" r="9.0"/><circle cx="266.0" cy="661.1" r="9.0"/><circle cx="268.4" cy="662.8" r="9.0"/><circle cx="270.3" cy="664.3" r="9.0"/><circle cx="271.9" cy="665.7" r="9.0"/><circle cx="273.2" cy="667.0" r="9.0"/><circle cx="274.3" cy="668.1" r="9.0"/><circle cx="275.2" cy="669.1" r="9.0"/><circle cx="276.0" cy="670.0" r="9.0"/><circle cx="276.6" cy="670.8" r="9.0"/></g><path d="M161.9,672.6 162.2,672.0 162.7,671.4 163.2,670.6 163.8,669.8 164.6,668.9 165.5,667.8 166.7,666.6 168.1,665.3 169.8,663.9 171.8,662.4 174.2,660.7 177.2,659.0 180.6,657.2 184.7,655.4 189.4,653.7 194.7,652.1 200.6,650.8 207.0,649.8 213.8,649.2 220.7,649.0 227.6,649.3 234.3,650.0 240.5,651.1 246.3,652.5 251.5,654.1 256.0,655.8 259.9,657.6 263.2,659.4 266.0,661.1 268.4,662.8 270.3,664.3 271.9,665.7 273.2,667.0 274.3,668.1 275.2,669.1 276.0,670.0 276.6,670.8" fill="none" stroke="#0000ff" stroke-opacity="0.8" stroke-width="2.0" stroke-linejoin="round"/><circle cx="282.6" cy="667.9" r="9.0" fill="#fff" fill-opacity="0.9" stroke="#0000ff" stroke-opacity="0.5" stroke-width="1.0"/><path d="M278.1,671.0 L286.7,665.2" stroke="#0000ff" stroke-opacity="0.5" stroke-width="1.3"/><g fill="#fff" fill-opacity="0.25" stroke="#0000ff" stroke-opacity="0.5" stroke-width="1.0"><circle cx="172.7" cy="667.9" r="9.0"/><circle cx="173.6" cy="666.8" r="9.0"/><circle cx="174.7" cy="665.4" r="9.0"/><circle cx="175.9" cy="663.9" r="9.0"/><circle cx="177.4" cy="662.2" r="9.0"/><circle cx="179.3" cy="660.3" r="9.0"/><circle cx="181.4" cy="658.2" r="9.0"/><circle cx="184.0" cy="655.9" r="9.0"/><circle cx="187.1" cy="653.3" r="9.0"/><circle cx="190.8" cy="650.5" r="9.0"/><circle cx="195.3" cy="647.5" r="9.0"/><circle cx="200.5" cy="644.4" r="9.0"/><circle cx="206.6" cy="641.1" r="9.0"/><circle cx="213.7" cy="637.8" r="9.0"/><circle cx="222.0" cy="634.5" r="9.0"/><circle cx="231.3" cy="631.5" r="9.0"/><circle cx="241.7" cy="628.7" r="9.0"/><circle cx="253.2" cy="626.3" r="9.0"/><circle cx="265.4" cy="624.6" r="9.0"/><circle cx="278.3" cy="623.5" r="9.0"/><circle cx="291.4" cy="623.3" r="9.0"/><circle cx="304.5" cy="623.7" r="9.0"/><circle cx="317.2" cy="625.0" r="9.0"/><circle cx="329.3" cy="626.9" r="9.0"/><circle cx="340.5" cy="629.4" r="9.0"/><circle cx="350.6" cy="632.2" r="9.0"/><circle cx="359.7" cy="635.4" r="9.0"/><circle cx="367.6" cy="638.7" r="9.0"/><circle cx="374.5" cy="642.0" r="9.0"/><circle cx="380.4" cy="645.2" r="9.0"/><circle cx="385.4" cy="648.3" r="9.0"/><circle cx="389.6" cy="651.3" r="9.0"/><circle cx="393.1" cy="654.0" r="9.0"/><circle cx="396.1" cy="656.5" r="9.0"/><circle cx="398.6" cy="658.8" r="9.0"/><circle cx="400.7" cy="660.8" r="9.0"/><circle cx="402.4" cy="662.7" r="9.0"/><circle cx="403.8" cy="664.3" r="9.0"/></g><path d="M172.7,667.9 173.6,666.8 174.7,665.4 175.9,663.9 177.4,662.2 179.3,660.3 181.4,658.2 184.0,655.9 187.1,653.3 190.8,650.5 195.3,647.5 200.5,644.4 206.6,641.1 213.7,637.8 222.0,634.5 231.3,631.5 241.7,628.7 253.2,626.3 265.4,624.6 278.3,623.5 291.4,623.3 304.5,623.7 317.2,625.0 329.3,626.9 340.5,629.4 350.6,632.2 359.7,635.4 367.6,638.7 374.5,642.0 380.4,645.2 385.4,648.3 389.6,651.3 393.1,654.0 396.1,656.5 398.6,658.8 400.7,660.8 402.4,662.7 403.8,664.3" fill="none" stroke="#0000ff" stroke-opacity="0.8" stroke-width="2.0" stroke-linejoin="round"/><circle cx="409.9" cy="667.9" r="9.0" fill="#fff" fill-opacity="0.9" stroke="#0000ff" stroke-opacity="0.5" stroke-width="1.0"/><path d="M405.4,671.0 L414.0,665.2" stroke="#0000ff" stroke-opacity="0.5" stroke-width="1.3"/><g fill="#fff" fill-opacity="0.25" stroke="#0000ff" stroke-opacity="0.5" stroke-width="1.0"><circle cx="162.6" cy="661.1" r="9.0"/><circle cx="164.3" cy="659.1" r="9.0"/><circle cx="166.3" cy="656.7" r="9.0"/><circle cx="168.7" cy="654.1" r="9.0"/><circle cx="171.5" cy="651.2" r="9.0"/><circle cx="174.9" cy="648.0" r="9.0"/><circle cx="178.8" cy="644.4" r="9.0"/><circle cx="183.5" cy="640.5" r="9.0"/><circle cx="189.0" cy="636.2" r="9.0"/><circle cx="195.6" cy="631.6" r="9.0"/><circle cx="203.3" cy="626.7" r="9.0"/><circle cx="212.3" cy="621.6" r="9.0"/><circle cx="222.7" cy="616.3" r="9.0"/><circle cx="234.8" cy="611.0" r="9.0"/><circle cx="248.5" cy="605.8" r="9.0"/><circle cx="264.0" cy="601.0" r="9.0"/><circle cx="281.1" cy="596.6" r="9.0"/><circle cx="299.7" cy="593.0" r="9.0"/><circle cx="319.6" cy="590.3" r="9.0"/><circle cx="340.3" cy="588.6" r="9.0"/><circle cx="361.4" cy="588.2" r="9.0"/><circle cx="382.5" cy="588.9" r="9.0"/><circle cx="403.0" cy="590.9" r="9.0"/><circle cx="422.6" cy="593.8" r="9.0"/><circle cx="440.8" cy="597.7" r="9.0"/><circle cx="457.5" cy="602.2" r="9.0"/><circle cx="472.6" cy="607.2" r="9.0"/><circle cx="485.9" cy="612.4" r="9.0"/><circle cx="497.5" cy="617.7" r="9.0"/><circle cx="507.6" cy="623.0" r="9.0"/><circle cx="516.2" cy="628.0" r="9.0"/><circle cx="523.6" cy="632.9" r="9.0"/><circle cx="529.9" cy="637.4" r="9.0"/><circle cx="535.2" cy="641.6" r="9.0"/><circle cx="539.7" cy="645.4" r="9.0"/><circle cx="543.4" cy="648.9" r="9.0"/><circle cx="546.6" cy="652.0" r="9.0"/><circle cx="549.3" cy="654.8" r="9.0"/></g><path d="M162.6,661.1 164.3,659.1 166.3,656.7 168.7,654.1 171.5,651.2 174.9,648.0 178.8,644.4 183.5,640.5 189.0,636.2 195.6,631.6 203.3,626.7 212.3,621.6 222.7,616.3 234.8,611.0 248.5,605.8 264.0,601.0 281.1,596.6 299.7,593.0 319.6,590.3 340.3,588.6 361.4,588.2 382.5,588.9 403.0,590.9 422.6,593.8 440.8,597.7 457.5,602.2 472.6,607.2 485.9,612.4 497.5,617.7 507.6,623.0 516.2,628.0 523.6,632.9 529.9,637.4 535.2,641.6 539.7,645.4 543.4,648.9 546.6,652.0 549.3,654.8" fill="none" stroke="#0000ff" stroke-opacity="0.8" stroke-width="2.0" stroke-linejoin="round"/><circle cx="555.4" cy="667.9" r="9.0" fill="#fff" fill-opacity="0.9" stroke="#0000ff" stroke-opacity="0.5" stroke-width="1.0"/><path d="M550.9,671.0 L559.4,665.2" stroke="#0000ff" stroke-opacity="0.5" stroke-width="1.3"/></g>
<clipPath id="pc2"><rect x="152.3" y="676.4" width="486.1" height="313.9"/></clipPath>
<g clip-path="url(#pc2)"><g fill="#fff" fill-opacity="0.2" stroke="#0000ff" stroke-opacity="0.3" stroke-width="1.0"><circle cx="154.2" cy="986.4" r="9.0"/><circle cx="154.6" cy="985.8" r="9.0"/><circle cx="155.0" cy="985.1" r="9.0"/><circle cx="155.5" cy="984.4" r="9.0"/><circle cx="156.2" cy="983.6" r="9.0"/><circle cx="156.9" cy="982.6" r="9.0"/><circle cx="157.8" cy="981.5" r="9.0"/><circle cx="158.9" cy="980.3" r="9.0"/><circle cx="160.3" cy="979.0" r="9.0"/><circle cx="161.9" cy="977.5" r="9.0"/><circle cx="163.9" cy="976.0" r="9.0"/><circle cx="166.3" cy="974.3" r="9.0"/><circle cx="169.1" cy="972.5" r="9.0"/><circle cx="172.5" cy="970.7" r="9.0"/><circle cx="176.5" cy="968.8" r="9.0"/><circle cx="181.1" cy="967.1" r="9.0"/><circle cx="186.3" cy="965.5" r="9.0"/><circle cx="192.0" cy="964.2" r="9.0"/><circle cx="198.2" cy="963.1" r="9.0"/><circle cx="204.8" cy="962.5" r="9.0"/><circle cx="211.5" cy="962.4" r="9.0"/><circle cx="218.3" cy="962.6" r="9.0"/><circle cx="224.8" cy="963.4" r="9.0"/><circle cx="230.9" cy="964.5" r="9.0"/><circle cx="236.5" cy="965.9" r="9.0"/><circle cx="241.5" cy="967.5" r="9.0"/><circle cx="245.9" cy="969.3" r="9.0"/><circle cx="249.7" cy="971.1" r="9.0"/><circle cx="253.0" cy="972.9" r="9.0"/><circle cx="255.7" cy="974.7" r="9.0"/><circle cx="258.0" cy="976.4" r="9.0"/><circle cx="259.9" cy="977.9" r="9.0"/><circle cx="261.4" cy="979.4" r="9.0"/><circle cx="262.7" cy="980.6" r="9.0"/><circle cx="263.8" cy="981.8" r="9.0"/><circle cx="264.6" cy="982.9" r="9.0"/><circle cx="265.4" cy="983.8" r="9.0"/><circle cx="265.9" cy="984.6" r="9.0"/></g><path d="M154.2,986.4 154.6,985.8 155.0,985.1 155.5,984.4 156.2,983.6 156.9,982.6 157.8,981.5 158.9,980.3 160.3,979.0 161.9,977.5 163.9,976.0 166.3,974.3 169.1,972.5 172.5,970.7 176.5,968.8 181.1,967.1 186.3,965.5 192.0,964.2 198.2,963.1 204.8,962.5 211.5,962.4 218.3,962.6 224.8,963.4 230.9,964.5 236.5,965.9 241.5,967.5 245.9,969.3 249.7,971.1 253.0,972.9 255.7,974.7 258.0,976.4 259.9,977.9 261.4,979.4 262.7,980.6 263.8,981.8 264.6,982.9 265.4,983.8 265.9,984.6" fill="none" stroke="#0000ff" stroke-opacity="0.5" stroke-width="2.0" stroke-linejoin="round"/><circle cx="272.0" cy="981.3" r="9.0" fill="#fff" fill-opacity="0.9" stroke="#0000ff" stroke-opacity="0.3" stroke-width="1.0"/><path d="M267.5,984.4 L276.1,978.6" stroke="#0000ff" stroke-opacity="0.3" stroke-width="1.3"/><g fill="#fff" fill-opacity="0.2" stroke="#0000ff" stroke-opacity="0.3" stroke-width="1.0"><circle cx="164.1" cy="983.7" r="9.0"/><circle cx="164.9" cy="982.8" r="9.0"/><circle cx="165.8" cy="981.7" r="9.0"/><circle cx="166.9" cy="980.4" r="9.0"/><circle cx="168.3" cy="979.0" r="9.0"/><circle cx="169.9" cy="977.4" r="9.0"/><circle cx="171.9" cy="975.6" r="9.0"/><circle cx="174.3" cy="973.6" r="9.0"/><circle cx="177.3" cy="971.3" r="9.0"/><circle cx="180.9" cy="968.9" r="9.0"/><circle cx="185.2" cy="966.2" r="9.0"/><circle cx="190.4" cy="963.4" r="9.0"/><circle cx="196.6" cy="960.4" r="9.0"/><circle cx="204.0" cy="957.3" r="9.0"/><circle cx="212.7" cy="954.3" r="9.0"/><circle cx="222.7" cy="951.4" r="9.0"/><circle cx="234.0" cy="948.7" r="9.0"/><circle cx="246.6" cy="946.4" r="9.0"/><circle cx="260.1" cy="944.7" r="9.0"/><circle cx="274.5" cy="943.7" r="9.0"/><circle cx="289.2" cy="943.4" r="9.0"/><circle cx="303.8" cy="943.9" r="9.0"/><circle cx="318.0" cy="945.1" r="9.0"/><circle cx="331.4" cy="947.0" r="9.0"/><circle cx="343.6" cy="949.3" r="9.0"/><circle cx="354.6" cy="952.1" r="9.0"/><circle cx="364.2" cy="955.1" r="9.0"/><circle cx="372.5" cy="958.1" r="9.0"/><circle cx="379.6" cy="961.2" r="9.0"/><circle cx="385.6" cy="964.1" r="9.0"/><circle cx="390.6" cy="966.9" r="9.0"/><circle cx="394.7" cy="969.5" r="9.0"/><circle cx="398.1" cy="971.9" r="9.0"/><circle cx="400.9" cy="974.1" r="9.0"/><circle cx="403.2" cy="976.1" r="9.0"/><circle cx="405.1" cy="977.8" r="9.0"/><circle cx="406.6" cy="979.4" r="9.0"/><circle cx="407.9" cy="980.7" r="9.0"/></g><path d="M164.1,983.7 164.9,982.8 165.8,981.7 166.9,980.4 168.3,979.0 169.9,977.4 171.9,975.6 174.3,973.6 177.3,971.3 180.9,968.9 185.2,966.2 190.4,963.4 196.6,960.4 204.0,957.3 212.7,954.3 222.7,951.4 234.0,948.7 246.6,946.4 260.1,944.7 274.5,943.7 289.2,943.4 303.8,943.9 318.0,945.1 331.4,947.0 343.6,949.3 354.6,952.1 364.2,955.1 372.5,958.1 379.6,961.2 385.6,964.1 390.6,966.9 394.7,969.5 398.1,971.9 400.9,974.1 403.2,976.1 405.1,977.8 406.6,979.4 407.9,980.7" fill="none" stroke="#0000ff" stroke-opacity="0.5" stroke-width="2.0" stroke-linejoin="round"/><circle cx="414.0" cy="981.3" r="9.0" fill="#fff" fill-opacity="0.9" stroke="#0000ff" stroke-opacity="0.3" stroke-width="1.0"/><path d="M409.5,984.4 L418.0,978.6" stroke="#0000ff" stroke-opacity="0.3" stroke-width="1.3"/><g fill="#fff" fill-opacity="0.2" stroke="#0000ff" stroke-opacity="0.3" stroke-width="1.0"><circle cx="178.0" cy="979.4" r="9.0"/><circle cx="179.3" cy="977.9" r="9.0"/><circle cx="180.9" cy="976.2" r="9.0"/><circle cx="182.7" cy="974.2" r="9.0"/><circle cx="184.9" cy="972.0" r="9.0"/><circle cx="187.5" cy="969.6" r="9.0"/><circle cx="190.6" cy="966.9" r="9.0"/><circle cx="194.4" cy="963.9" r="9.0"/><circle cx="198.8" cy="960.6" r="9.0"/><circle cx="204.2" cy="957.0" r="9.0"/><circle cx="210.5" cy="953.2" r="9.0"/><circle cx="218.0" cy="949.1" r="9.0"/><circle cx="226.9" cy="944.9" r="9.0"/><circle cx="237.2" cy="940.6" r="9.0"/><circle cx="249.0" cy="936.4" r="9.0"/><circle cx="262.5" cy="932.5" r="9.0"/><circle cx="277.5" cy="928.9" r="9.0"/><circle cx="294.0" cy="925.9" r="9.0"/><circle cx="311.6" cy="923.6" r="9.0"/><circle cx="330.1" cy="922.3" r="9.0"/><circle cx="349.0" cy="921.9" r="9.0"/><circle cx="367.9" cy="922.5" r="9.0"/><circle cx="386.2" cy="924.1" r="9.0"/><circle cx="403.6" cy="926.6" r="9.0"/><circle cx="419.7" cy="929.8" r="9.0"/><circle cx="434.3" cy="933.5" r="9.0"/><circle cx="447.4" cy="937.5" r="9.0"/><circle cx="458.8" cy="941.7" r="9.0"/><circle cx="468.7" cy="946.0" r="9.0"/><circle cx="477.2" cy="950.2" r="9.0"/><circle cx="484.4" cy="954.2" r="9.0"/><circle cx="490.5" cy="957.9" r="9.0"/><circle cx="495.6" cy="961.5" r="9.0"/><circle cx="499.8" cy="964.7" r="9.0"/><circle cx="503.4" cy="967.6" r="9.0"/><circle cx="506.4" cy="970.2" r="9.0"/><circle cx="508.9" cy="972.6" r="9.0"/><circle cx="511.0" cy="974.7" r="9.0"/></g><path d="M178.0,979.4 179.3,977.9 180.9,976.2 182.7,974.2 184.9,972.0 187.5,969.6 190.6,966.9 194.4,963.9 198.8,960.6 204.2,957.0 210.5,953.2 218.0,949.1 226.9,944.9 237.2,940.6 249.0,936.4 262.5,932.5 277.5,928.9 294.0,925.9 311.6,923.6 330.1,922.3 349.0,921.9 367.9,922.5 386.2,924.1 403.6,926.6 419.7,929.8 434.3,933.5 447.4,937.5 458.8,941.7 468.7,946.0 477.2,950.2 484.4,954.2 490.5,957.9 495.6,961.5 499.8,964.7 503.4,967.6 506.4,970.2 508.9,972.6 511.0,974.7" fill="none" stroke="#0000ff" stroke-opacity="0.5" stroke-width="2.0" stroke-linejoin="round"/><circle cx="517.0" cy="981.3" r="9.0" fill="#fff" fill-opacity="0.9" stroke="#0000ff" stroke-opacity="0.3" stroke-width="1.0"/><path d="M512.5,984.4 L521.1,978.6" stroke="#0000ff" stroke-opacity="0.3" stroke-width="1.3"/><g fill="#fff" fill-opacity="0.2" stroke="#0000ff" stroke-opacity="0.3" stroke-width="1.0"><circle cx="164.1" cy="975.2" r="9.0"/><circle cx="166.1" cy="973.1" r="9.0"/><circle cx="168.4" cy="970.8" r="9.0"/><circle cx="171.1" cy="968.2" r="9.0"/><circle cx="174.3" cy="965.3" r="9.0"/><circle cx="178.1" cy="962.1" r="9.0"/><circle cx="182.7" cy="958.6" r="9.0"/><circle cx="188.0" cy="954.7" r="9.0"/><circle cx="194.4" cy="950.5" r="9.0"/><circle cx="201.8" cy="945.9" r="9.0"/><circle cx="210.6" cy="941.0" r="9.0"/><circle cx="221.0" cy="935.9" r="9.0"/><circle cx="232.9" cy="930.7" r="9.0"/><circle cx="246.8" cy="925.4" r="9.0"/><circle cx="262.5" cy="920.3" r="9.0"/><circle cx="280.2" cy="915.4" r="9.0"/><circle cx="299.8" cy="911.1" r="9.0"/><circle cx="321.1" cy="907.5" r="9.0"/><circle cx="343.8" cy="904.8" r="9.0"/><circle cx="367.6" cy="903.2" r="9.0"/><circle cx="391.8" cy="902.8" r="9.0"/><circle cx="415.9" cy="903.5" r="9.0"/><circle cx="439.4" cy="905.4" r="9.0"/><circle cx="461.8" cy="908.4" r="9.0"/><circle cx="482.7" cy="912.2" r="9.0"/><circle cx="501.8" cy="916.7" r="9.0"/><circle cx="519.0" cy="921.6" r="9.0"/><circle cx="534.2" cy="926.8" r="9.0"/><circle cx="547.6" cy="932.1" r="9.0"/><circle cx="559.1" cy="937.3" r="9.0"/><circle cx="569.0" cy="942.3" r="9.0"/><circle cx="577.5" cy="947.1" r="9.0"/><circle cx="584.6" cy="951.6" r="9.0"/><circle cx="590.7" cy="955.7" r="9.0"/><circle cx="595.8" cy="959.5" r="9.0"/><circle cx="600.2" cy="963.0" r="9.0"/><circle cx="603.8" cy="966.1" r="9.0"/><circle cx="606.9" cy="968.9" r="9.0"/></g><path d="M164.1,975.2 166.1,973.1 168.4,970.8 171.1,968.2 174.3,965.3 178.1,962.1 182.7,958.6 188.0,954.7 194.4,950.5 201.8,945.9 210.6,941.0 221.0,935.9 232.9,930.7 246.8,925.4 262.5,920.3 280.2,915.4 299.8,911.1 321.1,907.5 343.8,904.8 367.6,903.2 391.8,902.8 415.9,903.5 439.4,905.4 461.8,908.4 482.7,912.2 501.8,916.7 519.0,921.6 534.2,926.8 547.6,932.1 559.1,937.3 569.0,942.3 577.5,947.1 584.6,951.6 590.7,955.7 595.8,959.5 600.2,963.0 603.8,966.1 606.9,968.9" fill="none" stroke="#0000ff" stroke-opacity="0.5" stroke-width="2.0" stroke-linejoin="round"/><circle cx="613.0" cy="981.3" r="9.0" fill="#fff" fill-opacity="0.9" stroke="#0000ff" stroke-opacity="0.3" stroke-width="1.0"/><path d="M608.5,984.4 L617.0,978.6" stroke="#0000ff" stroke-opacity="0.3" stroke-width="1.3"/></g>
<clipPath id="pc3"><rect x="152.3" y="49.2" width="486.1" height="313.1"/></clipPath>
<g clip-path="url(#pc3)"><g fill="#fff" fill-opacity="0.55" stroke="#0000ff" stroke-width="1.3"><circle cx="163.8" cy="360.2" r="4"/><circle cx="165.4" cy="360.3" r="4"/><circle cx="166.9" cy="360.4" r="4"/><circle cx="168.5" cy="360.5" r="4"/><circle cx="170.0" cy="360.6" r="4"/><circle cx="171.5" cy="360.7" r="4"/><circle cx="173.1" cy="360.8" r="4"/><circle cx="174.7" cy="361.0" r="4"/><circle cx="176.1" cy="361.3" r="4"/><circle cx="177.4" cy="362.1" r="4"/><circle cx="178.5" cy="361.0" r="4"/><circle cx="179.4" cy="359.8" r="4"/><circle cx="180.5" cy="358.7" r="4"/><circle cx="181.8" cy="357.9" r="4"/><circle cx="182.3" cy="357.7" r="4"/></g><g fill="#fff" fill-opacity="0.55" stroke="#0000ff" stroke-width="1.3"><circle cx="165.9" cy="357.7" r="4"/><circle cx="167.5" cy="357.2" r="4"/><circle cx="169.0" cy="356.9" r="4"/><circle cx="170.6" cy="356.6" r="4"/><circle cx="172.2" cy="356.5" r="4"/><circle cx="173.7" cy="356.4" r="4"/><circle cx="175.2" cy="356.4" r="4"/><circle cx="176.7" cy="356.4" r="4"/><circle cx="178.2" cy="356.6" r="4"/><circle cx="179.7" cy="356.9" r="4"/><circle cx="181.2" cy="357.1" r="4"/><circle cx="182.8" cy="357.4" r="4"/><circle cx="184.3" cy="357.8" r="4"/><circle cx="185.8" cy="358.1" r="4"/><circle cx="187.3" cy="358.5" r="4"/><circle cx="188.8" cy="358.8" r="4"/><circle cx="190.3" cy="359.1" r="4"/><circle cx="191.9" cy="359.3" r="4"/><circle cx="193.4" cy="359.5" r="4"/><circle cx="195.0" cy="359.8" r="4"/><circle cx="196.5" cy="360.3" r="4"/><circle cx="197.8" cy="361.1" r="4"/><circle cx="199.0" cy="361.6" r="4"/><circle cx="200.0" cy="360.5" r="4"/><circle cx="201.0" cy="359.2" r="4"/><circle cx="202.0" cy="358.1" r="4"/><circle cx="203.3" cy="357.3" r="4"/><circle cx="204.3" cy="356.4" r="4"/></g><g fill="#fff" fill-opacity="0.55" stroke="#0000ff" stroke-width="1.3"><circle cx="166.2" cy="356.8" r="4"/><circle cx="167.7" cy="356.2" r="4"/><circle cx="169.1" cy="355.6" r="4"/><circle cx="170.6" cy="355.1" r="4"/><circle cx="172.1" cy="354.7" r="4"/><circle cx="173.7" cy="354.4" r="4"/><circle cx="175.2" cy="354.1" r="4"/><circle cx="176.7" cy="353.9" r="4"/><circle cx="178.3" cy="353.6" r="4"/><circle cx="179.9" cy="353.5" r="4"/><circle cx="181.6" cy="353.4" r="4"/><circle cx="183.3" cy="353.3" r="4"/><circle cx="185.0" cy="353.3" r="4"/><circle cx="186.5" cy="353.4" r="4"/><circle cx="188.1" cy="353.6" r="4"/><circle cx="189.6" cy="353.8" r="4"/><circle cx="191.1" cy="354.1" r="4"/><circle cx="192.6" cy="354.4" r="4"/><circle cx="194.1" cy="354.9" r="4"/><circle cx="195.6" cy="355.4" r="4"/><circle cx="197.2" cy="355.9" r="4"/><circle cx="198.7" cy="356.4" r="4"/><circle cx="200.2" cy="356.9" r="4"/><circle cx="201.7" cy="357.4" r="4"/><circle cx="203.2" cy="357.7" r="4"/><circle cx="204.7" cy="357.9" r="4"/><circle cx="206.2" cy="357.9" r="4"/><circle cx="207.8" cy="357.8" r="4"/><circle cx="209.3" cy="357.8" r="4"/><circle cx="210.8" cy="357.8" r="4"/><circle cx="212.3" cy="357.9" r="4"/><circle cx="213.8" cy="358.2" r="4"/><circle cx="215.4" cy="358.6" r="4"/><circle cx="216.9" cy="359.1" r="4"/><circle cx="218.4" cy="359.9" r="4"/><circle cx="219.6" cy="360.7" r="4"/><circle cx="221.0" cy="361.3" r="4"/><circle cx="222.2" cy="360.5" r="4"/><circle cx="223.2" cy="359.4" r="4"/><circle cx="224.2" cy="358.2" r="4"/><circle cx="225.4" cy="357.3" r="4"/><circle cx="226.6" cy="356.2" r="4"/><circle cx="227.9" cy="355.5" r="4"/><circle cx="228.1" cy="355.4" r="4"/></g><g fill="#fff" fill-opacity="0.55" stroke="#0000ff" stroke-width="1.3"><circle cx="165.8" cy="357.8" r="4"/><circle cx="166.8" cy="356.6" r="4"/><circle cx="167.8" cy="355.5" r="4"/><circle cx="169.1" cy="354.6" r="4"/><circle cx="170.6" cy="353.8" r="4"/><circle cx="171.9" cy="353.0" r="4"/><circle cx="173.3" cy="352.4" r="4"/><circle cx="174.9" cy="352.0" r="4"/><circle cx="176.4" cy="351.6" r="4"/><circle cx="177.9" cy="351.2" r="4"/><circle cx="179.4" cy="351.0" r="4"/><circle cx="180.9" cy="350.7" r="4"/><circle cx="182.5" cy="350.5" r="4"/><circle cx="184.0" cy="350.3" r="4"/><circle cx="185.5" cy="350.1" r="4"/><circle cx="187.0" cy="350.0" r="4"/><circle cx="188.5" cy="350.0" r="4"/><circle cx="190.0" cy="349.9" r="4"/><circle cx="191.5" cy="350.0" r="4"/><circle cx="193.1" cy="350.0" r="4"/><circle cx="194.6" cy="350.1" r="4"/><circle cx="196.1" cy="350.3" r="4"/><circle cx="197.6" cy="350.5" r="4"/><circle cx="199.1" cy="350.8" r="4"/><circle cx="200.6" cy="351.1" r="4"/><circle cx="202.2" cy="351.4" r="4"/><circle cx="203.7" cy="351.7" r="4"/><circle cx="205.2" cy="352.1" r="4"/><circle cx="206.7" cy="352.6" r="4"/><circle cx="208.2" cy="353.2" r="4"/><circle cx="209.7" cy="353.7" r="4"/><circle cx="211.2" cy="354.3" r="4"/><circle cx="212.8" cy="354.8" r="4"/><circle cx="214.3" cy="355.3" r="4"/><circle cx="215.8" cy="355.8" r="4"/><circle cx="217.2" cy="356.3" r="4"/><circle cx="218.7" cy="356.6" r="4"/><circle cx="220.3" cy="356.6" r="4"/><circle cx="221.9" cy="356.5" r="4"/><circle cx="223.5" cy="356.2" r="4"/><circle cx="225.0" cy="356.0" r="4"/><circle cx="226.5" cy="355.9" r="4"/><circle cx="228.1" cy="355.9" r="4"/><circle cx="229.6" cy="356.0" r="4"/><circle cx="231.2" cy="356.3" r="4"/><circle cx="232.8" cy="356.7" r="4"/><circle cx="234.3" cy="357.2" r="4"/><circle cx="235.8" cy="357.8" r="4"/><circle cx="237.2" cy="358.4" r="4"/><circle cx="238.7" cy="359.1" r="4"/><circle cx="240.0" cy="359.9" r="4"/><circle cx="241.3" cy="360.7" r="4"/><circle cx="242.7" cy="360.5" r="4"/><circle cx="243.9" cy="359.4" r="4"/><circle cx="244.9" cy="358.2" r="4"/><circle cx="245.8" cy="357.0" r="4"/><circle cx="246.4" cy="355.6" r="4"/><circle cx="247.6" cy="354.7" r="4"/><circle cx="249.0" cy="354.2" r="4"/></g></g>
<circle cx="249.0" cy="356.9" r="5.2" fill="#fff" stroke="#0000ff" stroke-width="1.6"/>
<clipPath id="pc4"><rect x="843.0" y="55.5" width="485.9" height="307.7"/></clipPath>
<g clip-path="url(#pc4)"><g fill="#fff" fill-opacity="1.0" stroke="#800080" stroke-opacity="1.0" stroke-width="1.0"><circle cx="845.8" cy="360.1" r="7.8"/><circle cx="846.3" cy="359.6" r="7.8"/><circle cx="846.8" cy="359.1" r="7.8"/><circle cx="847.5" cy="358.6" r="7.8"/><circle cx="848.2" cy="358.0" r="7.8"/><circle cx="849.1" cy="357.3" r="7.8"/><circle cx="850.2" cy="356.6" r="7.8"/><circle cx="851.5" cy="355.8" r="7.8"/><circle cx="853.0" cy="354.9" r="7.8"/><circle cx="854.8" cy="354.0" r="7.8"/><circle cx="856.9" cy="352.9" r="7.8"/><circle cx="859.3" cy="351.9" r="7.8"/><circle cx="862.2" cy="350.8" r="7.8"/><circle cx="865.5" cy="349.7" r="7.8"/><circle cx="869.2" cy="348.6" r="7.8"/><circle cx="873.4" cy="347.6" r="7.8"/><circle cx="878.1" cy="346.7" r="7.8"/><circle cx="883.2" cy="346.0" r="7.8"/><circle cx="888.6" cy="345.4" r="7.8"/><circle cx="894.2" cy="345.1" r="7.8"/><circle cx="900.0" cy="345.0" r="7.8"/><circle cx="905.7" cy="345.1" r="7.8"/><circle cx="911.3" cy="345.5" r="7.8"/><circle cx="916.6" cy="346.2" r="7.8"/><circle cx="921.6" cy="346.9" r="7.8"/><circle cx="926.2" cy="347.9" r="7.8"/><circle cx="930.2" cy="348.9" r="7.8"/><circle cx="933.9" cy="350.0" r="7.8"/><circle cx="937.0" cy="351.1" r="7.8"/><circle cx="939.8" cy="352.2" r="7.8"/><circle cx="942.1" cy="353.2" r="7.8"/><circle cx="944.2" cy="354.2" r="7.8"/><circle cx="945.9" cy="355.1" r="7.8"/><circle cx="947.3" cy="356.0" r="7.8"/><circle cx="948.5" cy="356.8" r="7.8"/><circle cx="949.6" cy="357.5" r="7.8"/><circle cx="950.4" cy="358.2" r="7.8"/><circle cx="951.2" cy="358.8" r="7.8"/></g><path d="M845.8,360.1 846.3,359.6 846.8,359.1 847.5,358.6 848.2,358.0 849.1,357.3 850.2,356.6 851.5,355.8 853.0,354.9 854.8,354.0 856.9,352.9 859.3,351.9 862.2,350.8 865.5,349.7 869.2,348.6 873.4,347.6 878.1,346.7 883.2,346.0 888.6,345.4 894.2,345.1 900.0,345.0 905.7,345.1 911.3,345.5 916.6,346.2 921.6,346.9 926.2,347.9 930.2,348.9 933.9,350.0 937.0,351.1 939.8,352.2 942.1,353.2 944.2,354.2 945.9,355.1 947.3,356.0 948.5,356.8 949.6,357.5 950.4,358.2 951.2,358.8" fill="none" stroke="#800080" stroke-opacity="1.0" stroke-width="2.4" stroke-linejoin="round"/><circle cx="954.9" cy="354.7" r="7.8" fill="#fff" fill-opacity="0.9" stroke="#800080" stroke-opacity="1.0" stroke-width="1.0"/><path d="M951.0,357.4 L958.4,352.4" stroke="#800080" stroke-opacity="1.0" stroke-width="1.3"/><g fill="#fff" fill-opacity="1.0" stroke="#800080" stroke-opacity="1.0" stroke-width="1.0"><circle cx="844.8" cy="359.2" r="7.8"/><circle cx="845.2" cy="358.6" r="7.8"/><circle cx="845.6" cy="358.0" r="7.8"/><circle cx="846.1" cy="357.2" r="7.8"/><circle cx="846.6" cy="356.3" r="7.8"/><circle cx="847.3" cy="355.4" r="7.8"/><circle cx="848.2" cy="354.3" r="7.8"/><circle cx="849.2" cy="353.1" r="7.8"/><circle cx="850.5" cy="351.7" r="7.8"/><circle cx="852.0" cy="350.2" r="7.8"/><circle cx="853.8" cy="348.6" r="7.8"/><circle cx="856.0" cy="346.8" r="7.8"/><circle cx="858.6" cy="345.0" r="7.8"/><circle cx="861.7" cy="343.1" r="7.8"/><circle cx="865.3" cy="341.1" r="7.8"/><circle cx="869.5" cy="339.2" r="7.8"/><circle cx="874.2" cy="337.4" r="7.8"/><circle cx="879.5" cy="335.8" r="7.8"/><circle cx="885.3" cy="334.4" r="7.8"/><circle cx="891.4" cy="333.4" r="7.8"/><circle cx="897.7" cy="332.7" r="7.8"/><circle cx="904.1" cy="332.4" r="7.8"/><circle cx="910.4" cy="332.5" r="7.8"/><circle cx="916.4" cy="332.8" r="7.8"/><circle cx="922.1" cy="333.4" r="7.8"/><circle cx="927.3" cy="334.1" r="7.8"/><circle cx="932.1" cy="334.8" r="7.8"/><circle cx="936.6" cy="335.5" r="7.8"/><circle cx="940.7" cy="336.1" r="7.8"/><circle cx="944.5" cy="336.5" r="7.8"/><circle cx="948.2" cy="336.7" r="7.8"/><circle cx="951.9" cy="336.7" r="7.8"/><circle cx="955.6" cy="336.4" r="7.8"/><circle cx="959.5" cy="336.0" r="7.8"/><circle cx="963.7" cy="335.4" r="7.8"/><circle cx="968.2" cy="334.7" r="7.8"/><circle cx="973.1" cy="333.9" r="7.8"/><circle cx="978.5" cy="333.3" r="7.8"/><circle cx="984.2" cy="332.7" r="7.8"/><circle cx="990.3" cy="332.4" r="7.8"/><circle cx="996.6" cy="332.5" r="7.8"/><circle cx="1003.0" cy="332.9" r="7.8"/><circle cx="1009.3" cy="333.6" r="7.8"/><circle cx="1015.4" cy="334.7" r="7.8"/><circle cx="1021.0" cy="336.2" r="7.8"/><circle cx="1026.2" cy="337.8" r="7.8"/><circle cx="1030.8" cy="339.7" r="7.8"/><circle cx="1034.9" cy="341.6" r="7.8"/><circle cx="1038.3" cy="343.5" r="7.8"/><circle cx="1041.3" cy="345.4" r="7.8"/><circle cx="1043.8" cy="347.3" r="7.8"/><circle cx="1045.9" cy="349.0" r="7.8"/><circle cx="1047.7" cy="350.6" r="7.8"/><circle cx="1049.1" cy="352.0" r="7.8"/><circle cx="1050.3" cy="353.4" r="7.8"/><circle cx="1051.3" cy="354.5" r="7.8"/><circle cx="1052.1" cy="355.6" r="7.8"/><circle cx="1052.7" cy="356.5" r="7.8"/><circle cx="1053.3" cy="357.4" r="7.8"/></g><path d="M844.8,359.2 845.2,358.6 845.6,358.0 846.1,357.2 846.6,356.3 847.3,355.4 848.2,354.3 849.2,353.1 850.5,351.7 852.0,350.2 853.8,348.6 856.0,346.8 858.6,345.0 861.7,343.1 865.3,341.1 869.5,339.2 874.2,337.4 879.5,335.8 885.3,334.4 891.4,333.4 897.7,332.7 904.1,332.4 910.4,332.5 916.4,332.8 922.1,333.4 927.3,334.1 932.1,334.8 936.6,335.5 940.7,336.1 944.5,336.5 948.2,336.7 951.9,336.7 955.6,336.4 959.5,336.0 963.7,335.4 968.2,334.7 973.1,333.9 978.5,333.3 984.2,332.7 990.3,332.4 996.6,332.5 1003.0,332.9 1009.3,333.6 1015.4,334.7 1021.0,336.2 1026.2,337.8 1030.8,339.7 1034.9,341.6 1038.3,343.5 1041.3,345.4 1043.8,347.3 1045.9,349.0 1047.7,350.6 1049.1,352.0 1050.3,353.4 1051.3,354.5 1052.1,355.6 1052.7,356.5 1053.3,357.4" fill="none" stroke="#800080" stroke-opacity="1.0" stroke-width="2.4" stroke-linejoin="round"/><circle cx="1057.0" cy="354.7" r="7.8" fill="#fff" fill-opacity="0.9" stroke="#800080" stroke-opacity="1.0" stroke-width="1.0"/><path d="M1053.1,357.4 L1060.5,352.4" stroke="#800080" stroke-opacity="1.0" stroke-width="1.3"/><g fill="#fff" fill-opacity="1.0" stroke="#800080" stroke-opacity="1.0" stroke-width="1.0"><circle cx="845.2" cy="358.7" r="7.8"/><circle cx="845.6" cy="358.1" r="7.8"/><circle cx="846.1" cy="357.3" r="7.8"/><circle cx="846.6" cy="356.5" r="7.8"/><circle cx="847.3" cy="355.5" r="7.8"/><circle cx="848.1" cy="354.4" r="7.8"/><circle cx="849.2" cy="353.2" r="7.8"/><circle cx="850.4" cy="351.8" r="7.8"/><circle cx="851.8" cy="350.3" r="7.8"/><circle cx="853.6" cy="348.7" r="7.8"/><circle cx="855.8" cy="346.8" r="7.8"/><circle cx="858.4" cy="344.9" r="7.8"/><circle cx="861.5" cy="342.8" r="7.8"/><circle cx="865.2" cy="340.7" r="7.8"/><circle cx="869.5" cy="338.5" r="7.8"/><circle cx="874.4" cy="336.3" r="7.8"/><circle cx="880.1" cy="334.3" r="7.8"/><circle cx="886.4" cy="332.5" r="7.8"/><circle cx="893.2" cy="331.0" r="7.8"/><circle cx="900.4" cy="329.8" r="7.8"/><circle cx="908.0" cy="329.1" r="7.8"/><circle cx="915.5" cy="328.7" r="7.8"/><circle cx="923.0" cy="328.8" r="7.8"/><circle cx="930.1" cy="329.2" r="7.8"/><circle cx="936.8" cy="329.8" r="7.8"/><circle cx="943.1" cy="330.6" r="7.8"/><circle cx="948.8" cy="331.4" r="7.8"/><circle cx="954.1" cy="332.2" r="7.8"/><circle cx="958.9" cy="332.9" r="7.8"/><circle cx="963.5" cy="333.3" r="7.8"/><circle cx="967.9" cy="333.5" r="7.8"/><circle cx="972.2" cy="333.5" r="7.8"/><circle cx="976.6" cy="333.2" r="7.8"/><circle cx="981.3" cy="332.7" r="7.8"/><circle cx="986.2" cy="332.0" r="7.8"/><circle cx="991.6" cy="331.2" r="7.8"/><circle cx="997.4" cy="330.4" r="7.8"/><circle cx="1003.8" cy="329.7" r="7.8"/><circle cx="1010.6" cy="329.1" r="7.8"/><circle cx="1017.8" cy="328.8" r="7.8"/><circle cx="1025.3" cy="328.8" r="7.8"/><circle cx="1032.9" cy="329.2" r="7.8"/><circle cx="1040.4" cy="330.1" r="7.8"/><circle cx="1047.6" cy="331.3" r="7.8"/><circle cx="1054.3" cy="332.9" r="7.8"/><circle cx="1060.4" cy="334.8" r="7.8"/><circle cx="1065.9" cy="336.8" r="7.8"/><circle cx="1070.7" cy="339.0" r="7.8"/><circle cx="1074.8" cy="341.2" r="7.8"/><circle cx="1078.4" cy="343.3" r="7.8"/><circle cx="1081.3" cy="345.4" r="7.8"/><circle cx="1083.8" cy="347.3" r="7.8"/><circle cx="1085.9" cy="349.1" r="7.8"/><circle cx="1087.6" cy="350.7" r="7.8"/><circle cx="1089.0" cy="352.2" r="7.8"/><circle cx="1090.2" cy="353.5" r="7.8"/><circle cx="1091.1" cy="354.7" r="7.8"/><circle cx="1091.9" cy="355.7" r="7.8"/><circle cx="1092.6" cy="356.7" r="7.8"/></g><path d="M845.2,358.7 845.6,358.1 846.1,357.3 846.6,356.5 847.3,355.5 848.1,354.4 849.2,353.2 850.4,351.8 851.8,350.3 853.6,348.7 855.8,346.8 858.4,344.9 861.5,342.8 865.2,340.7 869.5,338.5 874.4,336.3 880.1,334.3 886.4,332.5 893.2,331.0 900.4,329.8 908.0,329.1 915.5,328.7 923.0,328.8 930.1,329.2 936.8,329.8 943.1,330.6 948.8,331.4 954.1,332.2 958.9,332.9 963.5,333.3 967.9,333.5 972.2,333.5 976.6,333.2 981.3,332.7 986.2,332.0 991.6,331.2 997.4,330.4 1003.8,329.7 1010.6,329.1 1017.8,328.8 1025.3,328.8 1032.9,329.2 1040.4,330.1 1047.6,331.3 1054.3,332.9 1060.4,334.8 1065.9,336.8 1070.7,339.0 1074.8,341.2 1078.4,343.3 1081.3,345.4 1083.8,347.3 1085.9,349.1 1087.6,350.7 1089.0,352.2 1090.2,353.5 1091.1,354.7 1091.9,355.7 1092.6,356.7" fill="none" stroke="#800080" stroke-opacity="1.0" stroke-width="2.4" stroke-linejoin="round"/><circle cx="1096.3" cy="354.7" r="7.8" fill="#fff" fill-opacity="0.9" stroke="#800080" stroke-opacity="1.0" stroke-width="1.0"/><path d="M1092.4,357.4 L1099.8,352.4" stroke="#800080" stroke-opacity="1.0" stroke-width="1.3"/><g fill="#fff" fill-opacity="1.0" stroke="#800080" stroke-opacity="1.0" stroke-width="1.0"><circle cx="845.8" cy="358.0" r="7.8"/><circle cx="846.3" cy="357.3" r="7.8"/><circle cx="846.9" cy="356.4" r="7.8"/><circle cx="847.7" cy="355.5" r="7.8"/><circle cx="848.6" cy="354.3" r="7.8"/><circle cx="849.6" cy="353.1" r="7.8"/><circle cx="850.9" cy="351.7" r="7.8"/><circle cx="852.5" cy="350.1" r="7.8"/><circle cx="854.4" cy="348.4" r="7.8"/><circle cx="856.7" cy="346.5" r="7.8"/><circle cx="859.5" cy="344.4" r="7.8"/><circle cx="862.8" cy="342.1" r="7.8"/><circle cx="866.8" cy="339.7" r="7.8"/><circle cx="871.6" cy="337.3" r="7.8"/><circle cx="877.1" cy="334.8" r="7.8"/><circle cx="883.5" cy="332.3" r="7.8"/><circle cx="890.8" cy="330.0" r="7.8"/><circle cx="898.9" cy="328.0" r="7.8"/><circle cx="907.7" cy="326.2" r="7.8"/><circle cx="917.0" cy="325.0" r="7.8"/><circle cx="926.7" cy="324.1" r="7.8"/><circle cx="936.5" cy="323.8" r="7.8"/><circle cx="946.0" cy="324.0" r="7.8"/><circle cx="955.2" cy="324.5" r="7.8"/><circle cx="963.8" cy="325.3" r="7.8"/><circle cx="971.8" cy="326.3" r="7.8"/><circle cx="979.1" cy="327.4" r="7.8"/><circle cx="985.7" cy="328.4" r="7.8"/><circle cx="991.9" cy="329.3" r="7.8"/><circle cx="997.6" cy="330.0" r="7.8"/><circle cx="1003.0" cy="330.4" r="7.8"/><circle cx="1008.4" cy="330.6" r="7.8"/><circle cx="1013.8" cy="330.5" r="7.8"/><circle cx="1019.4" cy="330.1" r="7.8"/><circle cx="1025.3" cy="329.5" r="7.8"/><circle cx="1031.7" cy="328.8" r="7.8"/><circle cx="1038.6" cy="328.1" r="7.8"/><circle cx="1046.1" cy="327.4" r="7.8"/><circle cx="1054.2" cy="326.9" r="7.8"/><circle cx="1062.7" cy="326.6" r="7.8"/><circle cx="1071.5" cy="326.7" r="7.8"/><circle cx="1080.4" cy="327.2" r="7.8"/><circle cx="1089.2" cy="328.2" r="7.8"/><circle cx="1097.6" cy="329.5" r="7.8"/><circle cx="1105.4" cy="331.2" r="7.8"/><circle cx="1112.6" cy="333.2" r="7.8"/><circle cx="1119.1" cy="335.4" r="7.8"/><circle cx="1124.7" cy="337.7" r="7.8"/><circle cx="1129.6" cy="340.0" r="7.8"/><circle cx="1133.7" cy="342.2" r="7.8"/><circle cx="1137.2" cy="344.4" r="7.8"/><circle cx="1140.1" cy="346.4" r="7.8"/><circle cx="1142.5" cy="348.3" r="7.8"/><circle cx="1144.5" cy="350.0" r="7.8"/><circle cx="1146.2" cy="351.6" r="7.8"/><circle cx="1147.5" cy="353.0" r="7.8"/><circle cx="1148.7" cy="354.2" r="7.8"/><circle cx="1149.6" cy="355.4" r="7.8"/><circle cx="1150.4" cy="356.3" r="7.8"/></g><path d="M845.8,358.0 846.3,357.3 846.9,356.4 847.7,355.5 848.6,354.3 849.6,353.1 850.9,351.7 852.5,350.1 854.4,348.4 856.7,346.5 859.5,344.4 862.8,342.1 866.8,339.7 871.6,337.3 877.1,334.8 883.5,332.3 890.8,330.0 898.9,328.0 907.7,326.2 917.0,325.0 926.7,324.1 936.5,323.8 946.0,324.0 955.2,324.5 963.8,325.3 971.8,326.3 979.1,327.4 985.7,328.4 991.9,329.3 997.6,330.0 1003.0,330.4 1008.4,330.6 1013.8,330.5 1019.4,330.1 1025.3,329.5 1031.7,328.8 1038.6,328.1 1046.1,327.4 1054.2,326.9 1062.7,326.6 1071.5,326.7 1080.4,327.2 1089.2,328.2 1097.6,329.5 1105.4,331.2 1112.6,333.2 1119.1,335.4 1124.7,337.7 1129.6,340.0 1133.7,342.2 1137.2,344.4 1140.1,346.4 1142.5,348.3 1144.5,350.0 1146.2,351.6 1147.5,353.0 1148.7,354.2 1149.6,355.4 1150.4,356.3" fill="none" stroke="#800080" stroke-opacity="1.0" stroke-width="2.4" stroke-linejoin="round"/><circle cx="1154.1" cy="354.7" r="7.8" fill="#fff" fill-opacity="0.9" stroke="#800080" stroke-opacity="1.0" stroke-width="1.0"/><path d="M1150.2,357.4 L1157.6,352.4" stroke="#800080" stroke-opacity="1.0" stroke-width="1.3"/></g>
<clipPath id="pc5"><rect x="843.0" y="363.2" width="485.9" height="309.3"/></clipPath>
<g clip-path="url(#pc5)"><g fill="#fff" fill-opacity="0.3" stroke="#800080" stroke-opacity="0.5" stroke-width="1.0"><circle cx="845.9" cy="667.8" r="8.5"/><circle cx="846.4" cy="667.1" r="8.5"/><circle cx="847.0" cy="666.3" r="8.5"/><circle cx="847.8" cy="665.4" r="8.5"/><circle cx="848.7" cy="664.4" r="8.5"/><circle cx="849.8" cy="663.3" r="8.5"/><circle cx="851.1" cy="662.0" r="8.5"/><circle cx="852.8" cy="660.6" r="8.5"/><circle cx="854.7" cy="659.0" r="8.5"/><circle cx="857.2" cy="657.2" r="8.5"/><circle cx="860.1" cy="655.4" r="8.5"/><circle cx="863.6" cy="653.3" r="8.5"/><circle cx="867.8" cy="651.2" r="8.5"/><circle cx="872.8" cy="649.0" r="8.5"/><circle cx="878.6" cy="646.8" r="8.5"/><circle cx="885.4" cy="644.8" r="8.5"/><circle cx="893.0" cy="642.9" r="8.5"/><circle cx="901.5" cy="641.2" r="8.5"/><circle cx="910.6" cy="640.0" r="8.5"/><circle cx="920.3" cy="639.3" r="8.5"/><circle cx="930.2" cy="639.1" r="8.5"/><circle cx="940.1" cy="639.4" r="8.5"/><circle cx="949.7" cy="640.3" r="8.5"/><circle cx="958.7" cy="641.6" r="8.5"/><circle cx="966.9" cy="643.3" r="8.5"/><circle cx="974.3" cy="645.3" r="8.5"/><circle cx="980.8" cy="647.4" r="8.5"/><circle cx="986.4" cy="649.6" r="8.5"/><circle cx="991.2" cy="651.8" r="8.5"/><circle cx="995.2" cy="653.9" r="8.5"/><circle cx="998.6" cy="655.9" r="8.5"/><circle cx="1001.4" cy="657.7" r="8.5"/><circle cx="1003.7" cy="659.4" r="8.5"/><circle cx="1005.6" cy="661.0" r="8.5"/><circle cx="1007.1" cy="662.4" r="8.5"/><circle cx="1008.4" cy="663.6" r="8.5"/><circle cx="1009.4" cy="664.7" r="8.5"/><circle cx="1010.3" cy="665.7" r="8.5"/></g><path d="M845.9,667.8 846.4,667.1 847.0,666.3 847.8,665.4 848.7,664.4 849.8,663.3 851.1,662.0 852.8,660.6 854.7,659.0 857.2,657.2 860.1,655.4 863.6,653.3 867.8,651.2 872.8,649.0 878.6,646.8 885.4,644.8 893.0,642.9 901.5,641.2 910.6,640.0 920.3,639.3 930.2,639.1 940.1,639.4 949.7,640.3 958.7,641.6 966.9,643.3 974.3,645.3 980.8,647.4 986.4,649.6 991.2,651.8 995.2,653.9 998.6,655.9 1001.4,657.7 1003.7,659.4 1005.6,661.0 1007.1,662.4 1008.4,663.6 1009.4,664.7 1010.3,665.7" fill="none" stroke="#800080" stroke-opacity="0.75" stroke-width="2.4" stroke-linejoin="round"/><circle cx="1014.0" cy="661.5" r="8.5" fill="#fff" fill-opacity="0.9" stroke="#800080" stroke-opacity="0.5" stroke-width="1.0"/><path d="M1009.8,664.5 L1017.8,659.0" stroke="#800080" stroke-opacity="0.5" stroke-width="1.3"/><g fill="#fff" fill-opacity="0.3" stroke="#800080" stroke-opacity="0.5" stroke-width="1.0"><circle cx="844.7" cy="667.0" r="8.5"/><circle cx="845.0" cy="666.1" r="8.5"/><circle cx="845.5" cy="665.1" r="8.5"/><circle cx="846.0" cy="663.9" r="8.5"/><circle cx="846.6" cy="662.6" r="8.5"/><circle cx="847.4" cy="661.1" r="8.5"/><circle cx="848.4" cy="659.4" r="8.5"/><circle cx="849.6" cy="657.4" r="8.5"/><circle cx="851.1" cy="655.2" r="8.5"/><circle cx="853.0" cy="652.7" r="8.5"/><circle cx="855.4" cy="650.0" r="8.5"/><circle cx="858.3" cy="647.0" r="8.5"/><circle cx="861.9" cy="643.7" r="8.5"/><circle cx="866.4" cy="640.2" r="8.5"/><circle cx="871.7" cy="636.7" r="8.5"/><circle cx="878.1" cy="633.1" r="8.5"/><circle cx="885.6" cy="629.6" r="8.5"/><circle cx="894.1" cy="626.5" r="8.5"/><circle cx="903.5" cy="623.8" r="8.5"/><circle cx="913.8" cy="621.7" r="8.5"/><circle cx="924.4" cy="620.4" r="8.5"/><circle cx="935.2" cy="619.9" r="8.5"/><circle cx="945.8" cy="620.1" r="8.5"/><circle cx="955.9" cy="621.0" r="8.5"/><circle cx="965.2" cy="622.3" r="8.5"/><circle cx="973.6" cy="623.8" r="8.5"/><circle cx="981.2" cy="625.4" r="8.5"/><circle cx="988.1" cy="626.9" r="8.5"/><circle cx="994.2" cy="628.1" r="8.5"/><circle cx="1000.0" cy="628.9" r="8.5"/><circle cx="1005.5" cy="629.3" r="8.5"/><circle cx="1010.9" cy="629.2" r="8.5"/><circle cx="1016.6" cy="628.7" r="8.5"/><circle cx="1022.7" cy="627.9" r="8.5"/><circle cx="1029.3" cy="626.8" r="8.5"/><circle cx="1036.6" cy="625.6" r="8.5"/><circle cx="1044.7" cy="624.4" r="8.5"/><circle cx="1053.6" cy="623.5" r="8.5"/><circle cx="1063.1" cy="623.0" r="8.5"/><circle cx="1073.0" cy="623.1" r="8.5"/><circle cx="1083.0" cy="623.8" r="8.5"/><circle cx="1092.8" cy="625.3" r="8.5"/><circle cx="1102.2" cy="627.4" r="8.5"/><circle cx="1110.7" cy="630.1" r="8.5"/><circle cx="1118.4" cy="633.1" r="8.5"/><circle cx="1125.1" cy="636.4" r="8.5"/><circle cx="1130.8" cy="639.8" r="8.5"/><circle cx="1135.6" cy="643.1" r="8.5"/><circle cx="1139.5" cy="646.3" r="8.5"/><circle cx="1142.7" cy="649.3" r="8.5"/><circle cx="1145.3" cy="652.1" r="8.5"/><circle cx="1147.4" cy="654.6" r="8.5"/><circle cx="1149.1" cy="656.9" r="8.5"/><circle cx="1150.4" cy="658.9" r="8.5"/><circle cx="1151.5" cy="660.6" r="8.5"/><circle cx="1152.3" cy="662.2" r="8.5"/><circle cx="1153.0" cy="663.6" r="8.5"/><circle cx="1153.6" cy="664.8" r="8.5"/></g><path d="M844.7,667.0 845.0,666.1 845.5,665.1 846.0,663.9 846.6,662.6 847.4,661.1 848.4,659.4 849.6,657.4 851.1,655.2 853.0,652.7 855.4,650.0 858.3,647.0 861.9,643.7 866.4,640.2 871.7,636.7 878.1,633.1 885.6,629.6 894.1,626.5 903.5,623.8 913.8,621.7 924.4,620.4 935.2,619.9 945.8,620.1 955.9,621.0 965.2,622.3 973.6,623.8 981.2,625.4 988.1,626.9 994.2,628.1 1000.0,628.9 1005.5,629.3 1010.9,629.2 1016.6,628.7 1022.7,627.9 1029.3,626.8 1036.6,625.6 1044.7,624.4 1053.6,623.5 1063.1,623.0 1073.0,623.1 1083.0,623.8 1092.8,625.3 1102.2,627.4 1110.7,630.1 1118.4,633.1 1125.1,636.4 1130.8,639.8 1135.6,643.1 1139.5,646.3 1142.7,649.3 1145.3,652.1 1147.4,654.6 1149.1,656.9 1150.4,658.9 1151.5,660.6 1152.3,662.2 1153.0,663.6 1153.6,664.8" fill="none" stroke="#800080" stroke-opacity="0.75" stroke-width="2.4" stroke-linejoin="round"/><circle cx="1157.3" cy="661.5" r="8.5" fill="#fff" fill-opacity="0.9" stroke="#800080" stroke-opacity="0.5" stroke-width="1.0"/><path d="M1153.0,664.5 L1161.1,659.0" stroke="#800080" stroke-opacity="0.5" stroke-width="1.3"/><g fill="#fff" fill-opacity="0.3" stroke="#800080" stroke-opacity="0.5" stroke-width="1.0"><circle cx="844.8" cy="666.8" r="8.5"/><circle cx="845.2" cy="665.9" r="8.5"/><circle cx="845.6" cy="664.8" r="8.5"/><circle cx="846.2" cy="663.6" r="8.5"/><circle cx="846.9" cy="662.3" r="8.5"/><circle cx="847.7" cy="660.7" r="8.5"/><circle cx="848.8" cy="658.9" r="8.5"/><circle cx="850.1" cy="656.9" r="8.5"/><circle cx="851.7" cy="654.6" r="8.5"/><circle cx="853.7" cy="652.0" r="8.5"/><circle cx="856.3" cy="649.2" r="8.5"/><circle cx="859.4" cy="646.1" r="8.5"/><circle cx="863.3" cy="642.7" r="8.5"/><circle cx="868.1" cy="639.1" r="8.5"/><circle cx="873.8" cy="635.4" r="8.5"/><circle cx="880.7" cy="631.7" r="8.5"/><circle cx="888.7" cy="628.1" r="8.5"/><circle cx="897.8" cy="624.8" r="8.5"/><circle cx="908.0" cy="622.1" r="8.5"/><circle cx="918.9" cy="619.9" r="8.5"/><circle cx="930.4" cy="618.6" r="8.5"/><circle cx="942.0" cy="618.1" r="8.5"/><circle cx="953.3" cy="618.3" r="8.5"/><circle cx="964.1" cy="619.2" r="8.5"/><circle cx="974.1" cy="620.5" r="8.5"/><circle cx="983.2" cy="622.1" r="8.5"/><circle cx="991.4" cy="623.7" r="8.5"/><circle cx="998.7" cy="625.3" r="8.5"/><circle cx="1005.3" cy="626.5" r="8.5"/><circle cx="1011.5" cy="627.3" r="8.5"/><circle cx="1017.4" cy="627.7" r="8.5"/><circle cx="1023.2" cy="627.7" r="8.5"/><circle cx="1029.3" cy="627.2" r="8.5"/><circle cx="1035.8" cy="626.3" r="8.5"/><circle cx="1042.9" cy="625.2" r="8.5"/><circle cx="1050.8" cy="623.9" r="8.5"/><circle cx="1059.5" cy="622.7" r="8.5"/><circle cx="1069.0" cy="621.7" r="8.5"/><circle cx="1079.2" cy="621.2" r="8.5"/><circle cx="1089.8" cy="621.3" r="8.5"/><circle cx="1100.6" cy="622.1" r="8.5"/><circle cx="1111.1" cy="623.6" r="8.5"/><circle cx="1121.1" cy="625.8" r="8.5"/><circle cx="1130.4" cy="628.6" r="8.5"/><circle cx="1138.6" cy="631.8" r="8.5"/><circle cx="1145.8" cy="635.2" r="8.5"/><circle cx="1151.9" cy="638.7" r="8.5"/><circle cx="1157.0" cy="642.1" r="8.5"/><circle cx="1161.2" cy="645.4" r="8.5"/><circle cx="1164.6" cy="648.5" r="8.5"/><circle cx="1167.4" cy="651.4" r="8.5"/><circle cx="1169.7" cy="654.0" r="8.5"/><circle cx="1171.5" cy="656.3" r="8.5"/><circle cx="1172.9" cy="658.4" r="8.5"/><circle cx="1174.1" cy="660.2" r="8.5"/><circle cx="1175.0" cy="661.8" r="8.5"/><circle cx="1175.7" cy="663.3" r="8.5"/><circle cx="1176.3" cy="664.5" r="8.5"/></g><path d="M844.8,666.8 845.2,665.9 845.6,664.8 846.2,663.6 846.9,662.3 847.7,660.7 848.8,658.9 850.1,656.9 851.7,654.6 853.7,652.0 856.3,649.2 859.4,646.1 863.3,642.7 868.1,639.1 873.8,635.4 880.7,631.7 888.7,628.1 897.8,624.8 908.0,622.1 918.9,619.9 930.4,618.6 942.0,618.1 953.3,618.3 964.1,619.2 974.1,620.5 983.2,622.1 991.4,623.7 998.7,625.3 1005.3,626.5 1011.5,627.3 1017.4,627.7 1023.2,627.7 1029.3,627.2 1035.8,626.3 1042.9,625.2 1050.8,623.9 1059.5,622.7 1069.0,621.7 1079.2,621.2 1089.8,621.3 1100.6,622.1 1111.1,623.6 1121.1,625.8 1130.4,628.6 1138.6,631.8 1145.8,635.2 1151.9,638.7 1157.0,642.1 1161.2,645.4 1164.6,648.5 1167.4,651.4 1169.7,654.0 1171.5,656.3 1172.9,658.4 1174.1,660.2 1175.0,661.8 1175.7,663.3 1176.3,664.5" fill="none" stroke="#800080" stroke-opacity="0.75" stroke-width="2.4" stroke-linejoin="round"/><circle cx="1180.0" cy="661.5" r="8.5" fill="#fff" fill-opacity="0.9" stroke="#800080" stroke-opacity="0.5" stroke-width="1.0"/><path d="M1175.8,664.5 L1183.9,659.0" stroke="#800080" stroke-opacity="0.5" stroke-width="1.3"/><g fill="#fff" fill-opacity="0.3" stroke="#800080" stroke-opacity="0.5" stroke-width="1.0"><circle cx="845.3" cy="666.5" r="8.5"/><circle cx="845.7" cy="665.6" r="8.5"/><circle cx="846.3" cy="664.5" r="8.5"/><circle cx="846.9" cy="663.2" r="8.5"/><circle cx="847.8" cy="661.8" r="8.5"/><circle cx="848.8" cy="660.1" r="8.5"/><circle cx="850.1" cy="658.3" r="8.5"/><circle cx="851.8" cy="656.1" r="8.5"/><circle cx="853.8" cy="653.8" r="8.5"/><circle cx="856.3" cy="651.1" r="8.5"/><circle cx="859.5" cy="648.1" r="8.5"/><circle cx="863.4" cy="644.8" r="8.5"/><circle cx="868.2" cy="641.3" r="8.5"/><circle cx="874.1" cy="637.5" r="8.5"/><circle cx="881.2" cy="633.7" r="8.5"/><circle cx="889.7" cy="629.8" r="8.5"/><circle cx="899.6" cy="626.0" r="8.5"/><circle cx="911.0" cy="622.6" r="8.5"/><circle cx="923.6" cy="619.7" r="8.5"/><circle cx="937.1" cy="617.5" r="8.5"/><circle cx="951.4" cy="616.1" r="8.5"/><circle cx="965.7" cy="615.6" r="8.5"/><circle cx="979.8" cy="615.9" r="8.5"/><circle cx="993.1" cy="616.8" r="8.5"/><circle cx="1005.5" cy="618.2" r="8.5"/><circle cx="1016.8" cy="619.9" r="8.5"/><circle cx="1026.8" cy="621.7" r="8.5"/><circle cx="1035.9" cy="623.3" r="8.5"/><circle cx="1044.1" cy="624.6" r="8.5"/><circle cx="1051.7" cy="625.6" r="8.5"/><circle cx="1058.9" cy="626.0" r="8.5"/><circle cx="1066.1" cy="626.0" r="8.5"/><circle cx="1073.6" cy="625.6" r="8.5"/><circle cx="1081.5" cy="624.7" r="8.5"/><circle cx="1090.2" cy="623.6" r="8.5"/><circle cx="1099.8" cy="622.3" r="8.5"/><circle cx="1110.4" cy="621.1" r="8.5"/><circle cx="1122.0" cy="620.2" r="8.5"/><circle cx="1134.3" cy="619.7" r="8.5"/><circle cx="1147.3" cy="619.8" r="8.5"/><circle cx="1160.4" cy="620.6" r="8.5"/><circle cx="1173.2" cy="622.2" r="8.5"/><circle cx="1185.4" cy="624.5" r="8.5"/><circle cx="1196.6" cy="627.3" r="8.5"/><circle cx="1206.6" cy="630.6" r="8.5"/><circle cx="1215.3" cy="634.1" r="8.5"/><circle cx="1222.7" cy="637.7" r="8.5"/><circle cx="1229.0" cy="641.2" r="8.5"/><circle cx="1234.1" cy="644.6" r="8.5"/><circle cx="1238.3" cy="647.8" r="8.5"/><circle cx="1241.7" cy="650.8" r="8.5"/><circle cx="1244.4" cy="653.5" r="8.5"/><circle cx="1246.6" cy="655.9" r="8.5"/><circle cx="1248.3" cy="658.0" r="8.5"/><circle cx="1249.7" cy="659.9" r="8.5"/><circle cx="1250.9" cy="661.5" r="8.5"/><circle cx="1251.8" cy="663.0" r="8.5"/><circle cx="1252.5" cy="664.3" r="8.5"/></g><path d="M845.3,666.5 845.7,665.6 846.3,664.5 846.9,663.2 847.8,661.8 848.8,660.1 850.1,658.3 851.8,656.1 853.8,653.8 856.3,651.1 859.5,648.1 863.4,644.8 868.2,641.3 874.1,637.5 881.2,633.7 889.7,629.8 899.6,626.0 911.0,622.6 923.6,619.7 937.1,617.5 951.4,616.1 965.7,615.6 979.8,615.9 993.1,616.8 1005.5,618.2 1016.8,619.9 1026.8,621.7 1035.9,623.3 1044.1,624.6 1051.7,625.6 1058.9,626.0 1066.1,626.0 1073.6,625.6 1081.5,624.7 1090.2,623.6 1099.8,622.3 1110.4,621.1 1122.0,620.2 1134.3,619.7 1147.3,619.8 1160.4,620.6 1173.2,622.2 1185.4,624.5 1196.6,627.3 1206.6,630.6 1215.3,634.1 1222.7,637.7 1229.0,641.2 1234.1,644.6 1238.3,647.8 1241.7,650.8 1244.4,653.5 1246.6,655.9 1248.3,658.0 1249.7,659.9 1250.9,661.5 1251.8,663.0 1252.5,664.3" fill="none" stroke="#800080" stroke-opacity="0.75" stroke-width="2.4" stroke-linejoin="round"/><circle cx="1256.2" cy="661.5" r="8.5" fill="#fff" fill-opacity="0.9" stroke="#800080" stroke-opacity="0.5" stroke-width="1.0"/><path d="M1252.0,664.5 L1260.0,659.0" stroke="#800080" stroke-opacity="0.5" stroke-width="1.3"/></g>
<clipPath id="pc6"><rect x="843.0" y="672.5" width="485.9" height="308.9"/></clipPath>
<g clip-path="url(#pc6)"><g fill="#fff" fill-opacity="0.2" stroke="#800080" stroke-opacity="0.35" stroke-width="1.0"><circle cx="845.9" cy="976.6" r="8.5"/><circle cx="846.4" cy="975.9" r="8.5"/><circle cx="847.1" cy="975.1" r="8.5"/><circle cx="847.9" cy="974.2" r="8.5"/><circle cx="848.8" cy="973.2" r="8.5"/><circle cx="849.9" cy="972.0" r="8.5"/><circle cx="851.3" cy="970.7" r="8.5"/><circle cx="853.0" cy="969.3" r="8.5"/><circle cx="855.0" cy="967.7" r="8.5"/><circle cx="857.5" cy="965.9" r="8.5"/><circle cx="860.4" cy="964.0" r="8.5"/><circle cx="864.0" cy="961.9" r="8.5"/><circle cx="868.3" cy="959.7" r="8.5"/><circle cx="873.4" cy="957.5" r="8.5"/><circle cx="879.4" cy="955.3" r="8.5"/><circle cx="886.2" cy="953.2" r="8.5"/><circle cx="894.0" cy="951.2" r="8.5"/><circle cx="902.7" cy="949.6" r="8.5"/><circle cx="912.0" cy="948.4" r="8.5"/><circle cx="921.9" cy="947.6" r="8.5"/><circle cx="932.0" cy="947.4" r="8.5"/><circle cx="942.1" cy="947.8" r="8.5"/><circle cx="951.8" cy="948.7" r="8.5"/><circle cx="961.0" cy="950.0" r="8.5"/><circle cx="969.5" cy="951.7" r="8.5"/><circle cx="977.0" cy="953.7" r="8.5"/><circle cx="983.7" cy="955.9" r="8.5"/><circle cx="989.4" cy="958.1" r="8.5"/><circle cx="994.3" cy="960.3" r="8.5"/><circle cx="998.4" cy="962.4" r="8.5"/><circle cx="1001.8" cy="964.5" r="8.5"/><circle cx="1004.6" cy="966.4" r="8.5"/><circle cx="1006.9" cy="968.1" r="8.5"/><circle cx="1008.9" cy="969.7" r="8.5"/><circle cx="1010.5" cy="971.1" r="8.5"/><circle cx="1011.8" cy="972.3" r="8.5"/><circle cx="1012.8" cy="973.5" r="8.5"/><circle cx="1013.7" cy="974.5" r="8.5"/></g><path d="M845.9,976.6 846.4,975.9 847.1,975.1 847.9,974.2 848.8,973.2 849.9,972.0 851.3,970.7 853.0,969.3 855.0,967.7 857.5,965.9 860.4,964.0 864.0,961.9 868.3,959.7 873.4,957.5 879.4,955.3 886.2,953.2 894.0,951.2 902.7,949.6 912.0,948.4 921.9,947.6 932.0,947.4 942.1,947.8 951.8,948.7 961.0,950.0 969.5,951.7 977.0,953.7 983.7,955.9 989.4,958.1 994.3,960.3 998.4,962.4 1001.8,964.5 1004.6,966.4 1006.9,968.1 1008.9,969.7 1010.5,971.1 1011.8,972.3 1012.8,973.5 1013.7,974.5" fill="none" stroke="#800080" stroke-opacity="0.55" stroke-width="2.4" stroke-linejoin="round"/><circle cx="1017.4" cy="970.9" r="8.5" fill="#fff" fill-opacity="0.9" stroke="#800080" stroke-opacity="0.35" stroke-width="1.0"/><path d="M1013.2,973.9 L1021.3,968.4" stroke="#800080" stroke-opacity="0.35" stroke-width="1.3"/><g fill="#fff" fill-opacity="0.2" stroke="#800080" stroke-opacity="0.35" stroke-width="1.0"><circle cx="849.6" cy="970.8" r="8.5"/><circle cx="850.5" cy="969.5" r="8.5"/><circle cx="851.7" cy="968.0" r="8.5"/><circle cx="852.9" cy="966.4" r="8.5"/><circle cx="854.5" cy="964.7" r="8.5"/><circle cx="856.2" cy="962.8" r="8.5"/><circle cx="858.2" cy="960.7" r="8.5"/><circle cx="860.5" cy="958.4" r="8.5"/><circle cx="863.2" cy="956.0" r="8.5"/><circle cx="866.3" cy="953.4" r="8.5"/><circle cx="869.8" cy="950.7" r="8.5"/><circle cx="873.9" cy="947.9" r="8.5"/><circle cx="878.4" cy="945.0" r="8.5"/><circle cx="883.6" cy="942.1" r="8.5"/><circle cx="889.3" cy="939.3" r="8.5"/><circle cx="895.6" cy="936.6" r="8.5"/><circle cx="902.5" cy="934.1" r="8.5"/><circle cx="909.9" cy="931.9" r="8.5"/><circle cx="917.8" cy="930.1" r="8.5"/><circle cx="925.9" cy="928.6" r="8.5"/><circle cx="934.3" cy="927.7" r="8.5"/><circle cx="942.8" cy="927.1" r="8.5"/><circle cx="951.2" cy="927.0" r="8.5"/><circle cx="959.5" cy="927.3" r="8.5"/><circle cx="967.4" cy="928.0" r="8.5"/><circle cx="975.1" cy="928.8" r="8.5"/><circle cx="982.3" cy="929.8" r="8.5"/><circle cx="989.1" cy="930.9" r="8.5"/><circle cx="995.6" cy="931.9" r="8.5"/><circle cx="1001.7" cy="932.9" r="8.5"/><circle cx="1007.6" cy="933.7" r="8.5"/><circle cx="1013.2" cy="934.3" r="8.5"/><circle cx="1018.7" cy="934.6" r="8.5"/><circle cx="1024.2" cy="934.8" r="8.5"/><circle cx="1029.8" cy="934.7" r="8.5"/><circle cx="1035.4" cy="934.3" r="8.5"/><circle cx="1041.3" cy="933.9" r="8.5"/><circle cx="1047.4" cy="933.3" r="8.5"/><circle cx="1053.8" cy="932.7" r="8.5"/><circle cx="1060.6" cy="932.1" r="8.5"/><circle cx="1067.6" cy="931.6" r="8.5"/><circle cx="1074.9" cy="931.4" r="8.5"/><circle cx="1082.4" cy="931.4" r="8.5"/><circle cx="1090.0" cy="931.8" r="8.5"/><circle cx="1097.7" cy="932.5" r="8.5"/><circle cx="1105.2" cy="933.6" r="8.5"/><circle cx="1112.5" cy="935.1" r="8.5"/><circle cx="1119.4" cy="937.0" r="8.5"/><circle cx="1125.9" cy="939.1" r="8.5"/><circle cx="1132.0" cy="941.4" r="8.5"/><circle cx="1137.5" cy="944.0" r="8.5"/><circle cx="1142.5" cy="946.6" r="8.5"/><circle cx="1147.0" cy="949.2" r="8.5"/><circle cx="1151.0" cy="951.8" r="8.5"/><circle cx="1154.5" cy="954.3" r="8.5"/><circle cx="1157.6" cy="956.7" r="8.5"/><circle cx="1160.2" cy="959.0" r="8.5"/><circle cx="1162.6" cy="961.2" r="8.5"/><circle cx="1164.6" cy="963.2" r="8.5"/><circle cx="1166.3" cy="965.1" r="8.5"/><circle cx="1167.8" cy="966.7" r="8.5"/><circle cx="1169.1" cy="968.3" r="8.5"/></g><path d="M849.6,970.8 850.5,969.5 851.7,968.0 852.9,966.4 854.5,964.7 856.2,962.8 858.2,960.7 860.5,958.4 863.2,956.0 866.3,953.4 869.8,950.7 873.9,947.9 878.4,945.0 883.6,942.1 889.3,939.3 895.6,936.6 902.5,934.1 909.9,931.9 917.8,930.1 925.9,928.6 934.3,927.7 942.8,927.1 951.2,927.0 959.5,927.3 967.4,928.0 975.1,928.8 982.3,929.8 989.1,930.9 995.6,931.9 1001.7,932.9 1007.6,933.7 1013.2,934.3 1018.7,934.6 1024.2,934.8 1029.8,934.7 1035.4,934.3 1041.3,933.9 1047.4,933.3 1053.8,932.7 1060.6,932.1 1067.6,931.6 1074.9,931.4 1082.4,931.4 1090.0,931.8 1097.7,932.5 1105.2,933.6 1112.5,935.1 1119.4,937.0 1125.9,939.1 1132.0,941.4 1137.5,944.0 1142.5,946.6 1147.0,949.2 1151.0,951.8 1154.5,954.3 1157.6,956.7 1160.2,959.0 1162.6,961.2 1164.6,963.2 1166.3,965.1 1167.8,966.7 1169.1,968.3" fill="none" stroke="#800080" stroke-opacity="0.55" stroke-width="2.4" stroke-linejoin="round"/><circle cx="1172.8" cy="970.9" r="8.5" fill="#fff" fill-opacity="0.9" stroke="#800080" stroke-opacity="0.35" stroke-width="1.0"/><path d="M1168.6,973.9 L1176.7,968.4" stroke="#800080" stroke-opacity="0.35" stroke-width="1.3"/><g fill="#fff" fill-opacity="0.2" stroke="#800080" stroke-opacity="0.35" stroke-width="1.0"><circle cx="850.3" cy="970.5" r="8.5"/><circle cx="851.4" cy="969.2" r="8.5"/><circle cx="852.7" cy="967.7" r="8.5"/><circle cx="854.1" cy="966.1" r="8.5"/><circle cx="855.8" cy="964.3" r="8.5"/><circle cx="857.7" cy="962.3" r="8.5"/><circle cx="860.0" cy="960.2" r="8.5"/><circle cx="862.6" cy="957.9" r="8.5"/><circle cx="865.6" cy="955.4" r="8.5"/><circle cx="869.0" cy="952.8" r="8.5"/><circle cx="873.0" cy="950.0" r="8.5"/><circle cx="877.5" cy="947.1" r="8.5"/><circle cx="882.6" cy="944.2" r="8.5"/><circle cx="888.3" cy="941.2" r="8.5"/><circle cx="894.7" cy="938.3" r="8.5"/><circle cx="901.8" cy="935.6" r="8.5"/><circle cx="909.5" cy="933.0" r="8.5"/><circle cx="917.7" cy="930.8" r="8.5"/><circle cx="926.5" cy="928.9" r="8.5"/><circle cx="935.6" cy="927.4" r="8.5"/><circle cx="945.0" cy="926.4" r="8.5"/><circle cx="954.5" cy="925.9" r="8.5"/><circle cx="963.9" cy="925.8" r="8.5"/><circle cx="973.1" cy="926.1" r="8.5"/><circle cx="982.0" cy="926.7" r="8.5"/><circle cx="990.5" cy="927.6" r="8.5"/><circle cx="998.6" cy="928.7" r="8.5"/><circle cx="1006.2" cy="929.8" r="8.5"/><circle cx="1013.4" cy="930.8" r="8.5"/><circle cx="1020.3" cy="931.8" r="8.5"/><circle cx="1026.8" cy="932.6" r="8.5"/><circle cx="1033.1" cy="933.2" r="8.5"/><circle cx="1039.3" cy="933.6" r="8.5"/><circle cx="1045.4" cy="933.7" r="8.5"/><circle cx="1051.6" cy="933.6" r="8.5"/><circle cx="1057.9" cy="933.3" r="8.5"/><circle cx="1064.4" cy="932.8" r="8.5"/><circle cx="1071.3" cy="932.2" r="8.5"/><circle cx="1078.4" cy="931.6" r="8.5"/><circle cx="1086.0" cy="931.0" r="8.5"/><circle cx="1093.8" cy="930.5" r="8.5"/><circle cx="1102.0" cy="930.3" r="8.5"/><circle cx="1110.4" cy="930.3" r="8.5"/><circle cx="1118.9" cy="930.7" r="8.5"/><circle cx="1127.4" cy="931.4" r="8.5"/><circle cx="1135.8" cy="932.6" r="8.5"/><circle cx="1143.9" cy="934.1" r="8.5"/><circle cx="1151.7" cy="936.0" r="8.5"/><circle cx="1159.0" cy="938.1" r="8.5"/><circle cx="1165.7" cy="940.5" r="8.5"/><circle cx="1171.9" cy="943.1" r="8.5"/><circle cx="1177.5" cy="945.8" r="8.5"/><circle cx="1182.5" cy="948.5" r="8.5"/><circle cx="1187.0" cy="951.1" r="8.5"/><circle cx="1190.9" cy="953.7" r="8.5"/><circle cx="1194.3" cy="956.2" r="8.5"/><circle cx="1197.3" cy="958.5" r="8.5"/><circle cx="1199.9" cy="960.7" r="8.5"/><circle cx="1202.1" cy="962.8" r="8.5"/><circle cx="1204.1" cy="964.7" r="8.5"/><circle cx="1205.8" cy="966.4" r="8.5"/><circle cx="1207.2" cy="968.0" r="8.5"/></g><path d="M850.3,970.5 851.4,969.2 852.7,967.7 854.1,966.1 855.8,964.3 857.7,962.3 860.0,960.2 862.6,957.9 865.6,955.4 869.0,952.8 873.0,950.0 877.5,947.1 882.6,944.2 888.3,941.2 894.7,938.3 901.8,935.6 909.5,933.0 917.7,930.8 926.5,928.9 935.6,927.4 945.0,926.4 954.5,925.9 963.9,925.8 973.1,926.1 982.0,926.7 990.5,927.6 998.6,928.7 1006.2,929.8 1013.4,930.8 1020.3,931.8 1026.8,932.6 1033.1,933.2 1039.3,933.6 1045.4,933.7 1051.6,933.6 1057.9,933.3 1064.4,932.8 1071.3,932.2 1078.4,931.6 1086.0,931.0 1093.8,930.5 1102.0,930.3 1110.4,930.3 1118.9,930.7 1127.4,931.4 1135.8,932.6 1143.9,934.1 1151.7,936.0 1159.0,938.1 1165.7,940.5 1171.9,943.1 1177.5,945.8 1182.5,948.5 1187.0,951.1 1190.9,953.7 1194.3,956.2 1197.3,958.5 1199.9,960.7 1202.1,962.8 1204.1,964.7 1205.8,966.4 1207.2,968.0" fill="none" stroke="#800080" stroke-opacity="0.55" stroke-width="2.4" stroke-linejoin="round"/><circle cx="1210.9" cy="970.9" r="8.5" fill="#fff" fill-opacity="0.9" stroke="#800080" stroke-opacity="0.35" stroke-width="1.0"/><path d="M1206.7,973.9 L1214.7,968.4" stroke="#800080" stroke-opacity="0.35" stroke-width="1.3"/><g fill="#fff" fill-opacity="0.2" stroke="#800080" stroke-opacity="0.35" stroke-width="1.0"><circle cx="851.6" cy="970.2" r="8.5"/><circle cx="852.8" cy="968.8" r="8.5"/><circle cx="854.3" cy="967.3" r="8.5"/><circle cx="856.0" cy="965.6" r="8.5"/><circle cx="858.0" cy="963.8" r="8.5"/><circle cx="860.2" cy="961.7" r="8.5"/><circle cx="862.9" cy="959.5" r="8.5"/><circle cx="865.9" cy="957.1" r="8.5"/><circle cx="869.4" cy="954.6" r="8.5"/><circle cx="873.4" cy="951.9" r="8.5"/><circle cx="878.1" cy="949.0" r="8.5"/><circle cx="883.3" cy="946.0" r="8.5"/><circle cx="889.3" cy="943.0" r="8.5"/><circle cx="896.0" cy="940.0" r="8.5"/><circle cx="903.5" cy="937.0" r="8.5"/><circle cx="911.8" cy="934.1" r="8.5"/><circle cx="920.8" cy="931.5" r="8.5"/><circle cx="930.5" cy="929.2" r="8.5"/><circle cx="940.7" cy="927.2" r="8.5"/><circle cx="951.4" cy="925.7" r="8.5"/><circle cx="962.4" cy="924.6" r="8.5"/><circle cx="973.4" cy="924.1" r="8.5"/><circle cx="984.5" cy="923.9" r="8.5"/><circle cx="995.2" cy="924.2" r="8.5"/><circle cx="1005.7" cy="924.9" r="8.5"/><circle cx="1015.7" cy="925.8" r="8.5"/><circle cx="1025.1" cy="926.8" r="8.5"/><circle cx="1034.1" cy="927.9" r="8.5"/><circle cx="1042.6" cy="929.0" r="8.5"/><circle cx="1050.6" cy="929.9" r="8.5"/><circle cx="1058.3" cy="930.7" r="8.5"/><circle cx="1065.7" cy="931.3" r="8.5"/><circle cx="1073.0" cy="931.6" r="8.5"/><circle cx="1080.2" cy="931.7" r="8.5"/><circle cx="1087.5" cy="931.6" r="8.5"/><circle cx="1095.0" cy="931.2" r="8.5"/><circle cx="1102.8" cy="930.6" r="8.5"/><circle cx="1110.9" cy="930.0" r="8.5"/><circle cx="1119.4" cy="929.3" r="8.5"/><circle cx="1128.4" cy="928.6" r="8.5"/><circle cx="1137.7" cy="928.1" r="8.5"/><circle cx="1147.5" cy="927.8" r="8.5"/><circle cx="1157.4" cy="927.8" r="8.5"/><circle cx="1167.6" cy="928.2" r="8.5"/><circle cx="1177.7" cy="929.0" r="8.5"/><circle cx="1187.7" cy="930.2" r="8.5"/><circle cx="1197.4" cy="931.8" r="8.5"/><circle cx="1206.7" cy="933.7" r="8.5"/><circle cx="1215.4" cy="936.0" r="8.5"/><circle cx="1223.4" cy="938.5" r="8.5"/><circle cx="1230.8" cy="941.2" r="8.5"/><circle cx="1237.5" cy="944.0" r="8.5"/><circle cx="1243.4" cy="946.8" r="8.5"/><circle cx="1248.7" cy="949.6" r="8.5"/><circle cx="1253.4" cy="952.3" r="8.5"/><circle cx="1257.5" cy="954.9" r="8.5"/><circle cx="1261.0" cy="957.4" r="8.5"/><circle cx="1264.1" cy="959.7" r="8.5"/><circle cx="1266.8" cy="961.9" r="8.5"/><circle cx="1269.1" cy="963.8" r="8.5"/><circle cx="1271.1" cy="965.7" r="8.5"/><circle cx="1272.8" cy="967.3" r="8.5"/></g><path d="M851.6,970.2 852.8,968.8 854.3,967.3 856.0,965.6 858.0,963.8 860.2,961.7 862.9,959.5 865.9,957.1 869.4,954.6 873.4,951.9 878.1,949.0 883.3,946.0 889.3,943.0 896.0,940.0 903.5,937.0 911.8,934.1 920.8,931.5 930.5,929.2 940.7,927.2 951.4,925.7 962.4,924.6 973.4,924.1 984.5,923.9 995.2,924.2 1005.7,924.9 1015.7,925.8 1025.1,926.8 1034.1,927.9 1042.6,929.0 1050.6,929.9 1058.3,930.7 1065.7,931.3 1073.0,931.6 1080.2,931.7 1087.5,931.6 1095.0,931.2 1102.8,930.6 1110.9,930.0 1119.4,929.3 1128.4,928.6 1137.7,928.1 1147.5,927.8 1157.4,927.8 1167.6,928.2 1177.7,929.0 1187.7,930.2 1197.4,931.8 1206.7,933.7 1215.4,936.0 1223.4,938.5 1230.8,941.2 1237.5,944.0 1243.4,946.8 1248.7,949.6 1253.4,952.3 1257.5,954.9 1261.0,957.4 1264.1,959.7 1266.8,961.9 1269.1,963.8 1271.1,965.7 1272.8,967.3" fill="none" stroke="#800080" stroke-opacity="0.55" stroke-width="2.4" stroke-linejoin="round"/><circle cx="1276.5" cy="970.9" r="8.5" fill="#fff" fill-opacity="0.9" stroke="#800080" stroke-opacity="0.35" stroke-width="1.0"/><path d="M1272.3,973.9 L1280.4,968.4" stroke="#800080" stroke-opacity="0.35" stroke-width="1.3"/></g>
<line x1="152.30" y1="49.20" x2="152.30" y2="990.30" stroke="#000" stroke-width="3.4" />
<line x1="638.40" y1="49.20" x2="638.40" y2="990.30" stroke="#000" stroke-width="3.4" />
<line x1="150.60" y1="49.20" x2="640.10" y2="49.20" stroke="#000" stroke-width="3.4" />
<line x1="150.60" y1="362.30" x2="640.10" y2="362.30" stroke="#000" stroke-width="3.4" />
<line x1="150.60" y1="676.40" x2="640.10" y2="676.40" stroke="#000" stroke-width="3.4" />
<line x1="150.60" y1="990.30" x2="640.10" y2="990.30" stroke="#000" stroke-width="3.4" />
<line x1="843.00" y1="55.50" x2="843.00" y2="981.40" stroke="#000" stroke-width="3.4" />
<line x1="1328.90" y1="55.50" x2="1328.90" y2="981.40" stroke="#000" stroke-width="3.4" />
<line x1="841.30" y1="55.50" x2="1330.60" y2="55.50" stroke="#000" stroke-width="3.4" />
<line x1="841.30" y1="363.20" x2="1330.60" y2="363.20" stroke="#000" stroke-width="3.4" />
<line x1="841.30" y1="672.50" x2="1330.60" y2="672.50" stroke="#000" stroke-width="3.4" />
<line x1="841.30" y1="981.40" x2="1330.60" y2="981.40" stroke="#000" stroke-width="3.4" />
<line x1="311.20" y1="134.70" x2="311.20" y2="321.90" stroke="#1a1a1a" stroke-width="1.8" />
<line x1="310.40" y1="321.10" x2="556.80" y2="321.10" stroke="#1a1a1a" stroke-width="1.8" />
<line x1="307.20" y1="321.10" x2="311.20" y2="321.10" stroke="#1a1a1a" stroke-width="1.6" />
<line x1="307.20" y1="268.20" x2="311.20" y2="268.20" stroke="#1a1a1a" stroke-width="1.6" />
<line x1="307.20" y1="215.30" x2="311.20" y2="215.30" stroke="#1a1a1a" stroke-width="1.6" />
<line x1="307.20" y1="162.40" x2="311.20" y2="162.40" stroke="#1a1a1a" stroke-width="1.6" />
<line x1="308.70" y1="294.65" x2="311.20" y2="294.65" stroke="#1a1a1a" stroke-width="1.4" />
<line x1="308.70" y1="241.75" x2="311.20" y2="241.75" stroke="#1a1a1a" stroke-width="1.4" />
<line x1="308.70" y1="188.85" x2="311.20" y2="188.85" stroke="#1a1a1a" stroke-width="1.4" />
<line x1="330.00" y1="321.10" x2="330.00" y2="325.10" stroke="#1a1a1a" stroke-width="1.6" />
<line x1="367.75" y1="321.10" x2="367.75" y2="325.10" stroke="#1a1a1a" stroke-width="1.6" />
<line x1="405.50" y1="321.10" x2="405.50" y2="325.10" stroke="#1a1a1a" stroke-width="1.6" />
<line x1="443.25" y1="321.10" x2="443.25" y2="325.10" stroke="#1a1a1a" stroke-width="1.6" />
<line x1="481.00" y1="321.10" x2="481.00" y2="325.10" stroke="#1a1a1a" stroke-width="1.6" />
<line x1="518.75" y1="321.10" x2="518.75" y2="325.10" stroke="#1a1a1a" stroke-width="1.6" />
<line x1="556.50" y1="321.10" x2="556.50" y2="325.10" stroke="#1a1a1a" stroke-width="1.6" />
<line x1="348.88" y1="321.10" x2="348.88" y2="323.60" stroke="#1a1a1a" stroke-width="1.4" />
<line x1="386.62" y1="321.10" x2="386.62" y2="323.60" stroke="#1a1a1a" stroke-width="1.4" />
<line x1="424.38" y1="321.10" x2="424.38" y2="323.60" stroke="#1a1a1a" stroke-width="1.4" />
<line x1="462.12" y1="321.10" x2="462.12" y2="323.60" stroke="#1a1a1a" stroke-width="1.4" />
<line x1="499.88" y1="321.10" x2="499.88" y2="323.60" stroke="#1a1a1a" stroke-width="1.4" />
<line x1="537.62" y1="321.10" x2="537.62" y2="323.60" stroke="#1a1a1a" stroke-width="1.4" />
<line x1="556.50" y1="320.60" x2="556.50" y2="325.10" stroke="#1a1a1a" stroke-width="1.6" />
<text transform="translate(320.00,342.61) scale(0.9546,1)" font-family="&quot;Liberation Sans&quot;, Arial, sans-serif" font-weight="normal" font-size="18.80" fill="#4a4a4a" >10</text>
<text transform="translate(357.98,342.61) scale(0.9546,1)" font-family="&quot;Liberation Sans&quot;, Arial, sans-serif" font-weight="normal" font-size="18.80" fill="#4a4a4a" >20</text>
<text transform="translate(395.84,342.61) scale(0.9546,1)" font-family="&quot;Liberation Sans&quot;, Arial, sans-serif" font-weight="normal" font-size="18.80" fill="#4a4a4a" >30</text>
<text transform="translate(433.73,342.61) scale(0.9546,1)" font-family="&quot;Liberation Sans&quot;, Arial, sans-serif" font-weight="normal" font-size="18.80" fill="#4a4a4a" >40</text>
<text transform="translate(471.32,342.61) scale(0.9546,1)" font-family="&quot;Liberation Sans&quot;, Arial, sans-serif" font-weight="normal" font-size="18.80" fill="#4a4a4a" >50</text>
<text transform="translate(508.98,342.61) scale(0.9546,1)" font-family="&quot;Liberation Sans&quot;, Arial, sans-serif" font-weight="normal" font-size="18.80" fill="#4a4a4a" >60</text>
<text transform="translate(546.73,342.61) scale(0.9546,1)" font-family="&quot;Liberation Sans&quot;, Arial, sans-serif" font-weight="normal" font-size="18.80" fill="#4a4a4a" >70</text>
<text transform="translate(294.41,326.06) scale(0.9546,1)" font-family="&quot;Liberation Sans&quot;, Arial, sans-serif" font-weight="normal" font-size="18.80" fill="#4a4a4a" >0</text>
<text transform="translate(294.23,273.16) scale(0.9546,1)" font-family="&quot;Liberation Sans&quot;, Arial, sans-serif" font-weight="normal" font-size="18.80" fill="#4a4a4a" >4</text>
<text transform="translate(294.50,220.26) scale(0.9546,1)" font-family="&quot;Liberation Sans&quot;, Arial, sans-serif" font-weight="normal" font-size="18.80" fill="#4a4a4a" >8</text>
<text transform="translate(284.68,167.46) scale(0.9546,1)" font-family="&quot;Liberation Sans&quot;, Arial, sans-serif" font-weight="normal" font-size="18.80" fill="#4a4a4a" >12</text>
<g><path d="M320.9,293.3 L322.1,293.6 L323.1,293.9 L324.3,294.2 L325.6,294.5 L326.6,294.7 L327.6,295.0 L328.7,295.2 L329.9,295.5 L331.0,295.8 L332.2,296.1 L333.4,296.5 L334.5,296.9 L335.7,297.4 L336.8,297.8 L337.9,298.3 L339.1,298.9 L340.2,299.4 L341.3,299.9 L342.5,300.5 L343.7,301.0 L344.9,301.5 L346.1,302.1 L347.3,302.7 L348.3,303.4 L349.2,304.2 L349.9,305.0 L350.6,306.0 L351.1,307.0 L351.6,308.0 L352.1,309.1 L352.5,310.2 L352.9,311.3 L353.3,312.7 L353.5,313.7 L353.6,314.7 L353.9,316.1 L354.1,317.3 L354.5,318.3 L355.2,318.2 L355.6,317.0 L355.8,315.9 L356.0,314.5 L356.2,313.3 L356.4,311.9 L356.6,310.4 L356.9,308.7 L357.1,306.9 L357.3,305.0 L357.6,303.1 L357.8,301.1 L358.1,299.2 L358.3,297.3 L358.6,295.4 L358.9,293.4 L359.0,292.4 L359.2,291.3 L359.3,290.3 L359.4,289.2 L359.6,288.2 L359.8,287.1 L359.9,286.1 L360.1,285.0 L360.2,284.0 L360.4,283.0 L360.5,282.0 L360.9,280.1 L361.2,278.3 L361.5,276.6 L361.8,275.0 L362.2,273.5 L362.5,272.0 L362.9,270.6 L363.3,269.3 L363.6,268.0 L364.0,266.8 L364.3,265.7 L364.6,264.7 L365.0,263.4 L365.4,262.2 L365.8,261.3 L366.3,260.3 L366.8,259.4 L367.0,258.9" fill="none" stroke="#0000ff" stroke-width="1.1"/><g fill="none" stroke="#0000ff" stroke-width="1.4"><circle cx="320.9" cy="293.3" r="4.0"/><circle cx="326.9" cy="294.8" r="4.0"/><circle cx="333.0" cy="296.4" r="4.0"/><circle cx="338.7" cy="298.7" r="4.0"/><circle cx="344.5" cy="301.4" r="4.0"/><circle cx="349.7" cy="304.7" r="4.0"/><circle cx="352.5" cy="310.2" r="4.0"/><circle cx="353.9" cy="316.1" r="4.0"/><circle cx="355.9" cy="315.5" r="4.0"/><circle cx="356.9" cy="308.7" r="4.0"/><circle cx="357.7" cy="302.1" r="4.0"/><circle cx="358.6" cy="295.4" r="4.0"/><circle cx="359.4" cy="289.2" r="4.0"/><circle cx="360.4" cy="283.0" r="4.0"/><circle cx="361.5" cy="276.6" r="4.0"/><circle cx="362.9" cy="270.6" r="4.0"/><circle cx="364.6" cy="264.7" r="4.0"/><circle cx="366.9" cy="259.1" r="4.0"/><circle cx="367.0" cy="258.9" r="4.0"/></g><path d="M326.2,258.9 L326.8,257.8 L327.3,256.8 L327.8,255.8 L328.5,254.6 L329.2,253.5 L330.0,252.3 L330.9,251.2 L331.6,250.3 L332.4,249.4 L333.1,248.6 L333.9,247.7 L334.8,246.8 L335.6,246.0 L336.4,245.3 L337.2,244.7 L338.3,243.9 L339.4,243.3 L340.6,242.8 L341.7,242.5 L342.8,242.2 L344.0,242.0 L345.1,241.8 L346.2,241.6 L347.4,241.4 L348.5,241.3 L349.6,241.2 L350.8,241.3 L351.9,241.5 L353.0,241.9 L354.2,242.4 L355.3,243.1 L356.4,243.9 L357.6,244.8 L358.7,245.7 L359.8,246.7 L360.6,247.4 L361.3,248.1 L362.1,248.8 L362.8,249.6 L363.6,250.4 L364.4,251.2 L365.1,252.0 L365.9,252.8 L366.6,253.7 L367.4,254.5 L368.1,255.4 L368.9,256.3 L369.6,257.2 L370.4,258.1 L371.1,259.1 L371.9,260.0 L372.7,260.9 L373.4,261.9 L374.2,262.8 L374.9,263.8 L375.7,264.7 L376.4,265.6 L377.2,266.6 L377.9,267.6 L378.7,268.5 L379.5,269.5 L380.2,270.4 L381.0,271.4 L381.7,272.2 L382.5,273.1 L383.2,273.9 L384.0,274.6 L384.7,275.3 L385.5,276.0 L386.6,277.0 L387.8,277.9 L388.9,278.8 L390.0,279.8 L390.8,280.4 L391.9,281.4 L393.1,282.3 L394.3,283.2 L395.4,284.1 L396.2,284.8 L396.9,285.5 L397.6,286.3 L398.3,287.1 L398.9,288.0 L399.5,289.0 L400.1,289.9 L400.7,290.9 L401.3,292.0 L401.8,293.0 L402.4,294.2 L402.9,295.4 L403.4,296.6 L403.8,298.0 L404.3,299.6 L404.7,301.4 L405.1,303.2 L405.5,305.2 L405.9,307.1 L406.3,308.9 L406.6,310.5 L406.9,311.8 L407.2,312.8 L407.8,313.8 L408.5,313.3 L408.7,312.3 L408.9,310.9 L409.2,309.8 L409.4,308.5 L409.7,307.0 L409.9,305.1 L410.1,304.2 L410.2,303.1 L410.4,302.0 L410.5,300.9 L410.7,299.8 L410.8,298.6 L411.0,297.4 L411.2,296.2 L411.3,295.0 L411.5,293.8 L411.6,292.6 L411.8,291.4 L412.0,290.3 L412.1,289.1 L412.3,288.0 L412.5,286.9 L412.6,285.8 L412.8,284.6 L413.0,283.4 L413.1,282.2 L413.3,281.0 L413.5,279.8 L413.6,278.6 L413.8,277.3 L414.0,276.1 L414.2,274.9 L414.3,273.8 L414.5,272.6 L414.7,271.5 L414.9,270.4 L415.0,269.3 L415.2,268.3 L415.5,266.4 L415.9,264.8 L416.2,263.3 L416.5,262.1 L416.8,261.1 L417.2,259.7 L417.7,258.4 L418.1,257.1 L418.4,256.1 L418.7,255.0 L419.0,253.7 L419.4,252.3 L419.7,250.8 L420.1,249.2 L420.4,247.7 L420.7,246.2 L421.0,244.8 L421.3,243.6 L421.6,242.5 L421.7,241.8" fill="none" stroke="#0000ff" stroke-width="1.1"/><g fill="none" stroke="#0000ff" stroke-width="1.4"><circle cx="326.2" cy="258.9" r="4.0"/><circle cx="329.2" cy="253.5" r="4.0"/><circle cx="333.1" cy="248.6" r="4.0"/><circle cx="337.6" cy="244.4" r="4.0"/><circle cx="343.2" cy="242.1" r="4.0"/><circle cx="349.3" cy="241.2" r="4.0"/><circle cx="355.3" cy="243.1" r="4.0"/><circle cx="360.2" cy="247.0" r="4.0"/><circle cx="364.7" cy="251.6" r="4.0"/><circle cx="368.9" cy="256.3" r="4.0"/><circle cx="373.0" cy="261.4" r="4.0"/><circle cx="376.8" cy="266.1" r="4.0"/><circle cx="380.6" cy="270.9" r="4.0"/><circle cx="384.7" cy="275.3" r="4.0"/><circle cx="389.6" cy="279.5" r="4.0"/><circle cx="394.7" cy="283.5" r="4.0"/><circle cx="398.9" cy="288.0" r="4.0"/><circle cx="402.1" cy="293.6" r="4.0"/><circle cx="404.3" cy="299.6" r="4.0"/><circle cx="405.7" cy="306.1" r="4.0"/><circle cx="407.1" cy="312.4" r="4.0"/><circle cx="409.2" cy="309.8" r="4.0"/><circle cx="410.2" cy="303.1" r="4.0"/><circle cx="411.2" cy="296.2" r="4.0"/><circle cx="412.1" cy="289.1" r="4.0"/><circle cx="413.1" cy="282.2" r="4.0"/><circle cx="414.0" cy="276.1" r="4.0"/><circle cx="415.0" cy="269.3" r="4.0"/><circle cx="416.2" cy="263.3" r="4.0"/><circle cx="418.0" cy="257.5" r="4.0"/><circle cx="419.5" cy="251.5" r="4.0"/><circle cx="420.9" cy="245.5" r="4.0"/><circle cx="421.7" cy="241.8" r="4.0"/></g><path d="M327.0,247.0 L327.4,245.9 L327.8,244.9 L328.3,243.7 L328.8,242.4 L329.4,241.1 L329.9,239.7 L330.5,238.3 L331.1,237.0 L331.6,235.7 L332.2,234.6 L332.7,233.5 L333.2,232.4 L333.7,231.3 L334.3,230.3 L334.8,229.2 L335.4,228.2 L336.0,227.2 L336.6,226.1 L337.2,225.1 L337.9,224.0 L338.6,222.9 L339.3,221.8 L340.1,220.7 L340.8,219.6 L341.6,218.5 L342.4,217.4 L343.2,216.3 L343.9,215.3 L344.7,214.4 L345.5,213.6 L346.2,212.8 L347.0,212.0 L347.7,211.3 L348.5,210.7 L349.6,209.7 L350.8,208.8 L351.9,208.0 L353.0,207.1 L354.1,206.2 L355.2,205.3 L356.3,204.5 L357.4,203.7 L358.5,202.9 L359.8,202.3 L361.1,201.7 L362.1,201.3 L363.1,200.9 L364.2,200.6 L365.2,200.3 L366.3,200.0 L367.4,199.8 L368.4,199.6 L369.4,199.5 L370.9,199.4 L372.2,199.6 L373.6,199.9 L374.9,200.3 L376.2,200.7 L377.4,201.3 L378.7,201.9 L379.9,202.5 L381.0,203.1 L382.2,203.8 L383.3,204.6 L384.4,205.4 L385.5,206.3 L386.2,207.0 L387.0,207.7 L387.8,208.5 L388.5,209.3 L389.3,210.2 L390.0,211.0 L390.8,212.0 L391.5,212.9 L392.3,213.9 L393.0,215.0 L393.8,216.1 L394.6,217.2 L395.3,218.4 L396.1,219.6 L396.8,220.9 L397.6,222.2 L398.3,223.6 L399.1,225.0 L399.8,226.4 L400.6,227.8 L401.3,229.2 L402.1,230.5 L402.9,232.0 L403.6,233.5 L404.4,234.9 L405.1,236.5 L405.9,238.0 L406.6,239.4 L407.4,240.9 L408.1,242.3 L408.9,243.7 L409.7,245.1 L410.4,246.4 L411.2,247.7 L411.9,249.0 L412.7,250.3 L413.4,251.5 L414.2,252.7 L414.9,253.8 L415.7,254.9 L416.4,255.9 L417.2,256.7 L418.0,257.5 L418.7,258.2 L419.5,258.9 L420.6,259.8 L421.7,260.5 L422.9,261.1 L424.0,261.5 L425.1,261.7 L426.3,261.7 L427.4,261.5 L428.5,261.1 L429.7,260.8 L430.8,260.5 L431.9,260.3 L433.1,260.1 L434.2,260.0 L435.3,259.8 L436.5,259.7 L437.6,259.8 L438.7,260.0 L439.9,260.4 L441.0,261.0 L442.1,261.8 L443.2,262.7 L444.0,263.3 L444.8,264.1 L445.5,264.9 L446.3,265.9 L447.0,266.9 L447.8,268.0 L448.6,269.2 L449.3,270.5 L450.1,271.9 L450.9,273.4 L451.7,274.9 L452.4,276.5 L453.2,278.1 L453.9,279.8 L454.6,281.4 L455.2,283.2 L455.9,285.0 L456.2,286.0 L456.5,287.0 L456.8,288.0 L457.1,289.1 L457.4,290.1 L457.7,291.1 L458.0,292.1 L458.3,293.1 L458.5,294.1 L459.1,296.0 L459.5,297.7 L460.0,299.2 L460.4,300.6 L460.8,301.9 L461.2,303.0 L461.5,304.1 L461.8,305.1 L462.2,306.4 L462.7,307.5 L463.7,307.6 L464.2,306.7 L464.6,305.6 L465.0,304.1 L465.2,303.0 L465.5,301.9 L465.8,300.6 L466.0,299.3 L466.3,297.7 L466.6,296.0 L466.9,294.2 L467.3,292.3 L467.4,291.3 L467.6,290.3 L467.7,289.2 L467.9,288.2 L468.0,287.2 L468.2,286.2 L468.3,285.2 L468.6,283.3 L468.9,281.4 L469.2,279.6 L469.5,277.8 L469.7,276.0 L470.0,274.2 L470.2,272.4 L470.5,270.7 L470.8,269.0 L471.0,267.3 L471.3,265.7 L471.6,264.2 L471.9,262.8 L472.1,261.5 L472.5,260.3 L472.8,259.2 L473.1,258.0 L473.4,256.9 L473.7,255.8 L474.0,254.7 L474.3,253.6 L474.6,252.3 L474.9,251.1 L475.1,249.7 L475.4,248.4 L475.6,247.1 L475.9,245.7 L476.1,244.4 L476.4,243.0 L476.6,241.7 L476.9,240.4 L477.2,239.1 L477.6,237.8 L478.0,236.4 L478.4,235.1 L478.8,233.7 L479.3,232.3 L479.7,231.0 L480.1,229.9 L480.5,228.8 L480.9,227.5 L481.0,227.2" fill="none" stroke="#0000ff" stroke-width="1.1"/><g fill="none" stroke="#0000ff" stroke-width="1.4"><circle cx="327.0" cy="247.0" r="4.0"/><circle cx="329.4" cy="241.1" r="4.0"/><circle cx="331.9" cy="235.1" r="4.0"/><circle cx="334.8" cy="229.2" r="4.0"/><circle cx="337.9" cy="224.0" r="4.0"/><circle cx="341.2" cy="219.0" r="4.0"/><circle cx="345.1" cy="214.0" r="4.0"/><circle cx="349.6" cy="209.7" r="4.0"/><circle cx="354.5" cy="205.9" r="4.0"/><circle cx="359.8" cy="202.3" r="4.0"/><circle cx="365.8" cy="200.1" r="4.0"/><circle cx="371.8" cy="199.5" r="4.0"/><circle cx="377.8" cy="201.5" r="4.0"/><circle cx="383.3" cy="204.6" r="4.0"/><circle cx="388.1" cy="208.9" r="4.0"/><circle cx="392.3" cy="213.9" r="4.0"/><circle cx="395.7" cy="219.0" r="4.0"/><circle cx="398.7" cy="224.3" r="4.0"/><circle cx="401.7" cy="229.8" r="4.0"/><circle cx="404.7" cy="235.7" r="4.0"/><circle cx="407.8" cy="241.6" r="4.0"/><circle cx="410.8" cy="247.1" r="4.0"/><circle cx="414.2" cy="252.7" r="4.0"/><circle cx="418.0" cy="257.5" r="4.0"/><circle cx="422.9" cy="261.1" r="4.0"/><circle cx="428.9" cy="261.0" r="4.0"/><circle cx="434.9" cy="259.9" r="4.0"/><circle cx="441.0" cy="261.0" r="4.0"/><circle cx="445.5" cy="264.9" r="4.0"/><circle cx="449.0" cy="269.9" r="4.0"/><circle cx="452.1" cy="275.7" r="4.0"/><circle cx="454.6" cy="281.4" r="4.0"/><circle cx="456.8" cy="288.0" r="4.0"/><circle cx="458.5" cy="294.1" r="4.0"/><circle cx="460.2" cy="299.9" r="4.0"/><circle cx="462.1" cy="306.0" r="4.0"/><circle cx="464.8" cy="304.6" r="4.0"/><circle cx="466.2" cy="298.5" r="4.0"/><circle cx="467.3" cy="292.3" r="4.0"/><circle cx="468.2" cy="286.2" r="4.0"/><circle cx="469.2" cy="279.6" r="4.0"/><circle cx="470.1" cy="273.3" r="4.0"/><circle cx="471.0" cy="267.3" r="4.0"/><circle cx="472.3" cy="260.9" r="4.0"/><circle cx="474.0" cy="254.7" r="4.0"/><circle cx="475.4" cy="248.4" r="4.0"/><circle cx="476.5" cy="242.3" r="4.0"/><circle cx="478.0" cy="236.4" r="4.0"/><circle cx="479.9" cy="230.4" r="4.0"/><circle cx="481.0" cy="227.2" r="4.0"/></g><path d="M325.8,260.3 L326.2,258.1 L326.4,256.8 L326.6,255.3 L326.9,253.7 L327.1,252.0 L327.4,250.1 L327.7,248.2 L328.0,246.2 L328.3,244.2 L328.6,242.2 L328.9,240.1 L329.3,238.1 L329.6,236.1 L329.9,234.2 L330.3,232.3 L330.6,230.5 L330.9,228.8 L331.2,227.3 L331.5,225.9 L331.8,224.6 L332.1,223.4 L332.4,222.2 L332.7,221.1 L333.0,220.1 L333.3,219.1 L333.9,217.3 L334.5,215.5 L335.1,213.9 L335.8,212.3 L336.4,210.7 L337.0,209.1 L337.6,207.4 L338.1,205.6 L338.7,203.8 L339.2,201.9 L339.8,200.1 L340.3,198.4 L340.8,196.6 L341.4,194.9 L342.0,193.3 L342.6,191.7 L343.2,190.2 L343.9,188.8 L344.6,187.4 L345.3,186.1 L346.1,184.9 L346.9,183.7 L347.7,182.6 L348.4,181.5 L349.2,180.4 L350.0,179.3 L350.8,178.3 L351.5,177.2 L352.3,176.2 L353.0,175.2 L353.8,174.2 L354.5,173.3 L355.3,172.4 L356.0,171.5 L356.8,170.7 L357.6,169.8 L358.3,169.0 L359.1,168.2 L359.8,167.5 L360.6,166.8 L361.3,166.1 L362.5,165.1 L363.6,164.2 L364.7,163.3 L365.9,162.4 L367.0,161.5 L368.1,160.6 L369.3,159.8 L370.4,159.0 L371.5,158.2 L372.7,157.5 L373.8,156.9 L374.9,156.4 L376.1,155.9 L377.2,155.5 L378.3,155.1 L379.5,154.8 L380.6,154.5 L381.7,154.3 L382.8,154.1 L384.0,153.9 L385.1,153.8 L386.2,153.7 L387.4,153.7 L388.5,153.8 L389.6,153.9 L390.8,154.1 L391.9,154.4 L393.0,154.7 L394.2,155.1 L395.3,155.5 L396.4,155.9 L397.6,156.4 L398.7,156.9 L399.8,157.4 L401.0,158.0 L402.1,158.7 L403.2,159.5 L404.4,160.4 L405.1,161.1 L405.9,161.8 L406.6,162.6 L407.4,163.5 L408.1,164.3 L408.9,165.2 L409.7,166.0 L410.4,166.9 L411.2,167.7 L411.9,168.5 L412.7,169.2 L413.4,169.9 L414.2,170.7 L414.9,171.4 L415.7,172.2 L416.4,173.0 L417.2,173.8 L418.0,174.7 L418.7,175.6 L419.5,176.6 L420.2,177.7 L421.0,178.8 L421.7,180.0 L422.5,181.2 L423.2,182.4 L424.0,183.6 L424.8,184.9 L425.5,186.2 L426.3,187.5 L427.0,188.9 L427.8,190.3 L428.5,191.7 L429.3,193.2 L430.0,194.6 L430.8,196.1 L431.5,197.6 L432.3,199.1 L433.1,200.6 L433.8,202.1 L434.6,203.5 L435.3,205.0 L436.1,206.5 L436.8,208.0 L437.6,209.4 L438.3,210.9 L439.1,212.4 L439.9,213.8 L440.6,215.2 L441.4,216.6 L442.1,218.0 L442.9,219.4 L443.7,220.8 L444.5,222.1 L445.3,223.5 L446.0,224.8 L446.8,226.1 L447.5,227.4 L448.2,228.6 L448.9,229.8 L449.6,231.0 L450.2,232.2 L450.7,233.4 L451.3,234.6 L451.9,235.7 L452.4,236.8 L452.9,237.8 L453.5,238.8 L454.0,239.6 L454.9,240.8 L455.7,241.8 L456.6,242.6 L457.4,243.2 L458.5,243.9 L459.7,244.3 L460.8,244.4 L461.9,244.2 L463.0,243.7 L464.1,242.9 L464.9,242.4 L465.9,241.8 L466.9,241.1 L468.1,240.3 L469.3,239.4 L470.5,238.5 L471.7,237.7 L472.8,236.9 L473.8,236.3 L474.7,235.7 L475.6,235.1 L476.7,234.5 L477.7,234.0 L478.8,233.8 L479.9,233.9 L481.0,234.1 L482.1,234.6 L483.2,235.3 L484.1,236.0 L485.1,236.7 L486.2,237.6 L487.3,238.6 L488.0,239.3 L488.8,240.1 L489.6,240.9 L490.4,241.8 L491.2,242.8 L491.9,243.8 L492.7,245.0 L493.5,246.2 L494.2,247.5 L495.0,248.8 L495.7,250.3 L496.5,251.8 L497.2,253.3 L498.0,254.9 L498.7,256.5 L499.5,258.1 L500.3,259.8 L501.0,261.5 L501.8,263.4 L502.2,264.3 L502.6,265.3 L503.0,266.3 L503.4,267.2 L503.8,268.2 L504.2,269.2 L504.6,270.1 L505.0,271.1 L505.4,272.1 L505.7,273.0 L506.5,274.9 L507.1,276.6 L507.7,278.3 L508.3,279.9 L508.8,281.5 L509.3,283.1 L509.8,284.6 L510.2,286.0 L510.6,287.5 L511.0,288.8 L511.4,290.1 L511.8,291.4 L512.1,292.6 L512.5,293.8 L512.8,295.1 L513.1,296.3 L513.4,297.4 L513.7,298.5 L514.1,299.8 L514.5,300.8 L515.4,301.2 L516.0,300.4 L516.5,299.4 L517.0,298.1 L517.4,296.6 L517.7,295.7 L518.0,294.7 L518.3,293.6 L518.5,292.5 L518.8,291.3 L519.1,290.1 L519.3,288.8 L519.6,287.4 L519.9,286.0 L520.1,284.5 L520.4,283.0 L520.6,281.4 L520.9,279.8 L521.2,278.0 L521.4,276.2 L521.7,274.3 L522.0,272.3 L522.3,270.4 L522.5,268.4 L522.8,266.5 L523.0,264.7 L523.3,262.9 L523.5,261.2 L523.8,259.7 L524.0,258.1 L524.2,256.6 L524.5,255.1 L524.7,253.6 L524.9,252.1 L525.1,250.5 L525.3,248.8 L525.5,247.0 L525.7,245.1 L525.8,244.1 L525.9,243.0 L526.0,242.0 L526.0,240.9 L526.1,239.8 L526.1,238.6 L526.2,237.5 L526.3,236.4 L526.3,235.2 L526.4,234.1 L526.5,233.0 L526.6,231.9 L526.7,230.8 L526.8,229.8 L526.9,228.7 L527.1,227.8 L527.4,225.9 L527.9,224.1 L528.4,222.3 L529.0,220.6 L529.7,218.9 L530.4,217.3 L531.1,215.8 L531.7,214.4 L532.3,213.2 L532.7,212.2 L533.1,211.3" fill="none" stroke="#0000ff" stroke-width="1.1"/><g fill="none" stroke="#0000ff" stroke-width="1.4"><circle cx="325.8" cy="260.3" r="4.0"/><circle cx="326.9" cy="253.7" r="4.0"/><circle cx="328.0" cy="246.2" r="4.0"/><circle cx="328.9" cy="240.1" r="4.0"/><circle cx="329.9" cy="234.2" r="4.0"/><circle cx="331.2" cy="227.3" r="4.0"/><circle cx="332.7" cy="221.1" r="4.0"/><circle cx="334.8" cy="214.7" r="4.0"/><circle cx="337.0" cy="209.1" r="4.0"/><circle cx="338.9" cy="202.8" r="4.0"/><circle cx="340.8" cy="196.6" r="4.0"/><circle cx="342.9" cy="190.9" r="4.0"/><circle cx="345.7" cy="185.5" r="4.0"/><circle cx="349.2" cy="180.4" r="4.0"/><circle cx="353.0" cy="175.2" r="4.0"/><circle cx="357.2" cy="170.2" r="4.0"/><circle cx="361.7" cy="165.8" r="4.0"/><circle cx="366.6" cy="161.8" r="4.0"/><circle cx="371.5" cy="158.2" r="4.0"/><circle cx="377.2" cy="155.5" r="4.0"/><circle cx="383.2" cy="154.0" r="4.0"/><circle cx="389.3" cy="153.9" r="4.0"/><circle cx="395.3" cy="155.5" r="4.0"/><circle cx="401.0" cy="158.0" r="4.0"/><circle cx="405.9" cy="161.8" r="4.0"/><circle cx="410.0" cy="166.5" r="4.0"/><circle cx="414.6" cy="171.0" r="4.0"/><circle cx="418.7" cy="175.6" r="4.0"/><circle cx="422.5" cy="181.2" r="4.0"/><circle cx="425.9" cy="186.9" r="4.0"/><circle cx="428.9" cy="192.4" r="4.0"/><circle cx="431.9" cy="198.4" r="4.0"/><circle cx="434.9" cy="204.3" r="4.0"/><circle cx="438.0" cy="210.2" r="4.0"/><circle cx="441.0" cy="215.9" r="4.0"/><circle cx="444.1" cy="221.5" r="4.0"/><circle cx="447.2" cy="226.8" r="4.0"/><circle cx="450.2" cy="232.2" r="4.0"/><circle cx="452.9" cy="237.8" r="4.0"/><circle cx="456.6" cy="242.6" r="4.0"/><circle cx="462.1" cy="244.1" r="4.0"/><circle cx="467.3" cy="240.8" r="4.0"/><circle cx="472.4" cy="237.1" r="4.0"/><circle cx="477.7" cy="234.0" r="4.0"/><circle cx="483.5" cy="235.5" r="4.0"/><circle cx="488.4" cy="239.7" r="4.0"/><circle cx="492.3" cy="244.4" r="4.0"/><circle cx="495.7" cy="250.3" r="4.0"/><circle cx="498.4" cy="255.7" r="4.0"/><circle cx="501.0" cy="261.5" r="4.0"/><circle cx="503.4" cy="267.2" r="4.0"/><circle cx="505.7" cy="273.0" r="4.0"/><circle cx="508.0" cy="279.1" r="4.0"/><circle cx="510.0" cy="285.3" r="4.0"/><circle cx="511.8" cy="291.4" r="4.0"/><circle cx="513.4" cy="297.4" r="4.0"/><circle cx="516.2" cy="300.1" r="4.0"/><circle cx="518.1" cy="294.1" r="4.0"/><circle cx="519.5" cy="288.1" r="4.0"/><circle cx="520.6" cy="281.4" r="4.0"/><circle cx="521.6" cy="275.2" r="4.0"/><circle cx="522.5" cy="268.4" r="4.0"/><circle cx="523.4" cy="262.1" r="4.0"/><circle cx="524.3" cy="255.9" r="4.0"/><circle cx="525.2" cy="249.7" r="4.0"/><circle cx="525.9" cy="243.0" r="4.0"/><circle cx="526.3" cy="236.4" r="4.0"/><circle cx="526.8" cy="229.8" r="4.0"/><circle cx="528.1" cy="223.2" r="4.0"/><circle cx="530.4" cy="217.3" r="4.0"/><circle cx="532.9" cy="211.7" r="4.0"/><circle cx="533.1" cy="211.3" r="4.0"/></g></g>
<text transform="translate(238.12,108.36) scale(0.9911,1)" font-family="&quot;Liberation Sans&quot;, Arial, sans-serif" font-weight="normal" font-size="35.39" fill="#000" >SC - 25% Porosity</text>
<text transform="translate(243.43,439.52) scale(0.9454,1)" font-family="&quot;Liberation Sans&quot;, Arial, sans-serif" font-weight="normal" font-size="37.00" fill="#000" >SC - 35% Porosity</text>
<text transform="translate(236.62,749.53) scale(0.9382,1)" font-family="&quot;Liberation Sans&quot;, Arial, sans-serif" font-weight="normal" font-size="37.41" fill="#000" >SC - Uncalendered</text>
<text transform="translate(928.30,135.91) scale(0.9866,1)" font-family="&quot;Liberation Sans&quot;, Arial, sans-serif" font-weight="normal" font-size="35.60" fill="#000" >PC - 25% Porosity</text>
<text transform="translate(933.00,439.17) scale(1.0075,1)" font-family="&quot;Liberation Sans&quot;, Arial, sans-serif" font-weight="normal" font-size="34.85" fill="#000" >PC - 35% Porosity</text>
<text transform="translate(925.49,744.54) scale(0.9871,1)" font-family="&quot;Liberation Sans&quot;, Arial, sans-serif" font-weight="normal" font-size="35.78" fill="#000" >PC - Uncalendered</text>
<text transform="translate(853.21,811.99) scale(1.1242,1)" font-family="&quot;Liberation Sans&quot;, Arial, sans-serif" font-weight="normal" font-size="28.95" fill="#000" >Before cycling</text>
<text transform="translate(939.62,851.86) scale(1.0913,1)" font-family="&quot;Liberation Sans&quot;, Arial, sans-serif" font-weight="normal" font-size="29.60" fill="#000" >After 100 cycles</text>
<text transform="translate(1158.90,886.79) scale(1.0232,1)" font-family="&quot;Liberation Sans&quot;, Arial, sans-serif" font-weight="normal" font-size="31.24" fill="#000" >200</text>
<text transform="translate(1249.30,886.79) scale(1.0252,1)" font-family="&quot;Liberation Sans&quot;, Arial, sans-serif" font-weight="normal" font-size="31.24" fill="#000" >300</text>
<line x1="969.30" y1="955.00" x2="912.17" y2="839.65" stroke="#000" stroke-width="1.5" />
<path d="M906.4,828.0 L918.0,839.0 L911.7,838.8 L908.1,843.9 Z" fill="#000"/>
<line x1="1132.10" y1="962.40" x2="1099.29" y2="890.33" stroke="#000" stroke-width="1.5" />
<path d="M1093.9,878.5 L1105.1,889.9 L1098.9,889.4 L1095.1,894.4 Z" fill="#000"/>
<line x1="1183.10" y1="964.80" x2="1183.10" y2="910.00" stroke="#000" stroke-width="1.5" />
<path d="M1183.1,897.0 L1188.6,912.0 L1183.1,909.0 L1177.6,912.0 Z" fill="#000"/>
<line x1="1268.20" y1="971.00" x2="1268.20" y2="910.00" stroke="#000" stroke-width="1.5" />
<path d="M1268.2,897.0 L1273.7,912.0 L1268.2,909.0 L1262.7,912.0 Z" fill="#000"/>
<line x1="197.20" y1="318.50" x2="266.47" y2="260.87" stroke="#000" stroke-width="1.3" />
<path d="M275.7,253.2 L268.5,266.4 L267.2,260.2 L261.4,257.9 Z" fill="#000"/>
<text transform="translate(-1.83,45.85) scale(0.9210,1)" font-family="&quot;Liberation Sans&quot;, Arial, sans-serif" font-weight="normal" font-size="59.52" fill="#000" >(a)</text>
<text transform="translate(668.86,46.44) scale(0.9847,1)" font-family="&quot;Liberation Sans&quot;, Arial, sans-serif" font-weight="normal" font-size="59.09" fill="#000" >(b)</text>
<text transform="translate(1355.38,46.44) scale(0.9529,1)" font-family="&quot;Liberation Sans&quot;, Arial, sans-serif" font-weight="normal" font-size="59.09" fill="#000" >(c)</text>
<text transform="translate(337.99,1111.90) scale(0.9582,1)" font-family="&quot;Liberation Sans&quot;, Arial, sans-serif" font-weight="normal" font-size="54.84" fill="#000" >Z'</text>
<text transform="translate(393.19,1110.57) scale(0.9238,1)" font-family="&quot;Liberation Serif&quot;, &quot;Times New Roman&quot;, serif" font-weight="normal" font-size="53.77" fill="#000" >(Ω)</text>
<text transform="translate(1022.32,1091.10) scale(0.9282,1)" font-family="&quot;Liberation Sans&quot;, Arial, sans-serif" font-weight="normal" font-size="55.71" fill="#000" >Z'</text>
<text transform="translate(1077.20,1090.31) scale(0.9066,1)" font-family="&quot;Liberation Serif&quot;, &quot;Times New Roman&quot;, serif" font-weight="normal" font-size="54.55" fill="#000" >(Ω)</text>
<text transform="translate(48.90,542.28) rotate(-90) scale(0.9890,1)" font-family="&quot;Liberation Sans&quot;, Arial, sans-serif" font-weight="normal" font-size="51.20" fill="#000">-Z&quot;</text>
<text transform="translate(48.69,458.27) rotate(-90) scale(0.9855,1)" font-family="&quot;Liberation Serif&quot;, &quot;Times New Roman&quot;, serif" font-weight="normal" font-size="51.79" fill="#000">(Ω)</text>
<text transform="translate(740.20,542.28) rotate(-90) scale(0.9890,1)" font-family="&quot;Liberation Sans&quot;, Arial, sans-serif" font-weight="normal" font-size="51.20" fill="#000">-Z&quot;</text>
<text transform="translate(739.99,458.27) rotate(-90) scale(0.9855,1)" font-family="&quot;Liberation Serif&quot;, &quot;Times New Roman&quot;, serif" font-weight="normal" font-size="51.79" fill="#000">(Ω)</text>
</svg>
</body></html>
